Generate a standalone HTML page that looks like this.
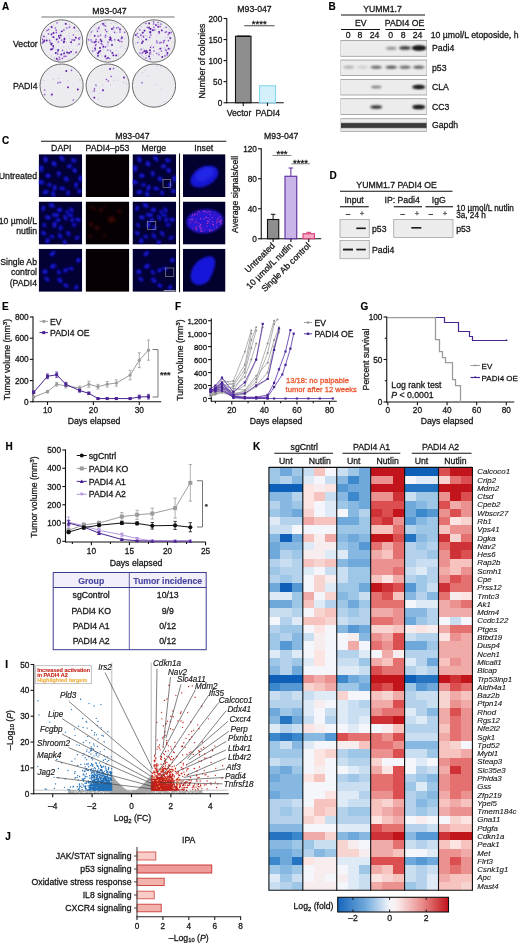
<!DOCTYPE html><html><head><meta charset="utf-8"><title>Figure</title><style>html,body{margin:0;padding:0;background:#fff}svg{display:block}text{font-family:"Liberation Sans",sans-serif}</style></head><body><svg width="520" height="943" viewBox="0 0 520 943"><rect width="520" height="943" fill="#fff"/><defs><filter id="b1" x="-30%" y="-100%" width="160%" height="300%"><feGaussianBlur stdDeviation="0.9"/></filter><filter id="b2" x="-30%" y="-100%" width="160%" height="300%"><feGaussianBlur stdDeviation="0.6"/></filter><filter id="bn" x="-50%" y="-50%" width="200%" height="200%"><feGaussianBlur stdDeviation="0.8"/></filter><filter id="bi" x="-50%" y="-50%" width="200%" height="200%"><feGaussianBlur stdDeviation="1.6"/></filter><filter id="b3" x="-20%" y="-100%" width="140%" height="300%"><feGaussianBlur stdDeviation="0.4"/></filter></defs>
<text x="2.00" y="9.60" font-size="10" font-weight="bold" fill="#000" stroke="#000" stroke-width="0.15">A</text>
<text x="109.50" y="14.00" font-size="8.7" text-anchor="middle" fill="#161616" stroke="#161616" stroke-width="0.28">M93-047</text>
<line x1="41.50" y1="17.00" x2="174.50" y2="17.00" stroke="#777" stroke-width="1.2"/>
<text x="13.00" y="47.30" font-size="8.7" fill="#161616" stroke="#161616" stroke-width="0.28">Vector</text>
<text x="13.00" y="88.80" font-size="8.7" fill="#161616" stroke="#161616" stroke-width="0.28">PADI4</text>
<circle cx="61.60" cy="41.00" r="21.20" fill="#ebebf0" stroke="#6a6a6a" stroke-width="1.0"/>
<path d="M73.5,54.3h.01M59.9,31.9h.01M69.2,28.7h.01M69.2,58.8h.01M69.7,48.7h.01M46.1,31.5h.01M68.3,53.7h.01M77.3,45.4h.01M42.4,40.7h.01M63.0,40.6h.01M69.4,24.5h.01M57.5,43.1h.01M46.7,37.3h.01M68.1,54.3h.01M66.8,24.5h.01M61.0,58.8h.01M65.4,55.6h.01M60.1,33.4h.01M51.8,36.0h.01M71.5,44.8h.01M69.2,33.4h.01M54.6,58.5h.01M64.3,38.4h.01M74.5,26.9h.01M63.8,46.9h.01M65.0,51.6h.01M53.5,25.2h.01M51.5,56.1h.01M69.2,36.2h.01M56.0,49.8h.01M46.6,29.5h.01M66.7,42.3h.01M66.3,49.3h.01M77.9,31.1h.01M68.5,46.8h.01M75.8,39.2h.01M52.6,28.3h.01M54.3,57.3h.01M54.7,33.1h.01M69.3,38.5h.01M72.5,49.7h.01M75.9,31.1h.01M70.6,26.9h.01" fill="none" stroke="#c3a6e0" stroke-width="1.0" stroke-linecap="round"/>
<path d="M61.2,54.6h.01M79.1,44.1h.01M61.7,40.1h.01M43.4,36.2h.01M63.9,53.6h.01M62.6,50.3h.01M57.1,22.8h.01M69.3,27.1h.01M62.4,58.3h.01M56.2,30.4h.01M44.5,40.1h.01M44.2,36.6h.01M42.7,39.4h.01M51.9,43.6h.01M66.7,28.0h.01M53.8,37.3h.01M50.1,42.1h.01M58.5,41.8h.01M59.3,57.2h.01M75.9,52.6h.01M55.4,28.1h.01M78.7,38.4h.01M64.2,56.4h.01M49.7,40.3h.01M66.0,56.3h.01M57.7,54.1h.01M63.9,29.9h.01M42.4,42.9h.01M47.2,30.5h.01M65.8,23.8h.01M48.7,29.6h.01M59.7,59.2h.01M73.3,35.0h.01M64.5,38.4h.01M76.4,52.1h.01M79.8,37.6h.01M72.1,39.8h.01M56.4,32.6h.01M57.9,59.9h.01M53.3,47.8h.01M57.9,51.6h.01M48.4,33.9h.01M79.1,39.3h.01M64.5,39.2h.01M51.6,27.0h.01M64.4,39.0h.01M64.2,53.3h.01M51.5,43.6h.01M46.7,40.5h.01M51.0,49.4h.01M51.5,34.3h.01M63.8,42.3h.01M61.9,31.3h.01M53.5,33.0h.01M69.2,52.9h.01M55.8,53.0h.01M52.1,49.2h.01M64.2,41.3h.01M53.2,45.9h.01M75.8,37.6h.01M74.3,27.7h.01M60.7,35.4h.01M71.1,51.8h.01M53.3,37.1h.01M65.7,23.8h.01M58.8,35.8h.01M74.2,40.1h.01M61.3,54.4h.01M59.4,37.8h.01M51.3,44.4h.01M58.2,50.0h.01M71.1,42.2h.01M56.7,39.4h.01M43.6,41.8h.01M44.3,40.8h.01M56.7,58.7h.01M67.2,52.5h.01" fill="none" stroke="#b88fe0" stroke-width="2.2" stroke-linecap="round" opacity="0.55"/>
<path d="M61.2,54.6h.01M79.1,44.1h.01M61.7,40.1h.01M43.4,36.2h.01M63.9,53.6h.01M62.6,50.3h.01M57.1,22.8h.01M69.3,27.1h.01M62.4,58.3h.01M56.2,30.4h.01M44.5,40.1h.01M44.2,36.6h.01M42.7,39.4h.01M51.9,43.6h.01M66.7,28.0h.01M53.8,37.3h.01M50.1,42.1h.01M58.5,41.8h.01M59.3,57.2h.01M75.9,52.6h.01M55.4,28.1h.01M78.7,38.4h.01M64.2,56.4h.01M49.7,40.3h.01M66.0,56.3h.01M57.7,54.1h.01M63.9,29.9h.01M42.4,42.9h.01M47.2,30.5h.01M65.8,23.8h.01M48.7,29.6h.01M59.7,59.2h.01M73.3,35.0h.01M64.5,38.4h.01M76.4,52.1h.01M79.8,37.6h.01M72.1,39.8h.01M56.4,32.6h.01M57.9,59.9h.01M53.3,47.8h.01M57.9,51.6h.01M48.4,33.9h.01M79.1,39.3h.01M64.5,39.2h.01" fill="none" stroke="#7a35c0" stroke-width="1.15" stroke-linecap="round"/>
<path d="M51.6,27.0h.01M64.4,39.0h.01M64.2,53.3h.01M51.5,43.6h.01M46.7,40.5h.01M51.0,49.4h.01M51.5,34.3h.01M63.8,42.3h.01M61.9,31.3h.01M53.5,33.0h.01M69.2,52.9h.01M55.8,53.0h.01M52.1,49.2h.01M64.2,41.3h.01M53.2,45.9h.01M75.8,37.6h.01M74.3,27.7h.01M60.7,35.4h.01M71.1,51.8h.01M53.3,37.1h.01M65.7,23.8h.01M58.8,35.8h.01M74.2,40.1h.01M61.3,54.4h.01M59.4,37.8h.01M51.3,44.4h.01M58.2,50.0h.01M71.1,42.2h.01M56.7,39.4h.01M43.6,41.8h.01M44.3,40.8h.01M56.7,58.7h.01M67.2,52.5h.01" fill="none" stroke="#5c1fa8" stroke-width="1.8" stroke-linecap="round"/>
<circle cx="107.70" cy="41.00" r="21.20" fill="#ebebf0" stroke="#6a6a6a" stroke-width="1.0"/>
<path d="M125.2,48.5h.01M94.1,36.7h.01M107.5,44.0h.01M100.1,30.7h.01M90.5,34.2h.01M120.2,47.0h.01M116.8,55.3h.01M101.6,55.9h.01M96.5,52.7h.01M92.8,30.9h.01M107.9,36.6h.01M125.0,38.9h.01M105.7,59.4h.01M118.7,54.1h.01M104.6,47.1h.01M114.2,39.3h.01M97.2,30.2h.01M100.7,25.2h.01M110.1,34.8h.01M89.4,35.7h.01M93.8,51.1h.01M92.8,30.5h.01M114.0,30.3h.01M105.8,22.7h.01M91.0,41.8h.01M97.1,29.8h.01M111.3,23.5h.01M106.2,57.3h.01M100.4,38.9h.01M88.8,40.2h.01M94.6,50.3h.01M110.0,49.5h.01M107.1,46.3h.01M107.0,33.1h.01M115.8,56.2h.01M103.3,49.0h.01M92.3,48.0h.01M120.4,38.8h.01M105.2,29.6h.01M108.7,57.4h.01M121.8,46.1h.01M108.5,44.5h.01M115.3,23.5h.01M99.9,36.7h.01M100.5,54.1h.01M111.9,40.9h.01M116.7,50.6h.01M96.8,28.3h.01M94.7,27.0h.01M107.9,45.8h.01M98.0,34.8h.01M116.9,32.4h.01M103.9,24.7h.01M107.8,31.3h.01M118.5,56.1h.01" fill="none" stroke="#c3a6e0" stroke-width="1.0" stroke-linecap="round"/>
<path d="M104.2,25.5h.01M96.0,44.5h.01M106.7,58.6h.01M95.4,49.8h.01M121.8,41.7h.01M106.6,31.6h.01M98.6,42.2h.01M107.7,50.0h.01M105.4,29.8h.01M99.0,27.3h.01M124.7,32.2h.01M102.1,44.6h.01M110.5,51.0h.01M105.5,55.7h.01M121.8,38.6h.01M118.2,27.6h.01M114.8,39.8h.01M98.0,36.2h.01M95.5,45.6h.01M92.1,41.8h.01M108.0,42.2h.01M88.5,39.7h.01M97.4,31.3h.01M119.8,41.3h.01M92.8,51.1h.01M98.6,28.6h.01M113.7,27.2h.01M91.0,39.9h.01M96.1,39.3h.01M103.7,23.9h.01M100.5,35.1h.01M120.0,32.0h.01M105.6,26.0h.01M105.5,46.9h.01M105.6,35.4h.01M109.7,58.5h.01M114.6,32.4h.01M91.4,32.0h.01M105.3,37.0h.01M109.9,37.6h.01M116.6,28.0h.01M112.8,28.7h.01M111.6,40.6h.01M101.2,43.4h.01M95.0,48.3h.01M103.3,46.7h.01M105.2,56.4h.01M121.9,37.4h.01M116.2,55.3h.01M111.9,28.9h.01M107.9,57.8h.01M112.4,52.9h.01M100.0,47.9h.01M98.9,52.0h.01M118.4,40.2h.01M94.5,42.3h.01M98.0,53.4h.01M102.9,23.8h.01M113.4,55.3h.01M100.6,39.8h.01M101.6,41.3h.01M98.0,55.8h.01M95.8,41.4h.01M120.0,29.4h.01M109.7,39.8h.01M110.7,39.0h.01M112.0,44.9h.01M94.7,35.8h.01M100.2,50.9h.01M110.4,37.4h.01" fill="none" stroke="#b88fe0" stroke-width="2.2" stroke-linecap="round" opacity="0.55"/>
<path d="M104.2,25.5h.01M96.0,44.5h.01M106.7,58.6h.01M95.4,49.8h.01M121.8,41.7h.01M106.6,31.6h.01M98.6,42.2h.01M107.7,50.0h.01M105.4,29.8h.01M99.0,27.3h.01M124.7,32.2h.01M102.1,44.6h.01M110.5,51.0h.01M105.5,55.7h.01M121.8,38.6h.01M118.2,27.6h.01M114.8,39.8h.01M98.0,36.2h.01M95.5,45.6h.01M92.1,41.8h.01M108.0,42.2h.01M88.5,39.7h.01M97.4,31.3h.01M119.8,41.3h.01M92.8,51.1h.01M98.6,28.6h.01M113.7,27.2h.01M91.0,39.9h.01M96.1,39.3h.01M103.7,23.9h.01M100.5,35.1h.01M120.0,32.0h.01M105.6,26.0h.01M105.5,46.9h.01M105.6,35.4h.01M109.7,58.5h.01M114.6,32.4h.01M91.4,32.0h.01M105.3,37.0h.01M109.9,37.6h.01M116.6,28.0h.01M112.8,28.7h.01M111.6,40.6h.01M101.2,43.4h.01" fill="none" stroke="#7a35c0" stroke-width="1.15" stroke-linecap="round"/>
<path d="M95.0,48.3h.01M103.3,46.7h.01M105.2,56.4h.01M121.9,37.4h.01M116.2,55.3h.01M111.9,28.9h.01M107.9,57.8h.01M112.4,52.9h.01M100.0,47.9h.01M98.9,52.0h.01M118.4,40.2h.01M94.5,42.3h.01M98.0,53.4h.01M102.9,23.8h.01M113.4,55.3h.01M100.6,39.8h.01M101.6,41.3h.01M98.0,55.8h.01M95.8,41.4h.01M120.0,29.4h.01M109.7,39.8h.01M110.7,39.0h.01M112.0,44.9h.01M94.7,35.8h.01M100.2,50.9h.01M110.4,37.4h.01" fill="none" stroke="#5c1fa8" stroke-width="1.8" stroke-linecap="round"/>
<circle cx="154.00" cy="41.00" r="21.20" fill="#ebebf0" stroke="#6a6a6a" stroke-width="1.0"/>
<path d="M148.2,40.1h.01M158.8,24.3h.01M170.4,39.8h.01M149.7,27.5h.01M151.6,45.5h.01M135.6,43.4h.01M171.2,37.7h.01M139.4,38.8h.01M157.4,25.1h.01M141.9,55.4h.01M143.2,48.6h.01M148.4,27.6h.01M159.0,52.4h.01M170.1,48.9h.01M141.9,54.2h.01M147.5,28.2h.01M158.9,25.2h.01M141.7,42.0h.01M161.8,48.3h.01M137.1,36.4h.01M141.4,26.4h.01M170.9,33.9h.01M169.0,29.9h.01M144.2,49.8h.01M158.7,49.7h.01M145.2,35.5h.01M153.3,54.9h.01M149.4,29.1h.01M165.7,37.4h.01M156.9,36.0h.01M143.2,56.5h.01M151.6,54.2h.01M164.8,27.6h.01M164.3,47.3h.01M150.2,54.3h.01M141.6,39.4h.01M173.3,42.0h.01M141.5,37.8h.01M167.7,37.5h.01M147.5,35.9h.01M146.6,55.3h.01M159.1,26.3h.01" fill="none" stroke="#c3a6e0" stroke-width="1.0" stroke-linecap="round"/>
<path d="M157.1,42.8h.01M149.8,52.9h.01M143.6,37.1h.01M158.0,22.5h.01M166.4,50.6h.01M160.2,26.6h.01M150.6,52.0h.01M153.9,27.3h.01M165.0,55.9h.01M159.8,42.9h.01M153.4,47.3h.01M150.1,58.9h.01M166.2,27.3h.01M163.8,40.9h.01M153.7,24.0h.01M153.6,21.9h.01M141.0,34.7h.01M141.1,49.4h.01M149.6,54.1h.01M143.2,36.3h.01M142.3,53.1h.01M137.7,42.5h.01M167.1,54.9h.01M163.6,42.6h.01M168.4,40.6h.01M165.5,49.7h.01M150.8,35.1h.01M140.0,53.1h.01M164.4,40.5h.01M165.3,32.2h.01M154.7,29.8h.01M171.1,32.4h.01M159.1,33.2h.01M158.9,54.7h.01M161.4,51.0h.01M150.6,31.6h.01M145.0,50.8h.01M161.0,24.1h.01M138.2,37.1h.01M137.4,33.5h.01M156.7,41.1h.01M149.8,37.3h.01M145.9,23.5h.01M150.5,47.4h.01M161.1,42.4h.01M168.2,34.7h.01M149.7,31.8h.01M145.8,58.0h.01M139.8,29.8h.01M147.4,27.2h.01M140.9,35.4h.01M166.4,31.8h.01M156.8,53.5h.01M154.0,51.1h.01M143.0,52.2h.01M149.2,23.4h.01M152.8,30.2h.01M159.1,31.9h.01M144.4,51.2h.01M145.7,53.1h.01M169.3,32.9h.01M146.2,39.4h.01M144.5,30.6h.01M162.3,57.0h.01M158.2,26.8h.01M161.8,30.4h.01M149.1,56.4h.01M135.8,35.1h.01M147.2,52.2h.01M146.4,50.9h.01M170.2,38.1h.01M167.4,53.0h.01M150.6,29.0h.01M149.1,27.7h.01M142.9,41.4h.01M160.3,48.6h.01M150.3,32.5h.01M142.8,32.7h.01M156.0,25.1h.01M168.6,48.7h.01M149.9,50.2h.01M167.0,45.6h.01M141.9,43.1h.01" fill="none" stroke="#b88fe0" stroke-width="2.2" stroke-linecap="round" opacity="0.55"/>
<path d="M157.1,42.8h.01M149.8,52.9h.01M143.6,37.1h.01M158.0,22.5h.01M166.4,50.6h.01M160.2,26.6h.01M150.6,52.0h.01M153.9,27.3h.01M165.0,55.9h.01M159.8,42.9h.01M153.4,47.3h.01M150.1,58.9h.01M166.2,27.3h.01M163.8,40.9h.01M153.7,24.0h.01M153.6,21.9h.01M141.0,34.7h.01M141.1,49.4h.01M149.6,54.1h.01M143.2,36.3h.01M142.3,53.1h.01M137.7,42.5h.01M167.1,54.9h.01M163.6,42.6h.01M168.4,40.6h.01M165.5,49.7h.01M150.8,35.1h.01M140.0,53.1h.01M164.4,40.5h.01M165.3,32.2h.01M154.7,29.8h.01M171.1,32.4h.01M159.1,33.2h.01M158.9,54.7h.01M161.4,51.0h.01M150.6,31.6h.01M145.0,50.8h.01M161.0,24.1h.01M138.2,37.1h.01M137.4,33.5h.01M156.7,41.1h.01M149.8,37.3h.01M145.9,23.5h.01M150.5,47.4h.01M161.1,42.4h.01M168.2,34.7h.01M149.7,31.8h.01M145.8,58.0h.01M139.8,29.8h.01M147.4,27.2h.01M140.9,35.4h.01M166.4,31.8h.01M156.8,53.5h.01M154.0,51.1h.01M143.0,52.2h.01" fill="none" stroke="#7a35c0" stroke-width="1.15" stroke-linecap="round"/>
<path d="M149.2,23.4h.01M152.8,30.2h.01M159.1,31.9h.01M144.4,51.2h.01M145.7,53.1h.01M169.3,32.9h.01M146.2,39.4h.01M144.5,30.6h.01M162.3,57.0h.01M158.2,26.8h.01M161.8,30.4h.01M149.1,56.4h.01M135.8,35.1h.01M147.2,52.2h.01M146.4,50.9h.01M170.2,38.1h.01M167.4,53.0h.01M150.6,29.0h.01M149.1,27.7h.01M142.9,41.4h.01M160.3,48.6h.01M150.3,32.5h.01M142.8,32.7h.01M156.0,25.1h.01M168.6,48.7h.01M149.9,50.2h.01M167.0,45.6h.01M141.9,43.1h.01" fill="none" stroke="#5c1fa8" stroke-width="1.8" stroke-linecap="round"/>
<circle cx="61.60" cy="85.60" r="21.60" fill="#ebebf0" stroke="#6a6a6a" stroke-width="1.0"/>
<path d="M44.1,80.6h.01M58.4,78.5h.01M67.7,80.5h.01M53.3,79.5h.01M79.7,80.0h.01M50.8,95.8h.01" fill="none" stroke="#c3a6e0" stroke-width="1.0" stroke-linecap="round"/>
<path d="M60.2,82.4h.01M73.3,100.0h.01M71.5,70.3h.01M44.7,90.0h.01M44.7,94.6h.01M58.0,82.8h.01M51.9,94.5h.01M66.3,71.0h.01M77.8,89.5h.01M68.0,87.3h.01" fill="none" stroke="#b88fe0" stroke-width="2.2" stroke-linecap="round" opacity="0.55"/>
<path d="M60.2,82.4h.01M73.3,100.0h.01M71.5,70.3h.01M44.7,90.0h.01M44.7,94.6h.01M58.0,82.8h.01" fill="none" stroke="#7a35c0" stroke-width="1.15" stroke-linecap="round"/>
<path d="M51.9,94.5h.01M66.3,71.0h.01M77.8,89.5h.01M68.0,87.3h.01" fill="none" stroke="#5c1fa8" stroke-width="1.8" stroke-linecap="round"/>
<circle cx="107.70" cy="85.60" r="21.60" fill="#ebebf0" stroke="#6a6a6a" stroke-width="1.0"/>
<path d="M126.5,83.7h.01M102.8,91.7h.01M117.3,80.0h.01M98.6,98.8h.01M100.0,93.1h.01M92.3,91.6h.01M103.0,85.0h.01M114.1,80.4h.01M96.2,86.5h.01M110.6,85.1h.01M123.5,82.6h.01" fill="none" stroke="#c3a6e0" stroke-width="1.0" stroke-linecap="round"/>
<path d="M95.9,85.0h.01M113.5,68.6h.01M111.2,76.5h.01M108.3,81.0h.01M106.4,79.5h.01M94.5,88.9h.01M94.1,90.9h.01M94.3,97.7h.01M110.1,68.9h.01M124.0,77.5h.01M103.0,90.2h.01" fill="none" stroke="#b88fe0" stroke-width="2.2" stroke-linecap="round" opacity="0.55"/>
<path d="M95.9,85.0h.01M113.5,68.6h.01M111.2,76.5h.01M108.3,81.0h.01M106.4,79.5h.01M94.5,88.9h.01M94.1,90.9h.01" fill="none" stroke="#7a35c0" stroke-width="1.15" stroke-linecap="round"/>
<path d="M94.3,97.7h.01M110.1,68.9h.01M124.0,77.5h.01M103.0,90.2h.01" fill="none" stroke="#5c1fa8" stroke-width="1.8" stroke-linecap="round"/>
<circle cx="154.00" cy="85.60" r="21.60" fill="#ebebf0" stroke="#6a6a6a" stroke-width="1.0"/>
<path d="M161.6,89.4h.01M145.2,70.3h.01M164.9,101.8h.01M156.6,84.7h.01M142.7,72.9h.01M160.5,67.1h.01M147.9,75.7h.01M157.0,66.7h.01" fill="none" stroke="#c3a6e0" stroke-width="1.0" stroke-linecap="round"/>
<path d="M142.0,82.7h.01" fill="none" stroke="#b88fe0" stroke-width="2.2" stroke-linecap="round" opacity="0.55"/>
<path d="M142.0,82.7h.01" fill="none" stroke="#7a35c0" stroke-width="1.15" stroke-linecap="round"/>
<path d="" fill="none" stroke="#5c1fa8" stroke-width="1.8" stroke-linecap="round"/>
<text x="204.60" y="61.00" font-size="8.7" text-anchor="middle" fill="#161616" stroke="#161616" stroke-width="0.28" transform="rotate(-90 204.60 61.00)">Number of colonies</text>
<text x="254.50" y="12.00" font-size="8.7" text-anchor="middle" fill="#161616" stroke="#161616" stroke-width="0.28">M93-047</text>
<line x1="226.75" y1="18.00" x2="226.75" y2="103.25" stroke="#111" stroke-width="1.1"/>
<line x1="226.25" y1="102.75" x2="283.75" y2="102.75" stroke="#111" stroke-width="1.1"/>
<line x1="223.55" y1="102.75" x2="226.75" y2="102.75" stroke="#111" stroke-width="1.1"/>
<text x="222.25" y="105.85" font-size="8.25" text-anchor="end" fill="#161616" stroke="#161616" stroke-width="0.28">0</text>
<line x1="223.55" y1="81.69" x2="226.75" y2="81.69" stroke="#111" stroke-width="1.1"/>
<text x="222.25" y="84.79" font-size="8.25" text-anchor="end" fill="#161616" stroke="#161616" stroke-width="0.28">50</text>
<line x1="223.55" y1="60.62" x2="226.75" y2="60.62" stroke="#111" stroke-width="1.1"/>
<text x="222.25" y="63.73" font-size="8.25" text-anchor="end" fill="#161616" stroke="#161616" stroke-width="0.28">100</text>
<line x1="223.55" y1="39.56" x2="226.75" y2="39.56" stroke="#111" stroke-width="1.1"/>
<text x="222.25" y="42.66" font-size="8.25" text-anchor="end" fill="#161616" stroke="#161616" stroke-width="0.28">150</text>
<line x1="223.55" y1="18.50" x2="226.75" y2="18.50" stroke="#111" stroke-width="1.1"/>
<text x="222.25" y="21.60" font-size="8.25" text-anchor="end" fill="#161616" stroke="#161616" stroke-width="0.28">200</text>
<rect x="235.50" y="36.25" width="15.50" height="66.50" fill="#8e8e8e" stroke="#111" stroke-width="1.1"/>
<line x1="237.00" y1="36.25" x2="250.00" y2="36.25" stroke="#111" stroke-width="1.4"/>
<rect x="259.50" y="85.75" width="16.00" height="17.00" fill="#d3f0fb" stroke="#86d7f0" stroke-width="1.1"/>
<line x1="243.25" y1="102.75" x2="243.25" y2="105.95" stroke="#111" stroke-width="1.1"/>
<line x1="267.50" y1="102.75" x2="267.50" y2="105.95" stroke="#111" stroke-width="1.1"/>
<text x="239.00" y="115.50" font-size="8.7" text-anchor="middle" fill="#161616" stroke="#161616" stroke-width="0.28">Vector</text>
<text x="267.75" y="115.50" font-size="8.7" text-anchor="middle" fill="#161616" stroke="#161616" stroke-width="0.28">PADI4</text>
<line x1="244.25" y1="25.75" x2="274.50" y2="25.75" stroke="#333" stroke-width="0.9"/>
<text x="259.25" y="27.00" font-size="9.5" text-anchor="middle" fill="#161616" stroke="#161616" stroke-width="0.28">****</text>
<text x="328.50" y="9.60" font-size="10" font-weight="bold" fill="#000" stroke="#000" stroke-width="0.15">B</text>
<text x="382.50" y="11.80" font-size="8.7" text-anchor="middle" fill="#161616" stroke="#161616" stroke-width="0.28">YUMM1.7</text>
<line x1="341.00" y1="15.00" x2="425.00" y2="15.00" stroke="#111" stroke-width="1.1"/>
<text x="360.75" y="25.80" font-size="8.7" text-anchor="middle" fill="#161616" stroke="#161616" stroke-width="0.28">EV</text>
<text x="404.50" y="25.80" font-size="8.7" text-anchor="middle" fill="#161616" stroke="#161616" stroke-width="0.28">PADI4 OE</text>
<line x1="341.00" y1="29.50" x2="380.00" y2="29.50" stroke="#111" stroke-width="1.1"/>
<line x1="385.50" y1="29.50" x2="425.00" y2="29.50" stroke="#111" stroke-width="1.1"/>
<text x="348.25" y="37.60" font-size="8.7" text-anchor="middle" fill="#161616" stroke="#161616" stroke-width="0.28">0</text>
<text x="360.00" y="37.60" font-size="8.7" text-anchor="middle" fill="#161616" stroke="#161616" stroke-width="0.28">8</text>
<text x="374.50" y="37.60" font-size="8.7" text-anchor="middle" fill="#161616" stroke="#161616" stroke-width="0.28">24</text>
<text x="390.75" y="37.60" font-size="8.7" text-anchor="middle" fill="#161616" stroke="#161616" stroke-width="0.28">0</text>
<text x="403.25" y="37.60" font-size="8.7" text-anchor="middle" fill="#161616" stroke="#161616" stroke-width="0.28">8</text>
<text x="417.50" y="37.60" font-size="8.7" text-anchor="middle" fill="#161616" stroke="#161616" stroke-width="0.28">24</text>
<text x="430.75" y="37.60" font-size="8.7" fill="#161616" stroke="#161616" stroke-width="0.28">10 µmol/L etoposide, h</text>
<clipPath id="cpB"><rect x="340.5" y="40" width="86.5" height="92"/></clipPath><g clip-path="url(#cpB)">
<rect x="340.50" y="40.50" width="86.50" height="15.75" fill="#ececec" stroke="#8a8a8a" stroke-width="0.7"/>
<rect x="340.50" y="60.00" width="86.50" height="15.50" fill="#ececec" stroke="#8a8a8a" stroke-width="0.7"/>
<rect x="340.50" y="79.50" width="86.50" height="15.50" fill="#ececec" stroke="#8a8a8a" stroke-width="0.7"/>
<rect x="340.50" y="98.75" width="86.50" height="15.75" fill="#ececec" stroke="#8a8a8a" stroke-width="0.7"/>
<rect x="340.50" y="118.75" width="86.50" height="12.50" fill="#ececec" stroke="#8a8a8a" stroke-width="0.7"/>
<ellipse cx="391.25" cy="48.20" rx="5.25" ry="1.50" fill="#1c1c1c" opacity="0.45" filter="url(#b1)"/>
<ellipse cx="405.00" cy="47.90" rx="6.00" ry="1.80" fill="#1c1c1c" opacity="0.85" filter="url(#b1)"/>
<ellipse cx="419.05" cy="47.90" rx="7.25" ry="2.50" fill="#1c1c1c" opacity="1.0" filter="url(#b1)"/>
<ellipse cx="419.05" cy="47.90" rx="6.25" ry="1.75" fill="#1c1c1c" opacity="1.0" filter="url(#b1)"/>
<ellipse cx="348.75" cy="67.20" rx="5.75" ry="1.40" fill="#1c1c1c" opacity="0.3" filter="url(#b1)"/>
<ellipse cx="362.50" cy="67.20" rx="5.75" ry="1.40" fill="#1c1c1c" opacity="0.15" filter="url(#b1)"/>
<ellipse cx="376.25" cy="67.20" rx="5.75" ry="1.40" fill="#1c1c1c" opacity="0.7" filter="url(#b1)"/>
<ellipse cx="391.25" cy="67.20" rx="5.75" ry="1.40" fill="#1c1c1c" opacity="0.8" filter="url(#b1)"/>
<ellipse cx="405.00" cy="67.20" rx="5.75" ry="1.40" fill="#1c1c1c" opacity="0.7" filter="url(#b1)"/>
<ellipse cx="418.75" cy="67.20" rx="5.75" ry="1.40" fill="#1c1c1c" opacity="0.75" filter="url(#b1)"/>
<ellipse cx="376.25" cy="87.00" rx="5.25" ry="1.30" fill="#1c1c1c" opacity="0.55" filter="url(#b1)"/>
<ellipse cx="418.75" cy="87.00" rx="6.50" ry="1.90" fill="#1c1c1c" opacity="1.0" filter="url(#b1)"/>
<ellipse cx="418.75" cy="87.00" rx="5.50" ry="1.25" fill="#1c1c1c" opacity="0.9" filter="url(#b1)"/>
<ellipse cx="376.25" cy="107.00" rx="6.00" ry="1.70" fill="#1c1c1c" opacity="0.9" filter="url(#b1)"/>
<ellipse cx="418.75" cy="107.00" rx="6.50" ry="2.00" fill="#1c1c1c" opacity="1.0" filter="url(#b1)"/>
<ellipse cx="418.75" cy="107.00" rx="5.50" ry="1.30" fill="#1c1c1c" opacity="0.9" filter="url(#b1)"/>
<rect x="341" y="123.1" width="85.5" height="4.8" fill="#222" opacity="0.95" filter="url(#b2)"/>
<rect x="341" y="121.9" width="85.5" height="7.2" fill="#666" opacity="0.25" filter="url(#b2)"/>
</g>
<text x="432.00" y="51.48" font-size="8.7" fill="#161616" stroke="#161616" stroke-width="0.28">Padi4</text>
<text x="432.00" y="70.85" font-size="8.7" fill="#161616" stroke="#161616" stroke-width="0.28">p53</text>
<text x="432.00" y="90.35" font-size="8.7" fill="#161616" stroke="#161616" stroke-width="0.28">CLA</text>
<text x="432.00" y="109.72" font-size="8.7" fill="#161616" stroke="#161616" stroke-width="0.28">CC3</text>
<text x="432.00" y="128.10" font-size="8.7" fill="#161616" stroke="#161616" stroke-width="0.28">Gapdh</text>
<text x="2.00" y="143.60" font-size="10" font-weight="bold" fill="#000" stroke="#000" stroke-width="0.15">C</text>
<text x="132.40" y="139.20" font-size="8.7" text-anchor="middle" fill="#161616" stroke="#161616" stroke-width="0.28">M93-047</text>
<line x1="41.00" y1="141.30" x2="226.30" y2="141.30" stroke="#111" stroke-width="1.1"/>
<text x="61.25" y="151.20" font-size="8.7" text-anchor="middle" fill="#161616" stroke="#161616" stroke-width="0.28">DAPI</text>
<text x="107.40" y="151.20" font-size="8.7" text-anchor="middle" fill="#161616" stroke="#161616" stroke-width="0.28">PADI4–p53</text>
<text x="153.75" y="151.20" font-size="8.7" text-anchor="middle" fill="#161616" stroke="#161616" stroke-width="0.28">Merge</text>
<text x="203.75" y="151.20" font-size="8.7" text-anchor="middle" fill="#161616" stroke="#161616" stroke-width="0.28">Inset</text>
<text x="37.00" y="179.00" font-size="8.7" text-anchor="end" fill="#161616" stroke="#161616" stroke-width="0.28">Untreated</text>
<text x="37.00" y="224.00" font-size="8.7" text-anchor="end" fill="#161616" stroke="#161616" stroke-width="0.28">10 µmol/L</text>
<text x="37.00" y="234.40" font-size="8.7" text-anchor="end" fill="#161616" stroke="#161616" stroke-width="0.28">nutlin</text>
<text x="37.00" y="265.00" font-size="8.7" text-anchor="end" fill="#161616" stroke="#161616" stroke-width="0.28">Single Ab</text>
<text x="37.00" y="275.40" font-size="8.7" text-anchor="end" fill="#161616" stroke="#161616" stroke-width="0.28">control</text>
<text x="37.00" y="285.60" font-size="8.7" text-anchor="end" fill="#161616" stroke="#161616" stroke-width="0.28">(PADI4</text>
<line x1="179.50" y1="153.50" x2="179.50" y2="292.20" stroke="#111" stroke-width="1.1"/>
<clipPath id="cc1"><rect x="38.7" y="154.2" width="43.50" height="42.90"/></clipPath><g clip-path="url(#cc1)">
<rect x="38.70" y="154.20" width="43.50" height="42.90" fill="#030034"/>
<ellipse cx="45.6" cy="159.4" rx="3.3" ry="2.0" fill="#1818d8" opacity="0.9" transform="rotate(76 45.6 159.4)" filter="url(#bn)"/>
<ellipse cx="54.3" cy="163.8" rx="2.8" ry="2.0" fill="#1818d8" opacity="0.9" transform="rotate(55 54.3 163.8)" filter="url(#bn)"/>
<ellipse cx="62.3" cy="158.7" rx="3.4" ry="1.8" fill="#1818d8" opacity="0.9" transform="rotate(51 62.3 158.7)" filter="url(#bn)"/>
<ellipse cx="74.1" cy="160.6" rx="2.6" ry="2.1" fill="#1818d8" opacity="0.9" transform="rotate(177 74.1 160.6)" filter="url(#bn)"/>
<ellipse cx="47.8" cy="175.6" rx="2.7" ry="2.0" fill="#1818d8" opacity="0.9" transform="rotate(162 47.8 175.6)" filter="url(#bn)"/>
<ellipse cx="59.1" cy="174.4" rx="2.5" ry="1.7" fill="#1818d8" opacity="0.9" transform="rotate(110 59.1 174.4)" filter="url(#bn)"/>
<ellipse cx="66.3" cy="179.2" rx="2.9" ry="2.1" fill="#1818d8" opacity="0.9" transform="rotate(47 66.3 179.2)" filter="url(#bn)"/>
<ellipse cx="75.0" cy="170.4" rx="2.4" ry="2.0" fill="#1818d8" opacity="0.9" transform="rotate(72 75.0 170.4)" filter="url(#bn)"/>
<ellipse cx="49.1" cy="184.7" rx="2.3" ry="1.7" fill="#1818d8" opacity="0.9" transform="rotate(156 49.1 184.7)" filter="url(#bn)"/>
<ellipse cx="54.7" cy="188.2" rx="3.4" ry="1.5" fill="#1818d8" opacity="0.9" transform="rotate(102 54.7 188.2)" filter="url(#bn)"/>
<ellipse cx="62.3" cy="188.5" rx="3.3" ry="1.7" fill="#1818d8" opacity="0.9" transform="rotate(14 62.3 188.5)" filter="url(#bn)"/>
<ellipse cx="76.1" cy="185.2" rx="3.4" ry="1.4" fill="#1818d8" opacity="0.9" transform="rotate(99 76.1 185.2)" filter="url(#bn)"/>
<ellipse cx="45.4" cy="192.1" rx="3.3" ry="1.8" fill="#1818d8" opacity="0.9" transform="rotate(173 45.4 192.1)" filter="url(#bn)"/>
<ellipse cx="53.2" cy="193.7" rx="2.9" ry="1.8" fill="#1818d8" opacity="0.9" transform="rotate(69 53.2 193.7)" filter="url(#bn)"/>
<ellipse cx="68.6" cy="193.2" rx="2.6" ry="1.5" fill="#1818d8" opacity="0.9" transform="rotate(110 68.6 193.2)" filter="url(#bn)"/>
<ellipse cx="79.6" cy="191.3" rx="2.4" ry="2.0" fill="#1818d8" opacity="0.9" transform="rotate(158 79.6 191.3)" filter="url(#bn)"/>
<ellipse cx="41.5" cy="168.8" rx="3.4" ry="2.1" fill="#1818d8" opacity="0.9" transform="rotate(97 41.5 168.8)" filter="url(#bn)"/>
<ellipse cx="69.9" cy="166.4" rx="2.7" ry="2.0" fill="#1818d8" opacity="0.9" transform="rotate(153 69.9 166.4)" filter="url(#bn)"/>
<ellipse cx="80.3" cy="178.8" rx="3.5" ry="1.8" fill="#1818d8" opacity="0.9" transform="rotate(81 80.3 178.8)" filter="url(#bn)"/>
<ellipse cx="41.1" cy="182.1" rx="3.4" ry="2.0" fill="#1818d8" opacity="0.9" transform="rotate(15 41.1 182.1)" filter="url(#bn)"/>
<ellipse cx="46.5" cy="159.8" rx="1.5" ry="1.1" fill="#2222ee" opacity="0.8" transform="rotate(139 46.5 159.8)" filter="url(#bn)"/>
<ellipse cx="53.5" cy="163.5" rx="1.8" ry="1.2" fill="#2222ee" opacity="0.8" transform="rotate(96 53.5 163.5)" filter="url(#bn)"/>
<ellipse cx="61.4" cy="158.1" rx="1.5" ry="1.3" fill="#2222ee" opacity="0.8" transform="rotate(170 61.4 158.1)" filter="url(#bn)"/>
<ellipse cx="72.9" cy="159.5" rx="2.0" ry="0.9" fill="#2222ee" opacity="0.8" transform="rotate(32 72.9 159.5)" filter="url(#bn)"/>
<ellipse cx="48.3" cy="175.8" rx="1.9" ry="1.3" fill="#2222ee" opacity="0.8" transform="rotate(38 48.3 175.8)" filter="url(#bn)"/>
<ellipse cx="58.6" cy="172.8" rx="2.1" ry="1.3" fill="#2222ee" opacity="0.8" transform="rotate(29 58.6 172.8)" filter="url(#bn)"/>
<ellipse cx="65.8" cy="178.5" rx="1.4" ry="1.0" fill="#2222ee" opacity="0.8" transform="rotate(139 65.8 178.5)" filter="url(#bn)"/>
<ellipse cx="74.3" cy="170.3" rx="2.0" ry="1.3" fill="#2222ee" opacity="0.8" transform="rotate(43 74.3 170.3)" filter="url(#bn)"/>
<ellipse cx="50.5" cy="185.3" rx="2.1" ry="0.9" fill="#2222ee" opacity="0.8" transform="rotate(100 50.5 185.3)" filter="url(#bn)"/>
<ellipse cx="54.8" cy="187.4" rx="2.0" ry="1.2" fill="#2222ee" opacity="0.8" transform="rotate(91 54.8 187.4)" filter="url(#bn)"/>
<ellipse cx="62.4" cy="188.5" rx="1.8" ry="1.0" fill="#2222ee" opacity="0.8" transform="rotate(154 62.4 188.5)" filter="url(#bn)"/>
<ellipse cx="76.0" cy="184.6" rx="2.0" ry="1.3" fill="#2222ee" opacity="0.8" transform="rotate(160 76.0 184.6)" filter="url(#bn)"/>
<ellipse cx="45.8" cy="192.0" rx="2.1" ry="1.3" fill="#2222ee" opacity="0.8" transform="rotate(129 45.8 192.0)" filter="url(#bn)"/>
<ellipse cx="53.4" cy="194.8" rx="1.8" ry="1.1" fill="#2222ee" opacity="0.8" transform="rotate(26 53.4 194.8)" filter="url(#bn)"/>
<ellipse cx="67.5" cy="192.3" rx="1.6" ry="1.2" fill="#2222ee" opacity="0.8" transform="rotate(127 67.5 192.3)" filter="url(#bn)"/>
<ellipse cx="79.0" cy="191.0" rx="1.9" ry="0.9" fill="#2222ee" opacity="0.8" transform="rotate(56 79.0 191.0)" filter="url(#bn)"/>
<ellipse cx="40.8" cy="167.6" rx="2.0" ry="1.1" fill="#2222ee" opacity="0.8" transform="rotate(60 40.8 167.6)" filter="url(#bn)"/>
<ellipse cx="68.6" cy="166.0" rx="1.6" ry="1.1" fill="#2222ee" opacity="0.8" transform="rotate(130 68.6 166.0)" filter="url(#bn)"/>
<ellipse cx="80.3" cy="178.1" rx="2.1" ry="1.0" fill="#2222ee" opacity="0.8" transform="rotate(128 80.3 178.1)" filter="url(#bn)"/>
<ellipse cx="40.2" cy="182.7" rx="1.8" ry="1.1" fill="#2222ee" opacity="0.8" transform="rotate(126 40.2 182.7)" filter="url(#bn)"/>
</g>
<clipPath id="cc2"><rect x="85.6" y="154.2" width="43.70" height="42.90"/></clipPath><g clip-path="url(#cc2)">
<rect x="85.60" y="154.20" width="43.70" height="42.90" fill="#060004"/>
</g>
<clipPath id="cc3"><rect x="132.5" y="154.2" width="43.70" height="42.90"/></clipPath><g clip-path="url(#cc3)">
<rect x="132.50" y="154.20" width="43.70" height="42.90" fill="#030034"/>
<ellipse cx="139.4" cy="159.4" rx="3.3" ry="2.0" fill="#1818d8" opacity="0.9" transform="rotate(76 139.4 159.4)" filter="url(#bn)"/>
<ellipse cx="148.2" cy="163.8" rx="2.8" ry="2.0" fill="#1818d8" opacity="0.9" transform="rotate(55 148.2 163.8)" filter="url(#bn)"/>
<ellipse cx="156.2" cy="158.7" rx="3.4" ry="1.8" fill="#1818d8" opacity="0.9" transform="rotate(51 156.2 158.7)" filter="url(#bn)"/>
<ellipse cx="168.1" cy="160.6" rx="2.6" ry="2.1" fill="#1818d8" opacity="0.9" transform="rotate(177 168.1 160.6)" filter="url(#bn)"/>
<ellipse cx="141.6" cy="175.6" rx="2.7" ry="2.0" fill="#1818d8" opacity="0.9" transform="rotate(162 141.6 175.6)" filter="url(#bn)"/>
<ellipse cx="153.0" cy="174.4" rx="2.5" ry="1.7" fill="#1818d8" opacity="0.9" transform="rotate(110 153.0 174.4)" filter="url(#bn)"/>
<ellipse cx="160.2" cy="179.2" rx="2.9" ry="2.1" fill="#1818d8" opacity="0.9" transform="rotate(47 160.2 179.2)" filter="url(#bn)"/>
<ellipse cx="169.0" cy="170.4" rx="2.4" ry="2.0" fill="#1818d8" opacity="0.9" transform="rotate(72 169.0 170.4)" filter="url(#bn)"/>
<ellipse cx="142.9" cy="184.7" rx="2.3" ry="1.7" fill="#1818d8" opacity="0.9" transform="rotate(156 142.9 184.7)" filter="url(#bn)"/>
<ellipse cx="148.6" cy="188.2" rx="3.4" ry="1.5" fill="#1818d8" opacity="0.9" transform="rotate(102 148.6 188.2)" filter="url(#bn)"/>
<ellipse cx="156.2" cy="188.5" rx="3.3" ry="1.7" fill="#1818d8" opacity="0.9" transform="rotate(14 156.2 188.5)" filter="url(#bn)"/>
<ellipse cx="170.1" cy="185.2" rx="3.4" ry="1.4" fill="#1818d8" opacity="0.9" transform="rotate(99 170.1 185.2)" filter="url(#bn)"/>
<ellipse cx="139.3" cy="192.1" rx="3.3" ry="1.8" fill="#1818d8" opacity="0.9" transform="rotate(173 139.3 192.1)" filter="url(#bn)"/>
<ellipse cx="147.1" cy="193.7" rx="2.9" ry="1.8" fill="#1818d8" opacity="0.9" transform="rotate(69 147.1 193.7)" filter="url(#bn)"/>
<ellipse cx="162.5" cy="193.2" rx="2.6" ry="1.5" fill="#1818d8" opacity="0.9" transform="rotate(110 162.5 193.2)" filter="url(#bn)"/>
<ellipse cx="173.6" cy="191.3" rx="2.4" ry="2.0" fill="#1818d8" opacity="0.9" transform="rotate(158 173.6 191.3)" filter="url(#bn)"/>
<ellipse cx="135.3" cy="168.8" rx="3.4" ry="2.1" fill="#1818d8" opacity="0.9" transform="rotate(97 135.3 168.8)" filter="url(#bn)"/>
<ellipse cx="163.9" cy="166.4" rx="2.7" ry="2.0" fill="#1818d8" opacity="0.9" transform="rotate(153 163.9 166.4)" filter="url(#bn)"/>
<ellipse cx="174.3" cy="178.8" rx="3.5" ry="1.8" fill="#1818d8" opacity="0.9" transform="rotate(81 174.3 178.8)" filter="url(#bn)"/>
<ellipse cx="134.9" cy="182.1" rx="3.4" ry="2.0" fill="#1818d8" opacity="0.9" transform="rotate(15 134.9 182.1)" filter="url(#bn)"/>
<ellipse cx="140.3" cy="159.8" rx="1.5" ry="1.1" fill="#2222ee" opacity="0.8" transform="rotate(139 140.3 159.8)" filter="url(#bn)"/>
<ellipse cx="147.4" cy="163.5" rx="1.8" ry="1.2" fill="#2222ee" opacity="0.8" transform="rotate(96 147.4 163.5)" filter="url(#bn)"/>
<ellipse cx="155.3" cy="158.1" rx="1.5" ry="1.3" fill="#2222ee" opacity="0.8" transform="rotate(170 155.3 158.1)" filter="url(#bn)"/>
<ellipse cx="166.8" cy="159.5" rx="2.0" ry="0.9" fill="#2222ee" opacity="0.8" transform="rotate(32 166.8 159.5)" filter="url(#bn)"/>
<ellipse cx="142.2" cy="175.8" rx="1.9" ry="1.3" fill="#2222ee" opacity="0.8" transform="rotate(38 142.2 175.8)" filter="url(#bn)"/>
<ellipse cx="152.5" cy="172.8" rx="2.1" ry="1.3" fill="#2222ee" opacity="0.8" transform="rotate(29 152.5 172.8)" filter="url(#bn)"/>
<ellipse cx="159.7" cy="178.5" rx="1.4" ry="1.0" fill="#2222ee" opacity="0.8" transform="rotate(139 159.7 178.5)" filter="url(#bn)"/>
<ellipse cx="168.2" cy="170.3" rx="2.0" ry="1.3" fill="#2222ee" opacity="0.8" transform="rotate(43 168.2 170.3)" filter="url(#bn)"/>
<ellipse cx="144.4" cy="185.3" rx="2.1" ry="0.9" fill="#2222ee" opacity="0.8" transform="rotate(100 144.4 185.3)" filter="url(#bn)"/>
<ellipse cx="148.7" cy="187.4" rx="2.0" ry="1.2" fill="#2222ee" opacity="0.8" transform="rotate(91 148.7 187.4)" filter="url(#bn)"/>
<ellipse cx="156.3" cy="188.5" rx="1.8" ry="1.0" fill="#2222ee" opacity="0.8" transform="rotate(154 156.3 188.5)" filter="url(#bn)"/>
<ellipse cx="169.9" cy="184.6" rx="2.0" ry="1.3" fill="#2222ee" opacity="0.8" transform="rotate(160 169.9 184.6)" filter="url(#bn)"/>
<ellipse cx="139.6" cy="192.0" rx="2.1" ry="1.3" fill="#2222ee" opacity="0.8" transform="rotate(129 139.6 192.0)" filter="url(#bn)"/>
<ellipse cx="147.3" cy="194.8" rx="1.8" ry="1.1" fill="#2222ee" opacity="0.8" transform="rotate(26 147.3 194.8)" filter="url(#bn)"/>
<ellipse cx="161.5" cy="192.3" rx="1.6" ry="1.2" fill="#2222ee" opacity="0.8" transform="rotate(127 161.5 192.3)" filter="url(#bn)"/>
<ellipse cx="172.9" cy="191.0" rx="1.9" ry="0.9" fill="#2222ee" opacity="0.8" transform="rotate(56 172.9 191.0)" filter="url(#bn)"/>
<ellipse cx="134.6" cy="167.6" rx="2.0" ry="1.1" fill="#2222ee" opacity="0.8" transform="rotate(60 134.6 167.6)" filter="url(#bn)"/>
<ellipse cx="162.5" cy="166.0" rx="1.6" ry="1.1" fill="#2222ee" opacity="0.8" transform="rotate(130 162.5 166.0)" filter="url(#bn)"/>
<ellipse cx="174.3" cy="178.1" rx="2.1" ry="1.0" fill="#2222ee" opacity="0.8" transform="rotate(128 174.3 178.1)" filter="url(#bn)"/>
<ellipse cx="134.0" cy="182.7" rx="1.8" ry="1.1" fill="#2222ee" opacity="0.8" transform="rotate(126 134.0 182.7)" filter="url(#bn)"/>
</g>
<clipPath id="cc4"><rect x="183" y="154.2" width="42.50" height="42.90"/></clipPath><g clip-path="url(#cc4)">
<rect x="183.00" y="154.20" width="42.50" height="42.90" fill="#02002c"/>
<ellipse cx="203.8" cy="176.6" rx="15" ry="9.5" fill="#1616d6" transform="rotate(-28 204.2 175.6)" filter="url(#bn)"/>
<ellipse cx="205.2" cy="174.6" rx="10" ry="6" fill="#2226e6" transform="rotate(-28 204.2 175.6)" filter="url(#bi)"/>
</g>
<clipPath id="cc5"><rect x="38.7" y="201.5" width="43.50" height="43.10"/></clipPath><g clip-path="url(#cc5)">
<rect x="38.70" y="201.50" width="43.50" height="43.10" fill="#030034"/>
<ellipse cx="43.3" cy="208.6" rx="3.0" ry="1.7" fill="#1818d8" opacity="0.9" transform="rotate(104 43.3 208.6)" filter="url(#bn)"/>
<ellipse cx="51.8" cy="205.5" rx="3.3" ry="1.9" fill="#1818d8" opacity="0.9" transform="rotate(29 51.8 205.5)" filter="url(#bn)"/>
<ellipse cx="59.5" cy="210.0" rx="2.6" ry="2.2" fill="#1818d8" opacity="0.9" transform="rotate(179 59.5 210.0)" filter="url(#bn)"/>
<ellipse cx="71.7" cy="210.0" rx="3.0" ry="1.6" fill="#1818d8" opacity="0.9" transform="rotate(51 71.7 210.0)" filter="url(#bn)"/>
<ellipse cx="47.9" cy="217.5" rx="3.1" ry="1.9" fill="#1818d8" opacity="0.9" transform="rotate(24 47.9 217.5)" filter="url(#bn)"/>
<ellipse cx="55.1" cy="215.0" rx="3.5" ry="1.9" fill="#1818d8" opacity="0.9" transform="rotate(8 55.1 215.0)" filter="url(#bn)"/>
<ellipse cx="65.6" cy="217.5" rx="3.4" ry="1.6" fill="#1818d8" opacity="0.9" transform="rotate(66 65.6 217.5)" filter="url(#bn)"/>
<ellipse cx="70.2" cy="215.1" rx="3.0" ry="1.7" fill="#1818d8" opacity="0.9" transform="rotate(12 70.2 215.1)" filter="url(#bn)"/>
<ellipse cx="44.3" cy="225.2" rx="2.5" ry="1.5" fill="#1818d8" opacity="0.9" transform="rotate(74 44.3 225.2)" filter="url(#bn)"/>
<ellipse cx="54.6" cy="224.5" rx="3.3" ry="1.9" fill="#1818d8" opacity="0.9" transform="rotate(96 54.6 224.5)" filter="url(#bn)"/>
<ellipse cx="60.5" cy="227.9" rx="3.0" ry="1.6" fill="#1818d8" opacity="0.9" transform="rotate(108 60.5 227.9)" filter="url(#bn)"/>
<ellipse cx="74.4" cy="225.1" rx="2.5" ry="1.5" fill="#1818d8" opacity="0.9" transform="rotate(145 74.4 225.1)" filter="url(#bn)"/>
<ellipse cx="43.3" cy="233.2" rx="2.8" ry="1.5" fill="#1818d8" opacity="0.9" transform="rotate(49 43.3 233.2)" filter="url(#bn)"/>
<ellipse cx="52.0" cy="236.6" rx="2.5" ry="1.7" fill="#1818d8" opacity="0.9" transform="rotate(30 52.0 236.6)" filter="url(#bn)"/>
<ellipse cx="60.3" cy="235.9" rx="3.2" ry="1.7" fill="#1818d8" opacity="0.9" transform="rotate(63 60.3 235.9)" filter="url(#bn)"/>
<ellipse cx="68.3" cy="233.7" rx="3.2" ry="1.6" fill="#1818d8" opacity="0.9" transform="rotate(57 68.3 233.7)" filter="url(#bn)"/>
<ellipse cx="77.3" cy="237.6" rx="3.0" ry="1.7" fill="#1818d8" opacity="0.9" transform="rotate(157 77.3 237.6)" filter="url(#bn)"/>
<ellipse cx="47.6" cy="240.7" rx="3.0" ry="2.1" fill="#1818d8" opacity="0.9" transform="rotate(94 47.6 240.7)" filter="url(#bn)"/>
<ellipse cx="64.6" cy="242.6" rx="2.9" ry="1.7" fill="#1818d8" opacity="0.9" transform="rotate(72 64.6 242.6)" filter="url(#bn)"/>
<ellipse cx="77.7" cy="219.7" rx="3.0" ry="1.7" fill="#1818d8" opacity="0.9" transform="rotate(30 77.7 219.7)" filter="url(#bn)"/>
<ellipse cx="58.3" cy="220.0" rx="2.8" ry="1.3" fill="#1818d8" opacity="0.9" transform="rotate(1 58.3 220.0)" filter="url(#bn)"/>
<ellipse cx="68.0" cy="212.2" rx="2.4" ry="1.4" fill="#1818d8" opacity="0.9" transform="rotate(82 68.0 212.2)" filter="url(#bn)"/>
<ellipse cx="72.5" cy="220.1" rx="2.9" ry="1.7" fill="#1818d8" opacity="0.9" transform="rotate(90 72.5 220.1)" filter="url(#bn)"/>
<ellipse cx="43.4" cy="207.9" rx="2.1" ry="1.0" fill="#2222ee" opacity="0.8" transform="rotate(148 43.4 207.9)" filter="url(#bn)"/>
<ellipse cx="51.6" cy="205.4" rx="1.6" ry="1.1" fill="#2222ee" opacity="0.8" transform="rotate(13 51.6 205.4)" filter="url(#bn)"/>
<ellipse cx="59.8" cy="209.5" rx="1.5" ry="1.3" fill="#2222ee" opacity="0.8" transform="rotate(164 59.8 209.5)" filter="url(#bn)"/>
<ellipse cx="71.6" cy="209.7" rx="1.8" ry="1.0" fill="#2222ee" opacity="0.8" transform="rotate(106 71.6 209.7)" filter="url(#bn)"/>
<ellipse cx="48.3" cy="217.1" rx="1.7" ry="1.1" fill="#2222ee" opacity="0.8" transform="rotate(179 48.3 217.1)" filter="url(#bn)"/>
<ellipse cx="56.9" cy="215.1" rx="1.8" ry="1.3" fill="#2222ee" opacity="0.8" transform="rotate(176 56.9 215.1)" filter="url(#bn)"/>
<ellipse cx="65.5" cy="217.9" rx="1.7" ry="0.9" fill="#2222ee" opacity="0.8" transform="rotate(81 65.5 217.9)" filter="url(#bn)"/>
<ellipse cx="70.7" cy="215.3" rx="1.7" ry="0.9" fill="#2222ee" opacity="0.8" transform="rotate(25 70.7 215.3)" filter="url(#bn)"/>
<ellipse cx="44.5" cy="225.1" rx="2.1" ry="0.8" fill="#2222ee" opacity="0.8" transform="rotate(48 44.5 225.1)" filter="url(#bn)"/>
<ellipse cx="54.2" cy="225.2" rx="1.6" ry="1.1" fill="#2222ee" opacity="0.8" transform="rotate(81 54.2 225.2)" filter="url(#bn)"/>
<ellipse cx="61.2" cy="228.1" rx="1.8" ry="0.8" fill="#2222ee" opacity="0.8" transform="rotate(170 61.2 228.1)" filter="url(#bn)"/>
<ellipse cx="73.5" cy="224.5" rx="1.7" ry="0.9" fill="#2222ee" opacity="0.8" transform="rotate(178 73.5 224.5)" filter="url(#bn)"/>
<ellipse cx="44.0" cy="233.1" rx="2.1" ry="1.3" fill="#2222ee" opacity="0.8" transform="rotate(20 44.0 233.1)" filter="url(#bn)"/>
<ellipse cx="52.0" cy="236.1" rx="1.5" ry="0.9" fill="#2222ee" opacity="0.8" transform="rotate(158 52.0 236.1)" filter="url(#bn)"/>
<ellipse cx="59.6" cy="236.3" rx="1.9" ry="1.0" fill="#2222ee" opacity="0.8" transform="rotate(11 59.6 236.3)" filter="url(#bn)"/>
<ellipse cx="68.6" cy="232.8" rx="1.9" ry="0.8" fill="#2222ee" opacity="0.8" transform="rotate(8 68.6 232.8)" filter="url(#bn)"/>
<ellipse cx="76.6" cy="238.8" rx="1.5" ry="0.9" fill="#2222ee" opacity="0.8" transform="rotate(22 76.6 238.8)" filter="url(#bn)"/>
<ellipse cx="47.1" cy="241.5" rx="1.9" ry="0.8" fill="#2222ee" opacity="0.8" transform="rotate(13 47.1 241.5)" filter="url(#bn)"/>
<ellipse cx="65.1" cy="241.9" rx="1.8" ry="1.1" fill="#2222ee" opacity="0.8" transform="rotate(130 65.1 241.9)" filter="url(#bn)"/>
<ellipse cx="78.7" cy="219.6" rx="1.6" ry="1.4" fill="#2222ee" opacity="0.8" transform="rotate(94 78.7 219.6)" filter="url(#bn)"/>
<ellipse cx="57.9" cy="220.3" rx="2.0" ry="1.2" fill="#2222ee" opacity="0.8" transform="rotate(133 57.9 220.3)" filter="url(#bn)"/>
<ellipse cx="66.2" cy="211.6" rx="1.7" ry="0.9" fill="#2222ee" opacity="0.8" transform="rotate(33 66.2 211.6)" filter="url(#bn)"/>
<ellipse cx="71.7" cy="220.0" rx="1.5" ry="0.9" fill="#2222ee" opacity="0.8" transform="rotate(132 71.7 220.0)" filter="url(#bn)"/>
</g>
<clipPath id="cc6"><rect x="85.6" y="201.5" width="43.70" height="43.10"/></clipPath><g clip-path="url(#cc6)">
<rect x="85.60" y="201.50" width="43.70" height="43.10" fill="#060004"/>
<circle cx="100.8" cy="210.1" r="2.3" fill="#8a1a10" opacity="0.26" filter="url(#bn)"/>
<circle cx="91.3" cy="224.4" r="2.0" fill="#8a1a10" opacity="0.26" filter="url(#bn)"/>
<circle cx="90.8" cy="223.3" r="1.5" fill="#8a1a10" opacity="0.26" filter="url(#bn)"/>
<circle cx="104.9" cy="207.1" r="1.6" fill="#8a1a10" opacity="0.26" filter="url(#bn)"/>
<circle cx="104.6" cy="235.2" r="1.7" fill="#8a1a10" opacity="0.26" filter="url(#bn)"/>
<circle cx="97.0" cy="227.8" r="2.7" fill="#8a1a10" opacity="0.26" filter="url(#bn)"/>
<circle cx="110.4" cy="219.2" r="2.8" fill="#8a1a10" opacity="0.26" filter="url(#bn)"/>
<circle cx="90.4" cy="236.3" r="1.9" fill="#8a1a10" opacity="0.26" filter="url(#bn)"/>
<circle cx="94.0" cy="208.9" r="1.9" fill="#8a1a10" opacity="0.26" filter="url(#bn)"/>
<circle cx="119.4" cy="211.2" r="2.3" fill="#8a1a10" opacity="0.26" filter="url(#bn)"/>
<circle cx="112.7" cy="218.3" r="2.2" fill="#8a1a10" opacity="0.26" filter="url(#bn)"/>
<circle cx="91.0" cy="206.7" r="1.8" fill="#8a1a10" opacity="0.26" filter="url(#bn)"/>
<circle cx="114.3" cy="220.4" r="1.9" fill="#8a1a10" opacity="0.26" filter="url(#bn)"/>
<circle cx="110.7" cy="221.3" r="1.9" fill="#8a1a10" opacity="0.26" filter="url(#bn)"/>
</g>
<clipPath id="cc7"><rect x="132.5" y="201.5" width="43.70" height="43.10"/></clipPath><g clip-path="url(#cc7)">
<rect x="132.50" y="201.50" width="43.70" height="43.10" fill="#030034"/>
<ellipse cx="137.2" cy="208.6" rx="3.0" ry="1.7" fill="#1818d8" opacity="0.9" transform="rotate(104 137.2 208.6)" filter="url(#bn)"/>
<ellipse cx="145.7" cy="205.5" rx="3.3" ry="1.9" fill="#1818d8" opacity="0.9" transform="rotate(29 145.7 205.5)" filter="url(#bn)"/>
<ellipse cx="153.4" cy="210.0" rx="2.6" ry="2.2" fill="#1818d8" opacity="0.9" transform="rotate(179 153.4 210.0)" filter="url(#bn)"/>
<ellipse cx="165.6" cy="210.0" rx="3.0" ry="1.6" fill="#1818d8" opacity="0.9" transform="rotate(51 165.6 210.0)" filter="url(#bn)"/>
<ellipse cx="141.8" cy="217.5" rx="3.1" ry="1.9" fill="#1818d8" opacity="0.9" transform="rotate(24 141.8 217.5)" filter="url(#bn)"/>
<ellipse cx="149.0" cy="215.0" rx="3.5" ry="1.9" fill="#1818d8" opacity="0.9" transform="rotate(8 149.0 215.0)" filter="url(#bn)"/>
<ellipse cx="159.5" cy="217.5" rx="3.4" ry="1.6" fill="#1818d8" opacity="0.9" transform="rotate(66 159.5 217.5)" filter="url(#bn)"/>
<ellipse cx="164.1" cy="215.1" rx="3.0" ry="1.7" fill="#1818d8" opacity="0.9" transform="rotate(12 164.1 215.1)" filter="url(#bn)"/>
<ellipse cx="138.1" cy="225.2" rx="2.5" ry="1.5" fill="#1818d8" opacity="0.9" transform="rotate(74 138.1 225.2)" filter="url(#bn)"/>
<ellipse cx="148.5" cy="224.5" rx="3.3" ry="1.9" fill="#1818d8" opacity="0.9" transform="rotate(96 148.5 224.5)" filter="url(#bn)"/>
<ellipse cx="154.4" cy="227.9" rx="3.0" ry="1.6" fill="#1818d8" opacity="0.9" transform="rotate(108 154.4 227.9)" filter="url(#bn)"/>
<ellipse cx="168.4" cy="225.1" rx="2.5" ry="1.5" fill="#1818d8" opacity="0.9" transform="rotate(145 168.4 225.1)" filter="url(#bn)"/>
<ellipse cx="137.1" cy="233.2" rx="2.8" ry="1.5" fill="#1818d8" opacity="0.9" transform="rotate(49 137.1 233.2)" filter="url(#bn)"/>
<ellipse cx="145.9" cy="236.6" rx="2.5" ry="1.7" fill="#1818d8" opacity="0.9" transform="rotate(30 145.9 236.6)" filter="url(#bn)"/>
<ellipse cx="154.2" cy="235.9" rx="3.2" ry="1.7" fill="#1818d8" opacity="0.9" transform="rotate(63 154.2 235.9)" filter="url(#bn)"/>
<ellipse cx="162.2" cy="233.7" rx="3.2" ry="1.6" fill="#1818d8" opacity="0.9" transform="rotate(57 162.2 233.7)" filter="url(#bn)"/>
<ellipse cx="171.3" cy="237.6" rx="3.0" ry="1.7" fill="#1818d8" opacity="0.9" transform="rotate(157 171.3 237.6)" filter="url(#bn)"/>
<ellipse cx="141.4" cy="240.7" rx="3.0" ry="2.1" fill="#1818d8" opacity="0.9" transform="rotate(94 141.4 240.7)" filter="url(#bn)"/>
<ellipse cx="158.6" cy="242.6" rx="2.9" ry="1.7" fill="#1818d8" opacity="0.9" transform="rotate(72 158.6 242.6)" filter="url(#bn)"/>
<ellipse cx="171.7" cy="219.7" rx="3.0" ry="1.7" fill="#1818d8" opacity="0.9" transform="rotate(30 171.7 219.7)" filter="url(#bn)"/>
<ellipse cx="152.2" cy="220.0" rx="2.8" ry="1.3" fill="#1818d8" opacity="0.9" transform="rotate(1 152.2 220.0)" filter="url(#bn)"/>
<ellipse cx="161.9" cy="212.2" rx="2.4" ry="1.4" fill="#1818d8" opacity="0.9" transform="rotate(82 161.9 212.2)" filter="url(#bn)"/>
<ellipse cx="166.5" cy="220.1" rx="2.9" ry="1.7" fill="#1818d8" opacity="0.9" transform="rotate(90 166.5 220.1)" filter="url(#bn)"/>
<ellipse cx="137.2" cy="207.9" rx="2.1" ry="1.0" fill="#2222ee" opacity="0.8" transform="rotate(148 137.2 207.9)" filter="url(#bn)"/>
<ellipse cx="145.4" cy="205.4" rx="1.6" ry="1.1" fill="#2222ee" opacity="0.8" transform="rotate(13 145.4 205.4)" filter="url(#bn)"/>
<ellipse cx="153.7" cy="209.5" rx="1.5" ry="1.3" fill="#2222ee" opacity="0.8" transform="rotate(164 153.7 209.5)" filter="url(#bn)"/>
<ellipse cx="165.6" cy="209.7" rx="1.8" ry="1.0" fill="#2222ee" opacity="0.8" transform="rotate(106 165.6 209.7)" filter="url(#bn)"/>
<ellipse cx="142.1" cy="217.1" rx="1.7" ry="1.1" fill="#2222ee" opacity="0.8" transform="rotate(179 142.1 217.1)" filter="url(#bn)"/>
<ellipse cx="150.7" cy="215.1" rx="1.8" ry="1.3" fill="#2222ee" opacity="0.8" transform="rotate(176 150.7 215.1)" filter="url(#bn)"/>
<ellipse cx="159.4" cy="217.9" rx="1.7" ry="0.9" fill="#2222ee" opacity="0.8" transform="rotate(81 159.4 217.9)" filter="url(#bn)"/>
<ellipse cx="164.6" cy="215.3" rx="1.7" ry="0.9" fill="#2222ee" opacity="0.8" transform="rotate(25 164.6 215.3)" filter="url(#bn)"/>
<ellipse cx="138.3" cy="225.1" rx="2.1" ry="0.8" fill="#2222ee" opacity="0.8" transform="rotate(48 138.3 225.1)" filter="url(#bn)"/>
<ellipse cx="148.1" cy="225.2" rx="1.6" ry="1.1" fill="#2222ee" opacity="0.8" transform="rotate(81 148.1 225.2)" filter="url(#bn)"/>
<ellipse cx="155.1" cy="228.1" rx="1.8" ry="0.8" fill="#2222ee" opacity="0.8" transform="rotate(170 155.1 228.1)" filter="url(#bn)"/>
<ellipse cx="167.4" cy="224.5" rx="1.7" ry="0.9" fill="#2222ee" opacity="0.8" transform="rotate(178 167.4 224.5)" filter="url(#bn)"/>
<ellipse cx="137.8" cy="233.1" rx="2.1" ry="1.3" fill="#2222ee" opacity="0.8" transform="rotate(20 137.8 233.1)" filter="url(#bn)"/>
<ellipse cx="145.8" cy="236.1" rx="1.5" ry="0.9" fill="#2222ee" opacity="0.8" transform="rotate(158 145.8 236.1)" filter="url(#bn)"/>
<ellipse cx="153.5" cy="236.3" rx="1.9" ry="1.0" fill="#2222ee" opacity="0.8" transform="rotate(11 153.5 236.3)" filter="url(#bn)"/>
<ellipse cx="162.5" cy="232.8" rx="1.9" ry="0.8" fill="#2222ee" opacity="0.8" transform="rotate(8 162.5 232.8)" filter="url(#bn)"/>
<ellipse cx="170.6" cy="238.8" rx="1.5" ry="0.9" fill="#2222ee" opacity="0.8" transform="rotate(22 170.6 238.8)" filter="url(#bn)"/>
<ellipse cx="140.9" cy="241.5" rx="1.9" ry="0.8" fill="#2222ee" opacity="0.8" transform="rotate(13 140.9 241.5)" filter="url(#bn)"/>
<ellipse cx="159.0" cy="241.9" rx="1.8" ry="1.1" fill="#2222ee" opacity="0.8" transform="rotate(130 159.0 241.9)" filter="url(#bn)"/>
<ellipse cx="172.7" cy="219.6" rx="1.6" ry="1.4" fill="#2222ee" opacity="0.8" transform="rotate(94 172.7 219.6)" filter="url(#bn)"/>
<ellipse cx="151.7" cy="220.3" rx="2.0" ry="1.2" fill="#2222ee" opacity="0.8" transform="rotate(133 151.7 220.3)" filter="url(#bn)"/>
<ellipse cx="160.1" cy="211.6" rx="1.7" ry="0.9" fill="#2222ee" opacity="0.8" transform="rotate(33 160.1 211.6)" filter="url(#bn)"/>
<ellipse cx="165.7" cy="220.0" rx="1.5" ry="0.9" fill="#2222ee" opacity="0.8" transform="rotate(132 165.7 220.0)" filter="url(#bn)"/>
</g>
<clipPath id="cc8"><rect x="183" y="201.5" width="42.50" height="43.10"/></clipPath><g clip-path="url(#cc8)">
<rect x="183.00" y="201.50" width="42.50" height="43.10" fill="#02002c"/>
<ellipse cx="205.1" cy="221.2" rx="18.5" ry="12" fill="#2a14d4" transform="rotate(-5 204.2 223.1)" filter="url(#bn)"/>
<path d="M194.6,214.9h.01M209.7,211.5h.01M204.0,211.2h.01M216.5,222.5h.01M217.9,218.3h.01M209.7,219.2h.01M196.8,222.3h.01M192.7,219.1h.01M212.9,221.7h.01M202.1,231.1h.01M205.7,217.1h.01M206.9,217.5h.01M200.6,218.7h.01M220.9,221.4h.01M207.0,226.0h.01M220.8,220.2h.01M201.0,231.2h.01M191.5,219.1h.01M209.7,231.0h.01M199.0,211.6h.01M212.3,217.7h.01M200.6,224.5h.01M207.7,223.4h.01M200.9,229.0h.01M219.0,221.4h.01M200.1,226.2h.01M210.0,214.6h.01M200.3,227.9h.01M203.9,218.8h.01M207.6,221.0h.01M205.0,211.6h.01M220.0,222.3h.01M196.4,227.2h.01M208.7,221.4h.01M212.0,230.6h.01M209.9,229.9h.01M220.0,216.9h.01M199.4,226.4h.01M190.3,219.8h.01M216.5,227.0h.01M209.7,211.9h.01M221.1,223.6h.01M213.4,224.6h.01M192.6,214.8h.01M196.3,229.8h.01" fill="none" stroke="#e048c8" stroke-width="1.25" stroke-linecap="round" opacity="0.8"/>
<path d="M195.9,219.6h.01M202.1,225.3h.01M210.8,223.2h.01M198.7,211.5h.01M207.0,223.2h.01M217.4,220.6h.01M198.2,224.1h.01M192.2,215.9h.01M194.4,223.1h.01M220.3,224.7h.01M216.7,222.8h.01M208.3,218.0h.01M203.1,211.1h.01M194.7,214.4h.01M213.8,225.5h.01M214.3,229.0h.01M201.9,228.0h.01M220.7,221.2h.01M216.4,220.2h.01M190.6,221.9h.01M196.0,222.0h.01M199.7,223.5h.01M192.9,228.5h.01M218.1,219.2h.01M195.2,221.3h.01M212.6,224.2h.01M208.2,211.7h.01M195.3,228.4h.01M207.3,212.6h.01M197.4,213.4h.01M195.7,227.9h.01M202.8,228.4h.01M206.8,212.6h.01M200.6,231.1h.01M197.4,214.8h.01M217.6,221.8h.01M205.0,229.9h.01M190.1,223.4h.01M195.9,213.8h.01M197.2,228.1h.01M203.9,211.7h.01M195.9,229.0h.01M214.7,214.9h.01M221.5,219.7h.01M192.8,220.4h.01" fill="none" stroke="#c02890" stroke-width="1.0" stroke-linecap="round" opacity="0.8"/>
</g>
<clipPath id="cc9"><rect x="38.7" y="248.8" width="43.50" height="43.00"/></clipPath><g clip-path="url(#cc9)">
<rect x="38.70" y="248.80" width="43.50" height="43.00" fill="#030034"/>
<ellipse cx="52.6" cy="253.5" rx="3.4" ry="1.9" fill="#1818d8" opacity="0.9" transform="rotate(138 52.6 253.5)" filter="url(#bn)"/>
<ellipse cx="53.2" cy="266.2" rx="3.1" ry="2.1" fill="#1818d8" opacity="0.9" transform="rotate(157 53.2 266.2)" filter="url(#bn)"/>
<ellipse cx="44.9" cy="272.1" rx="2.8" ry="2.2" fill="#1818d8" opacity="0.9" transform="rotate(19 44.9 272.1)" filter="url(#bn)"/>
<ellipse cx="59.1" cy="272.1" rx="2.9" ry="1.5" fill="#1818d8" opacity="0.9" transform="rotate(57 59.1 272.1)" filter="url(#bn)"/>
<ellipse cx="65.7" cy="270.3" rx="2.8" ry="1.9" fill="#1818d8" opacity="0.9" transform="rotate(145 65.7 270.3)" filter="url(#bn)"/>
<ellipse cx="70.7" cy="268.5" rx="3.0" ry="1.3" fill="#1818d8" opacity="0.9" transform="rotate(17 70.7 268.5)" filter="url(#bn)"/>
<ellipse cx="46.6" cy="278.8" rx="2.7" ry="1.9" fill="#1818d8" opacity="0.9" transform="rotate(29 46.6 278.8)" filter="url(#bn)"/>
<ellipse cx="59.9" cy="280.1" rx="3.2" ry="2.1" fill="#1818d8" opacity="0.9" transform="rotate(40 59.9 280.1)" filter="url(#bn)"/>
<ellipse cx="66.0" cy="285.5" rx="3.1" ry="1.6" fill="#1818d8" opacity="0.9" transform="rotate(25 66.0 285.5)" filter="url(#bn)"/>
<ellipse cx="75.8" cy="287.4" rx="2.9" ry="1.4" fill="#1818d8" opacity="0.9" transform="rotate(115 75.8 287.4)" filter="url(#bn)"/>
<ellipse cx="78.2" cy="260.5" rx="2.5" ry="2.1" fill="#1818d8" opacity="0.9" transform="rotate(155 78.2 260.5)" filter="url(#bn)"/>
<ellipse cx="52.0" cy="254.1" rx="1.8" ry="0.9" fill="#2222ee" opacity="0.8" transform="rotate(172 52.0 254.1)" filter="url(#bn)"/>
<ellipse cx="52.5" cy="266.4" rx="2.1" ry="0.9" fill="#2222ee" opacity="0.8" transform="rotate(143 52.5 266.4)" filter="url(#bn)"/>
<ellipse cx="45.6" cy="270.8" rx="1.7" ry="1.2" fill="#2222ee" opacity="0.8" transform="rotate(169 45.6 270.8)" filter="url(#bn)"/>
<ellipse cx="58.3" cy="272.5" rx="1.5" ry="1.0" fill="#2222ee" opacity="0.8" transform="rotate(39 58.3 272.5)" filter="url(#bn)"/>
<ellipse cx="66.1" cy="270.3" rx="1.5" ry="0.9" fill="#2222ee" opacity="0.8" transform="rotate(158 66.1 270.3)" filter="url(#bn)"/>
<ellipse cx="71.9" cy="268.5" rx="2.1" ry="1.1" fill="#2222ee" opacity="0.8" transform="rotate(69 71.9 268.5)" filter="url(#bn)"/>
<ellipse cx="48.1" cy="280.2" rx="1.8" ry="1.0" fill="#2222ee" opacity="0.8" transform="rotate(98 48.1 280.2)" filter="url(#bn)"/>
<ellipse cx="60.0" cy="281.6" rx="1.5" ry="0.8" fill="#2222ee" opacity="0.8" transform="rotate(64 60.0 281.6)" filter="url(#bn)"/>
<ellipse cx="65.8" cy="285.3" rx="1.9" ry="0.9" fill="#2222ee" opacity="0.8" transform="rotate(76 65.8 285.3)" filter="url(#bn)"/>
<ellipse cx="76.7" cy="287.3" rx="1.6" ry="1.2" fill="#2222ee" opacity="0.8" transform="rotate(51 76.7 287.3)" filter="url(#bn)"/>
<ellipse cx="78.7" cy="259.7" rx="1.8" ry="1.3" fill="#2222ee" opacity="0.8" transform="rotate(63 78.7 259.7)" filter="url(#bn)"/>
</g>
<clipPath id="cc10"><rect x="85.6" y="248.8" width="43.70" height="43.00"/></clipPath><g clip-path="url(#cc10)">
<rect x="85.60" y="248.80" width="43.70" height="43.00" fill="#060004"/>
</g>
<clipPath id="cc11"><rect x="132.5" y="248.8" width="43.70" height="43.00"/></clipPath><g clip-path="url(#cc11)">
<rect x="132.50" y="248.80" width="43.70" height="43.00" fill="#030034"/>
<ellipse cx="146.4" cy="253.5" rx="3.4" ry="1.9" fill="#1818d8" opacity="0.9" transform="rotate(138 146.4 253.5)" filter="url(#bn)"/>
<ellipse cx="147.1" cy="266.2" rx="3.1" ry="2.1" fill="#1818d8" opacity="0.9" transform="rotate(157 147.1 266.2)" filter="url(#bn)"/>
<ellipse cx="138.7" cy="272.1" rx="2.8" ry="2.2" fill="#1818d8" opacity="0.9" transform="rotate(19 138.7 272.1)" filter="url(#bn)"/>
<ellipse cx="153.0" cy="272.1" rx="2.9" ry="1.5" fill="#1818d8" opacity="0.9" transform="rotate(57 153.0 272.1)" filter="url(#bn)"/>
<ellipse cx="159.6" cy="270.3" rx="2.8" ry="1.9" fill="#1818d8" opacity="0.9" transform="rotate(145 159.6 270.3)" filter="url(#bn)"/>
<ellipse cx="164.7" cy="268.5" rx="3.0" ry="1.3" fill="#1818d8" opacity="0.9" transform="rotate(17 164.7 268.5)" filter="url(#bn)"/>
<ellipse cx="140.5" cy="278.8" rx="2.7" ry="1.9" fill="#1818d8" opacity="0.9" transform="rotate(29 140.5 278.8)" filter="url(#bn)"/>
<ellipse cx="153.8" cy="280.1" rx="3.2" ry="2.1" fill="#1818d8" opacity="0.9" transform="rotate(40 153.8 280.1)" filter="url(#bn)"/>
<ellipse cx="159.9" cy="285.5" rx="3.1" ry="1.6" fill="#1818d8" opacity="0.9" transform="rotate(25 159.9 285.5)" filter="url(#bn)"/>
<ellipse cx="169.8" cy="287.4" rx="2.9" ry="1.4" fill="#1818d8" opacity="0.9" transform="rotate(115 169.8 287.4)" filter="url(#bn)"/>
<ellipse cx="172.2" cy="260.5" rx="2.5" ry="2.1" fill="#1818d8" opacity="0.9" transform="rotate(155 172.2 260.5)" filter="url(#bn)"/>
<ellipse cx="145.9" cy="254.1" rx="1.8" ry="0.9" fill="#2222ee" opacity="0.8" transform="rotate(172 145.9 254.1)" filter="url(#bn)"/>
<ellipse cx="146.4" cy="266.4" rx="2.1" ry="0.9" fill="#2222ee" opacity="0.8" transform="rotate(143 146.4 266.4)" filter="url(#bn)"/>
<ellipse cx="139.5" cy="270.8" rx="1.7" ry="1.2" fill="#2222ee" opacity="0.8" transform="rotate(169 139.5 270.8)" filter="url(#bn)"/>
<ellipse cx="152.2" cy="272.5" rx="1.5" ry="1.0" fill="#2222ee" opacity="0.8" transform="rotate(39 152.2 272.5)" filter="url(#bn)"/>
<ellipse cx="160.0" cy="270.3" rx="1.5" ry="0.9" fill="#2222ee" opacity="0.8" transform="rotate(158 160.0 270.3)" filter="url(#bn)"/>
<ellipse cx="165.9" cy="268.5" rx="2.1" ry="1.1" fill="#2222ee" opacity="0.8" transform="rotate(69 165.9 268.5)" filter="url(#bn)"/>
<ellipse cx="141.9" cy="280.2" rx="1.8" ry="1.0" fill="#2222ee" opacity="0.8" transform="rotate(98 141.9 280.2)" filter="url(#bn)"/>
<ellipse cx="153.9" cy="281.6" rx="1.5" ry="0.8" fill="#2222ee" opacity="0.8" transform="rotate(64 153.9 281.6)" filter="url(#bn)"/>
<ellipse cx="159.7" cy="285.3" rx="1.9" ry="0.9" fill="#2222ee" opacity="0.8" transform="rotate(76 159.7 285.3)" filter="url(#bn)"/>
<ellipse cx="170.6" cy="287.3" rx="1.6" ry="1.2" fill="#2222ee" opacity="0.8" transform="rotate(51 170.6 287.3)" filter="url(#bn)"/>
<ellipse cx="172.6" cy="259.7" rx="1.8" ry="1.3" fill="#2222ee" opacity="0.8" transform="rotate(63 172.6 259.7)" filter="url(#bn)"/>
</g>
<clipPath id="cc12"><rect x="183" y="248.8" width="42.50" height="43.00"/></clipPath><g clip-path="url(#cc12)">
<rect x="183.00" y="248.80" width="42.50" height="43.00" fill="#02002c"/>
<path d="M191.2,280.3 C188.2,268.3 198.2,257.3 210.2,256.3 C218.2,257.3 215.2,268.3 210.2,278.3 C206.2,286.3 194.2,287.3 191.2,280.3Z" fill="#1818da" filter="url(#bn)"/>
</g>
<rect x="163.00" y="179.30" width="7.50" height="8.20" fill="none" stroke="#9c9c9c" stroke-width="0.6"/>
<rect x="147.50" y="221.30" width="8.30" height="8.00" fill="none" stroke="#9c9c9c" stroke-width="0.6"/>
<rect x="165.50" y="268.00" width="8.30" height="8.30" fill="none" stroke="#9c9c9c" stroke-width="0.6"/>
<line x1="163.80" y1="290.60" x2="175.40" y2="290.60" stroke="#b8b8c8" stroke-width="0.9"/>
<text x="238.30" y="194.40" font-size="8.7" text-anchor="middle" fill="#161616" stroke="#161616" stroke-width="0.28" transform="rotate(-90 238.30 194.40)">Average signals/cell</text>
<text x="281.25" y="139.20" font-size="8.7" text-anchor="middle" fill="#161616" stroke="#161616" stroke-width="0.28">M93-047</text>
<line x1="261.25" y1="148.30" x2="261.25" y2="239.25" stroke="#111" stroke-width="1.1"/>
<line x1="260.75" y1="238.75" x2="321.25" y2="238.75" stroke="#111" stroke-width="1.1"/>
<line x1="258.05" y1="238.75" x2="261.25" y2="238.75" stroke="#111" stroke-width="1.1"/>
<text x="256.95" y="241.85" font-size="8.25" text-anchor="end" fill="#161616" stroke="#161616" stroke-width="0.28">0</text>
<line x1="258.05" y1="208.75" x2="261.25" y2="208.75" stroke="#111" stroke-width="1.1"/>
<text x="256.95" y="211.85" font-size="8.25" text-anchor="end" fill="#161616" stroke="#161616" stroke-width="0.28">40</text>
<line x1="258.05" y1="178.75" x2="261.25" y2="178.75" stroke="#111" stroke-width="1.1"/>
<text x="256.95" y="181.85" font-size="8.25" text-anchor="end" fill="#161616" stroke="#161616" stroke-width="0.28">80</text>
<line x1="258.05" y1="148.75" x2="261.25" y2="148.75" stroke="#111" stroke-width="1.1"/>
<text x="256.95" y="151.85" font-size="8.25" text-anchor="end" fill="#161616" stroke="#161616" stroke-width="0.28">120</text>
<line x1="273.12" y1="214.30" x2="273.12" y2="219.50" stroke="#111" stroke-width="1"/>
<line x1="270.82" y1="214.30" x2="275.43" y2="214.30" stroke="#111" stroke-width="1"/>
<rect x="267.50" y="219.50" width="11.25" height="19.25" fill="#8e8e8e" stroke="#111" stroke-width="1.1"/>
<line x1="273.12" y1="238.75" x2="273.12" y2="241.95" stroke="#111" stroke-width="1.1"/>
<line x1="290.88" y1="168.00" x2="290.88" y2="176.25" stroke="#5a2aa0" stroke-width="1"/>
<line x1="288.57" y1="168.00" x2="293.18" y2="168.00" stroke="#5a2aa0" stroke-width="1"/>
<rect x="285.00" y="176.25" width="11.75" height="62.50" fill="#c9b5e8" stroke="#5a2aa0" stroke-width="1.1"/>
<line x1="290.88" y1="238.75" x2="290.88" y2="241.95" stroke="#111" stroke-width="1.1"/>
<line x1="308.75" y1="232.30" x2="308.75" y2="233.75" stroke="#d83a78" stroke-width="1"/>
<line x1="306.45" y1="232.30" x2="311.05" y2="232.30" stroke="#d83a78" stroke-width="1"/>
<rect x="303.00" y="233.75" width="11.50" height="5.00" fill="#f6a8c4" stroke="#d83a78" stroke-width="1.1"/>
<line x1="308.75" y1="238.75" x2="308.75" y2="241.95" stroke="#111" stroke-width="1.1"/>
<line x1="272.50" y1="155.50" x2="291.25" y2="155.50" stroke="#777" stroke-width="0.9"/>
<text x="282.00" y="157.30" font-size="9.5" text-anchor="middle" fill="#161616" stroke="#161616" stroke-width="0.28">***</text>
<line x1="291.25" y1="163.75" x2="310.00" y2="163.75" stroke="#777" stroke-width="0.9"/>
<text x="300.50" y="165.60" font-size="9.5" text-anchor="middle" fill="#161616" stroke="#161616" stroke-width="0.28">****</text>
<text x="275.30" y="246.25" font-size="8.7" text-anchor="end" fill="#161616" stroke="#161616" stroke-width="0.28" transform="rotate(-45 275.30 246.25)">Untreated</text>
<text x="293.10" y="246.25" font-size="8.7" text-anchor="end" fill="#161616" stroke="#161616" stroke-width="0.28" transform="rotate(-45 293.10 246.25)">10 µmol/L nutlin</text>
<text x="311.00" y="246.25" font-size="8.7" text-anchor="end" fill="#161616" stroke="#161616" stroke-width="0.28" transform="rotate(-45 311.00 246.25)">Single Ab control</text>
<text x="329.50" y="178.70" font-size="10" font-weight="bold" fill="#000" stroke="#000" stroke-width="0.15">D</text>
<text x="396.60" y="187.50" font-size="8.7" text-anchor="middle" fill="#161616" stroke="#161616" stroke-width="0.28">YUMM1.7 PADI4 OE</text>
<line x1="340.00" y1="191.30" x2="452.50" y2="191.30" stroke="#111" stroke-width="1.1"/>
<text x="354.10" y="202.60" font-size="8.7" text-anchor="middle" fill="#161616" stroke="#161616" stroke-width="0.28">Input</text>
<line x1="340.00" y1="206.75" x2="368.75" y2="206.75" stroke="#111" stroke-width="1.1"/>
<text x="384.50" y="202.60" font-size="8.7" fill="#161616" stroke="#161616" stroke-width="0.28">IP: Padi4</text>
<line x1="393.75" y1="206.75" x2="422.00" y2="206.75" stroke="#111" stroke-width="1.1"/>
<text x="438.75" y="202.60" font-size="8.7" text-anchor="middle" fill="#161616" stroke="#161616" stroke-width="0.28">IgG</text>
<line x1="425.50" y1="206.75" x2="453.00" y2="206.75" stroke="#111" stroke-width="1.1"/>
<text x="348.00" y="215.60" font-size="7.5" text-anchor="middle" fill="#444" stroke="#444" stroke-width="0.28">–</text>
<text x="362.00" y="215.60" font-size="7.5" text-anchor="middle" fill="#444" stroke="#444" stroke-width="0.28">+</text>
<text x="402.50" y="215.60" font-size="7.5" text-anchor="middle" fill="#444" stroke="#444" stroke-width="0.28">–</text>
<text x="417.00" y="215.60" font-size="7.5" text-anchor="middle" fill="#444" stroke="#444" stroke-width="0.28">+</text>
<text x="430.75" y="215.60" font-size="7.5" text-anchor="middle" fill="#444" stroke="#444" stroke-width="0.28">–</text>
<text x="445.00" y="215.60" font-size="7.5" text-anchor="middle" fill="#444" stroke="#444" stroke-width="0.28">+</text>
<text x="456.20" y="210.80" font-size="8.2" fill="#161616" stroke="#161616" stroke-width="0.28">10 µmol/L nutlin</text>
<text x="456.20" y="217.60" font-size="8.2" fill="#161616" stroke="#161616" stroke-width="0.28">3a, 24 h</text>
<rect x="340.00" y="219.50" width="29.25" height="18.00" fill="#ececec" stroke="#999" stroke-width="0.7"/>
<rect x="340.00" y="240.50" width="29.25" height="18.25" fill="#ececec" stroke="#999" stroke-width="0.7"/>
<rect x="393.75" y="219.50" width="59.25" height="18.00" fill="#ececec" stroke="#999" stroke-width="0.7"/>
<g filter="url(#b3)" fill="#1a1a1a"><rect x="356.3" y="227.5" width="9.5" height="1.6"/><rect x="343" y="248.6" width="10" height="1.9"/><rect x="356.3" y="248.7" width="9.5" height="1.7"/><rect x="411.3" y="227" width="10" height="1.6"/></g>
<text x="372.00" y="231.60" font-size="8.7" fill="#161616" stroke="#161616" stroke-width="0.28">p53</text>
<text x="372.00" y="252.70" font-size="8.7" fill="#161616" stroke="#161616" stroke-width="0.28">Padi4</text>
<text x="456.20" y="231.60" font-size="8.7" fill="#161616" stroke="#161616" stroke-width="0.28">p53</text>
<text x="2.00" y="309.60" font-size="10" font-weight="bold" fill="#000" stroke="#000" stroke-width="0.15">E</text>
<text x="10.20" y="359.50" font-size="8.7" text-anchor="middle" fill="#161616" stroke="#161616" stroke-width="0.28" transform="rotate(-90 10.20 359.50)">Tumor volume (mm<tspan font-size="6.2" dy="-3">3</tspan><tspan dy="3">)</tspan></text>
<line x1="33.00" y1="316.50" x2="33.00" y2="402.25" stroke="#111" stroke-width="1.1"/>
<line x1="32.50" y1="401.75" x2="161.25" y2="401.75" stroke="#111" stroke-width="1.1"/>
<line x1="29.80" y1="401.75" x2="33.00" y2="401.75" stroke="#111" stroke-width="1.1"/>
<text x="28.70" y="404.85" font-size="8.25" text-anchor="end" fill="#161616" stroke="#161616" stroke-width="0.28">0</text>
<line x1="29.80" y1="380.56" x2="33.00" y2="380.56" stroke="#111" stroke-width="1.1"/>
<text x="28.70" y="383.66" font-size="8.25" text-anchor="end" fill="#161616" stroke="#161616" stroke-width="0.28">200</text>
<line x1="29.80" y1="359.38" x2="33.00" y2="359.38" stroke="#111" stroke-width="1.1"/>
<text x="28.70" y="362.48" font-size="8.25" text-anchor="end" fill="#161616" stroke="#161616" stroke-width="0.28">400</text>
<line x1="29.80" y1="338.19" x2="33.00" y2="338.19" stroke="#111" stroke-width="1.1"/>
<text x="28.70" y="341.29" font-size="8.25" text-anchor="end" fill="#161616" stroke="#161616" stroke-width="0.28">600</text>
<line x1="29.80" y1="317.00" x2="33.00" y2="317.00" stroke="#111" stroke-width="1.1"/>
<text x="28.70" y="320.10" font-size="8.25" text-anchor="end" fill="#161616" stroke="#161616" stroke-width="0.28">800</text>
<line x1="47.50" y1="401.75" x2="47.50" y2="404.95" stroke="#111" stroke-width="1.1"/>
<text x="47.50" y="412.60" font-size="8.25" text-anchor="middle" fill="#161616" stroke="#161616" stroke-width="0.28">10</text>
<line x1="93.40" y1="401.75" x2="93.40" y2="404.95" stroke="#111" stroke-width="1.1"/>
<text x="93.40" y="412.60" font-size="8.25" text-anchor="middle" fill="#161616" stroke="#161616" stroke-width="0.28">20</text>
<line x1="139.30" y1="401.75" x2="139.30" y2="404.95" stroke="#111" stroke-width="1.1"/>
<text x="139.30" y="412.60" font-size="8.25" text-anchor="middle" fill="#161616" stroke="#161616" stroke-width="0.28">30</text>
<text x="94.00" y="424.20" font-size="8.7" text-anchor="middle" fill="#161616" stroke="#161616" stroke-width="0.28">Days elapsed</text>
<line x1="33.73" y1="398.04" x2="33.73" y2="395.92" stroke="#9a9a9a" stroke-width="0.8"/>
<line x1="32.23" y1="398.04" x2="35.23" y2="398.04" stroke="#9a9a9a" stroke-width="0.8"/>
<line x1="32.23" y1="395.92" x2="35.23" y2="395.92" stroke="#9a9a9a" stroke-width="0.8"/>
<line x1="47.50" y1="392.96" x2="47.50" y2="390.41" stroke="#9a9a9a" stroke-width="0.8"/>
<line x1="46.00" y1="392.96" x2="49.00" y2="392.96" stroke="#9a9a9a" stroke-width="0.8"/>
<line x1="46.00" y1="390.41" x2="49.00" y2="390.41" stroke="#9a9a9a" stroke-width="0.8"/>
<line x1="56.68" y1="386.18" x2="56.68" y2="382.36" stroke="#9a9a9a" stroke-width="0.8"/>
<line x1="55.18" y1="386.18" x2="58.18" y2="386.18" stroke="#9a9a9a" stroke-width="0.8"/>
<line x1="55.18" y1="382.36" x2="58.18" y2="382.36" stroke="#9a9a9a" stroke-width="0.8"/>
<line x1="65.86" y1="387.98" x2="65.86" y2="383.74" stroke="#9a9a9a" stroke-width="0.8"/>
<line x1="64.36" y1="387.98" x2="67.36" y2="387.98" stroke="#9a9a9a" stroke-width="0.8"/>
<line x1="64.36" y1="383.74" x2="67.36" y2="383.74" stroke="#9a9a9a" stroke-width="0.8"/>
<line x1="79.63" y1="389.88" x2="79.63" y2="386.07" stroke="#9a9a9a" stroke-width="0.8"/>
<line x1="78.13" y1="389.88" x2="81.13" y2="389.88" stroke="#9a9a9a" stroke-width="0.8"/>
<line x1="78.13" y1="386.07" x2="81.13" y2="386.07" stroke="#9a9a9a" stroke-width="0.8"/>
<line x1="88.81" y1="387.24" x2="88.81" y2="381.30" stroke="#9a9a9a" stroke-width="0.8"/>
<line x1="87.31" y1="387.24" x2="90.31" y2="387.24" stroke="#9a9a9a" stroke-width="0.8"/>
<line x1="87.31" y1="381.30" x2="90.31" y2="381.30" stroke="#9a9a9a" stroke-width="0.8"/>
<line x1="97.99" y1="389.04" x2="97.99" y2="384.38" stroke="#9a9a9a" stroke-width="0.8"/>
<line x1="96.49" y1="389.04" x2="99.49" y2="389.04" stroke="#9a9a9a" stroke-width="0.8"/>
<line x1="96.49" y1="384.38" x2="99.49" y2="384.38" stroke="#9a9a9a" stroke-width="0.8"/>
<line x1="107.17" y1="387.02" x2="107.17" y2="381.52" stroke="#9a9a9a" stroke-width="0.8"/>
<line x1="105.67" y1="387.02" x2="108.67" y2="387.02" stroke="#9a9a9a" stroke-width="0.8"/>
<line x1="105.67" y1="381.52" x2="108.67" y2="381.52" stroke="#9a9a9a" stroke-width="0.8"/>
<line x1="116.35" y1="386.18" x2="116.35" y2="379.82" stroke="#9a9a9a" stroke-width="0.8"/>
<line x1="114.85" y1="386.18" x2="117.85" y2="386.18" stroke="#9a9a9a" stroke-width="0.8"/>
<line x1="114.85" y1="379.82" x2="117.85" y2="379.82" stroke="#9a9a9a" stroke-width="0.8"/>
<line x1="130.12" y1="379.82" x2="130.12" y2="370.29" stroke="#9a9a9a" stroke-width="0.8"/>
<line x1="128.62" y1="379.82" x2="131.62" y2="379.82" stroke="#9a9a9a" stroke-width="0.8"/>
<line x1="128.62" y1="370.29" x2="131.62" y2="370.29" stroke="#9a9a9a" stroke-width="0.8"/>
<line x1="139.30" y1="367.64" x2="139.30" y2="352.81" stroke="#9a9a9a" stroke-width="0.8"/>
<line x1="137.80" y1="367.64" x2="140.80" y2="367.64" stroke="#9a9a9a" stroke-width="0.8"/>
<line x1="137.80" y1="352.81" x2="140.80" y2="352.81" stroke="#9a9a9a" stroke-width="0.8"/>
<line x1="148.48" y1="360.22" x2="148.48" y2="340.09" stroke="#9a9a9a" stroke-width="0.8"/>
<line x1="146.98" y1="360.22" x2="149.98" y2="360.22" stroke="#9a9a9a" stroke-width="0.8"/>
<line x1="146.98" y1="340.09" x2="149.98" y2="340.09" stroke="#9a9a9a" stroke-width="0.8"/>
<path d="M33.73,396.98 L47.50,391.69 L56.68,384.27 L65.86,385.86 L79.63,387.98 L88.81,384.27 L97.99,386.71 L107.17,384.27 L116.35,383.00 L130.12,375.05 L139.30,360.22 L148.48,350.16" fill="none" stroke="#9a9a9a" stroke-width="1.0"/>
<circle cx="33.73" cy="396.98" r="1.60" fill="#9a9a9a"/>
<circle cx="47.50" cy="391.69" r="1.60" fill="#9a9a9a"/>
<circle cx="56.68" cy="384.27" r="1.60" fill="#9a9a9a"/>
<circle cx="65.86" cy="385.86" r="1.60" fill="#9a9a9a"/>
<circle cx="79.63" cy="387.98" r="1.60" fill="#9a9a9a"/>
<circle cx="88.81" cy="384.27" r="1.60" fill="#9a9a9a"/>
<circle cx="97.99" cy="386.71" r="1.60" fill="#9a9a9a"/>
<circle cx="107.17" cy="384.27" r="1.60" fill="#9a9a9a"/>
<circle cx="116.35" cy="383.00" r="1.60" fill="#9a9a9a"/>
<circle cx="130.12" cy="375.05" r="1.60" fill="#9a9a9a"/>
<circle cx="139.30" cy="360.22" r="1.60" fill="#9a9a9a"/>
<circle cx="148.48" cy="350.16" r="1.60" fill="#9a9a9a"/>
<line x1="33.73" y1="393.49" x2="33.73" y2="390.94" stroke="#4a2492" stroke-width="0.8"/>
<line x1="32.23" y1="393.49" x2="35.23" y2="393.49" stroke="#4a2492" stroke-width="0.8"/>
<line x1="32.23" y1="390.94" x2="35.23" y2="390.94" stroke="#4a2492" stroke-width="0.8"/>
<line x1="47.50" y1="378.66" x2="47.50" y2="373.99" stroke="#4a2492" stroke-width="0.8"/>
<line x1="46.00" y1="378.66" x2="49.00" y2="378.66" stroke="#4a2492" stroke-width="0.8"/>
<line x1="46.00" y1="373.99" x2="49.00" y2="373.99" stroke="#4a2492" stroke-width="0.8"/>
<line x1="56.68" y1="377.38" x2="56.68" y2="372.09" stroke="#4a2492" stroke-width="0.8"/>
<line x1="55.18" y1="377.38" x2="58.18" y2="377.38" stroke="#4a2492" stroke-width="0.8"/>
<line x1="55.18" y1="372.09" x2="58.18" y2="372.09" stroke="#4a2492" stroke-width="0.8"/>
<line x1="65.86" y1="386.18" x2="65.86" y2="382.36" stroke="#4a2492" stroke-width="0.8"/>
<line x1="64.36" y1="386.18" x2="67.36" y2="386.18" stroke="#4a2492" stroke-width="0.8"/>
<line x1="64.36" y1="382.36" x2="67.36" y2="382.36" stroke="#4a2492" stroke-width="0.8"/>
<line x1="79.63" y1="392.11" x2="79.63" y2="389.14" stroke="#4a2492" stroke-width="0.8"/>
<line x1="78.13" y1="392.11" x2="81.13" y2="392.11" stroke="#4a2492" stroke-width="0.8"/>
<line x1="78.13" y1="389.14" x2="81.13" y2="389.14" stroke="#4a2492" stroke-width="0.8"/>
<line x1="88.81" y1="394.55" x2="88.81" y2="392.00" stroke="#4a2492" stroke-width="0.8"/>
<line x1="87.31" y1="394.55" x2="90.31" y2="394.55" stroke="#4a2492" stroke-width="0.8"/>
<line x1="87.31" y1="392.00" x2="90.31" y2="392.00" stroke="#4a2492" stroke-width="0.8"/>
<line x1="97.99" y1="399.21" x2="97.99" y2="397.94" stroke="#4a2492" stroke-width="0.8"/>
<line x1="96.49" y1="399.21" x2="99.49" y2="399.21" stroke="#4a2492" stroke-width="0.8"/>
<line x1="96.49" y1="397.94" x2="99.49" y2="397.94" stroke="#4a2492" stroke-width="0.8"/>
<line x1="107.17" y1="399.21" x2="107.17" y2="397.94" stroke="#4a2492" stroke-width="0.8"/>
<line x1="105.67" y1="399.21" x2="108.67" y2="399.21" stroke="#4a2492" stroke-width="0.8"/>
<line x1="105.67" y1="397.94" x2="108.67" y2="397.94" stroke="#4a2492" stroke-width="0.8"/>
<line x1="116.35" y1="399.21" x2="116.35" y2="397.94" stroke="#4a2492" stroke-width="0.8"/>
<line x1="114.85" y1="399.21" x2="117.85" y2="399.21" stroke="#4a2492" stroke-width="0.8"/>
<line x1="114.85" y1="397.94" x2="117.85" y2="397.94" stroke="#4a2492" stroke-width="0.8"/>
<line x1="130.12" y1="399.21" x2="130.12" y2="397.94" stroke="#4a2492" stroke-width="0.8"/>
<line x1="128.62" y1="399.21" x2="131.62" y2="399.21" stroke="#4a2492" stroke-width="0.8"/>
<line x1="128.62" y1="397.94" x2="131.62" y2="397.94" stroke="#4a2492" stroke-width="0.8"/>
<line x1="139.30" y1="398.89" x2="139.30" y2="395.08" stroke="#4a2492" stroke-width="0.8"/>
<line x1="137.80" y1="398.89" x2="140.80" y2="398.89" stroke="#4a2492" stroke-width="0.8"/>
<line x1="137.80" y1="395.08" x2="140.80" y2="395.08" stroke="#4a2492" stroke-width="0.8"/>
<line x1="148.48" y1="399.00" x2="148.48" y2="394.33" stroke="#4a2492" stroke-width="0.8"/>
<line x1="146.98" y1="399.00" x2="149.98" y2="399.00" stroke="#4a2492" stroke-width="0.8"/>
<line x1="146.98" y1="394.33" x2="149.98" y2="394.33" stroke="#4a2492" stroke-width="0.8"/>
<path d="M33.73,392.22 L47.50,376.32 L56.68,374.74 L65.86,384.27 L79.63,390.63 L88.81,393.27 L97.99,398.57 L107.17,398.57 L116.35,398.57 L130.12,398.57 L139.30,396.98 L148.48,396.67" fill="none" stroke="#4a2492" stroke-width="1.0"/>
<rect x="32.23" y="390.72" width="3.00" height="3.00" fill="#4a2492"/>
<rect x="46.00" y="374.82" width="3.00" height="3.00" fill="#4a2492"/>
<rect x="55.18" y="373.24" width="3.00" height="3.00" fill="#4a2492"/>
<rect x="64.36" y="382.77" width="3.00" height="3.00" fill="#4a2492"/>
<rect x="78.13" y="389.13" width="3.00" height="3.00" fill="#4a2492"/>
<rect x="87.31" y="391.77" width="3.00" height="3.00" fill="#4a2492"/>
<rect x="96.49" y="397.07" width="3.00" height="3.00" fill="#4a2492"/>
<rect x="105.67" y="397.07" width="3.00" height="3.00" fill="#4a2492"/>
<rect x="114.85" y="397.07" width="3.00" height="3.00" fill="#4a2492"/>
<rect x="128.62" y="397.07" width="3.00" height="3.00" fill="#4a2492"/>
<rect x="137.80" y="395.48" width="3.00" height="3.00" fill="#4a2492"/>
<rect x="146.98" y="395.17" width="3.00" height="3.00" fill="#4a2492"/>
<line x1="39.50" y1="321.30" x2="48.00" y2="321.30" stroke="#9a9a9a" stroke-width="1"/>
<circle cx="43.75" cy="321.30" r="1.60" fill="#9a9a9a"/>
<text x="50.00" y="324.50" font-size="8.7" fill="#161616" stroke="#161616" stroke-width="0.28">EV</text>
<line x1="39.50" y1="332.60" x2="48.00" y2="332.60" stroke="#4a2492" stroke-width="1"/>
<rect x="42.25" y="331.10" width="3.00" height="3.00" fill="#4a2492"/>
<text x="50.00" y="335.80" font-size="8.7" fill="#161616" stroke="#161616" stroke-width="0.28">PADI4 OE</text>
<path d="M152.50,349.50 L158.00,349.50 L158.00,397.00 L152.50,397.00" fill="none" stroke="#777" stroke-width="1"/>
<text x="165.30" y="377.60" font-size="9" text-anchor="middle" font-weight="bold" fill="#222" stroke="#222" stroke-width="0.15">***</text>
<text x="175.00" y="309.60" font-size="10" font-weight="bold" fill="#000" stroke="#000" stroke-width="0.15">F</text>
<text x="182.60" y="360.00" font-size="8.7" text-anchor="middle" fill="#161616" stroke="#161616" stroke-width="0.28" transform="rotate(-90 182.60 360.00)">Tumor volume (mm<tspan font-size="6.2" dy="-3">3</tspan><tspan dy="3">)</tspan></text>
<line x1="211.30" y1="318.50" x2="211.30" y2="401.70" stroke="#111" stroke-width="1.1"/>
<line x1="210.80" y1="401.20" x2="336.75" y2="401.20" stroke="#111" stroke-width="1.1"/>
<line x1="208.10" y1="398.50" x2="211.30" y2="398.50" stroke="#111" stroke-width="1.1"/>
<text x="207.00" y="401.50" font-size="7.8" text-anchor="end" fill="#161616" stroke="#161616" stroke-width="0.28">0</text>
<line x1="208.10" y1="385.53" x2="211.30" y2="385.53" stroke="#111" stroke-width="1.1"/>
<text x="207.00" y="388.53" font-size="7.8" text-anchor="end" fill="#161616" stroke="#161616" stroke-width="0.28">200</text>
<line x1="208.10" y1="372.56" x2="211.30" y2="372.56" stroke="#111" stroke-width="1.1"/>
<text x="207.00" y="375.56" font-size="7.8" text-anchor="end" fill="#161616" stroke="#161616" stroke-width="0.28">400</text>
<line x1="208.10" y1="359.59" x2="211.30" y2="359.59" stroke="#111" stroke-width="1.1"/>
<text x="207.00" y="362.59" font-size="7.8" text-anchor="end" fill="#161616" stroke="#161616" stroke-width="0.28">600</text>
<line x1="208.10" y1="346.62" x2="211.30" y2="346.62" stroke="#111" stroke-width="1.1"/>
<text x="207.00" y="349.62" font-size="7.8" text-anchor="end" fill="#161616" stroke="#161616" stroke-width="0.28">800</text>
<line x1="208.10" y1="333.65" x2="211.30" y2="333.65" stroke="#111" stroke-width="1.1"/>
<text x="207.00" y="336.65" font-size="7.8" text-anchor="end" fill="#161616" stroke="#161616" stroke-width="0.28">1,000</text>
<line x1="208.10" y1="320.68" x2="211.30" y2="320.68" stroke="#111" stroke-width="1.1"/>
<text x="207.00" y="323.68" font-size="7.8" text-anchor="end" fill="#161616" stroke="#161616" stroke-width="0.28">1,200</text>
<line x1="215.45" y1="401.20" x2="215.45" y2="403.20" stroke="#111" stroke-width="1.1"/>
<line x1="231.75" y1="401.20" x2="231.75" y2="404.40" stroke="#111" stroke-width="1.1"/>
<text x="231.75" y="412.60" font-size="8.25" text-anchor="middle" fill="#161616" stroke="#161616" stroke-width="0.28">20</text>
<line x1="248.05" y1="401.20" x2="248.05" y2="403.20" stroke="#111" stroke-width="1.1"/>
<line x1="264.35" y1="401.20" x2="264.35" y2="404.40" stroke="#111" stroke-width="1.1"/>
<text x="264.35" y="412.60" font-size="8.25" text-anchor="middle" fill="#161616" stroke="#161616" stroke-width="0.28">40</text>
<line x1="280.65" y1="401.20" x2="280.65" y2="403.20" stroke="#111" stroke-width="1.1"/>
<line x1="296.95" y1="401.20" x2="296.95" y2="404.40" stroke="#111" stroke-width="1.1"/>
<text x="296.95" y="412.60" font-size="8.25" text-anchor="middle" fill="#161616" stroke="#161616" stroke-width="0.28">60</text>
<line x1="313.25" y1="401.20" x2="313.25" y2="403.20" stroke="#111" stroke-width="1.1"/>
<line x1="329.55" y1="401.20" x2="329.55" y2="404.40" stroke="#111" stroke-width="1.1"/>
<text x="329.55" y="412.60" font-size="8.25" text-anchor="middle" fill="#161616" stroke="#161616" stroke-width="0.28">80</text>
<text x="276.00" y="424.20" font-size="8.7" text-anchor="middle" fill="#161616" stroke="#161616" stroke-width="0.28">Days elapsed</text>
<path d="M210.56,393.31 L215.45,390.07 L221.97,382.29 L233.38,380.99 L244.79,351.81 L251.31,330.41" fill="none" stroke="#a4a4a4" stroke-width="0.85"/>
<path d="M210.6,393.3h.01M215.4,390.1h.01M222.0,382.3h.01M233.4,381.0h.01M244.8,351.8h.01M251.3,330.4h.01" fill="none" stroke="#8e8e8e" stroke-width="2.0" stroke-linecap="round"/>
<path d="M210.56,394.61 L215.45,391.37 L221.97,385.53 L233.38,383.58 L244.79,364.78 L251.31,333.65" fill="none" stroke="#a4a4a4" stroke-width="0.85"/>
<path d="M210.6,394.6h.01M215.4,391.4h.01M222.0,385.5h.01M233.4,383.6h.01M244.8,364.8h.01M251.3,333.6h.01" fill="none" stroke="#8e8e8e" stroke-width="2.0" stroke-linecap="round"/>
<path d="M210.56,392.01 L215.45,388.12 L221.97,379.05 L233.38,385.53 L244.79,369.32 L251.31,340.13 L256.20,327.16" fill="none" stroke="#a4a4a4" stroke-width="0.85"/>
<path d="M210.6,392.0h.01M215.4,388.1h.01M222.0,379.0h.01M233.4,385.5h.01M244.8,369.3h.01M251.3,340.1h.01M256.2,327.2h.01" fill="none" stroke="#8e8e8e" stroke-width="2.0" stroke-linecap="round"/>
<path d="M210.56,395.26 L215.45,392.66 L221.97,388.77 L233.38,390.72 L244.79,372.56 L251.31,347.92 L256.20,330.41" fill="none" stroke="#a4a4a4" stroke-width="0.85"/>
<path d="M210.6,395.3h.01M215.4,392.7h.01M222.0,388.8h.01M233.4,390.7h.01M244.8,372.6h.01M251.3,347.9h.01M256.2,330.4h.01" fill="none" stroke="#8e8e8e" stroke-width="2.0" stroke-linecap="round"/>
<path d="M210.56,393.96 L215.45,392.01 L221.97,386.83 L233.38,392.01 L244.79,385.53 L256.20,359.59 L262.72,327.16" fill="none" stroke="#a4a4a4" stroke-width="0.85"/>
<path d="M210.6,394.0h.01M215.4,392.0h.01M222.0,386.8h.01M233.4,392.0h.01M244.8,385.5h.01M256.2,359.6h.01M262.7,327.2h.01" fill="none" stroke="#8e8e8e" stroke-width="2.0" stroke-linecap="round"/>
<path d="M210.56,395.91 L215.45,393.96 L221.97,390.72 L233.38,394.61 L244.79,390.72 L256.20,379.05 L267.61,343.38 L274.13,320.68" fill="none" stroke="#a4a4a4" stroke-width="0.85"/>
<path d="M210.6,395.9h.01M215.4,394.0h.01M222.0,390.7h.01M233.4,394.6h.01M244.8,390.7h.01M256.2,379.0h.01M267.6,343.4h.01M274.1,320.7h.01" fill="none" stroke="#8e8e8e" stroke-width="2.0" stroke-linecap="round"/>
<path d="M210.56,394.61 L215.45,392.34 L221.97,388.12 L233.38,393.31 L244.79,392.01 L256.20,382.29 L267.61,353.11 L274.13,323.92 L277.39,319.38" fill="none" stroke="#a4a4a4" stroke-width="0.85"/>
<path d="M210.6,394.6h.01M215.4,392.3h.01M222.0,388.1h.01M233.4,393.3h.01M244.8,392.0h.01M256.2,382.3h.01M267.6,353.1h.01M274.1,323.9h.01M277.4,319.4h.01" fill="none" stroke="#8e8e8e" stroke-width="2.0" stroke-linecap="round"/>
<path d="M210.56,392.66 L215.45,389.42 L221.97,384.23 L233.38,388.77 L244.79,390.07 L256.20,375.80 L267.61,362.83 L274.13,340.13 L279.02,327.16" fill="none" stroke="#a4a4a4" stroke-width="0.85"/>
<path d="M210.6,392.7h.01M215.4,389.4h.01M222.0,384.2h.01M233.4,388.8h.01M244.8,390.1h.01M256.2,375.8h.01M267.6,362.8h.01M274.1,340.1h.01M279.0,327.2h.01" fill="none" stroke="#8e8e8e" stroke-width="2.0" stroke-linecap="round"/>
<path d="M210.56,395.26 L215.45,393.96 L221.97,392.01 L233.38,395.26 L244.79,394.61 L256.20,385.53 L267.61,372.56 L274.13,346.62 L279.02,330.41" fill="none" stroke="#a4a4a4" stroke-width="0.85"/>
<path d="M210.6,395.3h.01M215.4,394.0h.01M222.0,392.0h.01M233.4,395.3h.01M244.8,394.6h.01M256.2,385.5h.01M267.6,372.6h.01M274.1,346.6h.01M279.0,330.4h.01" fill="none" stroke="#8e8e8e" stroke-width="2.0" stroke-linecap="round"/>
<path d="M210.56,396.55 L215.45,394.61 L221.97,392.66 L233.38,395.91 L244.79,393.31 L256.20,386.83 L267.61,379.05 L274.13,349.86 L279.02,332.35" fill="none" stroke="#a4a4a4" stroke-width="0.85"/>
<path d="M210.6,396.6h.01M215.4,394.6h.01M222.0,392.7h.01M233.4,395.9h.01M244.8,393.3h.01M256.2,386.8h.01M267.6,379.0h.01M274.1,349.9h.01M279.0,332.4h.01" fill="none" stroke="#8e8e8e" stroke-width="2.0" stroke-linecap="round"/>
<path d="M210.56,394.93 L215.45,392.99 L221.97,389.42 L233.38,386.83 L244.79,377.10 L251.31,359.59 L256.20,343.38" fill="none" stroke="#a4a4a4" stroke-width="0.85"/>
<path d="M210.6,394.9h.01M215.4,393.0h.01M222.0,389.4h.01M233.4,386.8h.01M244.8,377.1h.01M251.3,359.6h.01M256.2,343.4h.01" fill="none" stroke="#8e8e8e" stroke-width="2.0" stroke-linecap="round"/>
<path d="M210.56,388.77 L215.45,385.53 L221.97,377.75 L233.38,392.01 L244.79,382.29 L256.20,359.59 L262.72,323.92" fill="none" stroke="#6038ac" stroke-width="0.85"/>
<path d="M210.6,388.8h.01M215.4,385.5h.01M222.0,377.7h.01M233.4,392.0h.01M244.8,382.3h.01M256.2,359.6h.01M262.7,323.9h.01" fill="none" stroke="#4a2492" stroke-width="2.2" stroke-linecap="square"/>
<path d="M210.56,390.72 L215.45,387.48 L221.97,382.29 L233.38,394.61 L244.79,393.31 L256.20,385.53 L267.61,379.05 L274.13,349.86 L279.02,328.46" fill="none" stroke="#6038ac" stroke-width="0.85"/>
<path d="M210.6,390.7h.01M215.4,387.5h.01M222.0,382.3h.01M233.4,394.6h.01M244.8,393.3h.01M256.2,385.5h.01M267.6,379.0h.01M274.1,349.9h.01M279.0,328.5h.01" fill="none" stroke="#4a2492" stroke-width="2.2" stroke-linecap="square"/>
<path d="M210.56,392.01 L215.45,389.42 L221.97,385.53 L233.38,396.55 L244.79,397.20 L256.20,397.20 L267.61,394.93 L274.13,382.94 L279.02,369.32 L285.54,351.48 L290.43,330.08" fill="none" stroke="#6038ac" stroke-width="0.85"/>
<path d="M210.6,392.0h.01M215.4,389.4h.01M222.0,385.5h.01M233.4,396.6h.01M244.8,397.2h.01M256.2,397.2h.01M267.6,394.9h.01M274.1,382.9h.01M279.0,369.3h.01M285.5,351.5h.01M290.4,330.1h.01" fill="none" stroke="#4a2492" stroke-width="2.2" stroke-linecap="square"/>
<path d="M210.56,390.07 L215.45,388.77 L221.97,386.83 L233.38,397.20 L244.79,397.85 L256.20,397.85 L267.61,396.88 L274.13,387.15 L282.28,374.51 L285.54,364.78 L290.43,348.57 L293.69,333.65" fill="none" stroke="#6038ac" stroke-width="0.85"/>
<path d="M210.6,390.1h.01M215.4,388.8h.01M222.0,386.8h.01M233.4,397.2h.01M244.8,397.9h.01M256.2,397.9h.01M267.6,396.9h.01M274.1,387.2h.01M282.3,374.5h.01M285.5,364.8h.01M290.4,348.6h.01M293.7,333.6h.01" fill="none" stroke="#4a2492" stroke-width="2.2" stroke-linecap="square"/>
<path d="M210.56,392.01 L215.45,390.07 L221.97,388.77 L233.38,397.85 L244.79,398.50 L256.20,398.50 L267.61,398.50 L274.13,398.50 L285.54,398.50 L296.95,398.50 L308.36,398.50 L319.77,398.50 L332.81,398.50" fill="none" stroke="#6038ac" stroke-width="0.85"/>
<path d="M210.6,392.0h.01M215.4,390.1h.01M222.0,388.8h.01M233.4,397.9h.01M244.8,398.5h.01M256.2,398.5h.01M267.6,398.5h.01M274.1,398.5h.01M285.5,398.5h.01M296.9,398.5h.01M308.4,398.5h.01M319.8,398.5h.01M332.8,398.5h.01" fill="none" stroke="#4a2492" stroke-width="2.2" stroke-linecap="square"/>
<path d="M210.56,389.42 L215.45,391.37 L221.97,390.72 L233.38,396.88 L244.79,397.98 L256.20,398.18 L267.61,398.50" fill="none" stroke="#6038ac" stroke-width="0.85"/>
<path d="M210.6,389.4h.01M215.4,391.4h.01M222.0,390.7h.01M233.4,396.9h.01M244.8,398.0h.01M256.2,398.2h.01M267.6,398.5h.01" fill="none" stroke="#4a2492" stroke-width="2.2" stroke-linecap="square"/>
<path d="M210.56,391.37 L215.45,388.12 L221.97,383.58 L233.38,395.91 L244.79,397.53 L256.20,397.98 L267.61,397.85" fill="none" stroke="#6038ac" stroke-width="0.85"/>
<path d="M210.6,391.4h.01M215.4,388.1h.01M222.0,383.6h.01M233.4,395.9h.01M244.8,397.5h.01M256.2,398.0h.01M267.6,397.9h.01" fill="none" stroke="#4a2492" stroke-width="2.2" stroke-linecap="square"/>
<line x1="304.00" y1="322.50" x2="312.00" y2="322.50" stroke="#9a9a9a" stroke-width="0.9"/>
<circle cx="308.00" cy="322.50" r="1.30" fill="#9a9a9a"/>
<text x="314.50" y="325.70" font-size="8.6" fill="#161616" stroke="#161616" stroke-width="0.28">EV</text>
<line x1="304.00" y1="333.80" x2="312.00" y2="333.80" stroke="#4a2492" stroke-width="0.9"/>
<rect x="306.80" y="332.60" width="2.40" height="2.40" fill="#4a2492"/>
<text x="314.50" y="337.00" font-size="8.6" fill="#161616" stroke="#161616" stroke-width="0.28">PADI4 OE</text>
<text x="286.00" y="383.30" font-size="7.65" fill="#e8522c" stroke="#e8522c" stroke-width="0.28">13/18: no palpable</text>
<text x="285.60" y="392.00" font-size="7.65" fill="#e8522c" stroke="#e8522c" stroke-width="0.28">tumor after 12 weeks</text>
<text x="360.50" y="309.60" font-size="10" font-weight="bold" fill="#000" stroke="#000" stroke-width="0.15">G</text>
<text x="368.70" y="359.50" font-size="8.7" text-anchor="middle" fill="#161616" stroke="#161616" stroke-width="0.28" transform="rotate(-90 368.70 359.50)">Percent survival</text>
<line x1="386.75" y1="316.50" x2="386.75" y2="402.50" stroke="#111" stroke-width="1.1"/>
<line x1="386.25" y1="402.00" x2="514.25" y2="402.00" stroke="#111" stroke-width="1.1"/>
<line x1="383.55" y1="402.00" x2="386.75" y2="402.00" stroke="#111" stroke-width="1.1"/>
<text x="382.45" y="405.10" font-size="8.25" text-anchor="end" fill="#161616" stroke="#161616" stroke-width="0.28">0</text>
<line x1="384.75" y1="380.75" x2="386.75" y2="380.75" stroke="#111" stroke-width="1.1"/>
<line x1="383.55" y1="359.50" x2="386.75" y2="359.50" stroke="#111" stroke-width="1.1"/>
<text x="382.45" y="362.60" font-size="8.25" text-anchor="end" fill="#161616" stroke="#161616" stroke-width="0.28">50</text>
<line x1="384.75" y1="338.25" x2="386.75" y2="338.25" stroke="#111" stroke-width="1.1"/>
<line x1="383.55" y1="317.00" x2="386.75" y2="317.00" stroke="#111" stroke-width="1.1"/>
<text x="382.45" y="320.10" font-size="8.25" text-anchor="end" fill="#161616" stroke="#161616" stroke-width="0.28">100</text>
<line x1="387.80" y1="402.00" x2="387.80" y2="405.20" stroke="#111" stroke-width="1.1"/>
<text x="387.80" y="412.60" font-size="8.25" text-anchor="middle" fill="#161616" stroke="#161616" stroke-width="0.28">0</text>
<line x1="417.42" y1="402.00" x2="417.42" y2="405.20" stroke="#111" stroke-width="1.1"/>
<text x="417.42" y="412.60" font-size="8.25" text-anchor="middle" fill="#161616" stroke="#161616" stroke-width="0.28">20</text>
<line x1="447.04" y1="402.00" x2="447.04" y2="405.20" stroke="#111" stroke-width="1.1"/>
<text x="447.04" y="412.60" font-size="8.25" text-anchor="middle" fill="#161616" stroke="#161616" stroke-width="0.28">40</text>
<line x1="476.66" y1="402.00" x2="476.66" y2="405.20" stroke="#111" stroke-width="1.1"/>
<text x="476.66" y="412.60" font-size="8.25" text-anchor="middle" fill="#161616" stroke="#161616" stroke-width="0.28">60</text>
<line x1="506.28" y1="402.00" x2="506.28" y2="405.20" stroke="#111" stroke-width="1.1"/>
<text x="506.28" y="412.60" font-size="8.25" text-anchor="middle" fill="#161616" stroke="#161616" stroke-width="0.28">80</text>
<text x="447.00" y="424.20" font-size="8.7" text-anchor="middle" fill="#161616" stroke="#161616" stroke-width="0.28">Days elapsed</text>
<path d="M387.50,317.50 L444.50,317.50 L444.50,322.50 L458.50,322.50 L458.50,331.50 L469.50,331.50 L469.50,336.50 L472.50,336.50 L472.50,340.50 L507.50,340.50" fill="none" stroke="#4a2492" stroke-width="1.2"/>
<line x1="506.28" y1="339.30" x2="506.28" y2="340.80" stroke="#4a2492" stroke-width="1"/>
<path d="M387.50,317.50 L435.50,317.50 L435.50,339.50 L439.50,339.50 L439.50,351.50 L442.50,351.50 L442.50,357.50 L445.50,357.50 L445.50,362.50 L452.50,362.50 L452.50,379.50 L455.50,379.50 L455.50,385.50 L460.50,385.50 L460.50,402.50" fill="none" stroke="#9a9a9a" stroke-width="1.25"/>
<line x1="470.50" y1="365.50" x2="480.00" y2="365.50" stroke="#9a9a9a" stroke-width="1"/>
<path d="M474.2,366.5l1,-2l1,2" fill="none" stroke="#9a9a9a" stroke-width="0.7"/>
<text x="481.60" y="368.60" font-size="8.0" fill="#161616" stroke="#161616" stroke-width="0.28">EV</text>
<line x1="470.50" y1="377.50" x2="480.00" y2="377.50" stroke="#4a2492" stroke-width="1.2"/>
<line x1="475.20" y1="376.00" x2="475.20" y2="377.50" stroke="#4a2492" stroke-width="0.9"/>
<text x="481.60" y="380.50" font-size="8.0" fill="#161616" stroke="#161616" stroke-width="0.28">PADI4 OE</text>
<text x="391.30" y="387.50" font-size="8.7" fill="#161616" stroke="#161616" stroke-width="0.28">Log rank test</text>
<text x="391.30" y="397.70" font-size="8.7" fill="#161616" stroke="#161616" stroke-width="0.28"><tspan font-style="italic">P</tspan> &lt; 0.0001</text>
<text x="5.50" y="449.60" font-size="10" font-weight="bold" fill="#000" stroke="#000" stroke-width="0.15">H</text>
<text x="36.80" y="497.00" font-size="8.7" text-anchor="middle" fill="#161616" stroke="#161616" stroke-width="0.28" transform="rotate(-90 36.80 497.00)">Tumor volume (mm<tspan font-size="6.2" dy="-3">3</tspan><tspan dy="3">)</tspan></text>
<line x1="65.50" y1="449.50" x2="65.50" y2="542.50" stroke="#111" stroke-width="1.1"/>
<line x1="65.00" y1="542.00" x2="205.80" y2="542.00" stroke="#111" stroke-width="1.1"/>
<line x1="62.30" y1="541.30" x2="65.50" y2="541.30" stroke="#111" stroke-width="1.1"/>
<text x="61.00" y="544.40" font-size="8.25" text-anchor="end" fill="#161616" stroke="#161616" stroke-width="0.28">0</text>
<line x1="62.30" y1="523.04" x2="65.50" y2="523.04" stroke="#111" stroke-width="1.1"/>
<text x="61.00" y="526.14" font-size="8.25" text-anchor="end" fill="#161616" stroke="#161616" stroke-width="0.28">100</text>
<line x1="62.30" y1="504.78" x2="65.50" y2="504.78" stroke="#111" stroke-width="1.1"/>
<text x="61.00" y="507.88" font-size="8.25" text-anchor="end" fill="#161616" stroke="#161616" stroke-width="0.28">200</text>
<line x1="62.30" y1="486.52" x2="65.50" y2="486.52" stroke="#111" stroke-width="1.1"/>
<text x="61.00" y="489.62" font-size="8.25" text-anchor="end" fill="#161616" stroke="#161616" stroke-width="0.28">300</text>
<line x1="62.30" y1="468.26" x2="65.50" y2="468.26" stroke="#111" stroke-width="1.1"/>
<text x="61.00" y="471.36" font-size="8.25" text-anchor="end" fill="#161616" stroke="#161616" stroke-width="0.28">400</text>
<line x1="62.30" y1="450.00" x2="65.50" y2="450.00" stroke="#111" stroke-width="1.1"/>
<text x="61.00" y="453.10" font-size="8.25" text-anchor="end" fill="#161616" stroke="#161616" stroke-width="0.28">500</text>
<line x1="72.38" y1="542.00" x2="72.38" y2="544.00" stroke="#111" stroke-width="1.1"/>
<line x1="91.40" y1="542.00" x2="91.40" y2="545.20" stroke="#111" stroke-width="1.1"/>
<text x="91.40" y="553.80" font-size="8.25" text-anchor="middle" fill="#161616" stroke="#161616" stroke-width="0.28">10</text>
<line x1="110.43" y1="542.00" x2="110.43" y2="544.00" stroke="#111" stroke-width="1.1"/>
<line x1="129.45" y1="542.00" x2="129.45" y2="545.20" stroke="#111" stroke-width="1.1"/>
<text x="129.45" y="553.80" font-size="8.25" text-anchor="middle" fill="#161616" stroke="#161616" stroke-width="0.28">15</text>
<line x1="148.48" y1="542.00" x2="148.48" y2="544.00" stroke="#111" stroke-width="1.1"/>
<line x1="167.50" y1="542.00" x2="167.50" y2="545.20" stroke="#111" stroke-width="1.1"/>
<text x="167.50" y="553.80" font-size="8.25" text-anchor="middle" fill="#161616" stroke="#161616" stroke-width="0.28">20</text>
<line x1="186.53" y1="542.00" x2="186.53" y2="544.00" stroke="#111" stroke-width="1.1"/>
<line x1="205.55" y1="542.00" x2="205.55" y2="545.20" stroke="#111" stroke-width="1.1"/>
<text x="205.55" y="553.80" font-size="8.25" text-anchor="middle" fill="#161616" stroke="#161616" stroke-width="0.28">25</text>
<text x="136.00" y="566.30" font-size="8.7" text-anchor="middle" fill="#161616" stroke="#161616" stroke-width="0.28">Days elapsed</text>
<line x1="68.57" y1="527.24" x2="68.57" y2="517.01" stroke="#b79ae0" stroke-width="0.8"/>
<line x1="66.87" y1="527.24" x2="70.27" y2="527.24" stroke="#b79ae0" stroke-width="0.8"/>
<line x1="66.87" y1="517.01" x2="70.27" y2="517.01" stroke="#b79ae0" stroke-width="0.8"/>
<line x1="83.79" y1="527.97" x2="83.79" y2="523.59" stroke="#b79ae0" stroke-width="0.8"/>
<line x1="82.09" y1="527.97" x2="85.49" y2="527.97" stroke="#b79ae0" stroke-width="0.8"/>
<line x1="82.09" y1="523.59" x2="85.49" y2="523.59" stroke="#b79ae0" stroke-width="0.8"/>
<line x1="99.01" y1="532.17" x2="99.01" y2="528.52" stroke="#b79ae0" stroke-width="0.8"/>
<line x1="97.31" y1="532.17" x2="100.71" y2="532.17" stroke="#b79ae0" stroke-width="0.8"/>
<line x1="97.31" y1="528.52" x2="100.71" y2="528.52" stroke="#b79ae0" stroke-width="0.8"/>
<line x1="121.84" y1="536.73" x2="121.84" y2="533.08" stroke="#b79ae0" stroke-width="0.8"/>
<line x1="120.14" y1="536.73" x2="123.54" y2="536.73" stroke="#b79ae0" stroke-width="0.8"/>
<line x1="120.14" y1="533.08" x2="123.54" y2="533.08" stroke="#b79ae0" stroke-width="0.8"/>
<line x1="137.06" y1="539.66" x2="137.06" y2="537.47" stroke="#b79ae0" stroke-width="0.8"/>
<line x1="135.36" y1="539.66" x2="138.76" y2="539.66" stroke="#b79ae0" stroke-width="0.8"/>
<line x1="135.36" y1="537.47" x2="138.76" y2="537.47" stroke="#b79ae0" stroke-width="0.8"/>
<path d="M68.57,522.13 L83.79,525.78 L99.01,530.34 L121.84,534.91 L137.06,538.56 L152.28,540.93 L175.11,541.12 L190.33,541.12" fill="none" stroke="#b79ae0" stroke-width="1"/>
<path d="M66.57,520.53h4l-2,3.4z" fill="#b79ae0" stroke="none" stroke-width="1"/>
<path d="M81.79,524.18h4l-2,3.4z" fill="#b79ae0" stroke="none" stroke-width="1"/>
<path d="M97.01,528.74h4l-2,3.4z" fill="#b79ae0" stroke="none" stroke-width="1"/>
<path d="M119.84,533.31h4l-2,3.4z" fill="#b79ae0" stroke="none" stroke-width="1"/>
<path d="M135.06,536.96h4l-2,3.4z" fill="#b79ae0" stroke="none" stroke-width="1"/>
<path d="M150.28,539.33h4l-2,3.4z" fill="#b79ae0" stroke="none" stroke-width="1"/>
<path d="M173.11,539.52h4l-2,3.4z" fill="#b79ae0" stroke="none" stroke-width="1"/>
<path d="M188.33,539.52h4l-2,3.4z" fill="#b79ae0" stroke="none" stroke-width="1"/>
<line x1="68.57" y1="525.78" x2="68.57" y2="520.30" stroke="#4a2492" stroke-width="0.8"/>
<line x1="66.87" y1="525.78" x2="70.27" y2="525.78" stroke="#4a2492" stroke-width="0.8"/>
<line x1="66.87" y1="520.30" x2="70.27" y2="520.30" stroke="#4a2492" stroke-width="0.8"/>
<line x1="83.79" y1="528.88" x2="83.79" y2="525.23" stroke="#4a2492" stroke-width="0.8"/>
<line x1="82.09" y1="528.88" x2="85.49" y2="528.88" stroke="#4a2492" stroke-width="0.8"/>
<line x1="82.09" y1="525.23" x2="85.49" y2="525.23" stroke="#4a2492" stroke-width="0.8"/>
<line x1="99.01" y1="534.54" x2="99.01" y2="531.62" stroke="#4a2492" stroke-width="0.8"/>
<line x1="97.31" y1="534.54" x2="100.71" y2="534.54" stroke="#4a2492" stroke-width="0.8"/>
<line x1="97.31" y1="531.62" x2="100.71" y2="531.62" stroke="#4a2492" stroke-width="0.8"/>
<line x1="121.84" y1="540.20" x2="121.84" y2="538.74" stroke="#4a2492" stroke-width="0.8"/>
<line x1="120.14" y1="540.20" x2="123.54" y2="540.20" stroke="#4a2492" stroke-width="0.8"/>
<line x1="120.14" y1="538.74" x2="123.54" y2="538.74" stroke="#4a2492" stroke-width="0.8"/>
<line x1="137.06" y1="540.93" x2="137.06" y2="540.57" stroke="#4a2492" stroke-width="0.8"/>
<line x1="135.36" y1="540.93" x2="138.76" y2="540.93" stroke="#4a2492" stroke-width="0.8"/>
<line x1="135.36" y1="540.57" x2="138.76" y2="540.57" stroke="#4a2492" stroke-width="0.8"/>
<path d="M68.57,523.04 L83.79,527.06 L99.01,533.08 L121.84,539.47 L137.06,540.75 L152.28,541.12 L175.11,541.12 L190.33,541.12" fill="none" stroke="#4a2492" stroke-width="1"/>
<path d="M66.57,524.64h4l-2,-3.4z" fill="#4a2492" stroke="none" stroke-width="1"/>
<path d="M81.79,528.66h4l-2,-3.4z" fill="#4a2492" stroke="none" stroke-width="1"/>
<path d="M97.01,534.68h4l-2,-3.4z" fill="#4a2492" stroke="none" stroke-width="1"/>
<path d="M119.84,541.07h4l-2,-3.4z" fill="#4a2492" stroke="none" stroke-width="1"/>
<path d="M135.06,542.35h4l-2,-3.4z" fill="#4a2492" stroke="none" stroke-width="1"/>
<path d="M150.28,542.72h4l-2,-3.4z" fill="#4a2492" stroke="none" stroke-width="1"/>
<path d="M173.11,542.72h4l-2,-3.4z" fill="#4a2492" stroke="none" stroke-width="1"/>
<path d="M188.33,542.72h4l-2,-3.4z" fill="#4a2492" stroke="none" stroke-width="1"/>
<line x1="68.57" y1="532.17" x2="68.57" y2="528.52" stroke="#9c9c9c" stroke-width="0.8"/>
<line x1="66.87" y1="532.17" x2="70.27" y2="532.17" stroke="#9c9c9c" stroke-width="0.8"/>
<line x1="66.87" y1="528.52" x2="70.27" y2="528.52" stroke="#9c9c9c" stroke-width="0.8"/>
<line x1="83.79" y1="526.69" x2="83.79" y2="523.04" stroke="#9c9c9c" stroke-width="0.8"/>
<line x1="82.09" y1="526.69" x2="85.49" y2="526.69" stroke="#9c9c9c" stroke-width="0.8"/>
<line x1="82.09" y1="523.04" x2="85.49" y2="523.04" stroke="#9c9c9c" stroke-width="0.8"/>
<line x1="99.01" y1="524.87" x2="99.01" y2="521.21" stroke="#9c9c9c" stroke-width="0.8"/>
<line x1="97.31" y1="524.87" x2="100.71" y2="524.87" stroke="#9c9c9c" stroke-width="0.8"/>
<line x1="97.31" y1="521.21" x2="100.71" y2="521.21" stroke="#9c9c9c" stroke-width="0.8"/>
<line x1="121.84" y1="520.67" x2="121.84" y2="512.63" stroke="#9c9c9c" stroke-width="0.8"/>
<line x1="120.14" y1="520.67" x2="123.54" y2="520.67" stroke="#9c9c9c" stroke-width="0.8"/>
<line x1="120.14" y1="512.63" x2="123.54" y2="512.63" stroke="#9c9c9c" stroke-width="0.8"/>
<line x1="137.06" y1="519.39" x2="137.06" y2="510.26" stroke="#9c9c9c" stroke-width="0.8"/>
<line x1="135.36" y1="519.39" x2="138.76" y2="519.39" stroke="#9c9c9c" stroke-width="0.8"/>
<line x1="135.36" y1="510.26" x2="138.76" y2="510.26" stroke="#9c9c9c" stroke-width="0.8"/>
<line x1="152.28" y1="519.02" x2="152.28" y2="508.07" stroke="#9c9c9c" stroke-width="0.8"/>
<line x1="150.58" y1="519.02" x2="153.98" y2="519.02" stroke="#9c9c9c" stroke-width="0.8"/>
<line x1="150.58" y1="508.07" x2="153.98" y2="508.07" stroke="#9c9c9c" stroke-width="0.8"/>
<line x1="175.11" y1="518.11" x2="175.11" y2="498.02" stroke="#9c9c9c" stroke-width="0.8"/>
<line x1="173.41" y1="518.11" x2="176.81" y2="518.11" stroke="#9c9c9c" stroke-width="0.8"/>
<line x1="173.41" y1="498.02" x2="176.81" y2="498.02" stroke="#9c9c9c" stroke-width="0.8"/>
<line x1="190.33" y1="501.13" x2="190.33" y2="464.61" stroke="#9c9c9c" stroke-width="0.8"/>
<line x1="188.63" y1="501.13" x2="192.03" y2="501.13" stroke="#9c9c9c" stroke-width="0.8"/>
<line x1="188.63" y1="464.61" x2="192.03" y2="464.61" stroke="#9c9c9c" stroke-width="0.8"/>
<path d="M68.57,530.34 L83.79,524.87 L99.01,523.04 L121.84,516.65 L137.06,514.82 L152.28,513.54 L175.11,508.07 L190.33,482.87" fill="none" stroke="#9c9c9c" stroke-width="1"/>
<rect x="66.57" y="528.34" width="4.00" height="4.00" fill="#9c9c9c"/>
<rect x="81.79" y="522.87" width="4.00" height="4.00" fill="#9c9c9c"/>
<rect x="97.01" y="521.04" width="4.00" height="4.00" fill="#9c9c9c"/>
<rect x="119.84" y="514.65" width="4.00" height="4.00" fill="#9c9c9c"/>
<rect x="135.06" y="512.82" width="4.00" height="4.00" fill="#9c9c9c"/>
<rect x="150.28" y="511.54" width="4.00" height="4.00" fill="#9c9c9c"/>
<rect x="173.11" y="506.07" width="4.00" height="4.00" fill="#9c9c9c"/>
<rect x="188.33" y="480.87" width="4.00" height="4.00" fill="#9c9c9c"/>
<line x1="68.57" y1="533.63" x2="68.57" y2="530.71" stroke="#111" stroke-width="0.8"/>
<line x1="66.87" y1="533.63" x2="70.27" y2="533.63" stroke="#111" stroke-width="0.8"/>
<line x1="66.87" y1="530.71" x2="70.27" y2="530.71" stroke="#111" stroke-width="0.8"/>
<line x1="83.79" y1="529.07" x2="83.79" y2="526.14" stroke="#111" stroke-width="0.8"/>
<line x1="82.09" y1="529.07" x2="85.49" y2="529.07" stroke="#111" stroke-width="0.8"/>
<line x1="82.09" y1="526.14" x2="85.49" y2="526.14" stroke="#111" stroke-width="0.8"/>
<line x1="99.01" y1="526.69" x2="99.01" y2="523.77" stroke="#111" stroke-width="0.8"/>
<line x1="97.31" y1="526.69" x2="100.71" y2="526.69" stroke="#111" stroke-width="0.8"/>
<line x1="97.31" y1="523.77" x2="100.71" y2="523.77" stroke="#111" stroke-width="0.8"/>
<line x1="121.84" y1="524.50" x2="121.84" y2="521.58" stroke="#111" stroke-width="0.8"/>
<line x1="120.14" y1="524.50" x2="123.54" y2="524.50" stroke="#111" stroke-width="0.8"/>
<line x1="120.14" y1="521.58" x2="123.54" y2="521.58" stroke="#111" stroke-width="0.8"/>
<line x1="137.06" y1="524.87" x2="137.06" y2="521.94" stroke="#111" stroke-width="0.8"/>
<line x1="135.36" y1="524.87" x2="138.76" y2="524.87" stroke="#111" stroke-width="0.8"/>
<line x1="135.36" y1="521.94" x2="138.76" y2="521.94" stroke="#111" stroke-width="0.8"/>
<line x1="152.28" y1="529.07" x2="152.28" y2="522.49" stroke="#111" stroke-width="0.8"/>
<line x1="150.58" y1="529.07" x2="153.98" y2="529.07" stroke="#111" stroke-width="0.8"/>
<line x1="150.58" y1="522.49" x2="153.98" y2="522.49" stroke="#111" stroke-width="0.8"/>
<line x1="175.11" y1="529.43" x2="175.11" y2="521.40" stroke="#111" stroke-width="0.8"/>
<line x1="173.41" y1="529.43" x2="176.81" y2="529.43" stroke="#111" stroke-width="0.8"/>
<line x1="173.41" y1="521.40" x2="176.81" y2="521.40" stroke="#111" stroke-width="0.8"/>
<line x1="190.33" y1="531.80" x2="190.33" y2="522.67" stroke="#111" stroke-width="0.8"/>
<line x1="188.63" y1="531.80" x2="192.03" y2="531.80" stroke="#111" stroke-width="0.8"/>
<line x1="188.63" y1="522.67" x2="192.03" y2="522.67" stroke="#111" stroke-width="0.8"/>
<path d="M68.57,532.17 L83.79,527.60 L99.01,525.23 L121.84,523.04 L137.06,523.41 L152.28,525.78 L175.11,525.41 L190.33,527.24" fill="none" stroke="#111" stroke-width="1"/>
<circle cx="68.57" cy="532.17" r="2.10" fill="#111"/>
<circle cx="83.79" cy="527.60" r="2.10" fill="#111"/>
<circle cx="99.01" cy="525.23" r="2.10" fill="#111"/>
<circle cx="121.84" cy="523.04" r="2.10" fill="#111"/>
<circle cx="137.06" cy="523.41" r="2.10" fill="#111"/>
<circle cx="152.28" cy="525.78" r="2.10" fill="#111"/>
<circle cx="175.11" cy="525.41" r="2.10" fill="#111"/>
<circle cx="190.33" cy="527.24" r="2.10" fill="#111"/>
<line x1="76.75" y1="455.50" x2="86.75" y2="455.50" stroke="#111" stroke-width="1"/>
<circle cx="81.75" cy="455.50" r="2.10" fill="#111"/>
<text x="88.75" y="458.60" font-size="8.7" fill="#161616" stroke="#161616" stroke-width="0.28">sgCntrl</text>
<line x1="76.75" y1="468.45" x2="86.75" y2="468.45" stroke="#9c9c9c" stroke-width="1"/>
<rect x="79.75" y="466.45" width="4.00" height="4.00" fill="#9c9c9c"/>
<text x="88.75" y="471.55" font-size="8.7" fill="#161616" stroke="#161616" stroke-width="0.28">PADI4 KO</text>
<line x1="76.75" y1="481.40" x2="86.75" y2="481.40" stroke="#4a2492" stroke-width="1"/>
<path d="M79.75,483.00h4l-2,-3.4z" fill="#4a2492" stroke="none" stroke-width="1"/>
<text x="88.75" y="484.50" font-size="8.7" fill="#161616" stroke="#161616" stroke-width="0.28">PADI4 A1</text>
<line x1="76.75" y1="494.35" x2="86.75" y2="494.35" stroke="#b79ae0" stroke-width="1"/>
<path d="M79.75,492.75h4l-2,3.4z" fill="#b79ae0" stroke="none" stroke-width="1"/>
<text x="88.75" y="497.45" font-size="8.7" fill="#161616" stroke="#161616" stroke-width="0.28">PADI4 A2</text>
<path d="M197.00,480.75 L202.50,480.75 L202.50,527.00 L197.00,527.00" fill="none" stroke="#777" stroke-width="1"/>
<text x="206.30" y="508.50" font-size="8" text-anchor="middle" font-weight="bold" fill="#222" stroke="#222" stroke-width="0.15">*</text>
<rect x="53.20" y="572.50" width="153.00" height="15.00" fill="#f1eff9"/>
<rect x="53.20" y="572.50" width="153.00" height="77.20" fill="none" stroke="#3b3b90" stroke-width="1"/>
<line x1="53.20" y1="587.50" x2="206.20" y2="587.50" stroke="#3b3b90" stroke-width="1"/>
<line x1="129.30" y1="572.50" x2="129.30" y2="649.70" stroke="#3b3b90" stroke-width="0.8"/>
<text x="91.20" y="583.60" font-size="8.7" text-anchor="middle" font-weight="bold" fill="#4a48a2" stroke="#4a48a2" stroke-width="0.15">Group</text>
<text x="167.70" y="583.60" font-size="8.7" text-anchor="middle" font-weight="bold" fill="#4a48a2" stroke="#4a48a2" stroke-width="0.15">Tumor incidence</text>
<text x="91.20" y="598.20" font-size="8.7" text-anchor="middle" fill="#161616" stroke="#161616" stroke-width="0.28">sgControl</text>
<text x="167.70" y="598.20" font-size="8.7" text-anchor="middle" fill="#161616" stroke="#161616" stroke-width="0.28">10/13</text>
<text x="91.20" y="613.60" font-size="8.7" text-anchor="middle" fill="#161616" stroke="#161616" stroke-width="0.28">PADI4 KO</text>
<text x="167.70" y="613.60" font-size="8.7" text-anchor="middle" fill="#161616" stroke="#161616" stroke-width="0.28">9/9</text>
<text x="91.20" y="629.00" font-size="8.7" text-anchor="middle" fill="#161616" stroke="#161616" stroke-width="0.28">PADI4 A1</text>
<text x="167.70" y="629.00" font-size="8.7" text-anchor="middle" fill="#161616" stroke="#161616" stroke-width="0.28">0/12</text>
<text x="91.20" y="644.40" font-size="8.7" text-anchor="middle" fill="#161616" stroke="#161616" stroke-width="0.28">PADI4 A2</text>
<text x="167.70" y="644.40" font-size="8.7" text-anchor="middle" fill="#161616" stroke="#161616" stroke-width="0.28">0/12</text>
<text x="5.30" y="668.00" font-size="10" font-weight="bold" fill="#000" stroke="#000" stroke-width="0.15">I</text>
<text x="12.60" y="730.00" font-size="8.7" text-anchor="middle" fill="#161616" stroke="#161616" stroke-width="0.28" transform="rotate(-90 12.60 730.00)">–Log<tspan font-size="5.8" dy="1.8">10</tspan><tspan dy="-1.8"> (</tspan><tspan font-style="italic">P</tspan>)</text>
<line x1="111.80" y1="662.50" x2="111.80" y2="793.75" stroke="#a8a8a8" stroke-width="0.8"/>
<line x1="151.20" y1="662.50" x2="151.20" y2="793.75" stroke="#a8a8a8" stroke-width="0.8"/>
<line x1="33.75" y1="790.20" x2="228.00" y2="790.20" stroke="#b0b0b0" stroke-width="0.7"/>
<path d="M133.3,792.9h.01M136.6,793.2h.01M145.1,789.5h.01M151.4,782.8h.01M117.6,790.7h.01M146.3,785.9h.01M138.4,793.0h.01M133.6,792.4h.01M112.7,778.2h.01M140.3,787.9h.01M148.4,786.0h.01M139.4,792.7h.01M120.1,785.2h.01M136.6,792.2h.01M126.9,792.2h.01M134.9,791.4h.01M148.7,780.1h.01M128.7,791.8h.01M126.3,790.4h.01M140.1,791.7h.01M124.3,793.0h.01M127.9,791.1h.01M143.6,788.7h.01M123.2,788.8h.01M144.6,792.6h.01M124.7,789.4h.01M135.2,792.1h.01M130.1,792.6h.01M119.3,788.6h.01M117.7,792.5h.01M135.2,792.6h.01M139.1,790.6h.01M137.3,791.0h.01M136.3,790.5h.01M128.7,792.0h.01M123.5,788.1h.01M133.4,793.7h.01M134.7,793.6h.01M136.8,793.2h.01M130.1,792.5h.01M139.8,788.9h.01M113.8,781.8h.01M125.7,792.2h.01M135.2,792.5h.01M124.0,791.1h.01M123.5,790.9h.01M144.1,785.7h.01M120.3,786.4h.01M118.9,788.2h.01M115.5,787.5h.01M144.9,787.6h.01M133.7,793.2h.01M137.5,789.9h.01M120.4,791.8h.01M119.1,785.3h.01M134.7,791.7h.01M143.8,789.1h.01M123.1,788.6h.01M125.3,791.4h.01M127.9,791.3h.01M111.6,775.9h.01M138.8,788.7h.01M149.6,778.3h.01M141.4,787.3h.01M132.3,793.2h.01M120.5,792.5h.01M122.9,788.4h.01M147.7,782.9h.01M148.3,783.7h.01M141.4,791.6h.01M138.0,790.8h.01M149.1,782.6h.01M121.6,787.1h.01M142.8,789.5h.01M132.9,792.4h.01M143.2,785.1h.01M118.7,784.8h.01M136.7,790.5h.01M122.3,791.1h.01M128.4,792.4h.01M134.8,793.2h.01M114.2,778.6h.01M131.5,793.5h.01M124.1,791.4h.01M137.4,790.9h.01M119.1,789.2h.01M133.7,792.2h.01M114.6,789.3h.01M135.7,791.2h.01M143.6,786.9h.01M126.4,791.6h.01M128.3,791.9h.01M121.3,788.8h.01M114.3,785.4h.01M146.8,781.4h.01M147.5,782.1h.01M130.1,793.4h.01M120.7,786.8h.01M140.9,789.1h.01M135.0,793.7h.01M142.5,792.8h.01M115.4,781.0h.01M112.3,778.1h.01M145.3,785.2h.01M114.0,778.7h.01M143.5,792.8h.01M115.9,791.0h.01M149.0,791.6h.01M134.1,791.9h.01M118.6,789.8h.01M141.7,789.8h.01M127.3,792.3h.01M114.8,784.7h.01M130.4,792.9h.01M117.9,785.2h.01M126.0,791.5h.01M147.5,790.1h.01M141.5,786.8h.01M129.2,792.2h.01M122.2,791.5h.01M124.1,791.9h.01M149.7,786.7h.01M128.0,791.5h.01M122.1,791.4h.01M130.7,793.0h.01M125.9,792.0h.01M120.9,791.7h.01M118.3,787.5h.01M133.2,792.2h.01M130.7,792.6h.01M118.5,783.6h.01M120.6,790.7h.01M138.5,789.0h.01M140.9,791.2h.01M121.8,791.5h.01M145.9,782.6h.01M146.2,788.3h.01M140.7,792.5h.01M144.9,789.2h.01M134.7,791.9h.01M124.9,791.2h.01M119.8,787.5h.01M121.9,792.2h.01M138.1,792.7h.01M139.3,788.6h.01M149.2,785.8h.01M131.9,792.7h.01M143.8,789.9h.01M123.3,788.0h.01M133.0,793.4h.01M125.6,790.5h.01M134.2,793.1h.01M136.8,792.7h.01M128.7,791.6h.01M124.7,790.0h.01M133.7,792.3h.01M124.0,792.2h.01M140.2,788.6h.01M141.1,790.3h.01M126.8,790.8h.01M131.7,793.3h.01M127.3,792.3h.01M127.6,791.9h.01M120.0,791.8h.01M115.4,790.7h.01M146.7,783.4h.01M119.0,788.4h.01M144.2,785.5h.01M117.3,787.6h.01M132.6,792.7h.01M121.5,787.4h.01M143.7,784.9h.01M122.2,789.1h.01M150.7,780.2h.01M146.0,786.5h.01M140.6,793.7h.01M139.9,789.2h.01M132.5,792.9h.01M132.7,793.6h.01M137.4,791.4h.01M149.9,778.3h.01M143.2,787.2h.01M125.9,792.3h.01M133.1,792.2h.01M146.4,784.1h.01M145.9,785.4h.01M128.1,792.6h.01M115.7,780.9h.01M116.2,785.9h.01M113.1,791.0h.01M117.9,786.9h.01M133.0,792.8h.01M123.6,790.5h.01M137.9,791.4h.01M147.6,782.8h.01M126.3,791.4h.01M120.4,793.6h.01M142.9,791.5h.01M119.3,790.5h.01M127.6,793.0h.01M115.8,789.9h.01M113.8,792.6h.01M127.8,791.7h.01M127.6,792.3h.01M150.2,787.9h.01M130.5,793.3h.01M125.3,792.8h.01M140.6,791.0h.01M121.5,790.8h.01M136.4,791.3h.01M115.2,782.9h.01M130.8,793.6h.01M118.3,792.7h.01M137.7,789.7h.01M150.5,783.3h.01M131.0,792.5h.01M139.7,789.6h.01M133.3,793.4h.01M145.6,791.2h.01M124.8,790.2h.01M138.9,789.6h.01M145.9,785.9h.01M124.9,792.1h.01M139.2,790.5h.01M118.2,785.2h.01M140.0,790.6h.01M117.6,784.8h.01M130.2,792.4h.01M115.3,788.6h.01M118.8,784.6h.01M147.5,782.7h.01M126.3,793.2h.01M149.8,790.3h.01M115.8,791.4h.01M121.1,792.8h.01M137.3,791.0h.01M120.6,785.7h.01M134.0,792.6h.01M115.7,784.2h.01M125.3,792.5h.01M144.6,791.5h.01M150.2,788.2h.01M130.1,793.5h.01M120.4,786.2h.01M137.2,790.5h.01M123.9,790.7h.01M145.0,786.1h.01M142.5,791.0h.01M130.1,792.4h.01M125.3,791.2h.01M133.6,792.2h.01M137.5,790.8h.01M125.5,789.6h.01M128.7,793.4h.01M118.0,783.4h.01M146.6,781.2h.01M148.8,783.8h.01M149.5,778.7h.01M114.6,785.8h.01M133.2,792.1h.01M148.9,789.0h.01M140.4,791.0h.01M137.1,793.3h.01M122.5,790.1h.01M141.2,787.9h.01M115.6,787.9h.01M114.5,789.7h.01M123.2,787.9h.01M117.9,788.8h.01M132.5,792.8h.01M145.7,788.9h.01M147.0,782.3h.01M121.2,787.1h.01M116.7,785.8h.01M118.1,792.4h.01M142.4,788.9h.01M137.6,793.3h.01M111.9,783.6h.01M113.5,783.1h.01M123.9,791.7h.01M121.9,792.9h.01M136.6,791.0h.01M134.2,793.2h.01M124.6,789.6h.01M144.8,786.7h.01M118.2,793.1h.01M147.5,780.9h.01M138.2,789.3h.01M123.4,790.1h.01M118.8,786.0h.01M125.4,791.0h.01M125.5,791.4h.01M124.1,790.4h.01M145.6,783.6h.01M138.8,790.1h.01M134.5,792.2h.01M122.7,788.7h.01M143.2,789.2h.01M147.4,780.5h.01M119.2,784.6h.01M126.8,790.9h.01M122.3,787.2h.01M140.3,790.9h.01M122.7,792.2h.01M150.8,790.7h.01M119.4,792.1h.01M141.3,787.3h.01M144.3,793.5h.01M150.0,791.1h.01M130.8,793.2h.01M113.3,787.8h.01M144.7,790.6h.01M148.3,782.5h.01M117.1,792.2h.01M134.4,791.8h.01M137.2,793.3h.01M122.1,792.3h.01M151.1,786.3h.01M117.2,791.0h.01M148.2,791.3h.01M149.2,778.0h.01M129.4,793.0h.01M149.6,783.9h.01M124.0,793.4h.01M141.5,787.5h.01M130.1,792.7h.01M132.9,792.3h.01M135.3,791.1h.01M142.4,786.4h.01M122.1,791.5h.01M150.7,784.3h.01M112.0,777.3h.01M146.5,785.7h.01M130.7,793.5h.01M129.1,793.2h.01M124.4,790.7h.01M124.2,791.2h.01M150.8,776.7h.01M135.6,790.9h.01M116.4,785.9h.01M125.1,790.5h.01M150.3,783.9h.01M132.8,792.3h.01M124.5,790.6h.01M136.2,793.2h.01M145.5,784.1h.01M145.7,787.7h.01M126.9,791.6h.01M136.6,791.8h.01M129.3,792.9h.01M127.4,792.3h.01M146.6,785.0h.01M120.2,789.4h.01M117.0,791.7h.01M122.8,793.2h.01M148.4,784.1h.01M144.7,784.3h.01M122.4,790.0h.01M116.3,782.0h.01M130.5,792.4h.01M119.0,785.1h.01M114.8,792.6h.01M111.7,777.5h.01M122.4,790.3h.01M128.8,792.2h.01M128.9,793.3h.01M130.0,792.8h.01M127.7,791.0h.01M111.8,782.8h.01M147.4,781.8h.01M128.2,792.1h.01M134.4,793.3h.01M112.5,777.1h.01M134.5,793.3h.01M130.2,792.3h.01M122.8,787.6h.01M132.6,793.2h.01M147.6,790.4h.01M136.3,792.1h.01M140.9,787.3h.01M131.0,793.6h.01M123.9,792.1h.01M124.9,792.2h.01M136.1,790.7h.01M119.9,791.0h.01M131.5,793.1h.01M129.6,792.2h.01M127.5,792.3h.01M121.5,790.8h.01M125.1,792.8h.01M129.2,792.4h.01M139.5,791.8h.01M135.9,792.8h.01M121.8,788.8h.01M129.2,793.5h.01M139.1,788.9h.01M134.7,792.8h.01M128.8,791.9h.01M125.1,791.6h.01M125.4,790.4h.01M140.8,789.0h.01M132.6,792.4h.01M133.1,792.2h.01M131.2,792.8h.01M132.2,793.3h.01M142.0,788.5h.01M147.3,781.4h.01M151.1,777.6h.01M123.1,793.5h.01M140.9,790.4h.01M134.2,792.9h.01M134.0,792.7h.01M133.7,792.9h.01M118.3,788.2h.01M127.8,791.9h.01M113.6,784.1h.01M131.7,793.4h.01M133.0,792.2h.01M121.6,792.7h.01M124.0,788.7h.01M149.5,784.1h.01M121.9,786.9h.01M134.4,792.4h.01M120.4,785.3h.01M130.5,792.6h.01M144.0,785.6h.01M129.8,792.0h.01M142.0,791.5h.01M122.2,789.5h.01M146.4,783.6h.01M139.0,790.8h.01M140.4,791.2h.01M134.9,792.4h.01M118.2,785.9h.01M141.9,788.9h.01M140.7,790.4h.01M133.8,792.2h.01M118.5,790.3h.01M150.8,779.3h.01M141.1,791.9h.01M138.3,790.4h.01M116.9,785.0h.01M132.3,793.5h.01M132.4,793.0h.01M151.4,780.6h.01M139.6,793.7h.01M139.5,792.1h.01M132.2,793.1h.01M145.7,787.7h.01M142.1,789.2h.01M124.5,792.0h.01M143.6,789.3h.01M128.1,793.3h.01M134.4,792.3h.01M123.1,793.3h.01M125.0,792.3h.01M122.1,788.0h.01M138.0,790.1h.01M128.5,792.7h.01M143.3,788.1h.01M148.6,783.4h.01M129.0,793.3h.01M136.1,790.5h.01M131.5,793.0h.01M148.6,785.6h.01M130.4,793.7h.01M146.3,782.1h.01M138.5,791.6h.01M123.5,791.3h.01M136.6,793.1h.01M139.7,793.1h.01M133.0,792.4h.01M142.3,788.6h.01M114.7,782.6h.01M150.1,793.3h.01M138.6,789.0h.01M140.0,789.7h.01M130.1,792.6h.01M123.7,789.3h.01M130.4,793.2h.01M137.6,790.3h.01M135.3,792.1h.01M124.9,793.1h.01M134.9,792.0h.01M118.7,791.7h.01M131.6,793.3h.01M123.3,790.5h.01M140.9,788.1h.01M140.6,791.1h.01M120.6,791.1h.01M137.2,790.6h.01M142.2,788.9h.01M131.6,793.0h.01M127.3,791.6h.01M148.2,789.1h.01M127.9,791.5h.01M150.8,789.3h.01M135.6,791.7h.01M128.5,792.8h.01M140.3,792.1h.01M144.8,787.9h.01M129.2,791.9h.01M112.1,776.5h.01M126.9,790.6h.01M114.9,780.4h.01M120.3,785.5h.01M147.6,787.3h.01M120.1,788.0h.01M127.4,791.9h.01M145.1,783.2h.01M125.7,790.2h.01M121.5,791.3h.01M150.3,777.7h.01M126.9,792.0h.01M147.8,788.2h.01M149.4,788.5h.01M129.8,793.0h.01M115.7,781.2h.01M125.3,790.5h.01M121.5,792.0h.01M112.4,777.8h.01M118.2,788.8h.01M124.1,790.4h.01M124.8,791.8h.01M142.7,788.9h.01M126.5,792.8h.01M132.0,792.9h.01M132.1,792.5h.01M125.9,791.8h.01M133.3,792.7h.01M129.6,792.7h.01M118.9,783.8h.01M146.2,790.1h.01M131.2,792.9h.01M135.5,791.2h.01M134.7,792.5h.01M141.8,789.3h.01M143.4,784.5h.01M146.6,785.4h.01M147.2,791.2h.01M144.8,789.3h.01M112.6,787.9h.01M112.9,783.2h.01M131.1,793.3h.01M141.3,788.5h.01M131.0,793.3h.01M150.4,787.8h.01M116.6,782.6h.01M132.4,792.7h.01M140.7,788.0h.01M129.9,793.1h.01M118.0,783.6h.01M127.1,791.8h.01M124.2,791.3h.01M132.9,793.5h.01M123.4,789.1h.01M127.7,791.1h.01M120.1,792.0h.01M135.5,792.3h.01M125.1,790.4h.01M136.2,791.7h.01M131.1,792.6h.01M143.0,789.9h.01M122.7,792.7h.01M129.2,792.2h.01M122.0,792.0h.01M134.6,793.7h.01M119.4,784.6h.01M134.1,792.9h.01M144.1,786.2h.01M129.1,792.5h.01M143.2,789.7h.01M136.5,791.3h.01M145.9,786.2h.01M114.0,783.5h.01M133.0,793.0h.01M112.9,789.1h.01M145.6,785.8h.01M140.0,789.3h.01M141.6,791.1h.01M136.6,792.4h.01M137.8,790.0h.01M117.4,787.3h.01M113.7,778.7h.01M145.4,785.6h.01M125.2,792.0h.01M116.4,789.9h.01M144.9,788.0h.01M140.7,788.2h.01M145.4,792.5h.01M126.2,791.7h.01M146.7,783.3h.01M128.4,792.3h.01M144.2,788.7h.01M136.1,792.6h.01M122.8,793.7h.01M130.9,793.3h.01M130.5,792.3h.01M114.4,779.9h.01M144.7,784.4h.01M121.2,787.3h.01M119.7,786.9h.01M141.8,788.5h.01M126.3,790.4h.01M126.6,791.5h.01M137.2,791.2h.01M150.8,777.4h.01M138.1,791.9h.01M140.8,787.8h.01M120.0,786.7h.01M126.4,791.3h.01M137.5,790.4h.01M141.3,786.7h.01M134.7,791.6h.01M143.3,787.2h.01M123.9,789.9h.01M132.5,793.2h.01M139.7,788.7h.01M141.7,789.8h.01M117.9,783.8h.01M131.8,792.6h.01M134.1,792.5h.01M128.4,791.6h.01M124.0,789.2h.01M147.5,786.5h.01M150.5,791.0h.01M142.4,791.9h.01M145.9,785.5h.01M141.9,786.9h.01M136.6,792.1h.01M151.3,775.7h.01M119.3,790.4h.01M127.4,792.8h.01M142.2,791.4h.01M137.3,792.4h.01M125.5,793.3h.01M134.0,792.9h.01M135.1,792.9h.01M114.9,786.8h.01M125.8,792.3h.01M122.6,787.8h.01M146.3,784.8h.01M131.5,793.1h.01M118.3,786.1h.01M115.8,782.5h.01M143.1,787.8h.01M116.7,784.2h.01M128.5,793.6h.01M121.4,789.4h.01M150.4,782.0h.01M147.3,789.0h.01M139.0,792.5h.01M129.5,792.0h.01M120.3,791.9h.01M128.2,791.8h.01M148.7,792.4h.01M138.8,791.9h.01M141.7,789.3h.01M123.1,788.5h.01M146.9,784.7h.01M149.2,786.7h.01M121.8,793.2h.01M139.9,787.7h.01M145.7,783.5h.01M126.9,792.5h.01M133.4,793.2h.01M124.3,790.3h.01M136.6,792.8h.01M139.1,791.9h.01M150.2,784.9h.01M149.4,783.5h.01M128.8,792.4h.01M130.0,792.5h.01M125.6,790.3h.01M141.0,788.7h.01M143.5,793.6h.01M150.6,784.9h.01M135.2,792.3h.01M134.0,791.7h.01M143.2,789.8h.01M135.7,791.3h.01M121.8,789.6h.01M120.7,786.5h.01M146.2,790.3h.01M126.7,791.7h.01M123.4,789.1h.01M123.0,788.6h.01M135.2,792.9h.01M130.6,792.8h.01M126.5,790.4h.01M143.9,791.1h.01M150.0,784.7h.01M118.5,785.7h.01M126.4,791.1h.01M137.7,789.6h.01M121.9,790.6h.01M137.5,790.9h.01M141.6,791.3h.01M150.7,792.0h.01M151.0,790.6h.01M121.5,788.7h.01M136.7,793.6h.01M124.3,789.0h.01M127.6,793.0h.01M114.4,790.4h.01M131.7,793.0h.01M128.0,791.3h.01M130.5,792.4h.01M118.4,784.4h.01M147.3,782.0h.01M124.8,792.8h.01M140.2,790.2h.01M118.5,790.1h.01M140.0,789.3h.01M131.6,793.1h.01M144.4,784.2h.01M121.5,786.8h.01M118.3,786.1h.01M140.7,789.2h.01M150.7,788.9h.01M151.1,778.2h.01M148.6,785.8h.01M143.1,785.2h.01M129.7,792.1h.01M123.6,789.0h.01M151.5,776.9h.01M140.3,788.7h.01M139.0,790.1h.01M134.2,792.8h.01M148.1,786.6h.01M150.6,782.7h.01M125.0,792.6h.01M144.9,789.4h.01M124.5,792.3h.01M116.6,790.5h.01M126.1,791.3h.01M123.9,791.3h.01M151.3,790.6h.01M145.7,785.8h.01M151.5,789.8h.01M112.1,783.6h.01M129.9,792.3h.01M112.1,780.3h.01M132.6,793.4h.01M145.6,787.1h.01M136.5,791.1h.01M121.0,789.8h.01M122.4,788.8h.01M147.8,787.0h.01M114.6,790.2h.01M146.9,786.7h.01M150.0,777.4h.01M139.4,791.7h.01M131.7,793.2h.01M119.9,790.4h.01M135.7,792.1h.01M136.1,791.3h.01M145.3,787.2h.01M149.9,780.0h.01M112.4,783.9h.01M126.5,793.1h.01M121.6,787.7h.01M123.2,788.5h.01M114.8,787.8h.01M128.7,791.7h.01M128.2,792.8h.01M126.4,791.2h.01M131.1,793.0h.01M144.6,788.2h.01M122.3,789.9h.01M113.5,783.6h.01M118.8,789.9h.01M126.8,792.2h.01M122.8,789.8h.01M125.5,791.9h.01M131.7,792.8h.01M135.1,792.6h.01M136.3,791.1h.01M115.9,781.6h.01M129.5,792.2h.01M150.7,782.0h.01M137.6,789.9h.01M129.3,792.5h.01M125.6,790.1h.01M137.8,790.4h.01M139.3,792.0h.01M146.3,784.8h.01M119.1,786.9h.01M139.4,792.6h.01M146.8,786.6h.01M141.1,788.8h.01M123.2,790.2h.01M121.7,787.4h.01M114.9,780.8h.01M132.7,792.7h.01M124.2,789.5h.01M145.5,788.7h.01M123.6,789.2h.01M135.6,792.4h.01M132.6,792.5h.01M125.0,792.1h.01M148.8,778.8h.01M142.6,785.7h.01M142.8,790.0h.01M120.4,791.8h.01M139.6,791.3h.01M115.0,788.2h.01M130.9,792.6h.01M131.5,793.1h.01M126.2,790.5h.01M138.1,789.9h.01M117.5,787.4h.01M124.0,793.5h.01M135.1,792.7h.01M115.2,786.9h.01M135.2,791.2h.01M121.7,792.5h.01M121.8,787.5h.01M147.7,787.3h.01M127.6,791.5h.01M122.6,791.3h.01M129.7,793.3h.01M134.2,792.7h.01M145.3,785.5h.01M120.9,790.3h.01M142.8,793.1h.01M141.8,786.7h.01M131.8,792.9h.01M135.5,790.9h.01M135.9,791.0h.01M125.5,792.2h.01M148.7,779.9h.01M141.3,787.4h.01M141.8,789.8h.01M111.4,778.7h.01M127.1,793.4h.01M124.2,792.0h.01M119.0,787.0h.01M125.4,790.0h.01M132.0,792.7h.01M118.9,784.0h.01M120.4,787.7h.01M114.3,783.8h.01M128.2,793.3h.01M120.0,785.5h.01M135.9,791.7h.01M119.2,785.3h.01M127.1,790.7h.01M111.8,788.0h.01M128.5,791.6h.01M139.5,792.2h.01M140.0,788.0h.01M149.4,787.4h.01M150.7,790.5h.01M118.7,785.5h.01M139.8,788.5h.01M146.1,783.4h.01M146.1,783.1h.01M146.2,785.7h.01M122.9,787.8h.01M130.4,792.4h.01M143.2,788.4h.01M114.5,788.9h.01M133.0,792.7h.01M136.9,793.0h.01M112.5,783.4h.01M149.2,786.0h.01M135.2,792.2h.01M145.2,789.2h.01M137.1,789.9h.01M113.5,784.4h.01M137.3,792.8h.01M141.8,791.4h.01M124.0,791.7h.01M139.3,791.7h.01M136.7,792.3h.01M136.6,790.3h.01M118.4,787.2h.01M131.0,792.5h.01M131.8,793.0h.01M129.7,792.7h.01M142.5,785.4h.01M133.4,792.0h.01M115.0,791.6h.01M140.8,789.5h.01M115.4,781.0h.01M123.2,789.8h.01M118.6,789.3h.01M126.2,793.3h.01M147.5,781.5h.01M111.4,784.7h.01M133.2,792.3h.01M132.0,792.9h.01M131.0,793.0h.01M132.1,793.3h.01M116.7,788.8h.01M115.5,785.8h.01M127.0,791.2h.01M128.5,791.8h.01M135.2,792.0h.01M139.2,791.6h.01M140.0,790.2h.01M147.9,787.4h.01M134.3,792.2h.01M138.3,792.7h.01M129.5,792.3h.01M138.6,789.1h.01M131.7,793.6h.01M130.8,793.2h.01M123.7,791.7h.01M123.0,789.8h.01M141.8,786.4h.01M120.9,787.3h.01M127.4,792.8h.01M142.0,787.8h.01M138.2,793.0h.01M139.2,789.2h.01M135.9,792.8h.01M112.5,786.6h.01M115.9,784.6h.01M137.0,790.3h.01M130.5,792.6h.01M118.5,787.9h.01M121.9,788.3h.01M121.8,791.6h.01M140.0,789.2h.01M147.5,782.4h.01M141.4,788.2h.01M118.1,788.3h.01M141.6,790.5h.01M114.4,783.2h.01M142.3,786.4h.01M150.2,788.8h.01M138.4,791.7h.01M148.0,781.9h.01M130.9,792.6h.01M142.5,789.7h.01M128.5,792.0h.01M133.9,792.4h.01M121.4,788.7h.01M140.8,792.3h.01M112.9,784.7h.01M133.4,792.5h.01M149.0,780.2h.01M120.3,788.2h.01M135.4,793.3h.01M140.4,791.3h.01M141.5,791.4h.01M115.8,785.1h.01M121.8,792.8h.01M118.0,790.0h.01M148.9,783.8h.01M148.3,781.9h.01M122.8,789.0h.01M120.5,790.6h.01M113.8,780.2h.01M117.5,785.9h.01M115.0,785.8h.01M116.3,789.1h.01M135.9,791.4h.01M111.9,784.9h.01M129.0,793.1h.01M123.7,792.3h.01M131.7,793.4h.01M149.5,780.8h.01M142.7,790.6h.01M140.6,789.7h.01M142.6,791.7h.01M144.0,785.1h.01M112.4,792.4h.01M128.3,791.9h.01M122.5,793.5h.01M150.7,777.7h.01M119.0,791.6h.01M136.5,791.2h.01M113.4,788.9h.01M148.4,785.0h.01M134.4,792.9h.01M143.4,789.1h.01M138.8,790.8h.01M138.4,790.0h.01M122.6,790.1h.01M135.9,790.8h.01M131.2,793.5h.01M123.7,792.2h.01M139.9,791.3h.01M132.0,792.9h.01M113.9,785.9h.01M126.7,793.6h.01M119.3,785.7h.01M150.8,786.3h.01M112.2,782.9h.01M142.8,787.2h.01M113.5,778.4h.01M120.8,791.4h.01M137.7,791.8h.01M111.8,781.0h.01M116.2,789.0h.01M125.0,790.2h.01M151.1,779.3h.01M124.3,788.8h.01M137.0,790.0h.01M133.8,793.1h.01M147.0,785.2h.01M126.2,791.5h.01M140.6,790.2h.01M136.1,790.9h.01M131.5,793.0h.01M125.4,791.7h.01M119.9,785.9h.01M125.9,790.4h.01M111.7,783.6h.01M115.9,786.9h.01M148.0,781.5h.01M126.1,791.6h.01M142.8,790.2h.01M116.6,784.2h.01M125.2,791.2h.01M111.9,783.8h.01M121.6,787.5h.01M127.9,793.6h.01M131.1,792.7h.01M136.0,792.5h.01M147.1,785.3h.01M117.7,792.8h.01M133.9,792.3h.01M141.4,790.0h.01M132.9,793.5h.01M137.7,793.2h.01M122.3,788.4h.01M125.7,791.5h.01M129.6,792.7h.01M123.9,790.5h.01M140.4,792.0h.01M132.3,792.8h.01M122.3,789.8h.01M115.6,782.2h.01M122.1,790.3h.01M126.3,792.3h.01M127.8,792.4h.01M137.9,793.6h.01M133.9,792.0h.01M113.5,777.9h.01M128.2,792.2h.01M127.0,792.4h.01M117.2,782.8h.01M140.9,790.9h.01M148.1,788.6h.01M137.3,792.1h.01M149.3,784.5h.01M123.1,788.1h.01M113.5,789.5h.01M125.1,793.1h.01M137.9,791.7h.01M127.3,792.1h.01M136.2,790.7h.01M121.5,789.0h.01M125.9,793.6h.01M148.9,780.9h.01M136.1,793.4h.01M119.6,788.6h.01M144.2,789.2h.01M116.0,781.4h.01M114.0,783.3h.01M128.5,791.8h.01M128.4,791.5h.01M121.3,786.8h.01M150.5,782.1h.01M151.0,789.6h.01M135.4,792.1h.01M134.9,791.6h.01M140.6,790.8h.01M132.3,792.7h.01M116.7,782.1h.01M119.8,788.8h.01M126.6,791.4h.01M116.2,786.8h.01M138.7,792.1h.01M145.0,785.2h.01M113.1,777.2h.01M122.4,788.4h.01M136.7,792.0h.01M126.8,792.1h.01M141.0,787.4h.01M114.4,788.0h.01M141.5,790.1h.01M145.3,787.4h.01M141.4,789.1h.01M140.8,787.5h.01M143.9,787.7h.01M120.1,787.4h.01M146.0,790.1h.01M145.2,783.9h.01M115.7,786.3h.01M151.0,785.9h.01M122.5,789.5h.01M142.7,787.8h.01M132.8,793.4h.01M137.2,792.6h.01M135.1,792.5h.01M133.8,792.6h.01M131.9,792.8h.01M134.3,792.2h.01M123.0,790.8h.01M133.3,793.1h.01M139.5,792.7h.01M130.2,792.5h.01M116.3,787.1h.01M117.2,791.0h.01M135.5,792.9h.01M131.5,793.1h.01M133.1,792.2h.01M119.2,788.6h.01M116.8,786.9h.01M114.0,786.6h.01M148.0,793.1h.01M136.1,792.6h.01M125.1,789.3h.01M125.6,792.5h.01M142.5,787.1h.01M132.2,792.4h.01M133.4,792.0h.01M114.2,781.0h.01M127.5,791.4h.01M125.5,791.1h.01M121.9,786.7h.01M143.8,793.5h.01M132.1,793.1h.01M134.4,791.6h.01M116.9,782.3h.01M128.1,793.7h.01M138.9,790.7h.01M122.5,790.5h.01M136.0,792.0h.01M120.4,787.4h.01M131.1,793.3h.01M127.2,793.0h.01M125.8,792.7h.01M115.0,781.3h.01M111.5,786.0h.01M130.5,793.4h.01M128.9,792.8h.01M112.3,781.2h.01M138.0,789.8h.01M122.9,790.7h.01M113.3,785.2h.01M115.9,782.0h.01M131.0,793.5h.01M126.7,790.7h.01M121.0,787.3h.01M125.6,790.3h.01M117.2,792.4h.01M122.4,791.9h.01M142.5,790.3h.01M124.1,788.9h.01M135.3,791.8h.01M127.5,791.1h.01M115.4,792.3h.01M123.7,788.5h.01M127.4,791.5h.01M144.9,785.7h.01M140.2,787.6h.01M123.6,790.1h.01M121.6,789.1h.01M127.0,793.2h.01M125.5,791.8h.01M125.4,791.0h.01M143.9,784.4h.01M130.4,793.0h.01M126.4,792.9h.01M142.3,790.8h.01M126.2,791.6h.01M120.8,789.9h.01M118.5,787.2h.01M119.1,784.4h.01M122.7,792.5h.01M132.0,792.4h.01M129.7,792.2h.01M135.0,792.7h.01M139.8,788.6h.01M132.3,792.7h.01M123.5,791.9h.01M128.4,792.5h.01M127.4,792.7h.01M140.7,789.9h.01M130.6,793.4h.01M128.0,792.9h.01M143.4,786.6h.01M139.3,792.2h.01M114.6,780.1h.01M150.5,785.8h.01M137.5,790.1h.01M130.8,793.1h.01M147.8,780.5h.01M117.0,782.8h.01M141.4,789.7h.01M141.4,792.2h.01M135.9,793.7h.01M137.5,793.0h.01M113.8,793.0h.01M120.5,786.8h.01M131.7,792.5h.01M139.4,791.3h.01M129.3,792.1h.01M138.5,789.2h.01M139.4,789.5h.01M115.9,787.0h.01M144.1,784.6h.01M125.6,791.8h.01M133.1,792.6h.01M114.6,785.4h.01M118.6,789.1h.01M133.3,793.3h.01M112.0,785.5h.01M130.4,793.3h.01M119.9,786.0h.01M124.7,789.5h.01M145.8,792.7h.01M115.8,786.7h.01M123.5,790.1h.01M149.0,779.6h.01M137.4,790.4h.01M121.2,788.0h.01M126.9,790.8h.01M135.8,792.5h.01M147.6,783.8h.01M128.6,793.1h.01M150.9,777.0h.01M139.0,791.9h.01M112.4,792.7h.01M150.8,781.6h.01M115.1,792.9h.01M116.8,788.0h.01M120.6,787.8h.01M116.9,783.6h.01M136.7,792.3h.01M111.8,786.4h.01M138.8,791.6h.01M119.9,791.9h.01M129.8,793.6h.01M128.4,792.6h.01M139.2,791.4h.01M125.0,790.0h.01M136.1,792.2h.01M134.6,791.6h.01M114.1,779.8h.01M143.6,786.0h.01M118.9,786.6h.01M118.2,791.7h.01M124.3,791.4h.01M150.0,782.5h.01M111.8,779.5h.01M142.7,789.6h.01M132.0,792.6h.01M144.6,784.2h.01M131.6,792.7h.01M150.4,777.2h.01M139.0,792.6h.01M146.6,784.6h.01M111.8,777.5h.01M124.1,791.8h.01M147.9,783.5h.01M119.7,792.1h.01M124.8,789.6h.01M123.7,793.0h.01M125.2,791.5h.01M140.7,787.7h.01M144.3,789.4h.01M143.4,792.0h.01M151.3,782.8h.01M142.4,786.1h.01M143.8,791.4h.01M135.1,792.3h.01M112.0,791.0h.01M116.0,783.9h.01M127.5,791.8h.01M142.6,788.6h.01M147.5,789.9h.01M132.7,793.3h.01M149.5,781.9h.01M131.5,792.6h.01M120.3,785.5h.01M134.5,792.0h.01M150.7,779.8h.01M144.0,788.3h.01M146.9,789.1h.01M115.2,784.8h.01M144.4,783.7h.01M116.3,784.0h.01M149.1,788.2h.01M134.1,792.7h.01M116.1,788.9h.01M128.7,792.9h.01M131.3,792.7h.01M145.1,786.6h.01M139.6,788.0h.01M133.7,792.5h.01M137.9,789.3h.01M126.8,790.9h.01M131.9,792.9h.01M112.9,778.1h.01M129.3,792.5h.01M134.7,792.0h.01M133.3,792.2h.01M126.2,790.5h.01M148.2,784.3h.01M139.3,790.4h.01M116.6,781.6h.01M112.7,779.7h.01M128.9,793.5h.01M136.9,790.8h.01M125.4,791.2h.01M149.7,778.7h.01M141.9,787.0h.01M125.7,790.0h.01M126.0,791.9h.01M130.4,792.3h.01M144.1,784.8h.01M147.9,787.6h.01M141.6,792.4h.01M147.0,782.3h.01M137.4,791.0h.01M118.0,787.2h.01M121.1,790.4h.01M147.8,789.3h.01M134.5,792.2h.01M134.2,792.0h.01M140.1,791.7h.01M123.0,791.6h.01M120.0,787.9h.01M124.9,790.5h.01M143.9,793.3h.01M142.0,788.0h.01M123.9,792.4h.01M131.8,792.7h.01M130.9,793.0h.01M146.6,791.8h.01M115.1,781.1h.01M143.5,789.5h.01M131.9,792.5h.01M132.0,792.9h.01M149.2,786.3h.01M119.8,786.5h.01M147.0,782.8h.01M115.1,786.0h.01M131.1,792.7h.01M121.6,790.4h.01M129.1,792.3h.01M116.9,784.0h.01M145.9,785.2h.01M111.8,777.4h.01M141.7,788.8h.01M119.5,786.2h.01M135.1,791.2h.01M117.8,789.6h.01M144.8,784.6h.01M135.0,792.5h.01M124.1,788.8h.01M124.1,790.0h.01M115.9,786.2h.01M118.0,788.3h.01M123.1,789.5h.01M132.8,792.8h.01M124.4,789.4h.01M141.5,792.5h.01M128.4,792.0h.01M116.3,786.9h.01M111.9,782.1h.01M131.3,793.5h.01M131.2,792.9h.01M151.4,776.0h.01M121.3,791.0h.01M124.3,792.0h.01M122.0,790.7h.01M123.8,788.5h.01M138.4,790.3h.01M135.5,793.4h.01M132.8,792.2h.01M139.5,788.9h.01M142.2,786.4h.01M137.8,791.1h.01M129.9,793.3h.01M111.9,792.1h.01M125.3,791.4h.01M151.4,783.7h.01M125.8,790.1h.01M148.8,788.9h.01M119.5,790.3h.01M137.4,792.3h.01M120.1,785.0h.01M113.8,789.1h.01M145.9,782.4h.01M113.0,779.3h.01M138.7,789.4h.01M142.2,788.6h.01M145.8,787.8h.01M122.5,790.2h.01M123.1,793.2h.01M148.7,785.0h.01M130.5,792.6h.01M117.2,788.5h.01M117.7,782.9h.01M134.1,791.8h.01M117.3,791.3h.01M127.9,793.2h.01M138.2,793.4h.01M149.2,787.7h.01M139.1,793.3h.01M113.4,780.6h.01M142.3,786.7h.01M115.7,785.9h.01M143.4,789.0h.01M147.3,780.3h.01M127.0,790.9h.01M133.9,791.8h.01M142.1,786.2h.01M118.0,783.6h.01M135.6,792.2h.01M125.1,789.8h.01M151.5,789.5h.01M138.6,790.7h.01M138.6,790.8h.01M130.5,793.2h.01M138.6,792.7h.01M119.4,784.4h.01M137.6,790.4h.01M134.8,793.2h.01M122.8,792.7h.01M138.7,789.0h.01M130.5,792.6h.01M123.8,791.0h.01M113.1,785.6h.01M136.6,792.3h.01M117.7,787.9h.01M138.2,790.2h.01M128.1,792.8h.01M116.4,782.8h.01M113.1,783.4h.01M119.2,789.5h.01M151.5,780.6h.01M112.7,785.9h.01M128.4,792.4h.01M118.0,783.3h.01M139.2,789.4h.01M116.8,786.8h.01M145.5,784.7h.01M124.8,790.4h.01M143.7,784.9h.01M118.1,793.4h.01M118.7,790.4h.01M124.1,792.3h.01M132.9,792.2h.01M141.5,790.4h.01M112.9,777.8h.01M129.3,793.0h.01M126.5,790.8h.01M133.1,792.1h.01M149.7,791.8h.01M132.2,793.0h.01M129.2,792.1h.01M132.6,792.5h.01M113.7,779.7h.01M142.0,789.1h.01M146.0,787.7h.01M147.5,780.1h.01M150.6,790.0h.01M124.3,790.3h.01M127.4,792.4h.01M128.4,792.4h.01M125.4,793.0h.01M146.2,789.2h.01M148.1,789.7h.01M129.3,792.2h.01M137.9,791.2h.01M116.6,793.3h.01M141.2,790.6h.01M142.1,787.5h.01M148.3,788.3h.01M125.5,790.5h.01M127.9,791.5h.01M125.3,790.8h.01M138.0,793.0h.01M124.2,793.0h.01M115.5,784.8h.01M142.8,789.2h.01M147.5,783.3h.01M125.6,791.4h.01M145.9,787.9h.01M120.0,788.0h.01M134.0,793.3h.01M123.3,792.9h.01M137.0,791.0h.01M124.9,790.0h.01M147.5,781.3h.01M122.7,788.0h.01M127.1,791.0h.01M131.4,793.1h.01M144.7,792.3h.01M145.8,787.4h.01M129.9,793.3h.01M143.1,788.4h.01M128.6,791.7h.01M148.6,781.0h.01M134.5,792.6h.01M149.5,784.4h.01M113.2,791.5h.01M128.3,791.5h.01M147.1,784.7h.01M124.4,791.5h.01M141.6,788.1h.01M120.1,788.5h.01M126.4,791.4h.01M127.2,792.8h.01M112.4,782.5h.01M117.1,783.9h.01M122.3,789.6h.01M128.4,792.1h.01M115.3,782.3h.01M150.2,787.1h.01M119.9,785.2h.01M121.7,792.7h.01M112.0,777.5h.01M142.0,786.6h.01M134.9,791.8h.01M128.0,791.4h.01M134.2,793.7h.01M150.4,784.7h.01M124.5,791.3h.01M146.8,787.8h.01M133.4,792.5h.01M130.2,793.1h.01M121.4,790.8h.01M113.8,788.5h.01M127.3,792.0h.01M121.8,788.2h.01M119.6,791.4h.01M150.0,782.8h.01M138.8,792.7h.01M115.3,793.5h.01M147.2,787.3h.01M140.9,791.1h.01M142.2,786.4h.01M149.0,779.9h.01M128.1,792.7h.01M133.7,792.0h.01M133.7,793.0h.01M113.5,783.2h.01M135.2,791.3h.01M122.5,787.4h.01M119.2,787.7h.01M122.1,791.3h.01M133.8,792.8h.01M138.8,792.4h.01M116.0,784.0h.01M128.9,791.9h.01M142.9,785.8h.01M129.4,792.7h.01M129.5,791.9h.01M138.6,790.1h.01M147.5,784.2h.01M122.6,788.8h.01M137.1,790.6h.01M134.9,792.6h.01M113.6,782.8h.01M124.9,790.9h.01M129.4,792.4h.01M144.2,784.7h.01M146.1,791.8h.01M141.0,787.3h.01M138.7,789.8h.01M141.6,787.1h.01M124.3,790.9h.01M137.5,791.6h.01M113.5,788.3h.01M129.8,792.2h.01M136.5,791.2h.01M145.4,791.6h.01M116.0,781.4h.01M127.5,791.2h.01M132.8,792.3h.01M125.6,790.3h.01M145.1,788.9h.01M146.5,793.4h.01M144.1,788.4h.01M121.7,788.0h.01M131.2,793.1h.01M140.0,789.9h.01M146.0,790.1h.01M144.5,787.7h.01M133.5,793.4h.01M119.7,791.1h.01M141.5,789.5h.01M139.4,791.2h.01M138.3,791.8h.01M126.7,792.2h.01M141.5,793.1h.01M120.5,789.2h.01M143.5,785.3h.01M122.8,793.5h.01M147.0,787.1h.01M125.6,791.8h.01M122.7,790.0h.01M113.8,790.3h.01M130.2,792.6h.01M135.4,792.3h.01M143.0,788.0h.01M117.4,784.8h.01M123.6,789.5h.01M115.8,787.5h.01M127.0,792.6h.01M129.0,793.4h.01M148.5,781.9h.01M150.3,780.4h.01M130.4,792.9h.01M117.7,785.6h.01M122.3,788.9h.01M138.5,790.9h.01M123.9,790.6h.01M114.2,781.9h.01M142.1,788.8h.01M127.8,791.4h.01M128.2,792.3h.01M129.7,792.4h.01M122.8,792.3h.01M118.7,790.5h.01M125.7,790.0h.01M122.5,789.9h.01M113.5,779.8h.01M151.2,780.4h.01M150.9,789.9h.01M117.2,790.5h.01M147.6,790.2h.01M117.2,788.5h.01M126.2,792.2h.01M151.2,788.0h.01M136.2,790.5h.01M137.7,791.4h.01M139.6,789.3h.01M144.1,786.9h.01M119.2,790.6h.01M135.3,791.9h.01M113.9,781.8h.01M128.7,792.5h.01M126.6,792.3h.01M127.1,793.3h.01M118.5,788.6h.01M117.2,785.3h.01M128.1,792.0h.01M115.5,786.2h.01M143.7,785.1h.01M142.9,789.0h.01M127.2,792.9h.01M138.3,790.1h.01M116.2,785.1h.01M150.3,777.6h.01M143.9,786.8h.01M125.2,789.4h.01M116.0,782.6h.01M146.2,789.5h.01M129.4,792.1h.01M112.0,778.8h.01M116.9,788.2h.01M127.1,790.9h.01M126.4,792.1h.01M133.0,792.4h.01M118.7,784.5h.01M141.6,789.1h.01M129.6,792.1h.01M124.3,789.8h.01M144.8,788.1h.01M120.6,792.7h.01M120.9,786.4h.01M125.1,789.8h.01M150.4,785.8h.01M124.9,792.7h.01M131.6,792.9h.01M151.5,788.9h.01M122.2,793.7h.01M132.5,792.7h.01M116.2,786.1h.01M114.5,784.5h.01M125.3,791.1h.01M133.0,792.6h.01M123.6,790.5h.01M145.4,782.9h.01M118.2,789.2h.01M139.8,788.0h.01M114.8,779.2h.01M143.0,785.9h.01M137.5,791.7h.01M136.0,791.2h.01M117.0,783.5h.01M140.2,792.4h.01M112.1,784.5h.01M113.7,778.1h.01M148.7,781.6h.01M126.5,792.0h.01M134.5,793.2h.01M131.2,793.3h.01M132.7,793.1h.01M140.3,788.6h.01M129.9,792.8h.01M113.9,783.3h.01M120.7,787.4h.01M134.8,792.6h.01M144.2,786.6h.01M151.4,784.9h.01M113.5,781.4h.01M147.9,788.7h.01M124.7,791.1h.01M123.8,789.2h.01M121.9,792.5h.01M137.3,789.8h.01M134.2,791.6h.01M130.9,792.4h.01M142.4,788.7h.01M114.3,785.8h.01M137.8,790.8h.01M118.6,785.3h.01M131.3,792.5h.01M139.1,793.0h.01M132.7,792.8h.01M114.1,782.7h.01M139.7,791.5h.01M133.1,792.8h.01M123.5,790.6h.01M132.7,793.0h.01M151.5,775.4h.01M134.1,791.9h.01M128.1,792.2h.01M130.4,793.5h.01M114.7,783.9h.01M129.1,793.3h.01M150.6,787.4h.01M143.7,790.6h.01M128.3,792.0h.01M121.7,792.7h.01M127.1,791.6h.01M132.6,792.5h.01M140.3,788.5h.01M130.6,792.7h.01M147.3,789.5h.01M116.5,785.8h.01M117.5,785.3h.01M146.8,792.0h.01M130.7,793.6h.01M121.6,788.3h.01M120.7,790.1h.01M144.9,790.4h.01M137.5,792.3h.01M122.7,790.7h.01M149.6,792.0h.01M136.0,791.8h.01M131.7,793.0h.01M129.3,793.2h.01M124.6,789.6h.01M146.2,789.1h.01M150.5,786.3h.01M111.5,780.8h.01M114.2,780.6h.01M149.1,790.0h.01M134.5,792.7h.01M126.3,791.7h.01M129.1,792.7h.01M138.9,791.8h.01M145.3,784.3h.01M141.7,787.0h.01M126.5,792.1h.01M118.8,791.0h.01M124.8,791.1h.01M142.0,786.0h.01M132.7,792.6h.01M133.2,792.5h.01M147.9,787.5h.01M150.5,787.8h.01M148.4,779.6h.01M139.5,789.9h.01M148.2,780.5h.01M134.3,791.8h.01M143.6,785.3h.01M138.8,791.3h.01M131.7,793.5h.01M128.8,792.6h.01M130.9,792.9h.01M120.7,790.0h.01M132.4,792.4h.01M146.9,787.2h.01M142.8,788.8h.01M148.3,791.5h.01M123.5,790.3h.01M139.1,791.5h.01M147.8,783.8h.01M126.4,793.3h.01M129.4,792.9h.01M126.4,790.5h.01M122.0,789.6h.01M116.1,783.8h.01M116.8,784.1h.01M121.0,790.5h.01M122.6,788.3h.01M124.6,790.9h.01M136.5,792.9h.01M133.6,793.3h.01M133.2,792.8h.01M129.8,792.0h.01M137.3,791.6h.01M126.5,790.6h.01M121.2,789.5h.01M131.6,793.2h.01M125.3,790.3h.01M131.5,793.1h.01M117.2,787.7h.01M112.1,776.5h.01M129.4,792.9h.01M121.9,788.8h.01M147.5,780.8h.01M137.6,790.5h.01M136.5,791.4h.01M114.7,787.3h.01M117.7,782.5h.01M116.9,790.3h.01M135.6,791.2h.01M113.5,779.9h.01M141.5,789.6h.01M112.0,780.3h.01M112.4,788.3h.01M128.6,793.1h.01M137.7,791.0h.01M137.0,792.7h.01M144.2,789.0h.01M146.0,789.0h.01M135.1,791.1h.01M133.7,792.1h.01M146.3,788.6h.01M132.3,792.9h.01M148.7,789.8h.01M148.1,785.6h.01M130.2,793.4h.01M135.1,793.6h.01M124.1,789.3h.01M129.1,792.3h.01M130.6,793.3h.01M143.9,784.4h.01M127.3,791.2h.01M128.5,792.6h.01M130.0,792.5h.01M135.2,793.4h.01M148.9,782.1h.01M136.0,791.9h.01M128.5,793.6h.01M112.6,777.8h.01M128.8,793.5h.01M146.8,784.4h.01M130.8,793.0h.01M114.9,787.4h.01M128.6,792.6h.01M151.3,787.2h.01M144.4,788.6h.01M134.0,792.8h.01M127.2,791.8h.01M116.5,791.9h.01M139.2,791.7h.01M136.0,793.2h.01M112.2,781.5h.01M140.6,790.5h.01M120.2,785.8h.01M131.7,792.5h.01M111.5,776.5h.01M126.1,791.9h.01M121.5,786.4h.01M124.1,789.9h.01M120.6,786.1h.01M148.0,786.1h.01M138.7,788.9h.01M135.2,792.9h.01M120.3,787.5h.01M135.7,792.2h.01M124.7,789.3h.01M135.3,791.8h.01M112.2,787.9h.01M112.0,785.0h.01M127.9,792.3h.01M124.4,790.9h.01M117.5,784.7h.01M128.4,791.9h.01M144.9,793.3h.01M126.9,792.8h.01M113.2,780.9h.01M126.5,793.1h.01M132.7,793.6h.01M127.9,793.6h.01M143.8,786.6h.01M129.4,793.3h.01M142.4,791.0h.01M117.8,782.7h.01M140.7,787.4h.01M120.7,786.8h.01M112.8,777.9h.01M141.3,791.6h.01M132.3,793.2h.01M151.2,785.5h.01M149.2,789.6h.01M132.7,792.3h.01M113.2,787.2h.01M132.0,793.3h.01M135.4,791.3h.01M132.2,792.9h.01M131.7,792.8h.01M120.6,789.6h.01M136.7,791.4h.01M137.1,790.9h.01M128.2,793.2h.01M130.7,792.4h.01M131.7,793.2h.01M142.4,788.6h.01M114.6,788.6h.01M146.6,788.5h.01M124.6,792.7h.01M138.8,791.2h.01M132.5,792.7h.01M139.1,788.8h.01M134.1,791.8h.01M132.8,793.5h.01M134.9,791.4h.01M121.1,787.3h.01M128.1,791.4h.01M145.3,783.9h.01M131.8,792.8h.01M141.6,786.6h.01M137.4,790.4h.01M117.0,783.1h.01M125.1,792.1h.01M115.7,788.6h.01M131.2,792.6h.01M131.9,793.1h.01M133.4,792.8h.01M128.3,791.9h.01M122.9,790.4h.01M138.6,792.2h.01M115.8,787.9h.01M131.3,793.1h.01M129.0,792.1h.01M122.7,788.7h.01M135.8,791.0h.01M118.7,783.6h.01M136.0,792.4h.01M144.1,785.5h.01M115.2,782.0h.01M142.1,790.8h.01M149.2,789.8h.01M120.4,787.6h.01M140.2,787.8h.01M140.4,788.6h.01M147.2,782.3h.01M119.8,791.7h.01M140.2,789.5h.01M128.1,793.7h.01M114.0,779.4h.01M119.6,787.3h.01M138.5,789.0h.01M149.0,782.6h.01M143.1,792.8h.01M134.5,792.8h.01M128.6,791.6h.01M149.9,790.8h.01M145.6,792.3h.01M117.3,785.6h.01M113.0,791.3h.01M150.2,777.1h.01M117.9,789.3h.01M132.4,793.4h.01M124.0,790.7h.01M114.1,784.5h.01M129.7,792.9h.01M126.4,791.9h.01M145.9,788.0h.01M128.9,791.8h.01M127.7,791.8h.01M145.5,788.9h.01M134.3,792.7h.01M128.8,791.9h.01M128.3,791.5h.01M117.4,784.6h.01M137.4,791.5h.01M138.0,790.1h.01M134.9,791.3h.01M141.8,791.2h.01M137.7,792.1h.01M113.4,790.9h.01M135.4,792.2h.01M144.5,791.8h.01M144.2,784.4h.01M125.1,791.1h.01M122.0,789.3h.01M111.4,779.5h.01M123.7,789.4h.01M115.9,791.9h.01M141.6,789.4h.01M149.2,780.4h.01M146.0,782.3h.01M133.9,793.7h.01M119.5,784.8h.01M121.5,787.7h.01M114.0,785.3h.01M138.9,791.6h.01M127.1,791.4h.01M121.2,790.6h.01M114.4,789.3h.01M119.3,792.7h.01M136.7,792.2h.01M127.7,792.6h.01M137.3,790.8h.01M135.4,793.3h.01M126.3,791.4h.01M132.7,792.4h.01M132.8,792.8h.01M120.1,789.5h.01M136.5,792.4h.01M123.4,791.5h.01M129.0,792.4h.01M146.0,790.3h.01M114.8,780.6h.01M149.1,789.0h.01M119.2,788.2h.01M111.8,784.1h.01M148.9,784.0h.01M149.2,784.7h.01M135.8,793.1h.01M140.0,790.4h.01M118.0,787.8h.01M124.4,790.8h.01M145.6,791.1h.01M113.5,786.6h.01M118.8,791.3h.01M133.2,793.2h.01M135.3,792.9h.01M136.0,793.2h.01M136.0,792.0h.01M130.7,792.6h.01M132.6,793.3h.01M134.4,791.8h.01M126.0,792.9h.01M138.2,792.2h.01M135.8,792.6h.01M138.3,792.0h.01M139.0,791.0h.01M149.8,786.5h.01M121.3,792.2h.01M147.9,783.3h.01M126.9,792.1h.01M122.0,793.3h.01M120.0,785.9h.01M130.4,792.5h.01M124.6,789.8h.01M134.7,793.1h.01M118.6,787.2h.01M139.0,791.4h.01M135.6,792.2h.01M137.0,793.5h.01M112.2,777.0h.01M134.7,792.6h.01M123.7,791.4h.01M150.6,786.9h.01M120.9,786.6h.01M150.5,788.8h.01M129.2,792.9h.01M143.2,792.6h.01M111.9,791.5h.01M134.0,793.7h.01M125.4,789.6h.01M135.0,792.0h.01M113.0,782.8h.01M142.1,787.1h.01M120.1,787.6h.01M138.8,791.8h.01M136.6,791.1h.01M120.0,788.5h.01M151.2,779.5h.01M151.2,783.5h.01M133.7,792.7h.01M125.6,793.0h.01M150.4,787.2h.01M126.4,793.4h.01M119.8,789.2h.01M138.6,789.0h.01M140.1,788.0h.01M138.3,790.8h.01M119.4,785.6h.01M130.5,792.6h.01M122.0,790.8h.01M115.9,786.1h.01M138.9,791.3h.01M131.6,792.9h.01M119.9,788.7h.01M122.5,790.1h.01M124.1,792.7h.01M141.4,792.1h.01M147.4,785.8h.01M120.8,792.6h.01M125.6,790.6h.01M120.7,785.6h.01M124.5,789.4h.01M127.6,792.9h.01M139.0,789.2h.01M125.4,791.5h.01M126.5,792.4h.01M129.5,792.4h.01M112.9,779.6h.01M139.9,789.3h.01M117.0,782.4h.01M125.6,790.4h.01M150.3,780.4h.01M141.7,789.0h.01M117.0,790.4h.01M128.7,791.7h.01M134.6,791.6h.01M136.8,791.0h.01M120.7,787.5h.01M135.8,791.3h.01M128.6,793.6h.01M144.1,784.6h.01M131.1,793.3h.01M144.1,792.9h.01M123.0,790.5h.01M116.4,791.8h.01M140.6,792.9h.01M122.8,791.9h.01M143.8,784.2h.01M129.5,792.5h.01M133.7,792.9h.01M128.9,792.4h.01M135.8,792.1h.01M127.3,791.8h.01M137.2,790.9h.01M147.6,783.2h.01M132.8,792.7h.01M130.6,792.3h.01M141.2,791.8h.01M139.6,790.1h.01M142.2,786.8h.01M121.0,787.4h.01M132.0,793.6h.01M124.2,790.5h.01M121.5,788.2h.01M126.4,790.5h.01M142.5,790.7h.01M123.2,788.5h.01M142.9,788.4h.01M123.6,791.8h.01M112.1,781.4h.01M139.1,791.1h.01M145.9,784.0h.01M134.2,792.6h.01M148.9,791.1h.01M116.1,788.1h.01M140.1,792.7h.01M147.8,781.1h.01M121.8,789.4h.01M126.6,791.4h.01M142.0,786.1h.01M132.1,792.7h.01M132.4,792.8h.01M123.6,789.9h.01M130.4,792.5h.01M133.8,792.6h.01M128.1,792.4h.01M126.3,792.6h.01M126.2,793.7h.01M130.1,792.2h.01M121.3,792.9h.01M149.5,786.7h.01M128.0,791.4h.01M112.8,778.1h.01M115.1,786.2h.01M120.1,787.5h.01M128.8,792.1h.01M150.7,781.1h.01M145.5,782.7h.01M143.6,792.5h.01M130.2,792.6h.01M146.1,791.3h.01M130.7,793.5h.01M128.5,793.1h.01M140.4,792.0h.01M119.4,791.3h.01M131.5,792.8h.01M134.0,791.7h.01M133.9,792.0h.01M136.1,792.4h.01M132.5,793.6h.01M141.0,792.5h.01M125.2,790.5h.01M139.6,788.2h.01M113.7,786.8h.01M126.4,790.3h.01M126.5,793.4h.01M128.2,792.2h.01M129.4,793.0h.01M145.2,782.7h.01M149.0,789.2h.01M127.3,792.4h.01M124.0,791.9h.01M139.9,791.6h.01M145.4,786.6h.01M121.3,792.0h.01M140.4,788.7h.01M113.3,782.6h.01M119.7,787.7h.01M149.5,791.2h.01M149.0,790.6h.01M135.5,791.9h.01M148.3,779.4h.01M120.6,792.6h.01M133.2,792.9h.01M112.5,792.2h.01M123.9,790.9h.01M134.2,793.5h.01M112.3,779.3h.01M137.1,790.5h.01M114.4,791.2h.01M122.3,789.5h.01M126.8,792.4h.01M131.6,793.0h.01M130.4,792.5h.01M147.4,789.4h.01M122.1,793.5h.01M111.4,782.2h.01M137.2,791.1h.01M132.0,792.7h.01M139.6,788.7h.01M132.3,792.9h.01M148.1,785.2h.01M114.5,788.9h.01M129.7,793.3h.01M130.4,793.4h.01M123.5,791.3h.01M128.4,791.8h.01M131.0,793.3h.01M145.2,791.9h.01M143.4,787.7h.01M120.7,787.4h.01M118.0,788.7h.01M151.1,780.8h.01M148.8,786.6h.01M130.3,793.4h.01M117.4,784.6h.01M138.1,793.1h.01M129.1,792.4h.01M138.4,788.9h.01M117.9,787.1h.01M141.8,789.0h.01M151.0,781.4h.01M130.0,792.3h.01M151.5,777.7h.01M139.4,791.0h.01M126.2,792.2h.01M127.5,791.3h.01M117.1,783.9h.01M148.1,782.8h.01M116.3,781.4h.01M128.6,791.7h.01M144.5,790.2h.01M145.1,783.9h.01M138.8,788.8h.01M114.2,780.6h.01M147.8,789.5h.01M126.8,790.8h.01M123.8,790.4h.01M124.0,790.4h.01M139.3,792.4h.01M146.6,787.8h.01M131.0,793.6h.01M136.9,791.1h.01M140.7,788.1h.01M127.8,791.4h.01M141.6,787.9h.01M136.5,791.1h.01M139.9,792.4h.01M143.8,788.7h.01M124.3,789.5h.01M132.0,793.0h.01M130.5,792.9h.01M121.1,793.2h.01M131.1,793.3h.01M129.5,792.9h.01M135.4,791.2h.01M112.5,784.5h.01M123.0,789.1h.01M112.9,778.5h.01M129.8,793.1h.01M117.8,787.1h.01M127.3,792.1h.01M121.3,788.3h.01M135.5,792.6h.01M129.4,792.0h.01M141.5,789.2h.01M126.8,792.2h.01M127.7,793.6h.01M139.4,790.3h.01M142.3,790.8h.01M137.9,789.3h.01M128.4,791.6h.01M113.9,783.4h.01M131.8,793.2h.01M114.1,781.1h.01M143.4,788.7h.01M135.9,791.1h.01M139.5,788.9h.01M123.6,791.1h.01M126.7,791.8h.01M133.9,792.4h.01M121.8,786.6h.01M136.7,793.2h.01M140.5,788.2h.01M135.4,791.5h.01M117.0,791.1h.01M140.7,787.2h.01M120.5,790.7h.01M150.1,782.3h.01M127.2,791.9h.01M126.3,790.4h.01M137.7,789.7h.01M124.7,790.6h.01M138.4,789.7h.01M145.6,782.2h.01M138.7,792.7h.01M113.5,785.6h.01M137.7,791.5h.01M143.9,787.2h.01M145.7,784.3h.01M128.6,791.9h.01M120.6,787.4h.01M123.3,793.5h.01M142.1,792.8h.01M127.2,792.1h.01M149.2,778.3h.01M143.9,787.6h.01M145.0,783.0h.01M135.0,792.7h.01M121.4,787.0h.01M139.5,793.1h.01M114.9,785.0h.01M143.8,792.0h.01M125.3,790.6h.01M134.0,792.5h.01M145.7,782.8h.01M136.3,790.5h.01M148.7,782.4h.01M150.3,785.0h.01M131.9,792.9h.01M140.3,789.4h.01M134.1,791.8h.01M129.3,792.9h.01M124.5,792.2h.01M112.5,786.9h.01M121.3,787.5h.01M115.1,781.1h.01M126.4,792.4h.01M126.1,792.6h.01M143.9,784.9h.01M119.9,784.9h.01M138.2,789.3h.01M118.0,786.5h.01M151.2,782.5h.01M129.0,793.0h.01M129.7,792.1h.01M123.8,791.3h.01M124.1,789.7h.01M118.7,786.4h.01M143.8,789.1h.01M145.0,793.3h.01M133.8,792.6h.01M123.9,790.0h.01M148.9,779.7h.01M144.0,784.9h.01M114.5,779.3h.01M144.9,784.1h.01M129.2,792.3h.01M120.9,791.4h.01M125.6,790.7h.01M128.0,792.6h.01M127.2,792.5h.01M125.0,790.7h.01M133.0,793.2h.01M132.3,793.3h.01M122.3,787.4h.01M143.7,785.8h.01M143.8,789.0h.01M122.8,788.2h.01M127.1,791.4h.01M112.3,777.6h.01M135.5,792.3h.01M121.0,788.0h.01M121.0,786.9h.01M133.9,793.0h.01M116.6,781.6h.01M132.7,793.0h.01M128.9,791.9h.01M146.2,792.7h.01M116.6,785.0h.01M118.7,791.0h.01M142.7,788.0h.01M119.0,786.8h.01M111.5,791.5h.01M146.5,781.7h.01M123.9,791.0h.01M149.5,782.3h.01M137.4,791.2h.01M138.5,793.1h.01M146.5,782.8h.01M138.4,791.6h.01M139.1,790.9h.01M145.4,791.7h.01M117.2,782.6h.01M137.1,791.4h.01M111.8,783.9h.01M129.0,792.2h.01M119.7,791.6h.01M137.7,792.1h.01M127.1,791.8h.01M131.2,793.3h.01M147.7,790.5h.01M148.4,789.1h.01M142.8,788.4h.01M136.7,790.8h.01M118.8,792.2h.01M140.0,790.0h.01M126.8,792.4h.01M138.1,793.1h.01M149.6,785.9h.01M115.9,789.1h.01M116.9,785.4h.01M114.2,781.7h.01M127.3,791.1h.01M143.9,791.3h.01M133.7,793.4h.01M140.6,789.3h.01M145.3,789.1h.01M128.5,793.6h.01M148.0,785.5h.01M133.3,792.0h.01M144.0,785.5h.01M137.5,789.7h.01M120.0,787.7h.01M130.9,793.0h.01M149.6,780.6h.01M127.8,793.4h.01M144.9,784.7h.01M150.8,785.3h.01M131.1,792.9h.01M129.8,792.6h.01M150.2,784.0h.01M133.5,792.9h.01M138.6,793.4h.01M118.7,789.2h.01M115.7,781.2h.01M114.9,782.2h.01M121.5,788.7h.01M120.7,788.8h.01M117.6,785.5h.01M135.7,791.2h.01M139.7,789.7h.01M136.8,790.4h.01M148.5,782.9h.01M113.4,781.3h.01M141.3,789.4h.01M149.1,789.1h.01M135.9,791.4h.01M129.1,792.9h.01M134.1,792.0h.01M112.0,784.6h.01M141.6,790.0h.01M117.4,786.1h.01M127.2,791.0h.01M119.9,792.5h.01M131.8,793.3h.01M117.3,783.9h.01M113.9,786.6h.01M145.3,787.9h.01M127.7,791.1h.01M115.2,784.6h.01M140.2,793.4h.01M149.9,783.7h.01M124.6,789.7h.01M132.5,793.2h.01M116.2,788.5h.01M112.0,781.5h.01M122.0,791.7h.01M139.0,788.9h.01M150.1,785.1h.01M132.3,793.1h.01M132.3,792.3h.01M126.4,790.9h.01M124.6,792.0h.01M131.3,792.7h.01M131.2,793.1h.01M148.4,786.3h.01M135.8,791.7h.01M132.2,792.6h.01M125.0,790.4h.01M147.5,788.2h.01M118.4,783.2h.01M143.5,787.6h.01M147.7,788.7h.01M149.1,787.4h.01M116.6,784.3h.01M130.4,792.9h.01M147.8,791.2h.01M145.3,783.5h.01M151.4,776.3h.01M116.9,785.2h.01M129.9,793.5h.01M149.1,779.0h.01M130.8,793.5h.01M114.8,785.7h.01M131.3,792.6h.01M150.9,778.2h.01M135.3,792.6h.01M145.3,782.5h.01M112.4,782.8h.01M149.7,791.5h.01M139.7,788.2h.01M125.2,791.2h.01M116.7,788.1h.01M133.1,793.5h.01M114.8,785.9h.01M111.6,775.9h.01M119.9,791.5h.01M124.6,790.9h.01M136.2,792.9h.01M120.5,787.9h.01M119.2,784.8h.01M124.3,791.1h.01M151.3,778.2h.01M145.1,786.5h.01M147.3,790.1h.01M150.0,778.5h.01M131.8,793.2h.01M131.8,793.0h.01M138.6,789.0h.01M143.7,791.4h.01M126.0,792.9h.01M146.4,781.3h.01M115.0,784.3h.01M128.7,793.3h.01M123.0,791.1h.01M121.5,787.6h.01M132.5,792.8h.01M116.5,783.4h.01M126.5,790.5h.01M135.9,791.7h.01M136.2,790.5h.01M132.8,792.5h.01M132.7,793.3h.01M128.6,792.8h.01M119.5,789.2h.01M128.4,792.0h.01M121.5,788.7h.01M136.2,792.9h.01M130.0,792.8h.01M133.3,792.2h.01M134.1,792.9h.01M136.7,791.2h.01M151.1,775.6h.01M115.1,784.6h.01M118.5,787.0h.01M150.8,776.1h.01M116.4,786.0h.01M140.1,788.5h.01M137.6,790.2h.01M125.9,790.3h.01M143.4,790.9h.01M124.7,789.5h.01M129.9,792.9h.01M142.9,791.9h.01M139.8,790.0h.01M120.8,789.9h.01M147.3,781.4h.01M133.2,792.4h.01M149.1,780.4h.01M143.4,786.0h.01M128.8,792.5h.01M135.2,791.2h.01M127.9,793.4h.01M129.5,792.2h.01M117.6,784.1h.01M126.8,790.6h.01M130.7,793.1h.01M138.8,789.0h.01M151.3,777.9h.01M141.3,790.1h.01M123.4,789.8h.01M136.4,790.6h.01M140.3,788.8h.01M126.5,792.0h.01M148.7,790.0h.01M138.9,789.2h.01M123.8,788.7h.01M119.6,786.7h.01M130.4,792.4h.01M116.9,783.2h.01M128.3,792.4h.01M150.2,784.3h.01M136.6,793.0h.01M130.8,792.4h.01M144.8,788.8h.01M143.5,789.7h.01M148.5,788.4h.01M128.6,792.7h.01M127.6,791.7h.01M142.0,786.3h.01M131.6,792.5h.01M116.6,788.4h.01M128.2,793.6h.01M112.5,784.8h.01M128.1,792.0h.01M140.9,788.9h.01M131.0,792.4h.01M136.8,790.6h.01M140.2,789.0h.01M127.9,792.2h.01M144.3,792.2h.01M145.0,788.8h.01M149.6,779.4h.01M140.7,790.7h.01M145.6,790.5h.01M132.2,793.3h.01M133.2,792.8h.01M112.1,778.2h.01M120.5,790.0h.01M135.7,790.8h.01M113.7,779.5h.01M129.1,792.6h.01M119.9,786.1h.01M135.8,792.4h.01M115.5,787.1h.01M134.4,793.0h.01M148.8,780.8h.01M113.9,782.3h.01M130.1,793.4h.01M130.2,792.8h.01M125.6,791.8h.01M115.5,789.5h.01M128.3,793.6h.01M140.6,788.1h.01M132.7,792.5h.01M129.9,792.2h.01M143.1,789.5h.01M137.9,790.6h.01M114.1,786.4h.01M124.9,790.3h.01M131.7,793.3h.01M142.5,790.5h.01M128.0,791.6h.01M149.1,778.2h.01M124.8,789.6h.01M115.9,784.0h.01M120.9,792.3h.01M124.3,789.2h.01M113.1,780.3h.01M125.5,792.5h.01M122.4,791.9h.01M132.1,793.1h.01M134.1,792.7h.01M117.2,787.1h.01M135.4,792.5h.01M143.5,786.5h.01M132.9,793.1h.01M120.1,792.2h.01M113.3,792.2h.01M122.8,788.3h.01M125.5,789.7h.01M127.8,792.1h.01M148.8,785.9h.01M144.7,787.0h.01M127.4,793.5h.01M129.7,792.9h.01M126.8,790.9h.01M112.2,784.9h.01M147.7,783.5h.01M125.1,791.9h.01M151.1,778.7h.01M147.5,791.1h.01M118.6,791.4h.01M128.8,792.2h.01M124.7,789.6h.01M138.4,789.7h.01M141.2,787.0h.01M117.9,793.4h.01M124.9,792.1h.01M139.8,791.6h.01M113.4,788.7h.01M145.8,788.6h.01M135.5,790.9h.01M122.3,789.8h.01M120.4,786.8h.01M125.5,790.7h.01M135.3,791.4h.01M122.4,789.5h.01M141.4,786.4h.01M124.4,792.3h.01M142.2,788.3h.01M120.0,791.1h.01M116.1,789.1h.01M143.3,785.3h.01M143.8,790.6h.01M126.5,791.3h.01M141.0,791.3h.01M118.9,791.1h.01M148.8,780.1h.01M124.4,789.0h.01M151.4,780.9h.01M118.9,784.6h.01M129.4,792.7h.01M150.2,777.9h.01M150.5,782.2h.01M145.8,787.8h.01M121.4,789.0h.01M150.5,789.9h.01M128.7,791.8h.01M139.8,791.7h.01M129.0,792.4h.01M139.2,790.0h.01M148.5,789.7h.01M144.5,791.0h.01M125.5,790.8h.01M112.7,783.9h.01M120.3,785.2h.01M127.1,791.1h.01M131.1,793.2h.01M128.3,791.4h.01M127.9,793.3h.01M145.0,786.5h.01M133.8,792.9h.01M116.5,785.9h.01M139.9,790.1h.01M137.2,791.3h.01M128.8,791.8h.01M135.1,791.3h.01M121.5,788.1h.01M132.6,793.2h.01M138.7,791.6h.01M134.0,792.1h.01M130.2,792.6h.01M136.0,793.1h.01M113.6,781.6h.01M130.5,793.0h.01M132.5,793.1h.01M148.2,780.2h.01M137.3,790.0h.01M133.5,792.3h.01M128.0,792.0h.01M145.1,783.3h.01M151.0,781.1h.01M136.5,791.3h.01M142.6,787.1h.01M132.4,792.7h.01M130.6,792.5h.01M123.3,792.5h.01M112.3,776.8h.01M119.2,786.6h.01M127.7,791.6h.01M125.5,790.7h.01M122.2,788.7h.01M136.6,790.8h.01M120.2,788.9h.01M127.1,792.1h.01M140.0,791.3h.01M124.4,791.5h.01M140.7,790.5h.01M127.6,791.3h.01M111.6,783.9h.01M139.8,791.6h.01M131.0,792.7h.01M131.1,792.9h.01M129.7,793.5h.01M138.8,792.2h.01M135.4,793.2h.01M128.0,791.6h.01M111.9,784.1h.01M130.0,793.0h.01M150.5,782.8h.01M126.6,790.9h.01M149.3,785.8h.01M141.0,787.1h.01M124.3,791.9h.01M149.9,781.6h.01M121.6,790.3h.01M146.0,792.6h.01M115.3,784.7h.01M149.4,777.8h.01M123.6,791.2h.01M150.7,780.7h.01M113.0,787.3h.01M121.4,788.2h.01M139.8,787.8h.01M114.6,782.3h.01M124.7,789.2h.01M124.2,790.4h.01M121.2,786.4h.01M136.9,790.0h.01M129.5,792.8h.01M151.5,790.9h.01M120.4,788.0h.01M124.5,790.2h.01M112.7,788.6h.01M136.2,791.2h.01M113.6,788.1h.01M129.7,792.3h.01M132.8,793.5h.01M138.2,792.4h.01M128.2,792.7h.01M132.8,792.3h.01M124.7,790.8h.01M120.3,787.6h.01M121.7,789.1h.01M142.7,788.5h.01M145.4,785.1h.01M132.8,792.7h.01M151.2,791.3h.01M144.8,787.6h.01M146.9,783.8h.01M142.7,791.1h.01M112.8,788.7h.01M141.7,791.3h.01M115.8,791.4h.01M112.0,792.4h.01M124.0,790.7h.01M122.5,789.6h.01M139.7,791.0h.01M148.7,778.7h.01M120.6,785.8h.01M135.4,791.3h.01M112.7,780.9h.01M120.2,790.5h.01M124.3,789.7h.01M143.5,788.5h.01M129.0,792.3h.01M132.8,792.5h.01M138.9,788.8h.01M131.4,793.6h.01M120.1,790.4h.01M120.4,785.3h.01M139.2,791.7h.01M145.5,782.8h.01M115.2,785.1h.01M141.6,787.2h.01M148.1,785.2h.01M133.7,792.4h.01M144.5,788.7h.01M121.4,790.4h.01M151.0,783.1h.01M128.6,792.2h.01M125.5,790.6h.01M139.6,789.0h.01M120.8,788.2h.01M139.6,788.5h.01M115.6,783.0h.01M115.0,779.8h.01M114.5,785.5h.01M149.7,790.7h.01M146.7,790.6h.01M115.8,783.4h.01M132.1,792.7h.01M126.7,791.8h.01M124.9,792.2h.01M116.6,784.9h.01M133.1,792.4h.01M113.5,785.7h.01M138.2,789.9h.01M150.4,793.6h.01M124.0,792.7h.01M137.0,792.5h.01M124.9,791.6h.01M142.7,793.0h.01M128.9,791.8h.01M128.4,792.2h.01M121.1,791.2h.01M150.7,787.5h.01M135.7,792.9h.01M114.9,784.5h.01M139.9,788.0h.01M146.9,783.2h.01M135.0,792.5h.01M125.3,789.6h.01M129.4,793.3h.01M127.5,792.5h.01M121.9,787.4h.01M126.8,791.4h.01M137.8,789.5h.01M146.5,785.7h.01M133.5,792.0h.01M147.0,789.5h.01M135.3,791.3h.01M147.4,784.8h.01M133.9,792.5h.01M124.7,789.0h.01M149.7,784.9h.01M138.0,790.4h.01M123.8,789.6h.01M122.3,787.4h.01M132.8,792.2h.01M113.7,782.2h.01M142.3,785.6h.01M139.1,789.4h.01M149.6,789.7h.01M117.2,783.4h.01M144.4,786.9h.01M114.7,790.0h.01M119.3,784.5h.01M117.0,781.8h.01M114.7,792.0h.01M136.6,790.8h.01M150.0,780.7h.01M122.5,791.7h.01M133.3,793.4h.01M127.5,792.5h.01M127.0,793.1h.01M114.7,784.1h.01M122.0,789.7h.01M118.7,788.4h.01M133.7,792.6h.01M118.7,786.9h.01M148.8,789.3h.01M150.1,783.4h.01M118.1,790.9h.01M121.3,788.7h.01M135.6,791.7h.01M147.6,782.6h.01M124.2,788.9h.01M128.7,791.8h.01M119.9,785.4h.01M125.9,792.9h.01M122.5,791.5h.01M145.1,784.2h.01M122.0,790.4h.01M114.5,789.8h.01M148.8,792.3h.01M137.3,791.8h.01M142.9,792.8h.01M122.6,788.9h.01M151.4,778.9h.01M116.4,783.0h.01M122.3,789.2h.01M147.7,782.3h.01M113.0,788.4h.01M136.9,790.7h.01M130.8,793.1h.01M129.6,792.2h.01M150.2,784.4h.01M119.9,786.8h.01M148.3,789.3h.01M142.6,790.1h.01M151.0,788.6h.01M148.2,784.0h.01M122.0,787.6h.01M111.9,776.3h.01M151.1,788.7h.01M149.4,785.0h.01M140.7,787.4h.01M138.0,790.4h.01M139.0,788.9h.01M139.8,790.8h.01M136.6,791.9h.01M117.0,786.3h.01M141.4,787.8h.01M137.4,790.3h.01M136.0,791.9h.01M122.1,792.0h.01M148.2,781.2h.01M131.0,793.2h.01M136.5,791.5h.01M133.2,792.5h.01M125.3,790.2h.01M131.6,792.5h.01M115.5,790.1h.01M134.4,791.5h.01M135.0,793.3h.01M147.0,781.9h.01M130.2,792.5h.01M149.4,782.2h.01M135.5,792.2h.01M150.6,780.9h.01M130.8,793.6h.01M149.9,789.6h.01M119.2,786.0h.01M132.9,792.5h.01M141.0,787.4h.01M137.9,790.2h.01M140.4,791.5h.01M113.3,785.1h.01M138.1,792.0h.01M118.1,793.0h.01M119.1,785.7h.01M129.4,792.8h.01M117.5,782.4h.01M111.5,793.2h.01M144.7,787.6h.01M121.4,791.3h.01M116.4,783.1h.01M146.5,786.1h.01M113.5,786.9h.01M121.8,789.9h.01M150.5,777.0h.01M150.7,780.9h.01M128.5,792.5h.01M130.1,792.8h.01M143.9,784.5h.01M116.4,783.9h.01M118.8,787.2h.01M138.3,792.1h.01M141.0,789.1h.01M125.5,789.7h.01M128.6,791.5h.01M144.3,790.9h.01M132.3,793.3h.01M120.7,786.0h.01M127.6,791.7h.01M143.8,791.7h.01M117.7,784.8h.01M125.7,790.9h.01M118.7,784.3h.01M134.1,793.6h.01M125.6,789.9h.01M149.2,781.4h.01M150.0,789.0h.01M147.0,780.7h.01M126.6,791.6h.01M150.9,776.0h.01M127.7,792.0h.01M117.6,783.4h.01M129.5,792.2h.01M132.1,793.4h.01M134.3,792.0h.01M151.0,788.4h.01M128.6,793.2h.01M113.3,777.5h.01M117.5,787.2h.01M140.8,792.1h.01M149.6,779.5h.01M116.2,788.8h.01M136.9,793.0h.01M111.7,784.2h.01M124.9,793.4h.01M128.6,792.5h.01M121.3,788.2h.01M122.3,787.3h.01M130.6,792.4h.01M125.0,789.6h.01M140.3,790.1h.01M134.6,791.6h.01M127.6,791.2h.01M118.1,787.7h.01M129.3,792.5h.01M123.3,790.3h.01M138.4,789.0h.01M143.4,787.7h.01M129.6,792.9h.01M148.4,788.6h.01M124.9,791.1h.01M134.9,792.7h.01M121.4,791.3h.01M137.7,791.9h.01M138.9,792.3h.01M114.6,780.0h.01M128.8,793.6h.01M115.3,781.4h.01M124.9,792.4h.01M137.7,792.6h.01M116.1,788.6h.01M126.8,792.8h.01M132.4,792.6h.01M114.6,788.5h.01M132.5,792.5h.01M115.7,788.6h.01M124.9,793.1h.01M140.2,791.3h.01M120.0,789.9h.01M135.2,791.2h.01M134.4,791.8h.01M131.7,793.4h.01M149.7,783.6h.01M120.2,790.6h.01M111.4,792.1h.01M148.9,782.4h.01M116.0,789.7h.01M144.4,792.9h.01M137.9,790.6h.01M150.9,780.9h.01M136.0,792.4h.01M132.0,793.0h.01M142.0,786.5h.01M126.3,792.2h.01M125.3,792.7h.01M130.8,793.1h.01M127.5,793.1h.01M150.2,777.2h.01M125.7,791.1h.01M136.7,793.1h.01M141.3,787.2h.01M121.2,786.3h.01M134.7,792.5h.01M141.3,788.5h.01M143.7,785.2h.01M131.1,793.7h.01M143.2,793.3h.01M123.9,793.1h.01M122.5,791.6h.01M124.2,791.8h.01M117.0,781.9h.01M135.1,792.5h.01M117.3,783.0h.01M135.0,792.4h.01M131.5,793.1h.01M127.0,792.1h.01M134.7,793.4h.01M112.2,776.2h.01M112.9,787.1h.01M144.6,793.6h.01M134.8,792.7h.01M120.6,789.7h.01M146.4,781.9h.01M134.7,792.6h.01M126.4,790.7h.01M142.7,788.4h.01M144.4,791.9h.01M140.9,787.5h.01M135.7,792.9h.01M148.4,789.2h.01M148.6,783.3h.01M141.6,793.6h.01M151.2,780.1h.01M132.0,793.2h.01M114.8,790.4h.01M137.7,792.4h.01M131.2,792.8h.01M138.5,792.2h.01M144.7,788.7h.01M120.9,790.0h.01M148.2,779.9h.01M146.1,784.1h.01M136.3,792.5h.01M145.2,786.2h.01M121.0,791.1h.01M119.1,786.0h.01M125.2,790.3h.01M142.8,792.1h.01M132.1,793.4h.01M124.9,791.5h.01M145.9,792.8h.01M138.7,789.7h.01M133.2,792.7h.01M126.6,793.6h.01M117.2,793.3h.01M122.4,788.0h.01M134.3,792.9h.01M138.2,789.8h.01M149.4,791.8h.01M134.8,791.7h.01M129.3,792.5h.01M150.5,780.3h.01M143.3,784.8h.01M140.5,792.1h.01M123.9,791.2h.01M143.1,786.4h.01M140.7,791.9h.01M151.0,782.5h.01M150.8,780.7h.01M141.5,792.7h.01M124.6,789.7h.01M124.9,790.8h.01M128.9,792.7h.01M118.5,793.6h.01M127.9,791.9h.01M130.7,792.5h.01M126.7,791.4h.01M150.3,785.4h.01M119.5,785.4h.01M149.3,787.9h.01M120.1,785.0h.01M141.2,788.4h.01M132.3,792.7h.01M134.7,791.8h.01M146.3,783.1h.01M121.7,788.6h.01M124.1,790.3h.01M146.1,784.7h.01M114.2,783.2h.01M121.2,786.6h.01M147.1,783.4h.01M114.6,785.2h.01M133.8,792.2h.01M118.7,789.7h.01M124.0,790.2h.01M137.5,790.0h.01M136.6,791.0h.01M111.8,785.5h.01M127.5,792.4h.01M128.7,791.5h.01M129.8,792.8h.01M141.4,790.2h.01M125.3,790.9h.01M121.8,789.7h.01M151.2,778.1h.01M129.9,792.6h.01M144.8,789.4h.01M116.2,793.6h.01M128.6,793.0h.01M117.6,785.9h.01M125.4,790.0h.01M114.8,793.2h.01M125.2,789.6h.01M113.2,781.2h.01M132.5,792.5h.01M143.2,790.0h.01M137.3,793.3h.01M148.5,790.7h.01M111.8,777.8h.01M148.6,780.1h.01M139.2,788.9h.01M120.0,790.7h.01M118.3,792.6h.01M138.8,791.0h.01M116.1,786.1h.01M148.4,789.8h.01M141.2,789.9h.01M142.5,790.2h.01M145.7,783.5h.01M144.6,786.9h.01M114.1,791.5h.01M144.5,785.6h.01M127.1,791.3h.01M146.3,784.9h.01M143.8,791.7h.01M134.7,793.2h.01M142.6,788.0h.01M122.4,790.7h.01M151.2,777.2h.01M131.5,792.6h.01M132.0,792.5h.01M140.3,791.6h.01M131.6,793.1h.01M123.3,788.9h.01M137.3,791.6h.01M119.0,784.4h.01M138.7,791.7h.01M115.0,786.7h.01M147.8,780.5h.01M133.1,792.2h.01M124.1,788.5h.01M135.1,792.4h.01M135.6,792.1h.01M132.9,792.2h.01M142.4,785.7h.01M143.3,785.8h.01M129.1,792.6h.01M136.3,790.8h.01M129.1,793.4h.01M145.5,783.2h.01M137.8,789.4h.01M142.8,785.1h.01M127.4,791.3h.01M129.6,792.5h.01M132.1,793.0h.01M120.9,790.4h.01M130.9,793.3h.01M145.0,784.5h.01M137.0,792.0h.01M128.3,792.5h.01M137.8,790.5h.01M143.2,786.2h.01M133.7,792.8h.01M140.1,788.8h.01M126.3,791.4h.01M133.9,792.1h.01M112.5,787.9h.01M141.0,790.0h.01M135.5,792.5h.01M134.0,791.9h.01M144.4,790.5h.01M135.5,792.9h.01M119.9,790.3h.01M123.3,788.5h.01M124.7,791.0h.01M118.2,788.1h.01M129.6,792.3h.01M123.6,789.7h.01M146.0,782.5h.01M135.3,791.1h.01M143.3,788.4h.01M136.2,792.8h.01M136.3,791.3h.01M139.6,789.5h.01M146.6,782.8h.01M135.4,791.3h.01M124.7,793.4h.01M121.7,790.9h.01M116.7,781.6h.01M131.4,793.7h.01M131.6,792.6h.01M113.3,789.7h.01M134.5,791.9h.01M138.2,789.1h.01M149.2,783.8h.01M138.6,789.7h.01M132.8,792.3h.01M122.8,788.3h.01M119.7,787.9h.01M130.7,792.7h.01M133.8,793.5h.01M137.1,793.7h.01M129.1,792.8h.01M134.3,793.6h.01M141.0,788.2h.01M146.9,791.1h.01M140.3,787.5h.01M145.4,783.5h.01M138.3,791.4h.01M118.0,790.9h.01M123.5,788.4h.01M135.4,791.5h.01M140.4,790.0h.01M139.8,790.0h.01M150.5,784.4h.01M147.3,782.1h.01M113.3,778.2h.01M142.9,790.8h.01M140.2,789.3h.01M132.0,792.4h.01M151.3,792.4h.01M142.6,790.4h.01M140.4,789.9h.01M112.6,789.5h.01M128.4,792.2h.01M114.3,783.4h.01M114.9,792.1h.01M112.4,784.4h.01M136.4,790.6h.01M123.3,790.4h.01M124.9,790.7h.01M115.8,791.1h.01M144.4,788.3h.01M123.1,789.6h.01M118.9,792.0h.01M139.4,792.7h.01M149.9,778.9h.01M130.9,792.9h.01M138.9,792.1h.01M131.8,793.3h.01M128.9,791.8h.01M117.6,793.6h.01M131.2,793.7h.01M136.6,791.3h.01M142.7,787.5h.01M124.8,791.3h.01M123.7,789.8h.01M144.3,789.1h.01M112.8,779.3h.01M143.5,785.5h.01M130.9,793.4h.01M136.0,791.5h.01M126.6,791.1h.01M149.1,784.2h.01M118.8,783.7h.01M141.6,789.7h.01M130.7,793.5h.01M116.3,783.1h.01M147.0,781.2h.01M134.2,791.8h.01M145.9,784.5h.01M129.3,792.2h.01M119.5,784.7h.01M115.1,787.6h.01M120.8,789.5h.01M139.8,789.1h.01M130.8,793.2h.01M138.4,792.0h.01M126.0,791.1h.01M124.6,791.9h.01M135.9,791.7h.01M122.5,788.2h.01M117.7,787.0h.01M139.9,788.7h.01M141.0,792.1h.01M111.5,783.9h.01M135.0,791.8h.01M122.7,787.4h.01M137.1,790.7h.01M129.2,792.2h.01M122.1,787.4h.01M138.2,790.2h.01M119.2,788.3h.01M129.5,792.7h.01M130.1,793.2h.01M121.2,788.1h.01M125.6,791.1h.01M115.8,793.3h.01M142.2,790.5h.01M120.7,789.0h.01M125.8,790.2h.01M137.6,793.0h.01M122.9,788.0h.01M133.6,791.9h.01M117.1,790.2h.01M125.0,791.2h.01M148.9,779.3h.01M144.7,785.5h.01M121.3,791.9h.01M122.4,792.7h.01M132.3,792.3h.01M130.2,792.6h.01M117.1,790.0h.01M113.7,790.0h.01M139.7,791.6h.01M117.3,784.2h.01M124.4,793.4h.01M143.9,789.2h.01M134.1,791.9h.01M132.2,792.5h.01M137.9,789.4h.01M126.5,792.1h.01M133.1,793.0h.01M145.8,786.7h.01M122.5,793.3h.01M143.1,789.8h.01M148.5,785.2h.01M137.0,792.2h.01M147.3,790.3h.01M128.4,792.9h.01M122.3,790.2h.01M116.7,786.0h.01M139.6,791.5h.01M129.1,792.4h.01M147.9,780.8h.01M131.6,793.3h.01M111.6,784.9h.01M139.7,788.5h.01M125.8,790.9h.01M134.5,793.4h.01M136.8,793.2h.01M126.3,791.8h.01M142.1,788.4h.01M112.8,782.0h.01M138.2,789.4h.01M151.5,779.8h.01M133.2,792.3h.01M129.6,793.0h.01M124.8,789.5h.01M138.2,790.1h.01M130.4,792.7h.01M119.1,784.3h.01M131.5,793.2h.01M119.4,790.9h.01M136.8,793.5h.01M138.0,791.9h.01M113.7,783.5h.01M134.8,792.6h.01M136.3,791.2h.01M132.1,793.5h.01M129.8,792.3h.01M133.9,793.7h.01M151.2,776.2h.01M146.1,782.1h.01M135.0,792.3h.01M135.5,792.1h.01M139.1,793.2h.01M125.3,791.4h.01M120.6,791.9h.01M135.3,793.0h.01M144.6,793.3h.01M113.6,784.3h.01M123.5,788.6h.01M140.5,788.2h.01M118.2,783.3h.01M132.8,793.2h.01M114.4,785.2h.01M126.2,791.5h.01M127.8,791.8h.01M146.0,788.3h.01M146.0,781.8h.01M135.6,792.9h.01M129.9,792.2h.01M134.9,792.7h.01M126.1,790.8h.01M126.7,790.4h.01M115.9,780.9h.01M119.8,784.7h.01M116.2,792.0h.01M124.2,790.1h.01M150.8,779.2h.01M135.6,793.1h.01M141.8,788.7h.01M123.7,788.6h.01M132.6,792.5h.01M115.4,782.5h.01M135.0,791.6h.01M134.1,792.6h.01M144.4,786.3h.01M133.9,792.2h.01M123.5,790.9h.01M139.1,789.2h.01M144.4,784.6h.01M137.1,793.2h.01M114.3,785.1h.01M113.9,782.6h.01M146.8,791.6h.01M136.7,792.5h.01M131.0,793.1h.01M136.2,790.9h.01M117.5,784.8h.01M121.5,789.4h.01M114.3,782.0h.01M145.2,784.4h.01M149.3,782.0h.01M130.2,793.4h.01M126.8,792.0h.01M148.6,784.1h.01M133.9,792.1h.01M122.2,788.7h.01M128.9,792.3h.01M116.3,782.6h.01M133.8,791.8h.01M121.9,788.4h.01M138.3,791.1h.01M128.5,793.0h.01M139.0,790.6h.01M145.1,786.0h.01M137.8,793.7h.01M145.4,786.0h.01M136.5,792.5h.01M151.2,776.0h.01M145.2,791.4h.01M138.7,790.4h.01M131.7,792.5h.01M116.1,784.8h.01M112.2,776.3h.01M119.2,787.8h.01M149.6,785.7h.01M150.3,777.9h.01M121.6,790.4h.01M131.9,792.5h.01M121.8,787.7h.01M150.6,778.5h.01M140.7,787.7h.01M113.2,792.1h.01M135.4,791.3h.01M135.7,790.8h.01M144.4,786.5h.01M140.2,787.7h.01M132.3,793.0h.01M131.4,792.5h.01M126.9,793.5h.01M143.2,786.0h.01M124.3,792.4h.01M138.4,790.0h.01M133.8,793.3h.01M122.6,790.8h.01M144.3,786.5h.01M124.8,789.1h.01M119.0,793.3h.01M146.4,782.1h.01M111.6,791.3h.01M144.3,791.1h.01M126.6,790.5h.01M144.3,789.7h.01M124.0,793.2h.01M130.9,792.4h.01M112.4,777.9h.01M113.4,782.7h.01M135.6,792.9h.01M128.5,791.7h.01M146.3,782.4h.01M134.5,793.0h.01M128.3,793.0h.01M126.0,790.7h.01M140.4,792.9h.01M123.5,790.6h.01M130.5,792.7h.01M112.5,792.1h.01M118.4,789.7h.01M127.4,791.1h.01M113.6,782.7h.01M113.0,785.2h.01M137.1,791.8h.01M150.3,778.1h.01M138.0,789.4h.01M118.4,789.3h.01M121.5,787.6h.01M140.7,787.1h.01M124.2,791.7h.01M139.1,791.6h.01M116.7,787.9h.01M114.5,790.0h.01M117.9,784.1h.01M119.4,788.3h.01M122.9,790.8h.01M140.2,791.9h.01M118.5,792.6h.01M119.2,785.8h.01M125.1,792.8h.01M119.1,784.6h.01M132.6,792.6h.01M141.3,791.1h.01M140.9,786.8h.01M126.2,791.9h.01M119.7,786.7h.01M117.2,787.5h.01M115.6,780.9h.01M141.4,788.0h.01M128.7,793.4h.01M150.6,787.0h.01M134.8,791.3h.01M112.1,790.6h.01M120.7,788.4h.01M130.3,793.1h.01M111.5,775.3h.01M113.8,789.1h.01M125.6,793.6h.01M136.7,790.7h.01M138.5,789.6h.01M127.5,791.4h.01M125.3,792.3h.01M139.2,789.1h.01M144.7,788.0h.01M142.9,787.5h.01M114.7,784.2h.01M150.9,786.0h.01M131.8,792.5h.01M135.6,791.3h.01M117.1,782.1h.01M130.8,792.6h.01M132.9,792.5h.01M112.9,792.0h.01M141.3,787.9h.01M134.9,791.9h.01M120.5,789.2h.01M129.2,792.8h.01M121.2,786.7h.01M113.1,785.4h.01M139.4,793.3h.01M113.8,779.4h.01M112.6,791.4h.01M126.0,790.2h.01M126.1,790.1h.01M125.0,790.8h.01M148.2,780.5h.01M119.5,786.2h.01M131.1,793.0h.01M136.2,791.4h.01M115.9,781.9h.01M145.8,789.0h.01M132.2,792.9h.01M118.4,788.2h.01M130.3,793.3h.01M123.1,787.8h.01M133.5,792.5h.01M145.6,782.8h.01M126.2,790.3h.01M123.3,790.2h.01M147.3,786.1h.01M131.3,792.8h.01M149.3,792.9h.01M135.4,792.0h.01M113.3,785.9h.01M139.5,789.1h.01M147.2,785.3h.01M120.8,787.6h.01M136.1,792.2h.01M125.0,792.5h.01M132.3,793.1h.01M121.0,787.7h.01M146.7,787.9h.01M126.1,792.1h.01M128.7,792.8h.01M129.4,793.2h.01M119.7,785.4h.01M129.2,792.2h.01M129.8,792.9h.01M149.6,788.7h.01M128.5,792.9h.01M114.9,781.1h.01M143.2,785.0h.01M122.2,792.4h.01M138.5,791.6h.01M145.8,784.0h.01M140.1,789.4h.01M144.3,789.0h.01M142.0,787.7h.01M123.9,790.3h.01M148.4,788.9h.01M126.4,792.8h.01M131.5,793.0h.01M119.4,789.2h.01M130.9,793.6h.01M147.7,783.9h.01M124.0,790.4h.01M147.9,787.8h.01M123.4,788.8h.01M150.8,781.0h.01M148.1,785.2h.01M141.8,789.0h.01M141.9,791.9h.01M116.6,790.2h.01M141.7,786.3h.01M118.6,792.8h.01M140.8,792.0h.01M123.2,788.2h.01M124.6,791.8h.01M126.8,792.1h.01M132.2,793.3h.01M137.1,790.6h.01M130.8,793.0h.01M133.8,793.2h.01M121.9,791.1h.01M147.1,782.1h.01M128.7,792.3h.01M128.0,792.9h.01M137.3,791.4h.01M135.7,791.9h.01M119.3,789.8h.01M120.4,792.0h.01M119.4,789.5h.01M140.7,791.6h.01M135.6,791.1h.01M131.9,792.9h.01M123.3,791.8h.01M129.0,792.0h.01M131.6,793.4h.01M131.5,792.7h.01M124.4,789.3h.01M140.9,789.6h.01M149.8,780.2h.01M115.4,782.8h.01M116.2,785.2h.01M133.9,792.6h.01M145.4,791.4h.01M121.1,787.0h.01M131.3,793.0h.01M134.4,791.7h.01M112.1,785.8h.01M126.2,792.6h.01M131.9,793.1h.01M143.3,787.0h.01M138.6,793.4h.01M130.5,792.9h.01M146.0,784.3h.01M119.7,791.2h.01M121.1,786.8h.01M123.8,789.2h.01M146.0,783.7h.01M113.6,783.7h.01M141.3,790.5h.01M123.0,789.5h.01M136.3,791.3h.01M141.7,788.7h.01M144.8,783.8h.01M131.8,793.1h.01M138.3,789.7h.01M122.5,791.9h.01M144.7,788.7h.01M120.9,792.8h.01M144.8,790.2h.01M141.2,787.0h.01M138.3,789.6h.01M133.1,793.3h.01M146.8,784.4h.01M139.0,792.5h.01M131.3,792.6h.01M112.8,778.4h.01M146.1,788.6h.01M132.7,793.3h.01M149.8,778.4h.01M129.5,792.9h.01M123.6,789.5h.01M129.7,792.1h.01M133.7,792.6h.01M149.8,779.1h.01M131.1,792.9h.01M150.3,783.8h.01M147.1,781.9h.01M149.0,778.9h.01M119.7,785.8h.01M133.6,792.8h.01M111.5,776.5h.01M148.9,781.0h.01M125.1,790.4h.01M141.4,793.6h.01M118.0,784.6h.01M139.2,788.7h.01M134.4,792.6h.01M150.8,778.4h.01M135.3,793.4h.01M125.9,792.7h.01M124.3,791.3h.01M113.1,785.4h.01M143.0,791.9h.01M130.7,793.2h.01M149.7,777.9h.01M144.9,790.1h.01M132.4,793.2h.01M143.0,786.8h.01M133.7,792.1h.01M129.8,792.8h.01M135.3,792.9h.01M134.4,792.2h.01M148.5,779.7h.01M130.1,792.6h.01M142.6,786.7h.01M111.6,776.8h.01M115.2,785.8h.01M115.0,779.4h.01M115.5,788.1h.01M135.8,793.2h.01M129.2,793.3h.01M135.8,790.8h.01M122.8,790.3h.01M146.0,787.5h.01M141.7,787.6h.01M150.3,782.9h.01M132.4,793.5h.01M112.1,788.0h.01M142.7,793.3h.01M151.0,789.2h.01M137.1,792.0h.01M119.6,784.4h.01M121.5,786.4h.01M115.7,793.1h.01M132.9,792.9h.01M134.5,792.3h.01M122.3,789.7h.01M133.6,792.5h.01M129.6,793.0h.01M121.5,790.5h.01M134.5,791.6h.01M134.6,791.6h.01M128.6,793.0h.01M121.8,789.6h.01M145.6,783.8h.01M126.9,791.2h.01M122.6,788.5h.01M115.0,783.7h.01M119.9,786.5h.01M139.1,789.7h.01M133.3,792.9h.01M140.3,788.9h.01M148.1,793.0h.01M113.7,779.0h.01M147.2,781.5h.01M115.5,786.2h.01M140.1,788.9h.01M133.9,793.2h.01M146.3,782.6h.01M127.1,790.8h.01M136.0,791.9h.01M136.0,790.8h.01M119.8,786.7h.01M121.0,786.0h.01M141.2,790.9h.01M143.5,786.0h.01M139.9,789.9h.01M144.0,791.7h.01M143.4,788.9h.01M129.6,792.0h.01M139.8,788.1h.01M150.9,777.5h.01M147.9,784.6h.01M122.7,790.7h.01M131.5,792.9h.01M127.9,791.7h.01M144.4,786.7h.01M138.3,791.5h.01M119.6,792.5h.01M148.6,781.7h.01M126.3,790.8h.01M150.2,784.2h.01M127.6,791.6h.01M134.7,792.5h.01M134.8,792.1h.01M136.3,790.6h.01M140.2,789.7h.01M140.7,789.7h.01M114.1,784.7h.01M116.0,785.1h.01M119.2,790.2h.01M116.3,791.7h.01M126.7,792.3h.01M117.9,784.9h.01M139.7,789.3h.01M150.9,790.4h.01M134.5,792.4h.01M136.7,790.3h.01M138.5,791.7h.01M132.6,792.5h.01M117.9,790.4h.01M132.0,793.3h.01M137.3,791.5h.01M149.5,779.0h.01M146.1,781.7h.01M148.8,788.6h.01M143.6,787.6h.01M112.6,787.1h.01M147.7,780.5h.01M114.7,782.4h.01M135.9,790.8h.01M117.1,787.8h.01M139.0,790.1h.01M141.0,789.1h.01M115.7,783.5h.01M119.4,792.6h.01M113.9,784.1h.01M116.4,787.2h.01M132.2,792.4h.01M119.9,788.9h.01M146.0,790.8h.01M140.6,788.4h.01M133.7,792.9h.01M123.4,792.3h.01M132.2,792.7h.01M125.9,793.4h.01M150.9,789.0h.01M139.5,789.0h.01M147.6,785.0h.01M111.4,791.8h.01M136.9,792.1h.01M130.6,792.3h.01M143.3,787.9h.01M130.1,792.4h.01M132.6,793.2h.01M144.1,786.4h.01M117.8,790.7h.01M135.8,793.6h.01M151.3,781.9h.01M124.9,792.9h.01M123.6,789.3h.01M149.7,782.5h.01M116.6,787.6h.01M123.4,788.4h.01M131.3,792.9h.01M128.0,791.8h.01M128.0,791.7h.01M124.1,792.0h.01M122.6,791.2h.01M125.7,790.9h.01M122.8,788.3h.01M122.0,788.3h.01M143.1,787.8h.01M130.8,792.8h.01M141.3,790.3h.01M128.7,792.9h.01M124.9,789.7h.01M131.1,792.8h.01M131.8,792.8h.01M143.2,789.1h.01M130.4,792.6h.01M146.5,788.3h.01M114.2,781.5h.01M135.6,792.0h.01M125.2,790.2h.01M118.7,792.2h.01M148.8,780.0h.01M130.2,792.4h.01M140.9,787.5h.01M119.3,787.7h.01M132.0,793.1h.01M120.6,786.3h.01M132.0,793.6h.01M141.2,789.1h.01M119.1,785.6h.01M120.5,792.6h.01M142.8,789.3h.01M132.3,792.4h.01M137.5,791.1h.01M134.0,792.0h.01M121.0,786.9h.01M149.8,783.9h.01M138.7,789.2h.01M117.2,785.7h.01M116.4,791.2h.01M146.9,788.1h.01M120.8,786.1h.01M134.1,791.9h.01M126.1,791.8h.01M142.3,785.9h.01M126.9,793.2h.01M127.2,791.8h.01M137.4,791.5h.01M114.8,783.7h.01M135.6,791.5h.01M119.7,788.6h.01M121.2,791.3h.01M141.2,788.5h.01M146.8,781.9h.01M118.7,790.6h.01M123.0,793.5h.01M123.9,789.8h.01M115.9,791.4h.01M132.7,792.8h.01M119.9,786.7h.01M130.8,792.4h.01M125.2,790.3h.01M129.0,793.1h.01M127.5,791.8h.01M135.4,791.6h.01M116.4,784.2h.01M143.6,786.1h.01M150.6,784.4h.01M123.2,789.2h.01M140.9,789.7h.01M147.5,783.9h.01M133.8,793.0h.01M127.2,792.7h.01M142.8,786.5h.01M124.5,790.3h.01M147.5,788.7h.01M148.6,787.3h.01M148.6,785.4h.01M146.6,788.4h.01M123.0,789.6h.01M134.5,792.3h.01M138.6,793.0h.01M114.8,786.8h.01M123.6,789.3h.01M144.2,790.6h.01M124.6,789.6h.01M123.2,788.9h.01M141.1,788.2h.01M122.0,792.3h.01M148.3,781.7h.01M145.6,788.4h.01M118.3,786.2h.01M134.5,793.5h.01M123.1,792.0h.01M128.7,793.5h.01M140.1,792.0h.01M147.2,781.2h.01M126.3,790.5h.01M125.3,791.7h.01M126.4,791.9h.01M146.5,781.8h.01M123.2,792.2h.01M140.9,789.9h.01M132.8,793.0h.01M124.2,791.0h.01M146.2,789.6h.01M135.6,790.9h.01M130.0,793.2h.01M134.9,792.2h.01M128.6,792.6h.01M117.1,784.5h.01M138.6,790.7h.01M143.3,790.6h.01M114.4,788.0h.01M113.4,784.4h.01M129.5,792.9h.01M131.2,793.6h.01M125.6,789.7h.01M136.8,791.0h.01M142.7,793.2h.01M139.9,789.4h.01M146.5,790.4h.01M132.5,792.4h.01M113.2,781.1h.01M130.9,793.1h.01M146.9,787.4h.01M129.5,792.2h.01M133.1,793.0h.01M119.0,787.9h.01M149.2,783.0h.01M117.9,784.3h.01M120.4,785.7h.01M136.1,790.9h.01M143.3,785.2h.01M136.5,790.8h.01M143.1,788.6h.01M127.7,793.2h.01M138.8,789.5h.01M126.0,791.3h.01M127.5,792.2h.01M116.2,782.0h.01M124.5,789.3h.01M123.8,788.5h.01M114.7,780.6h.01M135.3,791.9h.01M140.2,792.4h.01M137.2,789.8h.01M113.7,779.1h.01M135.3,791.6h.01M144.6,785.0h.01M113.0,786.6h.01M138.4,789.5h.01M143.8,788.6h.01M119.3,787.3h.01M145.7,788.0h.01M127.6,792.3h.01M119.2,791.1h.01M126.3,791.0h.01M141.3,790.6h.01M135.3,792.3h.01M135.6,792.1h.01M118.0,785.4h.01M129.4,793.4h.01M142.2,792.5h.01M146.6,790.8h.01M114.0,785.9h.01M124.7,790.9h.01M113.4,783.4h.01M149.2,782.4h.01M133.8,792.5h.01M114.8,791.0h.01M130.3,793.0h.01M115.8,785.1h.01M138.8,789.3h.01M143.7,784.5h.01M137.2,790.3h.01M136.5,791.3h.01M129.8,792.4h.01M123.3,792.1h.01M122.9,791.2h.01M137.6,789.9h.01M135.0,791.4h.01M143.5,784.6h.01M123.9,790.8h.01M121.0,787.0h.01M133.4,792.4h.01M150.5,784.7h.01M129.5,792.1h.01M142.4,792.8h.01M131.2,792.8h.01M131.9,792.8h.01M128.9,793.3h.01M146.8,781.9h.01M128.1,791.8h.01M126.3,791.1h.01M114.8,780.6h.01M126.7,791.4h.01M118.7,792.9h.01M124.2,789.0h.01M135.7,792.2h.01M127.8,792.4h.01M138.2,792.9h.01M113.1,787.4h.01M112.6,781.9h.01M131.3,793.0h.01M120.2,787.1h.01M112.2,792.2h.01M143.3,793.5h.01M116.9,786.0h.01M141.4,787.6h.01M144.7,787.6h.01M124.1,791.7h.01M144.1,787.8h.01M143.2,792.7h.01M115.2,789.1h.01M119.3,791.8h.01M130.5,793.4h.01M140.0,791.3h.01M137.0,790.4h.01M123.8,790.0h.01" fill="none" stroke="#a6a6a6" stroke-width="1.1" stroke-linecap="round"/>
<path d="M125.3,791.4h.01M165.1,790.8h.01M98.9,791.0h.01M179.3,791.5h.01M137.1,791.1h.01M97.9,791.6h.01M78.7,791.7h.01M169.6,792.7h.01M111.5,791.1h.01M112.1,793.3h.01M83.3,790.8h.01M123.2,792.5h.01M176.5,790.6h.01M174.4,791.6h.01M68.9,792.5h.01M140.4,792.1h.01M138.0,793.7h.01M199.7,791.8h.01M156.6,791.8h.01M102.7,791.5h.01M98.0,792.4h.01M136.3,791.2h.01M125.0,792.7h.01M197.5,793.0h.01M116.9,792.0h.01M126.9,792.1h.01M115.8,790.8h.01M184.6,792.8h.01M179.2,793.4h.01M100.5,792.6h.01M172.7,791.2h.01M153.2,790.4h.01M69.0,791.0h.01M94.5,792.0h.01M167.6,792.3h.01M71.9,792.3h.01M104.6,792.1h.01M72.1,792.6h.01M102.0,792.5h.01M147.8,793.6h.01M129.5,791.3h.01M105.2,791.4h.01M199.0,791.5h.01M87.1,791.2h.01M81.6,793.2h.01M174.2,792.3h.01M163.4,791.2h.01M126.5,792.3h.01M81.6,792.8h.01M106.9,790.5h.01M87.7,792.1h.01M135.5,792.2h.01M126.0,791.3h.01M112.6,791.0h.01M133.6,790.5h.01M106.3,793.3h.01M168.7,793.2h.01M97.4,791.8h.01M177.2,793.2h.01M189.2,792.5h.01M154.1,792.0h.01M120.7,792.9h.01M134.0,791.8h.01M110.8,793.6h.01M85.1,793.5h.01M68.7,793.0h.01M133.6,791.0h.01M70.9,793.2h.01M161.4,790.7h.01M125.5,790.5h.01M195.8,793.4h.01M157.7,791.3h.01M188.4,792.3h.01M73.1,790.4h.01M194.6,791.8h.01M163.0,791.5h.01M164.5,791.9h.01M155.7,791.0h.01M192.2,793.6h.01M107.4,790.9h.01M179.4,793.7h.01M148.1,792.7h.01M202.4,792.8h.01M187.2,792.6h.01M200.4,791.3h.01M88.6,793.4h.01M176.0,790.9h.01M144.3,792.4h.01M141.4,792.3h.01M140.6,793.6h.01M85.2,792.2h.01M181.8,793.5h.01M166.1,791.6h.01M116.8,793.0h.01M172.5,792.1h.01M189.2,793.3h.01M120.5,793.5h.01M114.9,793.3h.01M176.9,791.4h.01M129.8,792.0h.01M109.5,791.6h.01M134.2,790.6h.01M141.5,793.2h.01M95.4,793.3h.01M134.9,790.5h.01M128.8,793.6h.01M94.8,793.0h.01M100.2,792.0h.01M177.7,793.3h.01M117.6,792.1h.01M119.6,791.7h.01M199.8,791.8h.01M129.8,792.4h.01M199.2,791.6h.01M171.0,793.3h.01M185.1,791.3h.01M90.3,792.1h.01M123.3,793.7h.01M84.1,790.9h.01M72.9,792.1h.01M166.0,791.5h.01M115.0,792.9h.01M173.4,791.4h.01M106.9,793.2h.01M108.8,790.6h.01M111.4,792.9h.01M164.1,792.2h.01M162.4,791.5h.01M87.4,793.4h.01M103.3,790.7h.01M94.5,792.1h.01M87.8,791.0h.01M104.8,793.2h.01M98.0,792.4h.01M167.4,792.7h.01M177.0,791.9h.01M187.6,791.3h.01M112.4,792.4h.01M108.3,791.4h.01M156.8,792.0h.01M160.2,790.6h.01M138.0,790.6h.01M86.7,792.3h.01M179.0,790.5h.01M168.3,793.0h.01M122.3,790.8h.01M109.6,792.3h.01M192.3,792.5h.01M70.4,792.6h.01M72.5,793.5h.01M165.5,790.7h.01M118.9,792.2h.01M133.5,792.4h.01M100.7,790.5h.01M182.7,791.5h.01M83.7,790.5h.01M192.2,792.4h.01M70.7,791.0h.01M118.2,791.8h.01M159.2,792.5h.01M185.3,792.0h.01M142.7,790.5h.01M122.0,792.4h.01M75.0,793.7h.01M133.9,791.3h.01M79.9,791.2h.01M79.8,791.6h.01M148.8,792.1h.01M77.0,793.5h.01M84.8,792.2h.01M109.6,790.5h.01M94.1,791.3h.01M118.7,790.9h.01M111.9,791.9h.01M159.1,793.1h.01M86.4,792.8h.01M73.4,791.4h.01M197.3,791.6h.01M195.7,793.5h.01M164.5,792.3h.01M132.3,790.8h.01M69.8,790.9h.01M113.5,793.7h.01M181.6,791.1h.01M131.4,790.9h.01M70.1,791.7h.01M180.1,793.3h.01M103.9,791.3h.01M72.5,792.2h.01M151.2,792.4h.01M72.6,792.2h.01M142.7,791.9h.01M195.2,792.6h.01M186.3,791.2h.01M99.0,791.5h.01M160.6,792.1h.01M75.9,792.9h.01M130.1,793.4h.01M158.9,793.2h.01M185.4,792.5h.01M161.4,792.8h.01M154.0,791.7h.01M142.9,792.0h.01M166.4,791.6h.01M80.5,792.2h.01M138.7,792.6h.01M168.6,793.2h.01M98.1,792.7h.01M180.5,793.1h.01M118.5,791.0h.01M199.8,791.3h.01M94.1,791.4h.01M106.3,792.7h.01M91.5,791.0h.01M73.9,792.2h.01M160.7,793.4h.01M83.0,792.0h.01M117.1,790.7h.01M72.7,790.5h.01M184.1,792.1h.01M146.5,791.1h.01M147.1,791.8h.01M88.5,793.2h.01M133.6,791.7h.01M98.9,793.6h.01M145.1,793.5h.01M135.6,793.2h.01M115.8,791.8h.01M160.2,791.4h.01M163.2,791.4h.01M132.8,793.1h.01M73.9,791.1h.01M136.7,791.6h.01M69.7,793.6h.01M69.1,791.8h.01M172.9,793.6h.01M70.3,791.0h.01M87.4,793.2h.01M200.8,791.2h.01M192.1,791.9h.01M163.0,790.5h.01M199.8,792.7h.01M147.9,791.6h.01M202.1,791.2h.01M94.3,793.6h.01M69.6,792.2h.01M167.8,792.1h.01M148.0,792.0h.01M188.8,791.7h.01M187.6,790.8h.01M111.9,791.0h.01M199.1,792.9h.01M162.0,791.1h.01M82.3,791.6h.01M73.8,793.0h.01M83.8,791.4h.01M169.7,792.3h.01M188.8,792.9h.01M95.3,791.3h.01M195.1,792.9h.01M184.1,791.2h.01M94.2,791.2h.01M163.9,790.5h.01M139.2,793.1h.01M187.2,791.6h.01M173.2,791.5h.01M179.5,791.4h.01M147.4,792.7h.01M141.6,790.7h.01M73.1,790.7h.01M113.8,791.8h.01M121.7,792.9h.01M77.5,793.1h.01M113.7,790.6h.01M152.8,792.8h.01M118.1,792.9h.01M73.7,793.6h.01M135.1,793.5h.01M168.6,791.9h.01M158.5,793.0h.01M190.3,791.4h.01M202.0,793.2h.01M123.8,790.5h.01M84.9,791.3h.01M68.8,791.2h.01M198.8,790.7h.01M81.4,791.5h.01M94.1,792.1h.01M175.9,793.3h.01M136.5,791.2h.01M142.5,790.6h.01M157.3,793.2h.01M72.8,793.4h.01M202.0,793.0h.01M80.3,791.2h.01M68.8,790.8h.01M134.3,791.4h.01M87.4,791.1h.01M165.7,792.5h.01M182.6,793.2h.01M166.9,791.9h.01M117.2,791.8h.01M181.3,793.7h.01M130.9,791.5h.01M81.8,791.0h.01M101.3,790.5h.01M139.8,790.6h.01M160.9,792.6h.01M166.6,792.0h.01M78.5,792.4h.01M145.1,793.7h.01M92.1,791.1h.01M176.1,791.0h.01M190.5,790.5h.01M85.5,790.8h.01M159.6,793.5h.01M171.4,792.1h.01M112.7,790.7h.01M102.4,791.8h.01M98.9,793.6h.01M94.5,793.1h.01M87.4,790.7h.01M113.4,791.9h.01M197.0,790.9h.01M198.9,790.7h.01M165.2,792.4h.01M147.6,790.4h.01M116.9,791.4h.01M133.9,792.5h.01M111.3,793.4h.01M136.8,792.2h.01M127.4,793.7h.01M78.6,791.7h.01M189.7,792.1h.01M183.9,791.0h.01M111.0,791.6h.01M95.3,790.7h.01M195.8,791.2h.01M137.4,793.7h.01M137.5,791.8h.01M156.4,793.4h.01M90.3,791.8h.01M149.9,791.7h.01M167.9,793.5h.01M159.2,790.6h.01M155.2,793.4h.01M68.6,790.9h.01M192.0,792.8h.01M173.2,791.2h.01M183.0,792.9h.01M126.1,790.6h.01M183.7,792.8h.01M153.9,791.7h.01M153.2,791.2h.01M197.6,793.2h.01M69.7,792.7h.01M188.4,792.1h.01M170.2,790.7h.01M71.3,790.5h.01M95.7,793.2h.01M179.3,791.4h.01M101.9,793.1h.01M119.6,791.0h.01M84.1,793.6h.01M160.8,793.7h.01M153.0,792.1h.01M91.2,792.5h.01M105.0,793.3h.01M156.7,793.5h.01M200.9,792.6h.01M175.6,791.2h.01M170.9,791.0h.01M108.0,792.2h.01M129.0,793.6h.01M95.1,791.6h.01M111.1,792.3h.01M145.6,792.0h.01M71.5,792.9h.01M144.1,793.4h.01M86.4,793.3h.01M71.9,793.3h.01M163.6,793.2h.01M79.3,791.6h.01M175.1,792.0h.01M180.9,793.1h.01M161.8,792.0h.01M180.6,792.2h.01M110.4,792.1h.01M70.7,793.1h.01M198.8,792.6h.01M162.6,791.7h.01M193.5,793.4h.01M104.2,790.7h.01M128.2,792.7h.01M174.4,790.6h.01M163.0,792.4h.01M171.3,792.8h.01M173.6,792.2h.01M127.0,792.5h.01M182.2,792.6h.01M200.1,792.9h.01M176.8,792.0h.01M198.0,790.5h.01M201.2,791.2h.01M126.3,790.9h.01M119.1,791.0h.01M190.7,793.4h.01M80.5,791.5h.01M132.0,790.9h.01M184.0,792.7h.01M155.5,793.3h.01M98.6,792.9h.01M88.5,791.2h.01M200.5,792.2h.01M79.8,790.8h.01M149.7,792.1h.01M134.9,791.4h.01M125.9,793.4h.01M77.3,790.6h.01M107.5,791.0h.01M89.2,793.0h.01M70.3,790.7h.01M102.0,793.5h.01M138.7,792.7h.01M90.0,793.5h.01M176.9,790.8h.01M78.8,792.7h.01M202.3,790.5h.01M161.1,793.1h.01M160.2,793.2h.01M193.4,791.2h.01M151.9,791.0h.01M201.2,791.8h.01M123.9,791.9h.01M91.8,793.6h.01M129.0,793.2h.01M121.5,791.5h.01M80.8,792.9h.01M136.8,791.5h.01M145.4,791.7h.01M185.4,793.6h.01M156.9,793.3h.01M86.4,793.4h.01M130.1,792.0h.01M105.4,791.0h.01M196.4,792.7h.01M123.2,791.3h.01M190.6,791.7h.01M149.6,793.3h.01M105.7,790.9h.01M93.0,791.0h.01M192.0,792.1h.01M108.5,790.9h.01M108.5,790.7h.01M69.5,791.1h.01M98.4,791.4h.01M69.4,791.8h.01M110.1,793.3h.01M152.3,790.9h.01M124.7,791.7h.01M136.3,791.1h.01M101.4,792.9h.01M92.0,792.1h.01M191.6,793.6h.01M150.2,792.1h.01M201.4,791.1h.01M131.3,791.2h.01M128.9,790.7h.01M73.2,793.4h.01M70.9,791.3h.01M184.0,792.5h.01M173.8,792.4h.01M171.9,793.5h.01M171.6,792.7h.01M190.6,793.4h.01M148.7,791.4h.01M156.3,792.1h.01M192.7,793.3h.01M110.8,792.5h.01M162.0,791.3h.01M86.2,793.3h.01M179.3,792.2h.01M109.3,790.4h.01M96.3,792.2h.01M69.5,792.3h.01M153.2,790.6h.01M154.6,792.4h.01M80.9,793.1h.01M166.2,792.2h.01M97.9,791.3h.01M192.7,792.2h.01M158.9,792.4h.01M119.5,793.1h.01M157.8,791.2h.01M185.1,791.8h.01M192.2,791.5h.01M151.8,790.9h.01M120.3,790.9h.01M107.8,790.5h.01M196.7,793.6h.01M123.1,791.8h.01M81.2,791.1h.01M122.7,791.1h.01M82.3,792.2h.01M121.8,790.8h.01M174.1,790.6h.01M186.5,791.0h.01M107.6,791.5h.01M179.6,791.2h.01M105.5,792.8h.01M103.5,790.7h.01M175.0,791.6h.01M200.3,790.6h.01M86.7,790.5h.01M166.9,793.7h.01M183.6,793.6h.01M110.3,793.5h.01M79.4,791.9h.01M89.0,792.0h.01M101.1,791.0h.01M77.9,792.6h.01M140.1,791.4h.01M118.0,791.3h.01M73.7,790.6h.01M143.3,793.3h.01M93.5,790.4h.01M74.9,790.5h.01M126.4,791.9h.01M140.7,793.1h.01M152.8,792.9h.01M149.6,792.1h.01M183.9,793.3h.01M127.3,792.5h.01M180.5,792.1h.01M100.2,793.3h.01M164.3,791.0h.01M130.8,791.9h.01M172.5,791.8h.01M110.4,790.4h.01M164.3,793.4h.01M85.4,793.7h.01M76.8,792.3h.01M105.0,791.4h.01M182.8,791.7h.01M68.6,792.9h.01M198.8,793.0h.01M178.9,790.4h.01M125.0,790.6h.01M144.1,792.5h.01M108.9,793.4h.01M190.4,791.6h.01M83.6,791.3h.01M200.0,791.8h.01M200.7,790.7h.01M158.1,792.1h.01M151.0,793.5h.01M186.0,793.6h.01M172.4,791.6h.01M170.1,793.4h.01M82.7,792.4h.01M179.6,791.7h.01M77.0,792.1h.01M107.5,793.6h.01M107.1,790.9h.01M98.8,791.5h.01M200.4,791.5h.01M193.2,791.9h.01M83.1,793.5h.01M110.5,792.6h.01M162.4,790.4h.01M164.9,792.2h.01M69.6,793.6h.01M113.7,793.4h.01M159.0,791.8h.01M89.6,792.3h.01M184.9,791.3h.01M149.9,791.3h.01M76.6,791.9h.01M75.0,791.9h.01M113.3,792.6h.01M139.1,793.6h.01M151.0,791.1h.01M183.6,791.2h.01M195.0,791.4h.01M128.5,793.1h.01M153.1,792.9h.01M135.7,790.5h.01M160.5,790.9h.01M144.2,791.1h.01M159.1,791.0h.01M152.6,791.9h.01M135.7,792.2h.01M200.0,792.8h.01M104.8,791.0h.01M180.7,792.6h.01M87.2,792.4h.01M175.4,793.6h.01M88.0,790.5h.01M132.6,792.1h.01M178.8,793.1h.01M128.1,793.1h.01M136.8,791.5h.01M75.6,791.0h.01M137.2,792.9h.01M90.4,792.7h.01M130.5,793.7h.01M136.4,790.5h.01M132.9,792.2h.01M180.6,791.5h.01M89.0,791.0h.01M74.6,792.7h.01M181.0,793.1h.01M126.5,791.4h.01M168.8,790.8h.01M99.1,791.1h.01M167.2,791.6h.01M195.2,793.5h.01M126.8,791.9h.01M186.4,791.4h.01M137.6,792.0h.01M91.4,791.6h.01M172.4,790.8h.01M182.2,793.4h.01M174.2,792.4h.01M190.6,790.9h.01M195.0,791.2h.01M172.1,793.7h.01M75.7,790.7h.01M131.2,792.8h.01M110.8,793.0h.01M74.6,793.5h.01M167.6,790.7h.01M117.2,792.6h.01M137.5,793.2h.01M103.9,792.2h.01M171.8,791.2h.01M80.5,793.1h.01M78.2,790.8h.01M90.9,791.6h.01M79.7,791.2h.01M100.1,791.5h.01M185.5,792.9h.01M71.8,791.9h.01M106.4,791.3h.01M114.9,793.7h.01M164.0,791.0h.01M201.0,791.2h.01M149.5,793.3h.01M71.8,792.3h.01M131.5,792.5h.01M90.4,791.3h.01M183.8,793.5h.01M182.9,793.2h.01M119.6,791.6h.01M154.6,791.3h.01M95.8,792.5h.01M160.3,791.8h.01M137.0,790.6h.01M96.0,791.0h.01M196.7,793.7h.01M183.8,791.0h.01M115.0,792.6h.01M141.0,790.6h.01M87.2,791.0h.01M153.0,793.4h.01M198.2,792.9h.01M85.6,790.9h.01M128.4,792.3h.01M104.7,793.6h.01M133.7,792.8h.01M123.9,791.2h.01M176.8,792.0h.01M116.9,792.8h.01M75.9,793.5h.01M193.6,792.4h.01M178.9,792.3h.01M91.5,791.0h.01M167.1,792.3h.01M128.4,790.5h.01M137.6,792.1h.01M112.5,790.9h.01M93.9,793.3h.01M121.4,791.5h.01M191.8,791.3h.01M159.8,791.3h.01M110.2,791.5h.01M92.3,791.6h.01M89.8,791.9h.01M108.2,792.6h.01M138.8,792.7h.01M86.7,790.5h.01M117.9,793.2h.01M113.5,792.3h.01M197.0,791.5h.01M180.3,790.6h.01M120.8,791.7h.01M149.3,793.3h.01M141.4,792.0h.01M69.9,793.1h.01M168.1,791.0h.01" fill="none" stroke="#a6a6a6" stroke-width="1.0" stroke-linecap="round"/>
<path d="M92.4,785.3h.01M111.6,783.1h.01M90.4,790.3h.01M103.2,782.0h.01M108.7,787.0h.01M90.4,789.8h.01M96.8,784.0h.01M109.5,781.1h.01M95.7,786.4h.01M109.1,788.2h.01M85.3,776.7h.01M92.5,774.6h.01M95.5,783.4h.01M95.4,782.3h.01M110.0,784.9h.01M95.9,787.5h.01M107.7,780.3h.01M92.1,777.3h.01M91.1,777.3h.01M104.6,785.1h.01M100.1,789.8h.01M93.1,788.0h.01M109.0,782.5h.01M111.1,788.8h.01M102.5,789.2h.01M98.7,783.7h.01M92.6,788.7h.01M109.9,788.9h.01M83.4,774.8h.01M97.8,784.5h.01M108.7,787.2h.01M92.3,787.4h.01M83.3,742.4h.01M103.2,781.2h.01M107.5,784.4h.01M97.5,770.6h.01M102.6,788.8h.01M93.8,788.7h.01M91.8,784.4h.01M110.3,784.0h.01M110.6,773.5h.01M89.4,788.1h.01M91.0,787.1h.01M105.0,782.8h.01M100.7,782.4h.01M105.5,790.1h.01M91.2,773.8h.01M94.0,776.9h.01M111.4,789.1h.01M92.1,757.9h.01M101.5,789.8h.01M68.0,770.5h.01M94.8,767.3h.01M98.5,785.5h.01M103.4,790.0h.01M105.9,790.2h.01M85.2,783.2h.01M80.8,786.1h.01M108.7,785.1h.01M98.7,790.4h.01M86.7,722.1h.01M77.8,765.5h.01M85.4,769.8h.01M97.9,786.7h.01M97.0,784.0h.01M109.4,788.5h.01M105.4,789.2h.01M109.6,780.4h.01M106.0,789.2h.01M108.5,789.2h.01M97.3,781.1h.01M111.6,784.8h.01M97.5,778.2h.01M110.6,785.0h.01M99.7,786.2h.01M106.2,789.5h.01M105.1,759.3h.01M100.7,779.6h.01M104.4,749.6h.01M110.1,778.3h.01M94.2,788.6h.01M90.4,784.7h.01M95.5,784.6h.01M104.5,784.0h.01M108.2,788.6h.01M109.9,785.0h.01M99.1,787.2h.01M97.6,789.1h.01M111.3,785.8h.01M93.3,772.9h.01M97.3,786.3h.01M96.4,785.3h.01M94.7,782.3h.01M107.6,786.9h.01M101.6,789.6h.01M101.2,778.4h.01M96.2,785.7h.01M103.4,779.9h.01M106.1,790.1h.01M106.2,787.0h.01M93.7,744.0h.01M58.2,777.7h.01M101.9,785.2h.01M98.9,784.2h.01M96.5,789.3h.01M101.3,790.4h.01M103.4,760.2h.01M95.2,790.1h.01M107.8,784.4h.01M101.7,770.7h.01M90.8,782.7h.01M93.6,776.4h.01M110.6,779.6h.01M108.5,787.6h.01M100.2,787.3h.01M100.2,775.2h.01M97.0,779.1h.01M106.0,789.4h.01M96.5,763.8h.01M93.4,787.8h.01M107.8,790.2h.01M89.0,787.2h.01M106.1,780.7h.01M91.6,788.5h.01M106.1,768.9h.01M108.6,781.6h.01M101.1,789.6h.01M98.8,778.1h.01M91.5,758.3h.01M93.4,785.0h.01M106.6,781.2h.01M97.3,776.6h.01M60.8,753.4h.01M103.7,788.9h.01M95.4,785.0h.01M105.8,784.1h.01M110.2,784.0h.01M99.0,778.9h.01M106.2,788.4h.01M98.8,781.6h.01M96.0,784.3h.01M101.0,780.9h.01M91.0,787.4h.01M110.6,772.7h.01M94.2,774.8h.01M99.4,777.6h.01M94.6,787.3h.01M101.0,789.7h.01M92.9,789.9h.01M107.7,789.8h.01M93.9,779.0h.01M100.2,788.6h.01M98.1,788.4h.01M91.5,777.2h.01M100.4,789.6h.01M99.6,790.2h.01M92.1,789.3h.01M108.5,788.6h.01M103.3,736.0h.01M100.3,788.4h.01M95.5,787.4h.01M111.2,756.8h.01M109.2,789.7h.01M100.4,788.7h.01M102.9,782.1h.01M93.9,789.0h.01M95.5,788.7h.01M99.4,773.0h.01M102.5,789.7h.01M106.6,782.2h.01M108.6,788.1h.01M109.2,786.7h.01M102.7,790.1h.01M96.6,777.5h.01M94.4,784.0h.01M109.7,786.1h.01M94.7,790.2h.01M110.6,789.3h.01M106.6,774.3h.01M110.0,772.6h.01M106.8,788.6h.01M93.6,788.8h.01M110.4,790.0h.01M100.8,778.9h.01M94.7,732.7h.01M111.2,787.3h.01M103.7,782.9h.01M105.3,781.1h.01M94.9,790.2h.01M107.4,774.9h.01M111.0,787.8h.01M83.3,784.9h.01M97.7,788.1h.01M103.5,789.2h.01M75.0,758.8h.01M102.8,788.9h.01M95.1,790.3h.01M102.5,789.7h.01M54.4,788.3h.01M110.0,785.6h.01M110.1,788.0h.01M45.0,788.8h.01M98.0,756.8h.01M107.8,789.5h.01M95.7,788.4h.01M110.7,787.7h.01M92.7,788.1h.01M106.7,790.3h.01M94.3,771.1h.01M102.5,785.6h.01M99.5,789.8h.01M107.4,789.5h.01M88.9,789.4h.01M105.1,786.9h.01M95.4,788.9h.01M100.7,790.3h.01M103.2,786.9h.01M96.3,755.0h.01M94.6,785.9h.01M96.0,783.8h.01M91.9,764.7h.01M106.7,778.1h.01M111.8,790.0h.01M107.8,777.4h.01M102.4,780.4h.01M98.0,780.0h.01M103.7,787.7h.01M92.7,784.1h.01M111.1,788.8h.01M96.2,788.9h.01M100.8,784.9h.01M106.0,770.4h.01M82.9,755.3h.01M106.1,784.7h.01M101.5,783.1h.01M102.3,788.7h.01M100.3,751.8h.01M101.3,785.1h.01M108.2,786.7h.01M107.6,771.7h.01M100.6,787.5h.01M105.4,790.1h.01M111.6,789.6h.01M106.1,777.7h.01M80.6,699.2h.01M90.3,788.6h.01M86.7,751.6h.01M91.7,788.4h.01M103.4,784.4h.01M73.5,786.4h.01M99.8,781.2h.01M97.3,778.6h.01M102.7,789.2h.01M111.2,788.7h.01M87.9,764.6h.01M95.2,779.9h.01M109.8,789.5h.01M108.4,786.8h.01M104.9,776.5h.01M107.6,787.1h.01M93.2,769.0h.01M104.1,788.7h.01M100.6,785.3h.01M111.7,780.4h.01M100.7,787.8h.01M102.1,784.7h.01M98.5,772.2h.01M103.0,779.5h.01M100.3,770.4h.01M105.0,780.1h.01M103.2,789.9h.01M107.3,785.6h.01M92.7,789.0h.01M106.0,785.4h.01M105.2,789.5h.01M99.3,781.0h.01M107.5,785.6h.01M110.6,785.0h.01M93.9,789.0h.01M89.5,790.2h.01M96.5,782.9h.01M95.0,784.9h.01M109.3,789.9h.01M110.5,778.9h.01M101.3,787.4h.01M110.3,787.9h.01M54.1,777.3h.01M107.1,784.7h.01M106.2,781.5h.01M107.5,784.1h.01M91.5,783.9h.01M94.6,780.9h.01M95.7,788.4h.01M103.9,783.0h.01M101.7,784.5h.01M109.7,784.1h.01M101.2,789.5h.01M94.5,782.5h.01M98.7,790.3h.01M107.5,789.1h.01M107.0,776.1h.01M108.7,784.5h.01M103.8,777.8h.01M102.6,785.9h.01M106.3,789.6h.01M97.3,789.4h.01M106.9,789.5h.01M102.5,784.5h.01M95.6,784.8h.01M103.9,776.9h.01M103.1,779.7h.01M108.1,774.3h.01M111.8,790.4h.01M101.2,788.4h.01M103.3,789.5h.01M104.8,788.1h.01M75.5,777.6h.01M92.9,777.5h.01M106.0,785.0h.01M109.1,784.6h.01M108.6,768.5h.01M100.5,781.7h.01M103.1,778.5h.01M99.9,790.1h.01M100.3,789.2h.01M99.4,788.4h.01M97.9,771.4h.01M95.6,762.9h.01M94.8,788.9h.01M104.1,779.6h.01M91.4,771.8h.01M102.2,781.3h.01M93.0,788.3h.01M75.0,778.0h.01M100.3,789.5h.01M106.0,788.7h.01M87.0,776.7h.01M96.9,781.3h.01M103.7,789.8h.01M105.2,789.0h.01M101.8,780.6h.01M107.7,782.4h.01M99.3,788.6h.01M96.1,788.2h.01M107.6,787.3h.01M79.3,745.3h.01M101.1,785.8h.01M100.5,790.0h.01M102.5,787.7h.01M88.4,782.5h.01M106.0,785.7h.01M102.7,789.8h.01M108.7,789.9h.01M111.7,789.2h.01M86.6,782.0h.01M106.1,784.4h.01M103.8,788.5h.01M102.2,776.5h.01M106.2,783.5h.01M98.4,790.3h.01M101.9,788.1h.01M104.6,785.6h.01M108.0,773.0h.01M102.7,767.1h.01M100.4,778.5h.01M97.9,788.4h.01M94.3,785.5h.01M104.7,789.1h.01M99.6,789.0h.01M106.2,784.9h.01M110.9,788.1h.01M108.1,789.2h.01M91.9,777.7h.01M99.3,788.4h.01M105.0,785.8h.01M99.9,786.6h.01M105.3,787.3h.01M108.6,788.9h.01M106.9,787.3h.01M91.0,753.9h.01M93.0,785.9h.01M105.7,787.3h.01M104.2,741.7h.01M98.8,772.6h.01M106.1,789.8h.01M93.3,790.1h.01M104.8,784.6h.01M102.4,790.3h.01M98.2,789.1h.01M108.1,787.5h.01M100.5,789.1h.01M111.2,777.1h.01M104.0,779.5h.01M111.8,786.6h.01M103.8,787.0h.01M111.7,786.9h.01M101.3,766.5h.01M97.9,783.6h.01M102.2,773.3h.01M111.4,789.9h.01M101.4,789.9h.01M105.1,779.1h.01M104.3,788.9h.01M111.1,786.1h.01M110.1,784.3h.01M98.7,768.3h.01M91.0,789.2h.01M108.8,787.3h.01M97.3,725.6h.01M90.3,781.3h.01M110.1,789.3h.01M98.1,783.7h.01M109.4,784.5h.01M58.4,768.4h.01M99.9,790.4h.01M101.6,783.7h.01M90.7,784.5h.01M46.3,789.4h.01M108.8,789.5h.01M105.5,789.7h.01M106.1,789.1h.01M110.1,787.1h.01M103.8,789.2h.01M90.7,783.3h.01M49.8,722.1h.01M108.3,785.8h.01M106.2,763.9h.01M111.8,788.8h.01M100.7,786.2h.01M107.0,787.9h.01M110.7,788.9h.01M110.8,787.3h.01M104.1,786.7h.01M107.7,784.2h.01M85.2,766.8h.01M100.6,782.9h.01M106.0,776.8h.01M101.6,781.6h.01M109.3,787.8h.01M98.5,789.1h.01M92.0,777.3h.01M99.4,785.8h.01M93.8,785.7h.01M94.6,779.4h.01M99.3,790.0h.01M110.7,789.1h.01M108.4,777.3h.01M98.2,787.9h.01M105.1,788.8h.01M105.1,780.0h.01M92.6,789.5h.01M65.3,778.9h.01M104.4,787.9h.01M99.5,789.3h.01M110.8,788.7h.01M95.6,784.2h.01M107.9,790.2h.01M71.5,709.6h.01M95.4,789.4h.01M102.0,789.0h.01M93.7,789.1h.01M108.6,787.1h.01M108.4,788.7h.01M92.7,764.6h.01M110.7,790.4h.01M92.2,781.6h.01M106.2,783.4h.01M106.0,790.1h.01M103.5,787.1h.01M108.7,789.5h.01M108.0,788.7h.01M87.2,728.1h.01M100.4,765.2h.01M95.0,777.2h.01M91.4,775.8h.01M92.1,775.7h.01M111.6,788.6h.01M101.8,787.1h.01M110.6,784.1h.01M110.5,788.0h.01M110.9,777.0h.01M97.7,784.4h.01M90.8,782.9h.01M106.7,786.5h.01M101.3,785.0h.01M77.7,775.6h.01M97.2,771.7h.01M108.2,789.2h.01M93.2,781.1h.01M90.8,786.2h.01M108.4,790.3h.01M104.1,788.9h.01M60.6,716.3h.01M108.2,790.1h.01M99.1,785.7h.01M111.6,789.7h.01M111.5,784.3h.01M103.9,788.2h.01M88.3,780.8h.01M109.3,783.6h.01M104.6,789.5h.01M110.9,790.2h.01M98.4,789.8h.01M110.3,789.1h.01M97.6,788.1h.01M90.6,785.1h.01M108.8,785.9h.01M85.3,788.3h.01M105.2,777.0h.01M90.2,786.3h.01M73.0,787.0h.01M106.7,778.8h.01M92.8,780.3h.01M111.4,778.9h.01M105.0,789.0h.01M106.3,782.3h.01M96.6,734.8h.01M111.7,787.5h.01M91.6,787.3h.01M103.5,789.3h.01M107.5,780.4h.01M103.5,790.0h.01M105.3,787.1h.01M105.2,786.4h.01M109.8,789.0h.01M108.6,760.4h.01M99.6,788.8h.01M101.4,773.8h.01M82.2,789.7h.01M110.8,786.7h.01M101.1,779.2h.01M108.7,787.7h.01M105.1,788.7h.01M107.1,789.9h.01M97.5,783.2h.01M92.9,770.8h.01M97.0,782.7h.01M99.1,755.1h.01M111.1,782.7h.01M105.1,786.7h.01M100.6,775.9h.01M90.2,789.5h.01M103.6,779.3h.01M90.9,786.4h.01M95.8,770.2h.01M102.8,778.4h.01M100.8,765.6h.01M106.9,789.5h.01M106.5,790.0h.01M96.0,775.4h.01M108.8,784.3h.01M108.9,781.7h.01M99.8,788.0h.01M98.8,785.0h.01M108.0,786.8h.01M91.4,779.5h.01M107.4,789.4h.01M106.9,790.0h.01M105.8,788.7h.01M98.0,787.9h.01M110.3,787.5h.01M105.7,784.2h.01M106.1,781.5h.01M94.6,786.2h.01M101.4,783.4h.01M103.8,789.4h.01M88.9,782.9h.01M102.2,772.0h.01M99.1,784.7h.01M92.1,789.2h.01M111.7,789.8h.01M99.0,787.7h.01M100.0,789.3h.01M99.5,781.4h.01M106.4,790.0h.01M108.9,786.8h.01M109.5,784.1h.01M109.5,785.6h.01M85.6,786.4h.01M97.8,781.1h.01M107.5,789.4h.01M111.0,787.6h.01M102.2,770.1h.01M96.5,788.9h.01M103.8,785.8h.01M108.7,782.6h.01M94.0,790.4h.01M78.2,780.1h.01M105.6,783.7h.01M101.5,790.0h.01M100.1,785.6h.01M82.0,783.8h.01M104.7,786.8h.01M101.2,727.8h.01M104.1,790.2h.01M96.8,773.2h.01M111.7,789.6h.01M105.0,779.7h.01M107.0,783.2h.01M97.3,772.5h.01M105.3,774.4h.01M85.7,785.9h.01M84.0,753.8h.01M108.6,768.9h.01M94.1,783.8h.01M91.0,785.7h.01M111.7,786.5h.01M97.0,786.2h.01M110.6,785.2h.01M102.3,789.2h.01M91.9,784.2h.01M103.7,766.2h.01M96.5,789.2h.01M110.8,790.1h.01M110.8,784.2h.01M107.6,783.8h.01M102.4,780.8h.01M111.6,787.3h.01M95.2,768.5h.01M92.0,748.5h.01M102.5,787.4h.01M109.7,778.0h.01M96.2,779.4h.01M105.9,774.6h.01M93.2,781.9h.01M86.1,788.5h.01M109.2,771.8h.01M103.0,786.9h.01M95.9,779.1h.01M96.9,785.3h.01M96.5,786.4h.01M110.4,789.5h.01M94.4,735.0h.01M93.4,785.4h.01M96.1,786.5h.01M102.5,787.0h.01M110.9,788.3h.01M106.6,772.3h.01M103.3,773.3h.01M98.2,787.2h.01M87.7,770.2h.01M109.3,789.4h.01M91.1,786.2h.01M103.8,775.6h.01M108.9,790.4h.01M99.4,785.0h.01M105.4,776.2h.01M96.6,781.1h.01M101.3,789.3h.01M97.8,780.1h.01M84.9,771.2h.01M94.4,776.2h.01M96.2,718.3h.01M108.3,789.1h.01M95.4,784.5h.01M106.0,785.7h.01M93.5,787.6h.01M103.8,782.0h.01M107.9,782.9h.01M105.5,789.3h.01M109.5,775.2h.01M85.1,757.7h.01M111.0,789.9h.01M106.5,789.9h.01M104.9,777.4h.01M99.8,789.8h.01M110.0,780.9h.01M97.4,775.8h.01M94.5,788.0h.01M95.8,790.3h.01M95.2,751.6h.01M104.9,789.9h.01M94.8,780.6h.01M111.6,768.7h.01M100.8,783.3h.01M100.3,782.2h.01M111.7,789.0h.01M103.9,790.2h.01M103.3,773.6h.01M108.6,767.4h.01M38.0,700.7h.01M107.1,788.6h.01M79.6,790.2h.01M111.3,783.8h.01M110.5,786.2h.01M93.5,781.4h.01M98.4,789.2h.01M106.6,783.4h.01M100.7,789.4h.01M94.1,782.8h.01M85.1,776.1h.01M84.8,778.5h.01M103.1,782.2h.01M96.5,788.4h.01M109.7,786.5h.01M110.0,789.4h.01M102.2,789.7h.01M75.1,771.5h.01M97.0,765.3h.01M45.8,756.6h.01M103.7,787.7h.01M98.9,780.6h.01M111.8,775.9h.01M93.1,766.1h.01M105.9,784.9h.01M98.4,772.2h.01M89.4,785.4h.01M95.0,786.9h.01M111.4,787.0h.01M102.2,787.9h.01M109.2,784.2h.01M106.8,787.2h.01M108.2,789.1h.01M97.9,789.5h.01M104.4,756.1h.01M106.9,782.1h.01M108.7,784.7h.01M111.0,786.3h.01M105.0,789.3h.01M111.1,783.2h.01M106.8,789.7h.01M111.5,772.0h.01M106.4,786.2h.01M106.9,784.9h.01M100.0,774.3h.01M104.5,786.1h.01M101.1,789.4h.01M101.0,785.6h.01M98.4,786.4h.01M90.8,769.5h.01M94.8,773.7h.01M109.1,786.5h.01M110.5,789.6h.01M94.0,776.6h.01M97.6,789.8h.01M108.9,789.9h.01M99.5,789.7h.01M107.0,781.9h.01M85.1,787.1h.01M109.3,787.7h.01M109.4,787.3h.01M104.6,788.1h.01M87.7,736.6h.01M102.0,785.8h.01M91.0,778.3h.01M105.9,778.0h.01M98.8,774.3h.01M99.3,786.0h.01M110.4,788.2h.01M99.5,788.5h.01M99.9,771.6h.01M94.1,788.1h.01M106.5,776.3h.01M103.9,788.3h.01M106.1,782.9h.01M102.7,784.7h.01M106.2,789.4h.01M100.4,784.0h.01M104.6,778.5h.01M107.4,776.2h.01M100.3,788.2h.01M105.3,789.5h.01M99.2,787.8h.01M109.7,780.1h.01M64.5,787.3h.01M92.5,782.3h.01M98.2,778.7h.01M91.1,787.0h.01M94.4,777.4h.01M91.5,763.7h.01M108.6,789.2h.01M43.0,773.0h.01M90.6,786.9h.01M94.4,780.5h.01M103.2,775.0h.01M108.0,781.3h.01M106.2,790.2h.01M106.2,784.7h.01M100.5,787.4h.01M96.3,788.8h.01M104.2,787.2h.01M103.3,787.0h.01M104.5,784.3h.01M94.1,784.1h.01M101.7,782.1h.01M106.5,789.4h.01M108.7,785.2h.01M96.1,753.5h.01M105.6,777.2h.01M93.0,771.4h.01M93.7,789.5h.01M108.6,787.3h.01M77.3,777.4h.01M92.8,788.4h.01M104.6,785.1h.01M98.3,789.8h.01M108.4,789.1h.01M83.9,778.6h.01M99.5,790.2h.01M103.5,787.2h.01M109.4,788.3h.01M69.3,737.9h.01M98.9,780.9h.01M82.3,778.9h.01M102.2,781.9h.01M95.7,784.5h.01M106.3,780.0h.01M95.7,789.7h.01M101.3,789.7h.01M109.9,789.1h.01M108.7,785.4h.01M95.8,787.6h.01M92.4,775.3h.01M106.0,789.5h.01M93.5,789.2h.01M90.4,788.4h.01M103.9,783.8h.01M105.2,783.2h.01M111.2,786.7h.01M110.6,787.4h.01M108.2,789.1h.01M109.4,784.1h.01M96.8,789.0h.01M101.6,785.6h.01M103.9,784.1h.01M101.5,781.0h.01M78.5,726.2h.01M100.8,787.1h.01M109.2,789.6h.01M96.8,785.2h.01M107.1,786.0h.01M97.4,746.5h.01M106.0,789.4h.01M93.9,788.6h.01M102.9,787.8h.01M98.0,787.1h.01M99.7,784.5h.01M88.1,763.5h.01M103.1,789.7h.01M98.8,788.3h.01M93.5,788.1h.01M108.5,786.6h.01M108.9,787.9h.01M106.7,787.8h.01M108.1,789.0h.01M91.9,779.9h.01M107.3,784.6h.01M107.1,787.8h.01M102.0,787.6h.01M101.1,784.9h.01M104.9,787.0h.01M98.1,779.4h.01M98.6,790.2h.01M111.5,787.3h.01M88.7,756.7h.01M106.3,789.7h.01M98.8,774.8h.01M103.6,784.4h.01M110.9,787.2h.01M107.0,788.3h.01M110.7,789.5h.01M101.6,789.0h.01M100.9,787.4h.01M110.4,790.0h.01M109.4,789.4h.01M102.1,789.2h.01M99.5,789.2h.01M79.5,784.0h.01M101.5,788.4h.01M102.1,787.4h.01M111.0,775.0h.01M105.8,785.5h.01M109.9,785.9h.01M107.4,780.0h.01M110.6,784.3h.01M98.4,783.9h.01M110.6,788.1h.01M107.7,787.4h.01M104.7,777.2h.01M108.5,784.2h.01M93.3,788.1h.01M95.9,783.5h.01M101.5,786.9h.01M107.1,772.1h.01M103.3,790.3h.01M106.2,789.9h.01M97.4,789.6h.01M97.3,788.9h.01M108.0,790.3h.01M100.5,777.6h.01M93.6,787.5h.01M61.7,762.7h.01M93.4,789.1h.01M96.5,772.9h.01M99.9,774.8h.01M105.2,790.1h.01M98.2,787.0h.01M77.3,786.7h.01M102.1,780.8h.01M85.4,788.0h.01M103.4,780.7h.01M99.0,783.6h.01M98.9,781.1h.01M104.6,774.0h.01M111.6,789.8h.01M111.6,789.5h.01M102.6,783.1h.01M95.0,784.4h.01M103.6,785.0h.01M69.5,789.9h.01M85.1,783.4h.01M108.7,780.8h.01M83.2,773.8h.01M98.4,788.1h.01M101.1,766.5h.01M106.6,782.0h.01M89.0,781.9h.01M101.5,767.4h.01M101.9,782.7h.01M98.9,786.6h.01M95.2,784.1h.01M97.3,765.7h.01M105.6,785.6h.01M107.7,786.8h.01M94.1,788.2h.01M94.0,788.3h.01M102.9,788.1h.01M98.6,786.6h.01M110.8,789.8h.01M91.9,788.3h.01M79.6,786.9h.01M79.1,788.5h.01M104.6,783.6h.01M110.7,788.4h.01M107.3,772.6h.01M111.8,788.6h.01M78.2,789.4h.01M103.9,783.1h.01M107.5,788.3h.01M98.1,770.1h.01M83.4,779.7h.01M104.1,782.0h.01M92.6,788.9h.01M103.8,788.9h.01M92.7,759.8h.01M106.5,778.9h.01M90.7,770.4h.01M81.9,787.4h.01M107.5,789.2h.01M108.8,790.0h.01M101.4,784.1h.01M107.6,780.2h.01M101.4,788.6h.01M101.7,790.0h.01M103.1,772.4h.01M106.6,786.5h.01M104.3,782.9h.01M103.1,775.3h.01M91.8,785.3h.01M105.5,759.1h.01M105.6,788.2h.01M98.2,778.6h.01M93.4,775.4h.01M103.5,772.7h.01M102.9,774.3h.01M95.6,779.4h.01M101.4,769.3h.01M102.2,787.3h.01M109.9,785.9h.01M104.3,784.6h.01M83.0,727.5h.01M107.0,790.2h.01M97.4,780.9h.01M110.6,787.8h.01M96.3,763.2h.01M111.0,787.7h.01M100.1,788.6h.01M111.2,789.8h.01M91.0,749.0h.01M105.7,778.3h.01M109.4,787.3h.01M108.7,789.3h.01M110.5,784.7h.01M104.1,775.6h.01M107.4,789.4h.01M98.2,738.9h.01M98.4,789.2h.01M71.9,761.2h.01M91.1,747.0h.01M102.6,781.8h.01M97.8,785.2h.01M97.8,788.9h.01M91.9,775.9h.01M98.6,785.6h.01M94.5,779.0h.01M111.8,772.8h.01M95.7,775.2h.01M107.8,787.0h.01M111.1,779.8h.01M105.7,779.2h.01M108.2,786.4h.01M108.7,787.3h.01M106.8,789.1h.01M103.7,781.8h.01M105.5,783.4h.01M102.9,790.3h.01M96.8,789.4h.01M102.8,788.4h.01M101.4,788.5h.01M91.2,787.6h.01M101.7,775.5h.01M91.2,785.0h.01M110.7,771.6h.01M105.3,789.5h.01M83.0,779.9h.01M101.5,780.9h.01M111.3,786.4h.01M99.6,762.8h.01M109.6,788.9h.01M105.1,782.7h.01M70.5,787.0h.01M86.6,759.7h.01M83.6,781.1h.01M93.5,749.2h.01M95.3,783.8h.01M105.9,789.9h.01M105.4,787.9h.01M106.5,790.2h.01M108.6,790.3h.01M96.8,778.3h.01M97.5,766.4h.01M108.8,790.3h.01M108.5,780.2h.01M97.1,775.4h.01M77.5,754.7h.01M84.1,786.2h.01M104.6,771.3h.01M100.1,782.6h.01M107.9,775.0h.01M97.5,775.9h.01M94.9,774.4h.01M99.3,786.6h.01M111.0,778.5h.01M97.9,781.4h.01M96.6,782.0h.01M101.1,789.8h.01M104.1,787.2h.01M97.3,752.7h.01M108.7,786.0h.01M104.2,785.3h.01M93.5,784.7h.01M105.3,783.7h.01M96.0,781.8h.01M111.8,790.1h.01M90.4,751.0h.01M106.7,790.3h.01M102.7,771.9h.01M110.3,779.7h.01M107.0,789.5h.01M88.1,785.9h.01M84.3,771.5h.01M88.7,766.7h.01M95.4,787.5h.01M101.8,789.0h.01M96.2,782.7h.01M108.6,789.5h.01M104.1,783.3h.01M96.9,789.9h.01M107.6,756.9h.01M100.7,789.0h.01M88.0,790.0h.01M110.8,784.5h.01M111.4,789.2h.01M94.6,785.2h.01M109.3,788.7h.01M108.3,778.9h.01M106.2,783.4h.01M103.5,787.9h.01M97.3,781.6h.01M105.5,788.7h.01M110.1,775.3h.01M105.1,789.1h.01M103.5,785.1h.01M108.1,786.6h.01M106.2,787.1h.01M94.3,771.0h.01M108.2,781.0h.01M110.1,789.9h.01M99.1,780.9h.01M90.7,787.5h.01M111.4,789.9h.01M111.6,789.4h.01M56.9,759.4h.01M95.6,781.8h.01M104.6,785.4h.01M100.6,777.8h.01M102.0,775.9h.01M84.6,764.1h.01M68.0,789.5h.01M103.6,781.6h.01M102.5,789.1h.01M101.3,785.2h.01M101.3,786.0h.01M96.3,781.9h.01M104.4,789.5h.01M111.1,787.1h.01M101.5,790.1h.01M88.4,770.6h.01M108.7,778.6h.01M107.7,789.9h.01M106.5,787.1h.01M92.5,788.0h.01M106.0,789.8h.01M97.8,776.6h.01M93.9,780.1h.01M111.3,786.9h.01M107.5,789.6h.01M110.2,790.3h.01M87.0,769.9h.01M103.0,784.8h.01M92.1,784.1h.01M105.7,786.7h.01M102.7,787.8h.01M100.6,788.5h.01M80.8,764.4h.01M109.4,788.8h.01M104.5,786.0h.01M94.6,772.6h.01M84.0,774.8h.01M93.3,782.8h.01M106.5,770.7h.01M111.3,785.3h.01M109.5,788.5h.01M108.7,783.0h.01M108.6,789.1h.01M89.4,787.0h.01M91.7,750.6h.01M105.0,789.7h.01M98.3,778.7h.01M87.0,749.8h.01M108.3,784.3h.01M94.1,785.9h.01M91.9,784.4h.01M108.0,786.1h.01M97.7,787.4h.01M93.5,783.3h.01M95.4,790.3h.01M107.6,790.1h.01M79.4,784.7h.01M97.4,786.3h.01M95.2,786.5h.01M89.6,775.7h.01M107.3,789.2h.01M105.2,788.5h.01M94.0,790.1h.01M89.1,752.3h.01M101.4,788.8h.01M105.7,787.7h.01M110.8,783.9h.01M111.4,783.2h.01M108.2,789.3h.01M98.0,786.6h.01M110.3,790.3h.01M107.2,787.2h.01M98.8,789.5h.01M37.7,766.3h.01M94.1,745.8h.01M96.4,777.0h.01M106.9,788.3h.01M106.6,779.4h.01M110.4,789.9h.01M108.2,778.7h.01M86.3,768.7h.01M75.0,735.6h.01M96.6,784.0h.01M108.4,784.3h.01M109.0,788.2h.01M91.6,787.8h.01M85.8,790.1h.01M111.8,788.7h.01M106.3,787.7h.01M101.3,789.0h.01M104.1,783.7h.01M99.8,785.5h.01M110.0,786.6h.01M110.9,787.4h.01M95.7,786.8h.01M109.7,786.7h.01M79.7,786.3h.01M101.2,783.5h.01M95.0,784.6h.01M107.8,783.3h.01M107.2,787.2h.01M104.9,785.9h.01M107.8,789.1h.01M82.7,718.5h.01M90.5,789.7h.01M91.7,782.0h.01M97.5,785.8h.01M111.6,789.5h.01M82.6,770.5h.01M110.5,789.1h.01M110.4,788.1h.01M111.3,785.5h.01M95.0,779.8h.01M101.9,784.9h.01M92.8,786.5h.01M98.5,784.7h.01M98.3,782.1h.01M97.5,787.6h.01M92.4,772.3h.01M109.0,787.0h.01M102.5,786.8h.01M102.1,789.9h.01M106.5,784.1h.01M86.4,783.2h.01M101.5,777.6h.01M107.4,787.8h.01M96.9,784.4h.01M94.8,782.1h.01M91.9,772.5h.01M98.0,774.9h.01M105.5,787.4h.01M95.4,786.9h.01M101.0,787.9h.01M102.0,788.9h.01M107.2,781.6h.01M108.1,778.3h.01M86.5,764.1h.01M101.1,770.2h.01M90.7,789.6h.01M90.5,786.9h.01M96.9,782.8h.01M101.4,788.4h.01M104.2,780.0h.01M101.7,782.2h.01M109.6,783.1h.01M74.6,773.2h.01M109.8,782.4h.01M100.7,779.9h.01M100.3,787.5h.01M107.7,789.7h.01M91.8,730.5h.01M111.3,787.2h.01M111.5,773.6h.01M86.0,740.6h.01M105.3,786.7h.01M103.5,789.4h.01M105.0,786.8h.01M88.1,782.0h.01M92.8,790.3h.01M87.0,789.9h.01M108.2,783.4h.01M108.2,788.0h.01M86.3,773.9h.01M100.3,769.3h.01M95.9,781.5h.01M110.4,788.8h.01M103.4,781.0h.01M102.1,786.2h.01M107.2,782.3h.01M108.0,769.8h.01M107.9,787.1h.01M55.5,783.9h.01M97.0,787.9h.01M90.5,765.6h.01M97.5,783.1h.01M108.0,782.0h.01M108.8,777.1h.01M103.2,787.6h.01M65.5,732.3h.01M108.7,789.7h.01M92.4,765.9h.01M94.0,775.5h.01M92.8,789.7h.01M97.4,781.3h.01M107.2,789.8h.01M108.7,783.6h.01M100.8,788.2h.01M108.0,786.6h.01M104.5,784.0h.01M105.3,767.8h.01M94.3,780.1h.01M101.0,780.1h.01M107.2,761.6h.01M99.5,776.6h.01M104.9,787.6h.01M110.4,786.0h.01M106.0,783.8h.01M94.4,786.8h.01M111.3,783.1h.01M105.2,787.1h.01M101.9,735.4h.01M107.9,781.7h.01M101.0,773.6h.01M98.6,789.2h.01M96.0,790.2h.01M109.2,789.2h.01M107.9,789.2h.01M94.0,755.8h.01M100.0,784.8h.01M100.5,786.6h.01M90.7,788.4h.01M89.8,787.1h.01M98.4,766.8h.01M106.5,790.3h.01M105.7,766.3h.01M109.6,789.0h.01M103.7,783.3h.01M108.3,784.8h.01M102.4,790.0h.01M100.6,787.9h.01M111.3,785.0h.01M105.4,784.6h.01M98.3,789.3h.01M96.6,786.4h.01M104.4,778.8h.01M91.5,769.0h.01M106.7,787.6h.01M106.2,789.1h.01M105.1,779.5h.01M89.4,778.1h.01M111.1,789.7h.01M108.8,786.1h.01M79.6,776.5h.01M109.0,782.9h.01M108.2,785.5h.01M97.0,774.0h.01M89.7,742.7h.01M89.2,782.9h.01M103.8,784.6h.01M107.1,784.4h.01M76.9,744.8h.01M99.4,781.1h.01M98.9,786.9h.01M105.6,787.4h.01M110.1,787.0h.01M89.1,703.3h.01M101.0,704.6h.01M94.1,705.9h.01M38.9,714.9h.01M86.2,721.4h.01M74.4,729.1h.01M98.0,721.4h.01M107.9,731.7h.01" fill="none" stroke="#2270b6" stroke-width="1.35" stroke-linecap="round"/>
<path d="M152.2,779.0h.01M152.5,789.3h.01M172.6,790.0h.01M154.2,781.5h.01M176.2,786.6h.01M161.5,785.0h.01M157.7,788.5h.01M168.4,787.8h.01M168.8,790.0h.01M155.7,784.7h.01M167.9,786.6h.01M167.6,785.8h.01M156.0,785.9h.01M165.2,789.6h.01M154.3,779.7h.01M167.4,786.8h.01M168.8,788.3h.01M165.3,788.3h.01M167.7,784.7h.01M157.4,788.6h.01M152.5,789.5h.01M193.3,754.4h.01M163.8,787.8h.01M166.5,790.3h.01M152.1,782.8h.01M152.2,788.4h.01M157.3,784.7h.01M158.0,786.1h.01M163.1,768.1h.01M170.5,790.3h.01M157.9,781.0h.01M161.5,712.3h.01M160.2,789.8h.01M164.5,787.9h.01M151.9,789.1h.01M172.2,783.7h.01M165.5,759.7h.01M156.2,789.7h.01M163.1,788.1h.01M165.1,788.3h.01M156.9,786.4h.01M176.6,787.9h.01M167.7,790.0h.01M166.9,778.7h.01M160.0,787.8h.01M164.3,775.3h.01M163.5,784.4h.01M162.7,788.9h.01M168.1,787.9h.01M155.5,782.3h.01M161.8,786.4h.01M182.2,746.0h.01M156.1,785.6h.01M161.4,777.4h.01M165.6,763.0h.01M156.7,785.3h.01M168.4,745.8h.01M199.5,767.0h.01M175.6,787.8h.01M177.2,784.4h.01M152.2,786.3h.01M165.6,789.0h.01M198.5,784.2h.01M162.5,787.8h.01M154.8,785.5h.01M151.6,786.9h.01M163.7,786.0h.01M154.9,760.2h.01M153.9,788.5h.01M165.4,776.8h.01M155.6,788.2h.01M176.6,785.0h.01M155.5,789.4h.01M184.1,789.8h.01M153.6,787.5h.01M152.1,789.2h.01M154.0,787.4h.01M169.8,776.4h.01M186.2,787.4h.01M155.8,765.2h.01M164.1,768.7h.01M166.2,774.1h.01M161.9,788.7h.01M172.3,785.6h.01M160.9,781.7h.01M153.3,784.5h.01M166.8,782.1h.01M151.9,788.3h.01M168.6,789.5h.01M183.9,772.1h.01M164.8,781.9h.01M181.6,767.3h.01M157.8,783.6h.01M160.1,790.1h.01M166.1,789.5h.01M168.4,765.0h.01M170.7,789.7h.01M172.1,788.1h.01M155.7,790.2h.01M152.4,789.3h.01M171.3,790.2h.01M171.3,778.1h.01M158.1,786.4h.01M157.8,790.0h.01M176.5,780.5h.01M172.6,788.9h.01M152.1,781.2h.01M156.1,784.9h.01M158.7,787.7h.01M163.0,774.1h.01M175.3,768.9h.01M157.7,781.3h.01M169.9,787.2h.01M152.1,777.2h.01M165.6,785.9h.01M156.0,790.2h.01M152.1,788.7h.01M169.3,786.2h.01M166.4,788.6h.01M157.5,789.9h.01M162.5,787.2h.01M154.1,789.6h.01M160.1,785.8h.01M155.0,778.6h.01M162.4,784.3h.01M174.3,766.0h.01M152.4,785.6h.01M172.2,786.2h.01M162.3,787.0h.01M168.3,782.3h.01M169.7,787.5h.01M154.5,789.5h.01M181.7,783.1h.01M222.6,765.7h.01M170.9,785.1h.01M157.2,786.8h.01M168.9,789.7h.01M181.2,773.1h.01M165.1,790.3h.01M159.3,787.8h.01M162.4,787.5h.01M157.7,790.0h.01M170.2,785.8h.01M163.3,787.7h.01M173.6,781.0h.01M191.7,731.4h.01M156.2,764.8h.01M165.4,786.4h.01M165.8,788.4h.01M161.3,771.9h.01M182.3,789.5h.01M177.8,720.8h.01M167.2,784.8h.01M153.4,786.7h.01M159.6,787.1h.01M153.7,785.7h.01M153.5,789.9h.01M160.4,786.8h.01M166.5,774.3h.01M186.7,770.8h.01M165.7,786.7h.01M172.7,775.1h.01M167.1,780.5h.01M167.8,783.6h.01M158.4,788.2h.01M159.9,785.3h.01M157.5,786.6h.01M165.2,782.5h.01M163.5,786.8h.01M182.7,789.5h.01M164.9,784.4h.01M168.3,771.3h.01M155.2,768.5h.01M155.9,787.3h.01M166.5,783.4h.01M155.0,782.5h.01M169.9,780.0h.01M163.8,788.2h.01M170.4,781.5h.01M170.6,774.6h.01M180.0,787.0h.01M156.1,787.5h.01M157.9,774.0h.01M207.1,781.0h.01M156.4,782.9h.01M156.6,782.1h.01M154.2,766.7h.01M156.1,787.9h.01M162.3,785.6h.01M161.1,784.4h.01M156.7,783.5h.01M161.0,778.6h.01M154.5,783.3h.01M159.2,787.1h.01M155.2,789.1h.01M162.8,784.1h.01M156.7,787.7h.01M165.0,783.4h.01M156.0,782.7h.01M206.0,774.6h.01M161.5,786.0h.01M167.6,786.5h.01M164.6,788.8h.01M165.9,787.9h.01M170.9,787.1h.01M169.4,772.3h.01M167.6,780.8h.01M159.3,773.8h.01M169.3,775.1h.01M172.1,766.7h.01M155.3,789.3h.01M200.8,785.7h.01M151.6,789.8h.01M172.0,780.4h.01M185.6,781.9h.01M159.5,778.4h.01M187.5,785.1h.01M167.0,786.7h.01M175.3,771.4h.01M166.2,789.2h.01M172.7,786.0h.01M155.4,782.7h.01M171.0,789.5h.01M164.7,788.7h.01M195.1,697.2h.01M153.6,787.4h.01M157.2,786.3h.01M161.1,764.2h.01M163.5,789.9h.01M167.9,789.5h.01M156.3,787.2h.01M176.8,788.7h.01M162.0,784.6h.01M151.7,785.0h.01M151.8,789.4h.01M152.0,785.8h.01M160.9,781.7h.01M170.9,789.3h.01M170.0,774.2h.01M170.9,771.7h.01M151.4,787.4h.01M151.7,789.7h.01M168.1,786.6h.01M158.9,789.2h.01M160.2,789.0h.01M163.4,786.3h.01M156.3,790.4h.01M154.8,787.0h.01M170.0,788.1h.01M155.9,784.8h.01M158.1,788.5h.01M151.9,784.8h.01M196.5,775.2h.01M197.8,788.6h.01M159.9,789.3h.01M183.3,768.7h.01M193.1,786.0h.01M158.7,786.9h.01M155.8,758.7h.01M158.0,789.1h.01M155.2,789.4h.01M153.6,787.1h.01M170.5,789.6h.01M167.3,783.2h.01M169.4,784.5h.01M162.4,787.2h.01M165.5,768.4h.01M159.2,789.7h.01M168.3,785.9h.01M170.9,759.7h.01M194.2,785.1h.01M154.8,761.7h.01M167.4,780.7h.01M216.5,787.5h.01M154.3,787.1h.01M154.9,774.1h.01M163.2,774.8h.01M167.8,786.8h.01M162.2,786.0h.01M177.7,779.6h.01M157.0,788.3h.01M169.8,787.3h.01M188.2,785.5h.01M151.4,786.2h.01M156.0,786.8h.01M161.4,778.8h.01M161.1,779.3h.01M163.4,726.0h.01M166.4,780.2h.01M158.6,788.8h.01M152.0,788.3h.01M163.3,790.0h.01M160.7,788.5h.01M166.7,740.5h.01M163.2,788.5h.01M168.6,788.9h.01M196.8,775.8h.01M152.6,789.5h.01M173.2,774.3h.01M155.9,784.7h.01M170.6,785.9h.01M163.3,785.9h.01M167.4,782.6h.01M173.3,784.1h.01M164.0,787.8h.01M156.6,784.1h.01M161.7,784.2h.01M168.1,777.4h.01M157.9,790.3h.01M182.8,776.3h.01M152.3,784.4h.01M153.3,784.2h.01M152.1,787.3h.01M153.9,788.9h.01M162.0,789.9h.01M162.0,786.8h.01M156.4,782.7h.01M152.8,785.6h.01M152.3,789.2h.01M166.8,784.5h.01M167.9,781.7h.01M159.0,790.2h.01M161.9,789.9h.01M163.2,787.2h.01M159.5,789.5h.01M157.7,772.2h.01M171.3,785.9h.01M179.1,780.5h.01M162.7,778.4h.01M152.5,782.2h.01M183.0,722.5h.01M166.8,779.9h.01M158.2,790.0h.01M155.1,786.7h.01M158.3,783.6h.01M171.8,787.0h.01M174.9,742.4h.01M153.1,786.0h.01M154.0,784.4h.01M165.8,782.2h.01M165.9,789.9h.01M161.1,778.6h.01M168.7,788.2h.01M157.8,789.3h.01M169.9,789.1h.01M167.2,782.3h.01M184.2,788.9h.01M154.2,760.7h.01M167.4,779.0h.01M174.6,785.9h.01M165.6,766.0h.01M158.6,786.4h.01M160.5,774.8h.01M170.3,779.9h.01M154.4,790.1h.01M181.2,711.9h.01M172.7,775.9h.01M164.9,787.5h.01M159.6,745.0h.01M153.0,789.3h.01M159.3,781.5h.01M158.7,789.9h.01M181.7,746.6h.01M158.6,789.7h.01M167.8,790.0h.01M156.7,778.0h.01M187.7,785.4h.01M172.8,789.9h.01M155.2,789.8h.01M155.6,787.8h.01M179.5,784.9h.01M156.4,787.2h.01M154.5,789.8h.01M160.8,780.3h.01M171.1,789.2h.01M161.4,786.6h.01M167.8,788.2h.01M172.0,785.5h.01M162.3,789.2h.01M152.8,789.3h.01M163.9,781.7h.01M161.5,788.8h.01M162.9,787.6h.01M158.5,790.2h.01M152.9,788.3h.01M157.0,787.0h.01M160.0,782.2h.01M172.5,771.1h.01M163.3,784.8h.01M158.7,782.5h.01M172.2,789.1h.01M182.9,789.9h.01M163.2,787.1h.01M152.1,788.8h.01M157.5,787.7h.01M155.2,788.3h.01M158.3,790.2h.01M170.2,789.6h.01M158.0,781.6h.01M154.0,772.5h.01M170.7,787.1h.01M169.1,787.8h.01M164.4,788.6h.01M167.4,789.1h.01M163.0,777.5h.01M159.5,787.2h.01M162.0,785.7h.01M155.2,784.0h.01M161.4,784.1h.01M170.4,777.0h.01M179.4,786.9h.01M181.6,783.2h.01M160.9,759.2h.01M156.1,790.3h.01M165.0,784.5h.01M160.2,749.8h.01M154.5,788.3h.01M187.9,680.0h.01M151.4,789.4h.01M159.2,781.6h.01M163.6,766.3h.01M169.4,779.3h.01M158.2,787.9h.01M165.2,790.0h.01M159.6,785.1h.01M171.7,782.3h.01M182.6,754.9h.01M164.3,786.6h.01M176.9,756.3h.01M198.1,789.8h.01M153.3,784.8h.01M162.1,789.3h.01M166.5,789.5h.01M152.9,789.2h.01M166.9,783.9h.01M162.3,788.3h.01M170.2,786.0h.01M155.3,790.0h.01M153.0,783.7h.01M157.7,788.7h.01M202.6,773.8h.01M183.0,785.6h.01M161.7,782.9h.01M193.5,786.4h.01M153.7,788.2h.01M164.6,754.6h.01M152.0,789.5h.01M157.1,766.8h.01M159.6,786.8h.01M154.1,781.8h.01M168.4,788.7h.01M169.9,777.0h.01M180.5,786.0h.01M161.1,781.9h.01M151.8,789.0h.01M211.1,762.4h.01M164.0,787.1h.01M152.7,788.5h.01M157.5,789.5h.01M155.3,789.1h.01M172.9,729.6h.01M153.2,786.7h.01M159.8,788.8h.01M160.3,788.6h.01M166.1,782.1h.01M163.4,775.3h.01M166.6,779.0h.01M162.3,782.9h.01M175.6,787.1h.01M166.3,789.6h.01M154.9,784.8h.01M171.5,777.0h.01M163.1,772.5h.01M155.5,780.7h.01M164.5,789.7h.01M192.6,789.3h.01M172.0,789.1h.01M161.8,785.3h.01M154.6,788.9h.01M152.2,789.8h.01M158.8,779.9h.01M155.6,786.3h.01M165.2,785.0h.01M161.4,788.2h.01M181.0,789.8h.01M157.9,786.8h.01M176.2,779.7h.01M158.2,789.6h.01M167.4,789.2h.01M169.5,776.4h.01M159.1,788.0h.01M159.7,778.9h.01M172.0,776.5h.01M170.9,783.2h.01M172.2,780.9h.01M161.9,718.8h.01M194.5,742.6h.01M203.7,747.4h.01M170.0,785.4h.01M153.6,783.9h.01M151.6,786.7h.01M158.6,782.7h.01M176.4,756.8h.01M170.3,789.0h.01M159.2,786.3h.01M195.5,789.9h.01M158.1,788.5h.01M154.3,771.8h.01M152.3,789.7h.01M164.9,786.7h.01M163.9,786.4h.01M159.4,782.4h.01M163.0,788.8h.01M197.8,777.9h.01M157.7,771.1h.01M172.2,779.9h.01M183.7,790.1h.01M158.1,787.1h.01M171.1,785.4h.01M156.7,771.1h.01M181.2,783.8h.01M171.9,787.0h.01M157.6,787.5h.01M158.6,785.3h.01M160.2,787.9h.01M151.7,789.3h.01M152.1,775.4h.01M156.7,779.2h.01M162.8,788.0h.01M161.6,787.0h.01M159.9,790.1h.01M204.2,770.6h.01M153.7,789.2h.01M168.6,790.0h.01M153.4,782.9h.01M158.0,788.0h.01M162.9,783.1h.01M186.6,764.9h.01M164.5,787.7h.01M170.0,789.1h.01M166.3,782.8h.01M162.5,769.4h.01M152.8,781.6h.01M161.1,786.5h.01M154.7,788.7h.01M167.8,789.2h.01M167.9,779.7h.01M161.6,779.3h.01M157.2,772.2h.01M215.4,782.1h.01M171.4,777.3h.01M151.5,786.3h.01M174.0,783.1h.01M197.0,771.2h.01M173.5,758.5h.01M166.3,787.2h.01M155.0,781.5h.01M153.3,788.4h.01M153.4,782.6h.01M157.4,780.8h.01M154.0,786.9h.01M157.5,789.7h.01M164.9,763.9h.01M167.3,721.2h.01M154.9,789.2h.01M157.9,787.5h.01M156.1,784.8h.01M170.3,788.6h.01M163.2,789.2h.01M154.0,784.4h.01M164.8,788.7h.01M155.4,783.5h.01M152.3,787.5h.01M151.6,788.3h.01M173.4,770.0h.01M168.5,781.0h.01M178.7,777.3h.01M161.4,779.2h.01M162.2,786.1h.01M166.8,772.7h.01M155.2,788.1h.01M159.1,773.7h.01M166.4,783.3h.01M158.8,786.6h.01M158.0,787.8h.01M154.3,783.5h.01M199.0,777.4h.01M169.8,790.0h.01M165.0,760.5h.01M156.5,784.1h.01M154.5,787.8h.01M197.1,784.9h.01M162.7,786.9h.01M155.1,788.6h.01M176.5,788.1h.01M168.5,787.4h.01M174.2,782.8h.01M163.9,779.4h.01M161.3,774.3h.01M171.4,788.7h.01M169.2,788.9h.01M169.6,787.3h.01M164.3,790.4h.01M158.6,784.9h.01M166.3,772.9h.01M161.0,787.7h.01M160.6,785.5h.01M159.2,786.2h.01M164.5,783.6h.01M173.8,789.2h.01M153.9,787.7h.01M165.7,773.1h.01M165.7,784.4h.01M155.2,789.4h.01M157.6,783.1h.01M162.3,770.5h.01M155.0,787.1h.01M168.5,781.4h.01M153.9,789.7h.01M156.7,787.5h.01M169.4,788.2h.01M160.3,787.6h.01M157.7,788.5h.01M160.0,790.2h.01M153.9,788.8h.01M179.8,779.4h.01M157.4,786.6h.01M155.0,760.6h.01M167.5,787.9h.01M152.9,783.4h.01M152.7,789.7h.01M163.8,788.3h.01M156.1,790.1h.01M168.5,780.6h.01M154.9,777.3h.01M201.3,761.0h.01M157.4,786.2h.01M172.9,779.6h.01M167.8,768.6h.01M154.4,786.3h.01M157.3,788.9h.01M167.2,787.6h.01M207.1,788.8h.01M190.5,777.5h.01M167.9,783.8h.01M168.4,784.0h.01M153.9,783.2h.01M155.9,789.3h.01M161.4,786.5h.01M153.1,790.3h.01M160.5,777.1h.01M162.8,789.2h.01M159.4,785.4h.01M163.7,787.8h.01M176.3,772.2h.01M175.6,788.3h.01M214.9,746.1h.01M171.4,777.5h.01M162.2,788.4h.01M158.0,778.4h.01M164.5,782.3h.01M156.5,789.8h.01M154.2,790.1h.01M186.0,738.3h.01M156.9,781.0h.01M172.0,783.1h.01M184.3,787.4h.01M157.1,775.7h.01M154.2,788.9h.01M164.8,787.9h.01M152.2,788.3h.01M159.3,747.9h.01M154.8,783.1h.01M161.9,790.3h.01M159.0,783.8h.01M156.0,783.8h.01M165.0,776.8h.01M163.7,790.1h.01M156.3,789.1h.01M151.7,789.5h.01M170.3,789.7h.01M181.2,767.1h.01M156.1,790.3h.01M193.7,730.3h.01M168.5,785.7h.01M164.4,778.1h.01M151.8,789.2h.01M157.1,788.7h.01M164.1,788.2h.01M172.7,788.0h.01M152.6,790.2h.01M177.9,773.5h.01M178.0,779.0h.01M162.9,785.1h.01M172.9,778.5h.01M154.5,756.3h.01M190.9,751.8h.01M164.5,783.1h.01M154.5,780.8h.01M171.5,749.1h.01M155.7,786.7h.01M169.4,785.9h.01M158.1,788.0h.01M186.5,790.2h.01M176.2,773.8h.01M165.9,723.3h.01M156.0,785.4h.01M160.5,787.4h.01M171.6,756.4h.01M154.6,779.5h.01M154.8,790.3h.01M157.0,786.7h.01M162.9,774.1h.01M152.4,782.8h.01M169.9,783.2h.01M163.7,787.5h.01M173.2,716.7h.01M160.6,789.4h.01M171.3,790.0h.01M159.1,784.3h.01M201.8,788.3h.01M167.9,788.1h.01M152.4,789.3h.01M153.3,789.7h.01M154.7,781.9h.01M182.0,773.7h.01M157.1,789.6h.01M167.5,788.6h.01M168.0,786.9h.01M163.1,788.3h.01M159.3,774.7h.01M164.6,787.2h.01M164.7,778.6h.01M155.1,776.0h.01M158.4,777.6h.01M152.3,790.3h.01M167.3,781.4h.01M204.6,754.0h.01M161.6,790.3h.01M156.8,765.2h.01M164.3,787.5h.01M172.1,781.4h.01M183.7,783.9h.01M158.5,789.8h.01M170.3,721.5h.01M161.9,775.8h.01M159.0,790.0h.01M168.3,780.7h.01M155.8,764.9h.01M159.2,787.4h.01M172.8,786.9h.01M153.0,789.7h.01M155.9,781.9h.01M157.8,784.4h.01M157.5,790.2h.01M163.5,787.9h.01M167.7,786.5h.01M153.2,788.1h.01M158.5,787.1h.01M187.1,769.0h.01M155.0,789.6h.01M160.5,789.0h.01M158.3,788.5h.01M160.7,787.6h.01M154.8,785.1h.01M159.2,789.4h.01M164.2,788.4h.01M162.5,787.1h.01M157.4,780.2h.01M152.1,790.2h.01M165.3,788.7h.01M165.7,788.8h.01M151.6,790.1h.01M151.8,786.9h.01M151.8,786.6h.01M180.8,762.4h.01M170.1,789.1h.01M156.7,787.1h.01M167.0,699.0h.01M156.0,785.3h.01M163.4,779.6h.01M154.8,788.4h.01M168.1,785.5h.01M185.1,747.6h.01M171.5,788.8h.01M151.7,788.1h.01M179.6,787.6h.01M159.7,789.0h.01M165.4,788.7h.01M156.7,785.1h.01M157.0,769.3h.01M155.4,787.9h.01M164.3,788.5h.01M151.3,786.5h.01M210.8,782.9h.01M161.2,759.5h.01M152.8,786.3h.01M162.9,778.5h.01M210.7,757.6h.01M169.4,765.1h.01M156.1,787.7h.01M187.1,775.4h.01M187.0,787.6h.01M160.2,783.5h.01M156.5,775.7h.01M171.7,777.9h.01M164.5,700.4h.01M165.7,780.7h.01M152.9,773.0h.01M151.6,788.3h.01M170.4,788.1h.01M172.6,785.7h.01M165.5,786.9h.01M194.0,787.8h.01M164.8,783.7h.01M156.6,789.0h.01M189.7,739.5h.01M155.1,788.7h.01M156.4,788.6h.01M165.2,786.2h.01M157.6,788.1h.01M152.8,789.8h.01M166.9,756.3h.01M183.8,785.0h.01M155.5,786.9h.01M156.0,785.6h.01M151.5,783.3h.01M154.1,783.6h.01M167.9,781.9h.01M161.5,782.9h.01M164.3,780.0h.01M164.0,788.7h.01M160.1,788.0h.01M152.6,787.8h.01M155.5,789.2h.01M174.3,789.5h.01M152.3,789.7h.01M155.8,768.1h.01M161.7,768.9h.01M166.5,788.0h.01M155.9,787.8h.01M156.3,787.5h.01M167.7,775.9h.01M151.8,788.7h.01M164.7,768.1h.01M154.1,790.2h.01M162.0,785.9h.01M166.8,782.1h.01M159.8,789.5h.01M179.8,775.5h.01M190.9,721.9h.01M163.9,787.4h.01M162.6,787.2h.01M170.3,777.9h.01M154.8,784.4h.01M153.5,785.8h.01M152.5,788.3h.01M163.6,764.1h.01M152.3,789.9h.01M159.8,787.7h.01M170.6,787.7h.01M170.6,728.7h.01M167.5,772.1h.01M152.3,781.2h.01M156.4,779.4h.01M164.6,758.4h.01M177.6,778.7h.01M163.2,785.6h.01M169.3,785.9h.01M167.8,788.9h.01M156.6,789.7h.01M156.1,788.4h.01M161.2,787.0h.01M154.8,789.7h.01M162.0,789.0h.01M162.8,786.6h.01M170.4,787.0h.01M183.0,781.0h.01M152.9,790.2h.01M167.7,776.5h.01M184.5,782.6h.01M151.6,779.7h.01M165.4,784.4h.01M162.2,790.1h.01M169.9,790.3h.01M177.5,788.4h.01M159.1,780.6h.01M161.8,790.3h.01M153.5,788.9h.01M192.2,787.6h.01M151.2,788.5h.01M162.2,788.2h.01M154.1,765.2h.01M167.1,781.5h.01M196.6,779.9h.01M152.8,781.8h.01M161.0,788.7h.01M160.8,789.2h.01M155.3,790.0h.01M159.4,783.0h.01M154.8,778.7h.01M157.8,785.1h.01M165.2,779.0h.01M191.2,780.7h.01M162.3,782.5h.01M158.7,788.6h.01M157.2,776.6h.01M169.7,788.8h.01M165.7,780.3h.01M155.8,780.8h.01M161.6,790.0h.01M163.2,784.6h.01M189.4,783.1h.01M164.6,790.2h.01M161.1,775.2h.01M169.6,789.3h.01M159.0,780.5h.01M159.9,789.7h.01M157.2,778.0h.01M165.1,735.5h.01M161.5,789.6h.01M157.6,788.8h.01M222.1,778.2h.01M155.0,787.7h.01M162.1,785.3h.01M174.9,746.7h.01M155.4,788.3h.01M157.5,785.0h.01M160.6,777.7h.01M165.6,780.7h.01M160.7,788.0h.01M165.0,779.7h.01M152.9,779.5h.01M151.3,785.2h.01M165.6,788.1h.01M168.8,786.7h.01M156.4,789.9h.01M166.0,784.7h.01M171.0,789.5h.01M163.4,778.3h.01M157.7,789.3h.01M169.0,770.7h.01M173.7,790.0h.01M158.8,787.7h.01M162.6,790.1h.01M157.5,788.9h.01M157.3,781.5h.01M164.6,779.7h.01M158.1,782.8h.01M169.5,788.6h.01M164.6,787.0h.01M167.7,788.8h.01M177.8,778.8h.01M156.1,784.4h.01M166.6,788.9h.01M162.3,789.2h.01M154.9,788.5h.01M165.0,789.1h.01M176.0,789.4h.01M159.7,777.5h.01M155.3,786.5h.01M170.7,780.6h.01M163.4,790.1h.01M205.0,774.8h.01M153.1,784.1h.01M169.8,771.9h.01M156.0,783.0h.01M169.1,778.4h.01M168.6,780.8h.01M171.9,784.8h.01M163.5,782.9h.01M198.9,761.1h.01M152.6,783.4h.01M157.1,778.4h.01M156.6,777.2h.01M177.8,771.7h.01M167.5,777.6h.01M152.4,790.2h.01M156.8,779.8h.01M155.3,772.4h.01M167.2,782.2h.01M168.0,787.0h.01M190.1,782.6h.01M169.0,781.4h.01M164.3,788.1h.01M164.2,788.3h.01M166.8,788.0h.01M151.7,786.1h.01M153.4,787.1h.01M153.8,787.5h.01M154.2,789.2h.01M182.1,787.8h.01M163.4,784.2h.01M154.1,789.3h.01M152.7,789.5h.01M156.8,772.5h.01M159.3,787.7h.01M160.3,779.9h.01M169.9,773.6h.01M155.6,780.1h.01M199.8,786.8h.01M181.1,789.8h.01M211.0,784.6h.01M165.2,790.3h.01M160.4,788.4h.01M161.2,781.3h.01M154.1,782.3h.01M169.8,787.8h.01M160.8,783.5h.01M171.8,787.1h.01M155.6,782.3h.01M155.7,790.2h.01M199.6,751.7h.01M162.9,787.9h.01M170.5,790.3h.01M157.1,786.8h.01M170.3,785.4h.01M169.3,776.2h.01M154.3,789.4h.01M171.9,769.2h.01M178.4,771.7h.01M154.7,789.9h.01M156.8,785.8h.01M168.7,787.9h.01M156.7,784.5h.01M154.8,786.9h.01M171.6,777.4h.01M152.1,786.7h.01M166.7,789.2h.01M172.4,775.0h.01M160.9,784.0h.01M152.4,786.9h.01M160.5,790.2h.01M168.2,780.3h.01M172.8,785.1h.01M152.2,782.6h.01M197.7,724.9h.01M168.5,789.6h.01M171.7,788.5h.01M181.1,781.1h.01M152.2,789.8h.01M184.6,774.5h.01M155.9,788.2h.01M154.8,784.9h.01M158.2,785.4h.01M156.0,787.2h.01M154.2,764.7h.01M164.5,789.1h.01M158.9,777.7h.01M185.2,783.3h.01M158.4,782.8h.01M159.8,790.2h.01M167.5,773.7h.01M163.8,788.7h.01M170.4,774.9h.01M156.4,766.8h.01M160.8,787.1h.01M162.9,783.6h.01M164.6,790.0h.01M155.6,785.7h.01M166.6,790.1h.01M157.5,784.5h.01M171.1,783.6h.01M162.6,738.0h.01M161.5,787.2h.01M161.3,756.4h.01M159.0,789.2h.01M172.4,774.6h.01M160.7,790.1h.01M164.2,789.3h.01M151.6,778.5h.01M161.9,782.8h.01M152.9,788.4h.01M160.7,789.9h.01M165.1,788.5h.01M153.6,787.6h.01M169.3,784.5h.01M174.3,784.3h.01M164.0,789.8h.01M151.7,782.1h.01M177.0,781.9h.01M174.5,789.3h.01M162.7,789.5h.01M170.5,783.2h.01M171.0,783.6h.01M184.0,787.4h.01M177.9,788.9h.01M173.9,781.4h.01M166.0,783.5h.01M168.5,781.4h.01M167.6,787.7h.01M161.1,783.1h.01M158.5,789.7h.01M169.7,787.9h.01M157.7,787.2h.01M163.5,774.8h.01M188.1,768.7h.01M154.5,789.5h.01M172.1,781.8h.01M162.0,790.2h.01M170.0,766.1h.01M153.8,790.1h.01M188.4,774.4h.01M167.5,784.2h.01M164.7,779.0h.01M172.1,770.3h.01M156.5,783.6h.01M152.5,783.4h.01M155.4,779.3h.01M167.0,789.9h.01M152.8,782.9h.01M175.3,790.2h.01M182.6,785.6h.01M159.0,773.8h.01M157.2,787.3h.01M172.1,784.2h.01M172.6,789.6h.01M208.0,776.3h.01M167.2,781.7h.01M153.9,770.9h.01M168.5,782.6h.01M159.7,781.2h.01M151.9,789.8h.01M151.4,788.1h.01M161.1,759.4h.01M171.8,788.9h.01M152.6,789.6h.01M154.0,771.1h.01M173.5,752.0h.01M191.7,737.0h.01M166.3,788.8h.01M164.5,786.8h.01M172.5,781.2h.01M154.2,789.5h.01M163.4,769.3h.01M154.7,784.2h.01M172.4,774.0h.01M164.2,789.4h.01M156.1,785.2h.01M154.5,783.8h.01M161.9,782.8h.01M159.1,786.6h.01M156.8,783.6h.01M152.3,788.2h.01M154.3,788.7h.01M154.7,755.2h.01M159.1,774.0h.01M166.7,788.6h.01M171.9,782.4h.01M166.1,784.4h.01M165.6,751.5h.01M165.8,789.3h.01M201.9,706.2h.01M151.8,782.1h.01M160.5,788.1h.01M164.3,780.6h.01M156.8,789.8h.01M156.9,787.5h.01M183.3,763.4h.01M154.6,765.9h.01M167.5,790.0h.01M157.6,790.1h.01M168.2,784.1h.01M170.5,787.5h.01M174.3,784.8h.01M170.1,772.1h.01M174.5,786.6h.01M153.0,789.3h.01M154.5,789.5h.01M154.8,789.8h.01M170.0,790.2h.01M159.8,788.4h.01M169.6,765.5h.01M154.9,787.0h.01M152.1,789.6h.01M165.9,786.3h.01M182.4,746.4h.01M185.3,785.1h.01M171.1,786.0h.01M160.2,788.5h.01M165.1,787.0h.01M165.8,784.8h.01M159.4,788.0h.01M160.1,785.2h.01M172.4,787.3h.01M160.2,790.1h.01M157.7,774.0h.01M153.4,789.9h.01M156.1,789.1h.01M168.6,781.9h.01M159.0,774.6h.01M172.5,788.0h.01M165.0,784.5h.01M152.5,783.9h.01M157.3,785.8h.01M161.9,787.1h.01M161.0,786.9h.01M153.6,788.1h.01M151.9,781.6h.01M174.8,790.2h.01M162.5,784.5h.01M171.1,780.4h.01M158.9,787.6h.01M172.0,775.8h.01M165.6,783.6h.01M166.1,786.1h.01M154.7,790.1h.01M160.2,790.2h.01M162.8,788.4h.01M151.7,788.9h.01M155.4,788.9h.01M156.4,783.1h.01M160.7,790.1h.01M152.7,789.9h.01M157.9,788.3h.01M159.4,788.2h.01M166.1,788.4h.01M162.1,771.5h.01M153.3,789.8h.01M167.3,789.6h.01M152.9,787.1h.01M157.2,740.1h.01M164.5,784.4h.01M161.3,778.0h.01M160.0,787.1h.01M156.8,789.4h.01M151.4,785.4h.01M158.6,788.8h.01M158.6,787.3h.01M151.3,782.5h.01M156.9,763.6h.01M159.1,781.9h.01M161.0,789.3h.01M156.5,788.8h.01M162.6,787.5h.01M155.6,789.6h.01M164.6,784.0h.01M163.1,747.1h.01M155.4,781.6h.01M160.3,769.3h.01M167.1,771.1h.01M161.1,790.1h.01M158.9,783.4h.01M152.1,783.9h.01M156.6,788.4h.01M183.8,742.7h.01M169.3,782.3h.01M154.8,774.2h.01M174.3,752.6h.01M152.2,788.5h.01M160.9,783.7h.01M156.8,722.4h.01M164.5,788.8h.01M170.7,777.2h.01M165.2,786.0h.01M154.5,776.3h.01M161.5,788.9h.01M156.6,789.9h.01M153.7,779.7h.01M152.1,789.7h.01M158.2,785.1h.01M172.8,787.0h.01M162.7,777.3h.01M157.5,787.1h.01M167.4,788.0h.01M166.8,744.2h.01M160.1,782.7h.01M156.6,789.4h.01M171.8,786.5h.01M169.3,776.9h.01M161.3,782.2h.01M161.7,782.7h.01M198.3,786.7h.01M167.1,780.2h.01M171.1,777.5h.01M161.4,776.2h.01M164.1,789.4h.01M176.6,786.8h.01M155.3,781.7h.01M171.9,784.9h.01M151.6,779.6h.01M167.4,778.9h.01M159.0,789.0h.01M168.4,767.7h.01M157.3,786.1h.01M163.7,780.2h.01M160.3,773.2h.01M171.6,769.4h.01M170.5,776.3h.01M159.0,769.1h.01M153.9,790.0h.01M151.5,784.7h.01M163.4,784.1h.01M158.5,786.8h.01M165.3,787.5h.01M170.2,775.2h.01M153.7,782.4h.01M178.1,781.9h.01M161.8,788.4h.01M167.6,788.4h.01M181.9,769.2h.01M154.7,785.6h.01M157.5,789.9h.01M155.3,779.9h.01M160.4,790.0h.01M172.5,784.0h.01M154.7,786.1h.01M164.1,790.2h.01M163.4,790.4h.01M174.0,787.2h.01M152.3,782.1h.01M176.8,786.5h.01M200.5,784.9h.01M189.7,785.0h.01M177.6,784.9h.01M171.2,785.6h.01M170.3,758.8h.01M175.6,768.1h.01M168.0,772.6h.01M165.6,773.2h.01M157.1,787.4h.01M152.8,776.2h.01M169.7,786.1h.01M170.9,781.6h.01M162.3,777.6h.01M156.7,785.3h.01M154.2,788.4h.01M157.5,786.5h.01M157.3,777.0h.01M153.9,786.5h.01M163.2,784.8h.01M157.0,788.9h.01M157.0,770.2h.01M158.4,778.3h.01M163.6,771.3h.01M154.2,788.9h.01M165.8,788.3h.01M163.1,777.4h.01M161.4,772.0h.01M165.7,786.3h.01M161.6,776.0h.01M152.8,788.5h.01M172.5,785.9h.01M166.9,788.1h.01M182.5,727.3h.01M168.8,781.3h.01M162.1,790.2h.01M174.3,776.9h.01M198.8,750.7h.01M168.5,784.8h.01M167.6,784.3h.01M152.8,788.5h.01M155.3,788.2h.01M186.0,782.5h.01M204.3,784.9h.01M158.3,787.8h.01M152.6,785.3h.01M160.5,787.7h.01M163.6,785.8h.01M162.4,767.2h.01M163.0,786.7h.01M170.8,746.8h.01M162.6,784.1h.01M154.1,780.0h.01M154.6,784.6h.01M151.8,787.6h.01M217.7,783.9h.01M162.4,780.9h.01M172.4,762.3h.01M159.9,787.1h.01M172.6,788.9h.01M199.0,728.7h.01M162.5,781.5h.01M165.7,788.7h.01M162.7,789.3h.01M183.3,784.3h.01M153.5,788.8h.01M156.2,789.3h.01M199.5,754.6h.01M160.9,790.0h.01M166.6,768.9h.01M161.2,779.5h.01M179.9,783.7h.01M160.4,790.2h.01M177.1,787.0h.01M162.4,779.3h.01M158.8,788.2h.01M158.1,788.3h.01M168.5,789.3h.01M175.9,695.3h.01M158.0,783.7h.01M161.9,784.8h.01M162.2,780.2h.01M151.8,787.8h.01M160.0,789.8h.01M178.0,790.0h.01M157.0,768.9h.01M164.0,770.8h.01M160.9,776.8h.01M156.4,787.9h.01M158.1,765.0h.01M168.0,785.3h.01M165.0,787.0h.01M163.4,783.3h.01M170.6,781.9h.01M161.1,789.7h.01M152.3,789.9h.01M160.9,787.6h.01M153.5,777.9h.01M168.8,756.7h.01M155.9,782.3h.01M162.8,789.4h.01M155.5,785.5h.01M158.2,787.7h.01M159.1,788.4h.01M188.9,734.6h.01M215.8,768.3h.01M154.9,776.5h.01M178.6,774.8h.01M163.0,772.2h.01M152.4,784.2h.01M163.4,782.1h.01M156.4,770.3h.01M168.7,779.0h.01M160.7,786.4h.01M168.6,789.8h.01M156.9,781.1h.01M152.6,790.3h.01M152.5,773.3h.01M183.9,787.8h.01M151.6,788.0h.01M156.2,787.3h.01M173.9,787.1h.01M164.6,788.7h.01M159.6,782.3h.01M157.3,786.6h.01M171.8,778.9h.01M161.0,785.1h.01M164.6,760.8h.01M162.3,787.9h.01M172.3,789.9h.01M161.2,783.2h.01M165.7,769.2h.01M169.8,780.8h.01M168.4,787.5h.01M168.6,780.9h.01M166.0,782.9h.01M154.2,785.2h.01M212.6,750.7h.01M165.1,772.4h.01M160.0,786.1h.01M156.3,788.6h.01M178.9,775.2h.01M167.5,773.0h.01M159.6,788.5h.01M151.4,790.1h.01M163.3,777.6h.01M157.0,789.7h.01M158.7,782.3h.01M194.6,783.8h.01M168.7,789.4h.01M156.0,780.7h.01M151.9,787.7h.01M154.9,785.5h.01M166.5,742.7h.01M167.4,789.3h.01M157.1,749.1h.01M194.0,768.6h.01M164.5,789.3h.01M160.4,788.1h.01M168.3,750.8h.01M162.2,787.5h.01M159.4,788.6h.01M152.8,782.6h.01M174.3,775.8h.01M153.0,788.0h.01M159.0,783.3h.01M171.9,784.1h.01M151.5,789.7h.01M168.4,788.3h.01M153.3,787.2h.01M152.1,786.6h.01M159.6,786.6h.01M206.1,784.7h.01M162.0,788.2h.01M154.6,789.2h.01M158.5,789.0h.01M167.5,783.8h.01M152.6,788.2h.01M163.8,780.4h.01M155.7,788.7h.01M157.0,783.1h.01M157.9,787.8h.01M165.1,761.5h.01M163.4,784.1h.01M179.1,790.0h.01M163.3,781.7h.01M158.8,789.0h.01M163.6,786.4h.01M159.4,781.4h.01M155.8,757.7h.01M166.7,785.8h.01M159.2,789.6h.01M172.8,786.3h.01M154.5,783.6h.01M165.7,784.8h.01M152.5,783.1h.01M170.9,785.1h.01M160.0,790.3h.01M164.0,781.9h.01M161.2,782.4h.01M160.7,758.1h.01M153.9,788.7h.01M194.5,768.4h.01M157.0,789.8h.01M200.2,781.0h.01M201.2,749.0h.01M155.4,790.0h.01M152.5,786.4h.01M168.1,766.8h.01M154.9,784.5h.01M157.5,788.4h.01M156.6,789.4h.01M162.5,786.3h.01M185.5,782.4h.01M168.4,789.8h.01M163.9,785.9h.01M178.4,772.1h.01M177.1,789.7h.01M164.0,780.3h.01M165.6,786.7h.01M153.8,784.9h.01M164.4,786.2h.01M154.7,783.5h.01M181.0,721.0h.01M167.0,788.1h.01M151.5,790.0h.01M161.8,788.8h.01M164.9,785.2h.01M159.7,782.3h.01M174.6,780.3h.01M189.4,752.8h.01M158.9,788.3h.01M156.1,787.2h.01M151.7,782.6h.01M164.6,774.2h.01M164.9,786.4h.01M157.1,787.0h.01M190.6,782.6h.01M189.4,783.7h.01M156.3,780.1h.01M164.6,776.5h.01M168.4,786.2h.01M152.3,789.6h.01M165.8,777.5h.01M186.9,754.5h.01M199.5,754.9h.01M166.1,777.0h.01M157.8,773.6h.01M155.9,784.0h.01M167.7,785.4h.01M154.3,787.5h.01M196.0,787.1h.01M158.0,785.1h.01M170.6,789.6h.01M156.4,788.5h.01M162.1,790.2h.01M157.7,779.2h.01M158.3,786.4h.01M158.9,782.5h.01M170.7,789.2h.01M161.6,786.7h.01M155.9,789.8h.01M173.2,782.9h.01M164.8,783.7h.01M157.6,777.0h.01M158.1,746.7h.01M163.4,784.7h.01M170.2,769.7h.01M155.1,787.2h.01M172.1,786.0h.01M152.3,788.9h.01M173.7,789.7h.01M163.9,780.0h.01M169.4,769.1h.01M155.5,784.1h.01M160.9,786.7h.01M153.1,788.9h.01M151.4,789.5h.01M156.8,784.1h.01M186.9,781.3h.01M176.4,783.6h.01M157.6,789.8h.01M163.7,789.8h.01M166.3,778.4h.01M154.3,786.4h.01M156.7,789.1h.01M157.3,782.5h.01M159.8,779.3h.01M168.4,787.5h.01M164.9,784.9h.01M155.6,789.4h.01M175.7,786.5h.01M160.9,784.2h.01M192.3,685.9h.01M153.1,787.0h.01M157.0,787.4h.01M168.3,771.4h.01M161.9,775.9h.01M158.3,789.4h.01M179.1,790.1h.01M168.3,776.9h.01M169.5,757.6h.01M155.2,788.0h.01M153.3,789.3h.01M164.2,786.5h.01M163.7,790.1h.01M161.0,788.5h.01M168.4,776.7h.01M162.3,781.5h.01M167.6,787.6h.01M152.6,788.4h.01M163.4,753.6h.01M197.0,781.2h.01M154.2,788.3h.01M164.0,789.0h.01M154.9,781.8h.01M165.8,788.6h.01M155.9,780.5h.01M155.1,784.0h.01M187.9,782.3h.01M163.3,769.9h.01M167.7,786.4h.01M160.3,785.0h.01M172.4,759.8h.01M155.5,789.1h.01M164.8,776.3h.01M161.8,782.0h.01M152.3,789.4h.01M170.8,785.2h.01M165.9,777.7h.01M161.1,783.9h.01M167.6,780.4h.01M154.9,787.8h.01M151.8,787.0h.01M162.8,780.3h.01M152.9,783.5h.01M155.8,790.4h.01M158.6,782.7h.01M164.3,789.1h.01M155.3,789.4h.01M172.4,789.5h.01M158.2,790.3h.01M176.8,779.2h.01M166.1,790.2h.01M178.7,790.1h.01M159.1,789.3h.01M206.0,758.2h.01M164.1,787.6h.01M155.1,790.2h.01M158.5,781.5h.01M167.0,762.4h.01M183.3,764.9h.01M204.4,758.1h.01M157.9,789.0h.01M179.9,785.0h.01M189.1,780.4h.01M161.5,787.3h.01M151.4,789.7h.01M160.9,786.7h.01M161.5,757.6h.01M176.8,783.6h.01M161.8,787.7h.01M159.3,788.5h.01M153.5,789.8h.01M154.0,785.1h.01M159.3,786.3h.01M170.6,784.3h.01M155.4,789.4h.01M161.3,778.3h.01M171.0,782.2h.01M157.9,789.4h.01M170.2,769.4h.01M151.2,788.3h.01M159.1,789.4h.01M156.7,788.1h.01M187.5,787.5h.01M161.0,790.3h.01M166.0,789.2h.01M155.3,784.7h.01M165.7,782.7h.01M156.9,786.7h.01M156.2,784.9h.01M165.7,785.6h.01M176.6,790.2h.01M160.1,783.9h.01M180.5,713.2h.01M171.2,772.2h.01M158.2,780.5h.01M166.7,783.9h.01M153.2,787.9h.01M167.9,776.2h.01M162.5,784.5h.01M158.7,790.0h.01M153.5,788.0h.01M153.6,790.0h.01M166.8,779.3h.01M157.1,789.7h.01M152.1,789.4h.01M172.1,769.5h.01M170.6,785.9h.01M162.8,776.3h.01M156.6,785.0h.01M156.0,769.1h.01M151.6,783.5h.01M157.7,789.0h.01M159.7,784.1h.01M178.3,789.7h.01M158.6,780.7h.01M163.1,790.1h.01M151.7,789.8h.01M158.5,781.4h.01M165.7,784.7h.01M153.9,788.4h.01M162.9,782.2h.01M158.5,777.5h.01M154.7,789.9h.01M156.4,786.0h.01M160.1,781.3h.01M156.3,788.1h.01M155.0,786.5h.01M152.0,788.4h.01M158.9,775.6h.01M160.9,771.2h.01M215.4,775.3h.01M159.1,785.3h.01M167.4,789.9h.01M187.7,712.6h.01M168.9,685.2h.01M188.6,686.5h.01M181.7,692.9h.01M172.9,711.0h.01M170.9,716.2h.01M166.0,724.0h.01M208.3,718.8h.01M165.0,731.7h.01M164.0,736.9h.01M212.3,749.8h.01M202.4,742.0h.01" fill="none" stroke="#c4201a" stroke-width="1.35" stroke-linecap="round"/>
<path d="M167.7,770.3h.01M178.6,784.3h.01M172.6,783.5h.01M177.7,786.4h.01M178.7,778.9h.01M161.4,770.0h.01M160.7,789.1h.01M172.1,770.2h.01M166.9,783.3h.01M175.0,780.3h.01M165.0,779.3h.01M172.6,787.0h.01M174.1,770.6h.01M157.8,780.9h.01M160.6,768.4h.01M157.9,783.6h.01M159.4,786.4h.01M176.6,780.2h.01M156.8,780.4h.01M156.3,787.8h.01M178.6,783.4h.01M154.2,773.8h.01M154.2,778.2h.01M154.5,776.5h.01M155.4,770.7h.01M176.9,784.1h.01M177.9,781.1h.01M167.7,779.7h.01M159.2,786.4h.01M164.4,781.3h.01" fill="none" stroke="#f2b24a" stroke-width="1.1" stroke-linecap="round"/>
<line x1="33.75" y1="664.00" x2="33.75" y2="794.25" stroke="#111" stroke-width="1.1"/>
<line x1="33.25" y1="793.75" x2="228.80" y2="793.75" stroke="#111" stroke-width="1.1"/>
<line x1="30.55" y1="793.75" x2="33.75" y2="793.75" stroke="#111" stroke-width="1.1"/>
<text x="29.45" y="796.85" font-size="8.25" text-anchor="end" fill="#161616" stroke="#161616" stroke-width="0.28">0</text>
<line x1="30.55" y1="767.90" x2="33.75" y2="767.90" stroke="#111" stroke-width="1.1"/>
<text x="29.45" y="771.00" font-size="8.25" text-anchor="end" fill="#161616" stroke="#161616" stroke-width="0.28">10</text>
<line x1="30.55" y1="742.05" x2="33.75" y2="742.05" stroke="#111" stroke-width="1.1"/>
<text x="29.45" y="745.15" font-size="8.25" text-anchor="end" fill="#161616" stroke="#161616" stroke-width="0.28">20</text>
<line x1="30.55" y1="716.20" x2="33.75" y2="716.20" stroke="#111" stroke-width="1.1"/>
<text x="29.45" y="719.30" font-size="8.25" text-anchor="end" fill="#161616" stroke="#161616" stroke-width="0.28">30</text>
<line x1="30.55" y1="690.35" x2="33.75" y2="690.35" stroke="#111" stroke-width="1.1"/>
<text x="29.45" y="693.45" font-size="8.25" text-anchor="end" fill="#161616" stroke="#161616" stroke-width="0.28">40</text>
<line x1="30.55" y1="664.50" x2="33.75" y2="664.50" stroke="#111" stroke-width="1.1"/>
<text x="29.45" y="667.60" font-size="8.25" text-anchor="end" fill="#161616" stroke="#161616" stroke-width="0.28">50</text>
<line x1="52.70" y1="793.75" x2="52.70" y2="797.15" stroke="#111" stroke-width="1.1"/>
<text x="52.70" y="809.30" font-size="8.25" text-anchor="middle" fill="#161616" stroke="#161616" stroke-width="0.28">–4</text>
<line x1="92.10" y1="793.75" x2="92.10" y2="797.15" stroke="#111" stroke-width="1.1"/>
<text x="92.10" y="809.30" font-size="8.25" text-anchor="middle" fill="#161616" stroke="#161616" stroke-width="0.28">–2</text>
<line x1="131.50" y1="793.75" x2="131.50" y2="797.15" stroke="#111" stroke-width="1.1"/>
<text x="131.50" y="809.30" font-size="8.25" text-anchor="middle" fill="#161616" stroke="#161616" stroke-width="0.28">0</text>
<line x1="170.90" y1="793.75" x2="170.90" y2="797.15" stroke="#111" stroke-width="1.1"/>
<text x="170.90" y="809.30" font-size="8.25" text-anchor="middle" fill="#161616" stroke="#161616" stroke-width="0.28">2</text>
<line x1="210.30" y1="793.75" x2="210.30" y2="797.15" stroke="#111" stroke-width="1.1"/>
<text x="210.30" y="809.30" font-size="8.25" text-anchor="middle" fill="#161616" stroke="#161616" stroke-width="0.28">4</text>
<text x="132.50" y="821.30" font-size="8.7" text-anchor="middle" fill="#161616" stroke="#161616" stroke-width="0.28">Log<tspan font-size="5.8" dy="1.8">2</tspan><tspan dy="-1.8"> (FC)</tspan></text>
<rect x="35.75" y="665.75" width="55.50" height="18.00" fill="#fff" stroke="#999" stroke-width="0.6"/>
<text x="37.20" y="671.60" font-size="5.5" font-weight="bold" fill="#c8281e" stroke="#c8281e" stroke-width="0.15">Increased activation</text>
<text x="37.20" y="676.90" font-size="5.5" font-weight="bold" fill="#c8281e" stroke="#c8281e" stroke-width="0.15">in PADI4 A2</text>
<text x="37.20" y="682.20" font-size="5.5" font-weight="bold" fill="#f0b040" stroke="#f0b040" stroke-width="0.15">Highlighted targets</text>
<line x1="105.00" y1="672.50" x2="152.50" y2="768.75" stroke="#3a3a3a" stroke-width="0.65"/>
<line x1="68.75" y1="701.30" x2="152.00" y2="773.00" stroke="#3a3a3a" stroke-width="0.65"/>
<line x1="62.00" y1="718.50" x2="152.00" y2="777.00" stroke="#3a3a3a" stroke-width="0.65"/>
<line x1="62.00" y1="734.00" x2="152.50" y2="781.00" stroke="#3a3a3a" stroke-width="0.65"/>
<line x1="68.50" y1="747.50" x2="153.00" y2="784.00" stroke="#3a3a3a" stroke-width="0.65"/>
<line x1="55.00" y1="760.50" x2="153.00" y2="786.50" stroke="#3a3a3a" stroke-width="0.65"/>
<line x1="56.00" y1="777.50" x2="153.00" y2="789.00" stroke="#3a3a3a" stroke-width="0.65"/>
<line x1="157.00" y1="668.80" x2="155.50" y2="755.00" stroke="#3a3a3a" stroke-width="0.65"/>
<line x1="170.50" y1="677.00" x2="163.00" y2="747.50" stroke="#3a3a3a" stroke-width="0.65"/>
<line x1="181.00" y1="684.30" x2="166.00" y2="738.00" stroke="#3a3a3a" stroke-width="0.65"/>
<line x1="195.50" y1="689.50" x2="160.00" y2="757.00" stroke="#3a3a3a" stroke-width="0.65"/>
<line x1="208.75" y1="695.00" x2="158.00" y2="772.00" stroke="#3a3a3a" stroke-width="0.65"/>
<line x1="218.75" y1="702.50" x2="161.00" y2="777.00" stroke="#3a3a3a" stroke-width="0.65"/>
<line x1="226.30" y1="710.50" x2="187.50" y2="758.80" stroke="#3a3a3a" stroke-width="0.65"/>
<line x1="228.00" y1="721.30" x2="176.00" y2="766.00" stroke="#3a3a3a" stroke-width="0.65"/>
<line x1="228.80" y1="731.30" x2="188.80" y2="760.00" stroke="#3a3a3a" stroke-width="0.65"/>
<line x1="226.30" y1="741.30" x2="186.30" y2="765.00" stroke="#3a3a3a" stroke-width="0.65"/>
<line x1="226.00" y1="750.00" x2="177.50" y2="771.30" stroke="#3a3a3a" stroke-width="0.65"/>
<line x1="226.00" y1="758.00" x2="187.50" y2="775.00" stroke="#3a3a3a" stroke-width="0.65"/>
<line x1="225.00" y1="768.80" x2="183.80" y2="777.50" stroke="#3a3a3a" stroke-width="0.65"/>
<line x1="223.80" y1="777.50" x2="180.00" y2="780.00" stroke="#3a3a3a" stroke-width="0.65"/>
<line x1="222.50" y1="783.80" x2="160.00" y2="782.50" stroke="#3a3a3a" stroke-width="0.65"/>
<text x="98.25" y="669.50" font-size="8.15" font-style="italic" fill="#161616" stroke="#161616" stroke-width="0.15">Irs2</text>
<text x="60.00" y="698.00" font-size="8.15" font-style="italic" fill="#161616" stroke="#161616" stroke-width="0.15">Pld3</text>
<text x="48.00" y="716.80" font-size="8.15" font-style="italic" fill="#161616" stroke="#161616" stroke-width="0.15">Lipe</text>
<text x="40.00" y="732.00" font-size="8.15" font-style="italic" fill="#161616" stroke="#161616" stroke-width="0.15">Fcgbp</text>
<text x="37.00" y="746.30" font-size="8.15" font-style="italic" fill="#161616" stroke="#161616" stroke-width="0.15">Shroom2</text>
<text x="37.00" y="758.30" font-size="8.15" font-style="italic" fill="#161616" stroke="#161616" stroke-width="0.15">Mapk4</text>
<text x="37.50" y="774.50" font-size="8.15" font-style="italic" fill="#161616" stroke="#161616" stroke-width="0.15">Jag2</text>
<text x="153.00" y="666.30" font-size="8.15" font-style="italic" fill="#161616" stroke="#161616" stroke-width="0.15">Cdkn1a</text>
<text x="168.00" y="674.50" font-size="8.15" font-style="italic" fill="#161616" stroke="#161616" stroke-width="0.15">Nav2</text>
<text x="177.00" y="682.00" font-size="8.15" font-style="italic" fill="#161616" stroke="#161616" stroke-width="0.15">Slc4a11</text>
<text x="195.00" y="688.80" font-size="8.15" font-style="italic" fill="#161616" stroke="#161616" stroke-width="0.15">Mdm2</text>
<text x="208.75" y="695.80" font-size="8.15" font-style="italic" fill="#161616" stroke="#161616" stroke-width="0.15">Ifi35</text>
<text x="218.75" y="703.00" font-size="8.15" font-style="italic" fill="#161616" stroke="#161616" stroke-width="0.15">Calcoco1</text>
<text x="227.50" y="712.00" font-size="8.15" font-style="italic" fill="#161616" stroke="#161616" stroke-width="0.15">Ddx41</text>
<text x="229.50" y="722.00" font-size="8.15" font-style="italic" fill="#161616" stroke="#161616" stroke-width="0.15">Cxcr4</text>
<text x="230.50" y="732.00" font-size="8.15" font-style="italic" fill="#161616" stroke="#161616" stroke-width="0.15">Perp</text>
<text x="228.00" y="741.30" font-size="8.15" font-style="italic" fill="#161616" stroke="#161616" stroke-width="0.15">Plxnb1</text>
<text x="228.00" y="750.50" font-size="8.15" font-style="italic" fill="#161616" stroke="#161616" stroke-width="0.15">Ltb4r1</text>
<text x="228.00" y="759.50" font-size="8.15" font-style="italic" fill="#161616" stroke="#161616" stroke-width="0.15">Ltb4r2</text>
<text x="226.30" y="770.00" font-size="8.15" font-style="italic" fill="#161616" stroke="#161616" stroke-width="0.15">Atf3</text>
<text x="225.00" y="778.80" font-size="8.15" font-style="italic" fill="#161616" stroke="#161616" stroke-width="0.15">Padi4</text>
<text x="223.80" y="787.00" font-size="8.15" font-style="italic" fill="#161616" stroke="#161616" stroke-width="0.15">Tnfrsf18</text>
<text x="5.30" y="840.00" font-size="10" font-weight="bold" fill="#000" stroke="#000" stroke-width="0.15">J</text>
<text x="188.75" y="843.00" font-size="8.7" text-anchor="middle" fill="#161616" stroke="#161616" stroke-width="0.28">IPA</text>
<rect x="137.00" y="852.00" width="18.78" height="8.00" fill="#f8cdc8" stroke="#d9605a" stroke-width="1"/>
<line x1="134.00" y1="856.00" x2="137.00" y2="856.00" stroke="#444" stroke-width="1"/>
<text x="131.50" y="859.00" font-size="8.7" text-anchor="end" fill="#161616" stroke="#161616" stroke-width="0.28">JAK/STAT signaling</text>
<rect x="137.00" y="865.00" width="74.72" height="8.00" fill="#ee9a98" stroke="#cc3a3a" stroke-width="1"/>
<line x1="134.00" y1="869.00" x2="137.00" y2="869.00" stroke="#444" stroke-width="1"/>
<text x="131.50" y="872.00" font-size="8.7" text-anchor="end" fill="#161616" stroke="#161616" stroke-width="0.28">p53 signaling</text>
<rect x="137.00" y="878.25" width="27.19" height="7.25" fill="#f3b3ad" stroke="#d14a46" stroke-width="1"/>
<line x1="134.00" y1="881.88" x2="137.00" y2="881.88" stroke="#444" stroke-width="1"/>
<text x="131.50" y="884.88" font-size="8.7" text-anchor="end" fill="#161616" stroke="#161616" stroke-width="0.28">Oxidative stress response</text>
<rect x="137.00" y="891.25" width="17.22" height="7.50" fill="#f8cdc8" stroke="#d9605a" stroke-width="1"/>
<line x1="134.00" y1="895.00" x2="137.00" y2="895.00" stroke="#444" stroke-width="1"/>
<text x="131.50" y="898.00" font-size="8.7" text-anchor="end" fill="#161616" stroke="#161616" stroke-width="0.28">IL8 signaling</text>
<rect x="137.00" y="904.25" width="24.22" height="7.50" fill="#f3b3ad" stroke="#d14a46" stroke-width="1"/>
<line x1="134.00" y1="908.00" x2="137.00" y2="908.00" stroke="#444" stroke-width="1"/>
<text x="131.50" y="911.00" font-size="8.7" text-anchor="end" fill="#161616" stroke="#161616" stroke-width="0.28">CXCR4 signaling</text>
<line x1="137.00" y1="847.00" x2="137.00" y2="917.25" stroke="#444" stroke-width="1.1"/>
<line x1="136.50" y1="916.75" x2="241.20" y2="916.75" stroke="#222" stroke-width="1.1"/>
<line x1="137.00" y1="916.75" x2="137.00" y2="919.95" stroke="#222" stroke-width="1.1"/>
<text x="137.00" y="928.80" font-size="8.25" text-anchor="middle" fill="#161616" stroke="#161616" stroke-width="0.28">0</text>
<line x1="162.90" y1="916.75" x2="162.90" y2="919.95" stroke="#222" stroke-width="1.1"/>
<text x="162.90" y="928.80" font-size="8.25" text-anchor="middle" fill="#161616" stroke="#161616" stroke-width="0.28">2</text>
<line x1="188.80" y1="916.75" x2="188.80" y2="919.95" stroke="#222" stroke-width="1.1"/>
<text x="188.80" y="928.80" font-size="8.25" text-anchor="middle" fill="#161616" stroke="#161616" stroke-width="0.28">4</text>
<line x1="214.70" y1="916.75" x2="214.70" y2="919.95" stroke="#222" stroke-width="1.1"/>
<text x="214.70" y="928.80" font-size="8.25" text-anchor="middle" fill="#161616" stroke="#161616" stroke-width="0.28">6</text>
<line x1="240.60" y1="916.75" x2="240.60" y2="919.95" stroke="#222" stroke-width="1.1"/>
<text x="240.60" y="928.80" font-size="8.25" text-anchor="middle" fill="#161616" stroke="#161616" stroke-width="0.28">8</text>
<text x="188.75" y="940.50" font-size="8.7" text-anchor="middle" fill="#161616" stroke="#161616" stroke-width="0.28">–Log<tspan font-size="5.8" dy="1.8">10</tspan><tspan dy="-1.8"> (</tspan><tspan font-style="italic">P</tspan>)</text>
<text x="253.00" y="450.00" font-size="10" font-weight="bold" fill="#000" stroke="#000" stroke-width="0.15">K</text>
<text x="304.30" y="449.60" font-size="8.7" text-anchor="middle" fill="#161616" stroke="#161616" stroke-width="0.28">sgCntrl</text>
<line x1="274.30" y1="453.30" x2="333.00" y2="453.30" stroke="#111" stroke-width="1.1"/>
<text x="371.50" y="449.60" font-size="8.7" text-anchor="middle" fill="#161616" stroke="#161616" stroke-width="0.28">PADI4 A1</text>
<line x1="342.50" y1="453.30" x2="400.30" y2="453.30" stroke="#111" stroke-width="1.1"/>
<text x="440.50" y="449.60" font-size="8.7" text-anchor="middle" fill="#161616" stroke="#161616" stroke-width="0.28">PADI4 A2</text>
<line x1="411.80" y1="453.30" x2="471.50" y2="453.30" stroke="#111" stroke-width="1.1"/>
<text x="285.86" y="463.80" font-size="8.7" text-anchor="middle" fill="#161616" stroke="#161616" stroke-width="0.28">Unt</text>
<text x="319.78" y="463.80" font-size="8.7" text-anchor="middle" fill="#161616" stroke="#161616" stroke-width="0.28">Nutlin</text>
<text x="353.70" y="463.80" font-size="8.7" text-anchor="middle" fill="#161616" stroke="#161616" stroke-width="0.28">Unt</text>
<text x="387.62" y="463.80" font-size="8.7" text-anchor="middle" fill="#161616" stroke="#161616" stroke-width="0.28">Nutlin</text>
<text x="421.54" y="463.80" font-size="8.7" text-anchor="middle" fill="#161616" stroke="#161616" stroke-width="0.28">Unt</text>
<text x="455.46" y="463.80" font-size="8.7" text-anchor="middle" fill="#161616" stroke="#161616" stroke-width="0.28">Nutlin</text>
<g shape-rendering="crispEdges">
<rect x="268.90" y="467.40" width="11.61" height="8.59" fill="#9ec6e7"/>
<rect x="280.21" y="467.40" width="11.61" height="8.59" fill="#6fa9db"/>
<rect x="291.51" y="467.40" width="11.61" height="8.59" fill="#9ec6e7"/>
<rect x="302.82" y="467.40" width="11.61" height="8.59" fill="#c9dff1"/>
<rect x="314.13" y="467.40" width="11.61" height="8.59" fill="#f6c3bf"/>
<rect x="325.43" y="467.40" width="11.61" height="8.59" fill="#f4f6fb"/>
<rect x="336.74" y="467.40" width="11.61" height="8.59" fill="#c9dff1"/>
<rect x="348.05" y="467.40" width="11.61" height="8.59" fill="#9ec6e7"/>
<rect x="359.35" y="467.40" width="11.61" height="8.59" fill="#6fa9db"/>
<rect x="370.66" y="467.40" width="11.61" height="8.59" fill="#c2141b"/>
<rect x="381.97" y="467.40" width="11.61" height="8.59" fill="#c2141b"/>
<rect x="393.27" y="467.40" width="11.61" height="8.59" fill="#c2141b"/>
<rect x="404.58" y="467.40" width="11.61" height="8.59" fill="#0e5fb8"/>
<rect x="415.89" y="467.40" width="11.61" height="8.59" fill="#0e5fb8"/>
<rect x="427.19" y="467.40" width="11.61" height="8.59" fill="#0e5fb8"/>
<rect x="438.50" y="467.40" width="11.61" height="8.59" fill="#dc4f50"/>
<rect x="449.81" y="467.40" width="11.61" height="8.59" fill="#c2141b"/>
<rect x="461.11" y="467.40" width="11.61" height="8.59" fill="#c2141b"/>
<rect x="268.90" y="475.69" width="11.61" height="8.59" fill="#9ec6e7"/>
<rect x="280.21" y="475.69" width="11.61" height="8.59" fill="#b4d2ec"/>
<rect x="291.51" y="475.69" width="11.61" height="8.59" fill="#86b8e1"/>
<rect x="302.82" y="475.69" width="11.61" height="8.59" fill="#deeaf6"/>
<rect x="314.13" y="475.69" width="11.61" height="8.59" fill="#f4f6fb"/>
<rect x="325.43" y="475.69" width="11.61" height="8.59" fill="#c9dff1"/>
<rect x="336.74" y="475.69" width="11.61" height="8.59" fill="#86b8e1"/>
<rect x="348.05" y="475.69" width="11.61" height="8.59" fill="#3c88cd"/>
<rect x="359.35" y="475.69" width="11.61" height="8.59" fill="#6fa9db"/>
<rect x="370.66" y="475.69" width="11.61" height="8.59" fill="#eb9290"/>
<rect x="381.97" y="475.69" width="11.61" height="8.59" fill="#eb9290"/>
<rect x="393.27" y="475.69" width="11.61" height="8.59" fill="#c2141b"/>
<rect x="404.58" y="475.69" width="11.61" height="8.59" fill="#f4f6fb"/>
<rect x="415.89" y="475.69" width="11.61" height="8.59" fill="#deeaf6"/>
<rect x="427.19" y="475.69" width="11.61" height="8.59" fill="#deeaf6"/>
<rect x="438.50" y="475.69" width="11.61" height="8.59" fill="#f8d4d0"/>
<rect x="449.81" y="475.69" width="11.61" height="8.59" fill="#e47070"/>
<rect x="461.11" y="475.69" width="11.61" height="8.59" fill="#dc4f50"/>
<rect x="268.90" y="483.98" width="11.61" height="8.59" fill="#0e5fb8"/>
<rect x="280.21" y="483.98" width="11.61" height="8.59" fill="#0e5fb8"/>
<rect x="291.51" y="483.98" width="11.61" height="8.59" fill="#0e5fb8"/>
<rect x="302.82" y="483.98" width="11.61" height="8.59" fill="#fbe4e1"/>
<rect x="314.13" y="483.98" width="11.61" height="8.59" fill="#f8edee"/>
<rect x="325.43" y="483.98" width="11.61" height="8.59" fill="#fbe4e1"/>
<rect x="336.74" y="483.98" width="11.61" height="8.59" fill="#5698d4"/>
<rect x="348.05" y="483.98" width="11.61" height="8.59" fill="#6fa9db"/>
<rect x="359.35" y="483.98" width="11.61" height="8.59" fill="#6fa9db"/>
<rect x="370.66" y="483.98" width="11.61" height="8.59" fill="#c2141b"/>
<rect x="381.97" y="483.98" width="11.61" height="8.59" fill="#c2141b"/>
<rect x="393.27" y="483.98" width="11.61" height="8.59" fill="#c2141b"/>
<rect x="404.58" y="483.98" width="11.61" height="8.59" fill="#2574c2"/>
<rect x="415.89" y="483.98" width="11.61" height="8.59" fill="#2574c2"/>
<rect x="427.19" y="483.98" width="11.61" height="8.59" fill="#2574c2"/>
<rect x="438.50" y="483.98" width="11.61" height="8.59" fill="#c2141b"/>
<rect x="449.81" y="483.98" width="11.61" height="8.59" fill="#c2141b"/>
<rect x="461.11" y="483.98" width="11.61" height="8.59" fill="#c2141b"/>
<rect x="268.90" y="492.27" width="11.61" height="8.59" fill="#86b8e1"/>
<rect x="280.21" y="492.27" width="11.61" height="8.59" fill="#86b8e1"/>
<rect x="291.51" y="492.27" width="11.61" height="8.59" fill="#b4d2ec"/>
<rect x="302.82" y="492.27" width="11.61" height="8.59" fill="#fbe4e1"/>
<rect x="314.13" y="492.27" width="11.61" height="8.59" fill="#f6c3bf"/>
<rect x="325.43" y="492.27" width="11.61" height="8.59" fill="#c9dff1"/>
<rect x="336.74" y="492.27" width="11.61" height="8.59" fill="#86b8e1"/>
<rect x="348.05" y="492.27" width="11.61" height="8.59" fill="#3c88cd"/>
<rect x="359.35" y="492.27" width="11.61" height="8.59" fill="#6fa9db"/>
<rect x="370.66" y="492.27" width="11.61" height="8.59" fill="#eb9290"/>
<rect x="381.97" y="492.27" width="11.61" height="8.59" fill="#eb9290"/>
<rect x="393.27" y="492.27" width="11.61" height="8.59" fill="#cf3236"/>
<rect x="404.58" y="492.27" width="11.61" height="8.59" fill="#c9dff1"/>
<rect x="415.89" y="492.27" width="11.61" height="8.59" fill="#9ec6e7"/>
<rect x="427.19" y="492.27" width="11.61" height="8.59" fill="#9ec6e7"/>
<rect x="438.50" y="492.27" width="11.61" height="8.59" fill="#eb9290"/>
<rect x="449.81" y="492.27" width="11.61" height="8.59" fill="#c2141b"/>
<rect x="461.11" y="492.27" width="11.61" height="8.59" fill="#dc4f50"/>
<rect x="268.90" y="500.56" width="11.61" height="8.59" fill="#b4d2ec"/>
<rect x="280.21" y="500.56" width="11.61" height="8.59" fill="#86b8e1"/>
<rect x="291.51" y="500.56" width="11.61" height="8.59" fill="#9ec6e7"/>
<rect x="302.82" y="500.56" width="11.61" height="8.59" fill="#fbe4e1"/>
<rect x="314.13" y="500.56" width="11.61" height="8.59" fill="#f4f6fb"/>
<rect x="325.43" y="500.56" width="11.61" height="8.59" fill="#deeaf6"/>
<rect x="336.74" y="500.56" width="11.61" height="8.59" fill="#9ec6e7"/>
<rect x="348.05" y="500.56" width="11.61" height="8.59" fill="#86b8e1"/>
<rect x="359.35" y="500.56" width="11.61" height="8.59" fill="#6fa9db"/>
<rect x="370.66" y="500.56" width="11.61" height="8.59" fill="#dc4f50"/>
<rect x="381.97" y="500.56" width="11.61" height="8.59" fill="#dc4f50"/>
<rect x="393.27" y="500.56" width="11.61" height="8.59" fill="#dc4f50"/>
<rect x="404.58" y="500.56" width="11.61" height="8.59" fill="#6fa9db"/>
<rect x="415.89" y="500.56" width="11.61" height="8.59" fill="#86b8e1"/>
<rect x="427.19" y="500.56" width="11.61" height="8.59" fill="#9ec6e7"/>
<rect x="438.50" y="500.56" width="11.61" height="8.59" fill="#dc4f50"/>
<rect x="449.81" y="500.56" width="11.61" height="8.59" fill="#f0aaa8"/>
<rect x="461.11" y="500.56" width="11.61" height="8.59" fill="#eb9290"/>
<rect x="268.90" y="508.85" width="11.61" height="8.59" fill="#9ec6e7"/>
<rect x="280.21" y="508.85" width="11.61" height="8.59" fill="#86b8e1"/>
<rect x="291.51" y="508.85" width="11.61" height="8.59" fill="#6fa9db"/>
<rect x="302.82" y="508.85" width="11.61" height="8.59" fill="#f8d4d0"/>
<rect x="314.13" y="508.85" width="11.61" height="8.59" fill="#f4f6fb"/>
<rect x="325.43" y="508.85" width="11.61" height="8.59" fill="#deeaf6"/>
<rect x="336.74" y="508.85" width="11.61" height="8.59" fill="#f4f6fb"/>
<rect x="348.05" y="508.85" width="11.61" height="8.59" fill="#86b8e1"/>
<rect x="359.35" y="508.85" width="11.61" height="8.59" fill="#b4d2ec"/>
<rect x="370.66" y="508.85" width="11.61" height="8.59" fill="#cf3236"/>
<rect x="381.97" y="508.85" width="11.61" height="8.59" fill="#dc4f50"/>
<rect x="393.27" y="508.85" width="11.61" height="8.59" fill="#c2141b"/>
<rect x="404.58" y="508.85" width="11.61" height="8.59" fill="#6fa9db"/>
<rect x="415.89" y="508.85" width="11.61" height="8.59" fill="#3c88cd"/>
<rect x="427.19" y="508.85" width="11.61" height="8.59" fill="#5698d4"/>
<rect x="438.50" y="508.85" width="11.61" height="8.59" fill="#eb9290"/>
<rect x="449.81" y="508.85" width="11.61" height="8.59" fill="#dc4f50"/>
<rect x="461.11" y="508.85" width="11.61" height="8.59" fill="#eb9290"/>
<rect x="268.90" y="517.14" width="11.61" height="8.59" fill="#deeaf6"/>
<rect x="280.21" y="517.14" width="11.61" height="8.59" fill="#b4d2ec"/>
<rect x="291.51" y="517.14" width="11.61" height="8.59" fill="#b4d2ec"/>
<rect x="302.82" y="517.14" width="11.61" height="8.59" fill="#f0aaa8"/>
<rect x="314.13" y="517.14" width="11.61" height="8.59" fill="#f6c3bf"/>
<rect x="325.43" y="517.14" width="11.61" height="8.59" fill="#f6c3bf"/>
<rect x="336.74" y="517.14" width="11.61" height="8.59" fill="#6fa9db"/>
<rect x="348.05" y="517.14" width="11.61" height="8.59" fill="#6fa9db"/>
<rect x="359.35" y="517.14" width="11.61" height="8.59" fill="#9ec6e7"/>
<rect x="370.66" y="517.14" width="11.61" height="8.59" fill="#dc4f50"/>
<rect x="381.97" y="517.14" width="11.61" height="8.59" fill="#cf3236"/>
<rect x="393.27" y="517.14" width="11.61" height="8.59" fill="#eb9290"/>
<rect x="404.58" y="517.14" width="11.61" height="8.59" fill="#5698d4"/>
<rect x="415.89" y="517.14" width="11.61" height="8.59" fill="#86b8e1"/>
<rect x="427.19" y="517.14" width="11.61" height="8.59" fill="#9ec6e7"/>
<rect x="438.50" y="517.14" width="11.61" height="8.59" fill="#e47070"/>
<rect x="449.81" y="517.14" width="11.61" height="8.59" fill="#fbe4e1"/>
<rect x="461.11" y="517.14" width="11.61" height="8.59" fill="#f8d4d0"/>
<rect x="268.90" y="525.43" width="11.61" height="8.59" fill="#c9dff1"/>
<rect x="280.21" y="525.43" width="11.61" height="8.59" fill="#c9dff1"/>
<rect x="291.51" y="525.43" width="11.61" height="8.59" fill="#f4f6fb"/>
<rect x="302.82" y="525.43" width="11.61" height="8.59" fill="#f4f6fb"/>
<rect x="314.13" y="525.43" width="11.61" height="8.59" fill="#f4f6fb"/>
<rect x="325.43" y="525.43" width="11.61" height="8.59" fill="#f4f6fb"/>
<rect x="336.74" y="525.43" width="11.61" height="8.59" fill="#9ec6e7"/>
<rect x="348.05" y="525.43" width="11.61" height="8.59" fill="#9ec6e7"/>
<rect x="359.35" y="525.43" width="11.61" height="8.59" fill="#9ec6e7"/>
<rect x="370.66" y="525.43" width="11.61" height="8.59" fill="#f6c3bf"/>
<rect x="381.97" y="525.43" width="11.61" height="8.59" fill="#f6c3bf"/>
<rect x="393.27" y="525.43" width="11.61" height="8.59" fill="#e47070"/>
<rect x="404.58" y="525.43" width="11.61" height="8.59" fill="#b4d2ec"/>
<rect x="415.89" y="525.43" width="11.61" height="8.59" fill="#9ec6e7"/>
<rect x="427.19" y="525.43" width="11.61" height="8.59" fill="#9ec6e7"/>
<rect x="438.50" y="525.43" width="11.61" height="8.59" fill="#f6c3bf"/>
<rect x="449.81" y="525.43" width="11.61" height="8.59" fill="#eb9290"/>
<rect x="461.11" y="525.43" width="11.61" height="8.59" fill="#eb9290"/>
<rect x="268.90" y="533.72" width="11.61" height="8.59" fill="#86b8e1"/>
<rect x="280.21" y="533.72" width="11.61" height="8.59" fill="#0e5fb8"/>
<rect x="291.51" y="533.72" width="11.61" height="8.59" fill="#6fa9db"/>
<rect x="302.82" y="533.72" width="11.61" height="8.59" fill="#f6c3bf"/>
<rect x="314.13" y="533.72" width="11.61" height="8.59" fill="#f8edee"/>
<rect x="325.43" y="533.72" width="11.61" height="8.59" fill="#f0aaa8"/>
<rect x="336.74" y="533.72" width="11.61" height="8.59" fill="#86b8e1"/>
<rect x="348.05" y="533.72" width="11.61" height="8.59" fill="#6fa9db"/>
<rect x="359.35" y="533.72" width="11.61" height="8.59" fill="#86b8e1"/>
<rect x="370.66" y="533.72" width="11.61" height="8.59" fill="#c2141b"/>
<rect x="381.97" y="533.72" width="11.61" height="8.59" fill="#c2141b"/>
<rect x="393.27" y="533.72" width="11.61" height="8.59" fill="#dc4f50"/>
<rect x="404.58" y="533.72" width="11.61" height="8.59" fill="#2574c2"/>
<rect x="415.89" y="533.72" width="11.61" height="8.59" fill="#86b8e1"/>
<rect x="427.19" y="533.72" width="11.61" height="8.59" fill="#9ec6e7"/>
<rect x="438.50" y="533.72" width="11.61" height="8.59" fill="#cf3236"/>
<rect x="449.81" y="533.72" width="11.61" height="8.59" fill="#f8d4d0"/>
<rect x="461.11" y="533.72" width="11.61" height="8.59" fill="#e47070"/>
<rect x="268.90" y="542.01" width="11.61" height="8.59" fill="#6fa9db"/>
<rect x="280.21" y="542.01" width="11.61" height="8.59" fill="#86b8e1"/>
<rect x="291.51" y="542.01" width="11.61" height="8.59" fill="#86b8e1"/>
<rect x="302.82" y="542.01" width="11.61" height="8.59" fill="#deeaf6"/>
<rect x="314.13" y="542.01" width="11.61" height="8.59" fill="#f8edee"/>
<rect x="325.43" y="542.01" width="11.61" height="8.59" fill="#f8edee"/>
<rect x="336.74" y="542.01" width="11.61" height="8.59" fill="#9ec6e7"/>
<rect x="348.05" y="542.01" width="11.61" height="8.59" fill="#86b8e1"/>
<rect x="359.35" y="542.01" width="11.61" height="8.59" fill="#5698d4"/>
<rect x="370.66" y="542.01" width="11.61" height="8.59" fill="#e47070"/>
<rect x="381.97" y="542.01" width="11.61" height="8.59" fill="#f0aaa8"/>
<rect x="393.27" y="542.01" width="11.61" height="8.59" fill="#e47070"/>
<rect x="404.58" y="542.01" width="11.61" height="8.59" fill="#b4d2ec"/>
<rect x="415.89" y="542.01" width="11.61" height="8.59" fill="#9ec6e7"/>
<rect x="427.19" y="542.01" width="11.61" height="8.59" fill="#b4d2ec"/>
<rect x="438.50" y="542.01" width="11.61" height="8.59" fill="#e47070"/>
<rect x="449.81" y="542.01" width="11.61" height="8.59" fill="#cf3236"/>
<rect x="461.11" y="542.01" width="11.61" height="8.59" fill="#cf3236"/>
<rect x="268.90" y="550.30" width="11.61" height="8.59" fill="#6fa9db"/>
<rect x="280.21" y="550.30" width="11.61" height="8.59" fill="#b4d2ec"/>
<rect x="291.51" y="550.30" width="11.61" height="8.59" fill="#9ec6e7"/>
<rect x="302.82" y="550.30" width="11.61" height="8.59" fill="#f8edee"/>
<rect x="314.13" y="550.30" width="11.61" height="8.59" fill="#f8edee"/>
<rect x="325.43" y="550.30" width="11.61" height="8.59" fill="#deeaf6"/>
<rect x="336.74" y="550.30" width="11.61" height="8.59" fill="#deeaf6"/>
<rect x="348.05" y="550.30" width="11.61" height="8.59" fill="#86b8e1"/>
<rect x="359.35" y="550.30" width="11.61" height="8.59" fill="#86b8e1"/>
<rect x="370.66" y="550.30" width="11.61" height="8.59" fill="#f0aaa8"/>
<rect x="381.97" y="550.30" width="11.61" height="8.59" fill="#f6c3bf"/>
<rect x="393.27" y="550.30" width="11.61" height="8.59" fill="#e47070"/>
<rect x="404.58" y="550.30" width="11.61" height="8.59" fill="#b4d2ec"/>
<rect x="415.89" y="550.30" width="11.61" height="8.59" fill="#b4d2ec"/>
<rect x="427.19" y="550.30" width="11.61" height="8.59" fill="#9ec6e7"/>
<rect x="438.50" y="550.30" width="11.61" height="8.59" fill="#eb9290"/>
<rect x="449.81" y="550.30" width="11.61" height="8.59" fill="#cf3236"/>
<rect x="461.11" y="550.30" width="11.61" height="8.59" fill="#dc4f50"/>
<rect x="268.90" y="558.59" width="11.61" height="8.59" fill="#b4d2ec"/>
<rect x="280.21" y="558.59" width="11.61" height="8.59" fill="#c9dff1"/>
<rect x="291.51" y="558.59" width="11.61" height="8.59" fill="#b4d2ec"/>
<rect x="302.82" y="558.59" width="11.61" height="8.59" fill="#f6c3bf"/>
<rect x="314.13" y="558.59" width="11.61" height="8.59" fill="#f8d4d0"/>
<rect x="325.43" y="558.59" width="11.61" height="8.59" fill="#f6c3bf"/>
<rect x="336.74" y="558.59" width="11.61" height="8.59" fill="#86b8e1"/>
<rect x="348.05" y="558.59" width="11.61" height="8.59" fill="#6fa9db"/>
<rect x="359.35" y="558.59" width="11.61" height="8.59" fill="#6fa9db"/>
<rect x="370.66" y="558.59" width="11.61" height="8.59" fill="#eb9290"/>
<rect x="381.97" y="558.59" width="11.61" height="8.59" fill="#eb9290"/>
<rect x="393.27" y="558.59" width="11.61" height="8.59" fill="#eb9290"/>
<rect x="404.58" y="558.59" width="11.61" height="8.59" fill="#b4d2ec"/>
<rect x="415.89" y="558.59" width="11.61" height="8.59" fill="#c9dff1"/>
<rect x="427.19" y="558.59" width="11.61" height="8.59" fill="#c9dff1"/>
<rect x="438.50" y="558.59" width="11.61" height="8.59" fill="#eb9290"/>
<rect x="449.81" y="558.59" width="11.61" height="8.59" fill="#f6c3bf"/>
<rect x="461.11" y="558.59" width="11.61" height="8.59" fill="#f6c3bf"/>
<rect x="268.90" y="566.88" width="11.61" height="8.59" fill="#9ec6e7"/>
<rect x="280.21" y="566.88" width="11.61" height="8.59" fill="#b4d2ec"/>
<rect x="291.51" y="566.88" width="11.61" height="8.59" fill="#b4d2ec"/>
<rect x="302.82" y="566.88" width="11.61" height="8.59" fill="#deeaf6"/>
<rect x="314.13" y="566.88" width="11.61" height="8.59" fill="#f4f6fb"/>
<rect x="325.43" y="566.88" width="11.61" height="8.59" fill="#c9dff1"/>
<rect x="336.74" y="566.88" width="11.61" height="8.59" fill="#c9dff1"/>
<rect x="348.05" y="566.88" width="11.61" height="8.59" fill="#9ec6e7"/>
<rect x="359.35" y="566.88" width="11.61" height="8.59" fill="#9ec6e7"/>
<rect x="370.66" y="566.88" width="11.61" height="8.59" fill="#eb9290"/>
<rect x="381.97" y="566.88" width="11.61" height="8.59" fill="#eb9290"/>
<rect x="393.27" y="566.88" width="11.61" height="8.59" fill="#e47070"/>
<rect x="404.58" y="566.88" width="11.61" height="8.59" fill="#c9dff1"/>
<rect x="415.89" y="566.88" width="11.61" height="8.59" fill="#deeaf6"/>
<rect x="427.19" y="566.88" width="11.61" height="8.59" fill="#b4d2ec"/>
<rect x="438.50" y="566.88" width="11.61" height="8.59" fill="#f0aaa8"/>
<rect x="449.81" y="566.88" width="11.61" height="8.59" fill="#f6c3bf"/>
<rect x="461.11" y="566.88" width="11.61" height="8.59" fill="#eb9290"/>
<rect x="268.90" y="575.17" width="11.61" height="8.59" fill="#b4d2ec"/>
<rect x="280.21" y="575.17" width="11.61" height="8.59" fill="#9ec6e7"/>
<rect x="291.51" y="575.17" width="11.61" height="8.59" fill="#b4d2ec"/>
<rect x="302.82" y="575.17" width="11.61" height="8.59" fill="#f4f6fb"/>
<rect x="314.13" y="575.17" width="11.61" height="8.59" fill="#f8d4d0"/>
<rect x="325.43" y="575.17" width="11.61" height="8.59" fill="#f8edee"/>
<rect x="336.74" y="575.17" width="11.61" height="8.59" fill="#c9dff1"/>
<rect x="348.05" y="575.17" width="11.61" height="8.59" fill="#9ec6e7"/>
<rect x="359.35" y="575.17" width="11.61" height="8.59" fill="#9ec6e7"/>
<rect x="370.66" y="575.17" width="11.61" height="8.59" fill="#f6c3bf"/>
<rect x="381.97" y="575.17" width="11.61" height="8.59" fill="#fbe4e1"/>
<rect x="393.27" y="575.17" width="11.61" height="8.59" fill="#f0aaa8"/>
<rect x="404.58" y="575.17" width="11.61" height="8.59" fill="#b4d2ec"/>
<rect x="415.89" y="575.17" width="11.61" height="8.59" fill="#9ec6e7"/>
<rect x="427.19" y="575.17" width="11.61" height="8.59" fill="#b4d2ec"/>
<rect x="438.50" y="575.17" width="11.61" height="8.59" fill="#eb9290"/>
<rect x="449.81" y="575.17" width="11.61" height="8.59" fill="#dc4f50"/>
<rect x="461.11" y="575.17" width="11.61" height="8.59" fill="#e47070"/>
<rect x="268.90" y="583.46" width="11.61" height="8.59" fill="#6fa9db"/>
<rect x="280.21" y="583.46" width="11.61" height="8.59" fill="#0e5fb8"/>
<rect x="291.51" y="583.46" width="11.61" height="8.59" fill="#5698d4"/>
<rect x="302.82" y="583.46" width="11.61" height="8.59" fill="#f4f6fb"/>
<rect x="314.13" y="583.46" width="11.61" height="8.59" fill="#f8d4d0"/>
<rect x="325.43" y="583.46" width="11.61" height="8.59" fill="#deeaf6"/>
<rect x="336.74" y="583.46" width="11.61" height="8.59" fill="#9ec6e7"/>
<rect x="348.05" y="583.46" width="11.61" height="8.59" fill="#9ec6e7"/>
<rect x="359.35" y="583.46" width="11.61" height="8.59" fill="#6fa9db"/>
<rect x="370.66" y="583.46" width="11.61" height="8.59" fill="#c2141b"/>
<rect x="381.97" y="583.46" width="11.61" height="8.59" fill="#cf3236"/>
<rect x="393.27" y="583.46" width="11.61" height="8.59" fill="#dc4f50"/>
<rect x="404.58" y="583.46" width="11.61" height="8.59" fill="#5698d4"/>
<rect x="415.89" y="583.46" width="11.61" height="8.59" fill="#9ec6e7"/>
<rect x="427.19" y="583.46" width="11.61" height="8.59" fill="#c9dff1"/>
<rect x="438.50" y="583.46" width="11.61" height="8.59" fill="#cf3236"/>
<rect x="449.81" y="583.46" width="11.61" height="8.59" fill="#e47070"/>
<rect x="461.11" y="583.46" width="11.61" height="8.59" fill="#e47070"/>
<rect x="268.90" y="591.75" width="11.61" height="8.59" fill="#deeaf6"/>
<rect x="280.21" y="591.75" width="11.61" height="8.59" fill="#deeaf6"/>
<rect x="291.51" y="591.75" width="11.61" height="8.59" fill="#9ec6e7"/>
<rect x="302.82" y="591.75" width="11.61" height="8.59" fill="#f0aaa8"/>
<rect x="314.13" y="591.75" width="11.61" height="8.59" fill="#f4f6fb"/>
<rect x="325.43" y="591.75" width="11.61" height="8.59" fill="#f8d4d0"/>
<rect x="336.74" y="591.75" width="11.61" height="8.59" fill="#86b8e1"/>
<rect x="348.05" y="591.75" width="11.61" height="8.59" fill="#9ec6e7"/>
<rect x="359.35" y="591.75" width="11.61" height="8.59" fill="#c9dff1"/>
<rect x="370.66" y="591.75" width="11.61" height="8.59" fill="#e47070"/>
<rect x="381.97" y="591.75" width="11.61" height="8.59" fill="#dc4f50"/>
<rect x="393.27" y="591.75" width="11.61" height="8.59" fill="#f6c3bf"/>
<rect x="404.58" y="591.75" width="11.61" height="8.59" fill="#86b8e1"/>
<rect x="415.89" y="591.75" width="11.61" height="8.59" fill="#b4d2ec"/>
<rect x="427.19" y="591.75" width="11.61" height="8.59" fill="#86b8e1"/>
<rect x="438.50" y="591.75" width="11.61" height="8.59" fill="#e47070"/>
<rect x="449.81" y="591.75" width="11.61" height="8.59" fill="#f8edee"/>
<rect x="461.11" y="591.75" width="11.61" height="8.59" fill="#fbe4e1"/>
<rect x="268.90" y="600.04" width="11.61" height="8.59" fill="#6fa9db"/>
<rect x="280.21" y="600.04" width="11.61" height="8.59" fill="#6fa9db"/>
<rect x="291.51" y="600.04" width="11.61" height="8.59" fill="#9ec6e7"/>
<rect x="302.82" y="600.04" width="11.61" height="8.59" fill="#f6c3bf"/>
<rect x="314.13" y="600.04" width="11.61" height="8.59" fill="#deeaf6"/>
<rect x="325.43" y="600.04" width="11.61" height="8.59" fill="#b4d2ec"/>
<rect x="336.74" y="600.04" width="11.61" height="8.59" fill="#9ec6e7"/>
<rect x="348.05" y="600.04" width="11.61" height="8.59" fill="#6fa9db"/>
<rect x="359.35" y="600.04" width="11.61" height="8.59" fill="#9ec6e7"/>
<rect x="370.66" y="600.04" width="11.61" height="8.59" fill="#e47070"/>
<rect x="381.97" y="600.04" width="11.61" height="8.59" fill="#e47070"/>
<rect x="393.27" y="600.04" width="11.61" height="8.59" fill="#e47070"/>
<rect x="404.58" y="600.04" width="11.61" height="8.59" fill="#f4f6fb"/>
<rect x="415.89" y="600.04" width="11.61" height="8.59" fill="#deeaf6"/>
<rect x="427.19" y="600.04" width="11.61" height="8.59" fill="#deeaf6"/>
<rect x="438.50" y="600.04" width="11.61" height="8.59" fill="#f0aaa8"/>
<rect x="449.81" y="600.04" width="11.61" height="8.59" fill="#eb9290"/>
<rect x="461.11" y="600.04" width="11.61" height="8.59" fill="#e47070"/>
<rect x="268.90" y="608.33" width="11.61" height="8.59" fill="#c9dff1"/>
<rect x="280.21" y="608.33" width="11.61" height="8.59" fill="#c9dff1"/>
<rect x="291.51" y="608.33" width="11.61" height="8.59" fill="#b4d2ec"/>
<rect x="302.82" y="608.33" width="11.61" height="8.59" fill="#f4f6fb"/>
<rect x="314.13" y="608.33" width="11.61" height="8.59" fill="#f8d4d0"/>
<rect x="325.43" y="608.33" width="11.61" height="8.59" fill="#f6c3bf"/>
<rect x="336.74" y="608.33" width="11.61" height="8.59" fill="#b4d2ec"/>
<rect x="348.05" y="608.33" width="11.61" height="8.59" fill="#9ec6e7"/>
<rect x="359.35" y="608.33" width="11.61" height="8.59" fill="#b4d2ec"/>
<rect x="370.66" y="608.33" width="11.61" height="8.59" fill="#f0aaa8"/>
<rect x="381.97" y="608.33" width="11.61" height="8.59" fill="#f0aaa8"/>
<rect x="393.27" y="608.33" width="11.61" height="8.59" fill="#eb9290"/>
<rect x="404.58" y="608.33" width="11.61" height="8.59" fill="#86b8e1"/>
<rect x="415.89" y="608.33" width="11.61" height="8.59" fill="#86b8e1"/>
<rect x="427.19" y="608.33" width="11.61" height="8.59" fill="#b4d2ec"/>
<rect x="438.50" y="608.33" width="11.61" height="8.59" fill="#f0aaa8"/>
<rect x="449.81" y="608.33" width="11.61" height="8.59" fill="#f0aaa8"/>
<rect x="461.11" y="608.33" width="11.61" height="8.59" fill="#f0aaa8"/>
<rect x="268.90" y="616.62" width="11.61" height="8.59" fill="#f4f6fb"/>
<rect x="280.21" y="616.62" width="11.61" height="8.59" fill="#b4d2ec"/>
<rect x="291.51" y="616.62" width="11.61" height="8.59" fill="#deeaf6"/>
<rect x="302.82" y="616.62" width="11.61" height="8.59" fill="#f6c3bf"/>
<rect x="314.13" y="616.62" width="11.61" height="8.59" fill="#f6c3bf"/>
<rect x="325.43" y="616.62" width="11.61" height="8.59" fill="#f8d4d0"/>
<rect x="336.74" y="616.62" width="11.61" height="8.59" fill="#c9dff1"/>
<rect x="348.05" y="616.62" width="11.61" height="8.59" fill="#b4d2ec"/>
<rect x="359.35" y="616.62" width="11.61" height="8.59" fill="#b4d2ec"/>
<rect x="370.66" y="616.62" width="11.61" height="8.59" fill="#e47070"/>
<rect x="381.97" y="616.62" width="11.61" height="8.59" fill="#e47070"/>
<rect x="393.27" y="616.62" width="11.61" height="8.59" fill="#eb9290"/>
<rect x="404.58" y="616.62" width="11.61" height="8.59" fill="#6fa9db"/>
<rect x="415.89" y="616.62" width="11.61" height="8.59" fill="#9ec6e7"/>
<rect x="427.19" y="616.62" width="11.61" height="8.59" fill="#b4d2ec"/>
<rect x="438.50" y="616.62" width="11.61" height="8.59" fill="#f4f6fb"/>
<rect x="449.81" y="616.62" width="11.61" height="8.59" fill="#c9dff1"/>
<rect x="461.11" y="616.62" width="11.61" height="8.59" fill="#f4f6fb"/>
<rect x="268.90" y="624.91" width="11.61" height="8.59" fill="#b4d2ec"/>
<rect x="280.21" y="624.91" width="11.61" height="8.59" fill="#9ec6e7"/>
<rect x="291.51" y="624.91" width="11.61" height="8.59" fill="#9ec6e7"/>
<rect x="302.82" y="624.91" width="11.61" height="8.59" fill="#f4f6fb"/>
<rect x="314.13" y="624.91" width="11.61" height="8.59" fill="#fbe4e1"/>
<rect x="325.43" y="624.91" width="11.61" height="8.59" fill="#f4f6fb"/>
<rect x="336.74" y="624.91" width="11.61" height="8.59" fill="#86b8e1"/>
<rect x="348.05" y="624.91" width="11.61" height="8.59" fill="#5698d4"/>
<rect x="359.35" y="624.91" width="11.61" height="8.59" fill="#6fa9db"/>
<rect x="370.66" y="624.91" width="11.61" height="8.59" fill="#f8d4d0"/>
<rect x="381.97" y="624.91" width="11.61" height="8.59" fill="#f8d4d0"/>
<rect x="393.27" y="624.91" width="11.61" height="8.59" fill="#f6c3bf"/>
<rect x="404.58" y="624.91" width="11.61" height="8.59" fill="#f8edee"/>
<rect x="415.89" y="624.91" width="11.61" height="8.59" fill="#fbe4e1"/>
<rect x="427.19" y="624.91" width="11.61" height="8.59" fill="#f8edee"/>
<rect x="438.50" y="624.91" width="11.61" height="8.59" fill="#f0aaa8"/>
<rect x="449.81" y="624.91" width="11.61" height="8.59" fill="#e47070"/>
<rect x="461.11" y="624.91" width="11.61" height="8.59" fill="#e47070"/>
<rect x="268.90" y="633.20" width="11.61" height="8.59" fill="#9ec6e7"/>
<rect x="280.21" y="633.20" width="11.61" height="8.59" fill="#b4d2ec"/>
<rect x="291.51" y="633.20" width="11.61" height="8.59" fill="#86b8e1"/>
<rect x="302.82" y="633.20" width="11.61" height="8.59" fill="#c9dff1"/>
<rect x="314.13" y="633.20" width="11.61" height="8.59" fill="#f8edee"/>
<rect x="325.43" y="633.20" width="11.61" height="8.59" fill="#f4f6fb"/>
<rect x="336.74" y="633.20" width="11.61" height="8.59" fill="#f4f6fb"/>
<rect x="348.05" y="633.20" width="11.61" height="8.59" fill="#f8edee"/>
<rect x="359.35" y="633.20" width="11.61" height="8.59" fill="#86b8e1"/>
<rect x="370.66" y="633.20" width="11.61" height="8.59" fill="#eb9290"/>
<rect x="381.97" y="633.20" width="11.61" height="8.59" fill="#f0aaa8"/>
<rect x="393.27" y="633.20" width="11.61" height="8.59" fill="#dc4f50"/>
<rect x="404.58" y="633.20" width="11.61" height="8.59" fill="#c9dff1"/>
<rect x="415.89" y="633.20" width="11.61" height="8.59" fill="#b4d2ec"/>
<rect x="427.19" y="633.20" width="11.61" height="8.59" fill="#b4d2ec"/>
<rect x="438.50" y="633.20" width="11.61" height="8.59" fill="#fbe4e1"/>
<rect x="449.81" y="633.20" width="11.61" height="8.59" fill="#eb9290"/>
<rect x="461.11" y="633.20" width="11.61" height="8.59" fill="#f0aaa8"/>
<rect x="268.90" y="641.49" width="11.61" height="8.59" fill="#9ec6e7"/>
<rect x="280.21" y="641.49" width="11.61" height="8.59" fill="#5698d4"/>
<rect x="291.51" y="641.49" width="11.61" height="8.59" fill="#86b8e1"/>
<rect x="302.82" y="641.49" width="11.61" height="8.59" fill="#f4f6fb"/>
<rect x="314.13" y="641.49" width="11.61" height="8.59" fill="#f8edee"/>
<rect x="325.43" y="641.49" width="11.61" height="8.59" fill="#f4f6fb"/>
<rect x="336.74" y="641.49" width="11.61" height="8.59" fill="#f4f6fb"/>
<rect x="348.05" y="641.49" width="11.61" height="8.59" fill="#f0aaa8"/>
<rect x="359.35" y="641.49" width="11.61" height="8.59" fill="#f4f6fb"/>
<rect x="370.66" y="641.49" width="11.61" height="8.59" fill="#e47070"/>
<rect x="381.97" y="641.49" width="11.61" height="8.59" fill="#eb9290"/>
<rect x="393.27" y="641.49" width="11.61" height="8.59" fill="#dc4f50"/>
<rect x="404.58" y="641.49" width="11.61" height="8.59" fill="#6fa9db"/>
<rect x="415.89" y="641.49" width="11.61" height="8.59" fill="#6fa9db"/>
<rect x="427.19" y="641.49" width="11.61" height="8.59" fill="#9ec6e7"/>
<rect x="438.50" y="641.49" width="11.61" height="8.59" fill="#f0aaa8"/>
<rect x="449.81" y="641.49" width="11.61" height="8.59" fill="#f0aaa8"/>
<rect x="461.11" y="641.49" width="11.61" height="8.59" fill="#f0aaa8"/>
<rect x="268.90" y="649.78" width="11.61" height="8.59" fill="#deeaf6"/>
<rect x="280.21" y="649.78" width="11.61" height="8.59" fill="#b4d2ec"/>
<rect x="291.51" y="649.78" width="11.61" height="8.59" fill="#deeaf6"/>
<rect x="302.82" y="649.78" width="11.61" height="8.59" fill="#f4f6fb"/>
<rect x="314.13" y="649.78" width="11.61" height="8.59" fill="#fbe4e1"/>
<rect x="325.43" y="649.78" width="11.61" height="8.59" fill="#f4f6fb"/>
<rect x="336.74" y="649.78" width="11.61" height="8.59" fill="#b4d2ec"/>
<rect x="348.05" y="649.78" width="11.61" height="8.59" fill="#b4d2ec"/>
<rect x="359.35" y="649.78" width="11.61" height="8.59" fill="#deeaf6"/>
<rect x="370.66" y="649.78" width="11.61" height="8.59" fill="#f4f6fb"/>
<rect x="381.97" y="649.78" width="11.61" height="8.59" fill="#f0aaa8"/>
<rect x="393.27" y="649.78" width="11.61" height="8.59" fill="#f8edee"/>
<rect x="404.58" y="649.78" width="11.61" height="8.59" fill="#b4d2ec"/>
<rect x="415.89" y="649.78" width="11.61" height="8.59" fill="#b4d2ec"/>
<rect x="427.19" y="649.78" width="11.61" height="8.59" fill="#b4d2ec"/>
<rect x="438.50" y="649.78" width="11.61" height="8.59" fill="#f0aaa8"/>
<rect x="449.81" y="649.78" width="11.61" height="8.59" fill="#f0aaa8"/>
<rect x="461.11" y="649.78" width="11.61" height="8.59" fill="#f0aaa8"/>
<rect x="268.90" y="658.07" width="11.61" height="8.59" fill="#9ec6e7"/>
<rect x="280.21" y="658.07" width="11.61" height="8.59" fill="#b4d2ec"/>
<rect x="291.51" y="658.07" width="11.61" height="8.59" fill="#9ec6e7"/>
<rect x="302.82" y="658.07" width="11.61" height="8.59" fill="#deeaf6"/>
<rect x="314.13" y="658.07" width="11.61" height="8.59" fill="#fbe4e1"/>
<rect x="325.43" y="658.07" width="11.61" height="8.59" fill="#f4f6fb"/>
<rect x="336.74" y="658.07" width="11.61" height="8.59" fill="#c9dff1"/>
<rect x="348.05" y="658.07" width="11.61" height="8.59" fill="#c9dff1"/>
<rect x="359.35" y="658.07" width="11.61" height="8.59" fill="#9ec6e7"/>
<rect x="370.66" y="658.07" width="11.61" height="8.59" fill="#f0aaa8"/>
<rect x="381.97" y="658.07" width="11.61" height="8.59" fill="#f6c3bf"/>
<rect x="393.27" y="658.07" width="11.61" height="8.59" fill="#e47070"/>
<rect x="404.58" y="658.07" width="11.61" height="8.59" fill="#deeaf6"/>
<rect x="415.89" y="658.07" width="11.61" height="8.59" fill="#b4d2ec"/>
<rect x="427.19" y="658.07" width="11.61" height="8.59" fill="#6fa9db"/>
<rect x="438.50" y="658.07" width="11.61" height="8.59" fill="#f6c3bf"/>
<rect x="449.81" y="658.07" width="11.61" height="8.59" fill="#eb9290"/>
<rect x="461.11" y="658.07" width="11.61" height="8.59" fill="#f0aaa8"/>
<rect x="268.90" y="666.36" width="11.61" height="8.59" fill="#86b8e1"/>
<rect x="280.21" y="666.36" width="11.61" height="8.59" fill="#b4d2ec"/>
<rect x="291.51" y="666.36" width="11.61" height="8.59" fill="#6fa9db"/>
<rect x="302.82" y="666.36" width="11.61" height="8.59" fill="#f4f6fb"/>
<rect x="314.13" y="666.36" width="11.61" height="8.59" fill="#f4f6fb"/>
<rect x="325.43" y="666.36" width="11.61" height="8.59" fill="#f4f6fb"/>
<rect x="336.74" y="666.36" width="11.61" height="8.59" fill="#deeaf6"/>
<rect x="348.05" y="666.36" width="11.61" height="8.59" fill="#deeaf6"/>
<rect x="359.35" y="666.36" width="11.61" height="8.59" fill="#c9dff1"/>
<rect x="370.66" y="666.36" width="11.61" height="8.59" fill="#dc4f50"/>
<rect x="381.97" y="666.36" width="11.61" height="8.59" fill="#e47070"/>
<rect x="393.27" y="666.36" width="11.61" height="8.59" fill="#e47070"/>
<rect x="404.58" y="666.36" width="11.61" height="8.59" fill="#b4d2ec"/>
<rect x="415.89" y="666.36" width="11.61" height="8.59" fill="#c9dff1"/>
<rect x="427.19" y="666.36" width="11.61" height="8.59" fill="#b4d2ec"/>
<rect x="438.50" y="666.36" width="11.61" height="8.59" fill="#f0aaa8"/>
<rect x="449.81" y="666.36" width="11.61" height="8.59" fill="#f0aaa8"/>
<rect x="461.11" y="666.36" width="11.61" height="8.59" fill="#f0aaa8"/>
<rect x="268.90" y="674.65" width="11.61" height="8.59" fill="#0e5fb8"/>
<rect x="280.21" y="674.65" width="11.61" height="8.59" fill="#0e5fb8"/>
<rect x="291.51" y="674.65" width="11.61" height="8.59" fill="#0e5fb8"/>
<rect x="302.82" y="674.65" width="11.61" height="8.59" fill="#eb9290"/>
<rect x="314.13" y="674.65" width="11.61" height="8.59" fill="#f0aaa8"/>
<rect x="325.43" y="674.65" width="11.61" height="8.59" fill="#eb9290"/>
<rect x="336.74" y="674.65" width="11.61" height="8.59" fill="#3c88cd"/>
<rect x="348.05" y="674.65" width="11.61" height="8.59" fill="#6fa9db"/>
<rect x="359.35" y="674.65" width="11.61" height="8.59" fill="#86b8e1"/>
<rect x="370.66" y="674.65" width="11.61" height="8.59" fill="#c2141b"/>
<rect x="381.97" y="674.65" width="11.61" height="8.59" fill="#c2141b"/>
<rect x="393.27" y="674.65" width="11.61" height="8.59" fill="#c2141b"/>
<rect x="404.58" y="674.65" width="11.61" height="8.59" fill="#0e5fb8"/>
<rect x="415.89" y="674.65" width="11.61" height="8.59" fill="#2574c2"/>
<rect x="427.19" y="674.65" width="11.61" height="8.59" fill="#2574c2"/>
<rect x="438.50" y="674.65" width="11.61" height="8.59" fill="#c2141b"/>
<rect x="449.81" y="674.65" width="11.61" height="8.59" fill="#cf3236"/>
<rect x="461.11" y="674.65" width="11.61" height="8.59" fill="#c2141b"/>
<rect x="268.90" y="682.94" width="11.61" height="8.59" fill="#3c88cd"/>
<rect x="280.21" y="682.94" width="11.61" height="8.59" fill="#5698d4"/>
<rect x="291.51" y="682.94" width="11.61" height="8.59" fill="#5698d4"/>
<rect x="302.82" y="682.94" width="11.61" height="8.59" fill="#f8d4d0"/>
<rect x="314.13" y="682.94" width="11.61" height="8.59" fill="#f6c3bf"/>
<rect x="325.43" y="682.94" width="11.61" height="8.59" fill="#f0aaa8"/>
<rect x="336.74" y="682.94" width="11.61" height="8.59" fill="#9ec6e7"/>
<rect x="348.05" y="682.94" width="11.61" height="8.59" fill="#9ec6e7"/>
<rect x="359.35" y="682.94" width="11.61" height="8.59" fill="#6fa9db"/>
<rect x="370.66" y="682.94" width="11.61" height="8.59" fill="#cf3236"/>
<rect x="381.97" y="682.94" width="11.61" height="8.59" fill="#dc4f50"/>
<rect x="393.27" y="682.94" width="11.61" height="8.59" fill="#c2141b"/>
<rect x="404.58" y="682.94" width="11.61" height="8.59" fill="#9ec6e7"/>
<rect x="415.89" y="682.94" width="11.61" height="8.59" fill="#5698d4"/>
<rect x="427.19" y="682.94" width="11.61" height="8.59" fill="#6fa9db"/>
<rect x="438.50" y="682.94" width="11.61" height="8.59" fill="#eb9290"/>
<rect x="449.81" y="682.94" width="11.61" height="8.59" fill="#dc4f50"/>
<rect x="461.11" y="682.94" width="11.61" height="8.59" fill="#e47070"/>
<rect x="268.90" y="691.23" width="11.61" height="8.59" fill="#c9dff1"/>
<rect x="280.21" y="691.23" width="11.61" height="8.59" fill="#b4d2ec"/>
<rect x="291.51" y="691.23" width="11.61" height="8.59" fill="#c9dff1"/>
<rect x="302.82" y="691.23" width="11.61" height="8.59" fill="#c9dff1"/>
<rect x="314.13" y="691.23" width="11.61" height="8.59" fill="#deeaf6"/>
<rect x="325.43" y="691.23" width="11.61" height="8.59" fill="#deeaf6"/>
<rect x="336.74" y="691.23" width="11.61" height="8.59" fill="#f8d4d0"/>
<rect x="348.05" y="691.23" width="11.61" height="8.59" fill="#f4f6fb"/>
<rect x="359.35" y="691.23" width="11.61" height="8.59" fill="#f4f6fb"/>
<rect x="370.66" y="691.23" width="11.61" height="8.59" fill="#f6c3bf"/>
<rect x="381.97" y="691.23" width="11.61" height="8.59" fill="#f8d4d0"/>
<rect x="393.27" y="691.23" width="11.61" height="8.59" fill="#f0aaa8"/>
<rect x="404.58" y="691.23" width="11.61" height="8.59" fill="#b4d2ec"/>
<rect x="415.89" y="691.23" width="11.61" height="8.59" fill="#c9dff1"/>
<rect x="427.19" y="691.23" width="11.61" height="8.59" fill="#c9dff1"/>
<rect x="438.50" y="691.23" width="11.61" height="8.59" fill="#f8d4d0"/>
<rect x="449.81" y="691.23" width="11.61" height="8.59" fill="#f0aaa8"/>
<rect x="461.11" y="691.23" width="11.61" height="8.59" fill="#f6c3bf"/>
<rect x="268.90" y="699.52" width="11.61" height="8.59" fill="#b4d2ec"/>
<rect x="280.21" y="699.52" width="11.61" height="8.59" fill="#b4d2ec"/>
<rect x="291.51" y="699.52" width="11.61" height="8.59" fill="#b4d2ec"/>
<rect x="302.82" y="699.52" width="11.61" height="8.59" fill="#deeaf6"/>
<rect x="314.13" y="699.52" width="11.61" height="8.59" fill="#f8edee"/>
<rect x="325.43" y="699.52" width="11.61" height="8.59" fill="#f4f6fb"/>
<rect x="336.74" y="699.52" width="11.61" height="8.59" fill="#deeaf6"/>
<rect x="348.05" y="699.52" width="11.61" height="8.59" fill="#c9dff1"/>
<rect x="359.35" y="699.52" width="11.61" height="8.59" fill="#b4d2ec"/>
<rect x="370.66" y="699.52" width="11.61" height="8.59" fill="#f0aaa8"/>
<rect x="381.97" y="699.52" width="11.61" height="8.59" fill="#f0aaa8"/>
<rect x="393.27" y="699.52" width="11.61" height="8.59" fill="#dc4f50"/>
<rect x="404.58" y="699.52" width="11.61" height="8.59" fill="#b4d2ec"/>
<rect x="415.89" y="699.52" width="11.61" height="8.59" fill="#b4d2ec"/>
<rect x="427.19" y="699.52" width="11.61" height="8.59" fill="#c9dff1"/>
<rect x="438.50" y="699.52" width="11.61" height="8.59" fill="#f8d4d0"/>
<rect x="449.81" y="699.52" width="11.61" height="8.59" fill="#eb9290"/>
<rect x="461.11" y="699.52" width="11.61" height="8.59" fill="#f0aaa8"/>
<rect x="268.90" y="707.81" width="11.61" height="8.59" fill="#6fa9db"/>
<rect x="280.21" y="707.81" width="11.61" height="8.59" fill="#9ec6e7"/>
<rect x="291.51" y="707.81" width="11.61" height="8.59" fill="#86b8e1"/>
<rect x="302.82" y="707.81" width="11.61" height="8.59" fill="#deeaf6"/>
<rect x="314.13" y="707.81" width="11.61" height="8.59" fill="#f4f6fb"/>
<rect x="325.43" y="707.81" width="11.61" height="8.59" fill="#c9dff1"/>
<rect x="336.74" y="707.81" width="11.61" height="8.59" fill="#deeaf6"/>
<rect x="348.05" y="707.81" width="11.61" height="8.59" fill="#c9dff1"/>
<rect x="359.35" y="707.81" width="11.61" height="8.59" fill="#c9dff1"/>
<rect x="370.66" y="707.81" width="11.61" height="8.59" fill="#eb9290"/>
<rect x="381.97" y="707.81" width="11.61" height="8.59" fill="#e47070"/>
<rect x="393.27" y="707.81" width="11.61" height="8.59" fill="#e47070"/>
<rect x="404.58" y="707.81" width="11.61" height="8.59" fill="#deeaf6"/>
<rect x="415.89" y="707.81" width="11.61" height="8.59" fill="#b4d2ec"/>
<rect x="427.19" y="707.81" width="11.61" height="8.59" fill="#86b8e1"/>
<rect x="438.50" y="707.81" width="11.61" height="8.59" fill="#f0aaa8"/>
<rect x="449.81" y="707.81" width="11.61" height="8.59" fill="#dc4f50"/>
<rect x="461.11" y="707.81" width="11.61" height="8.59" fill="#eb9290"/>
<rect x="268.90" y="716.10" width="11.61" height="8.59" fill="#86b8e1"/>
<rect x="280.21" y="716.10" width="11.61" height="8.59" fill="#2574c2"/>
<rect x="291.51" y="716.10" width="11.61" height="8.59" fill="#6fa9db"/>
<rect x="302.82" y="716.10" width="11.61" height="8.59" fill="#c9dff1"/>
<rect x="314.13" y="716.10" width="11.61" height="8.59" fill="#f4f6fb"/>
<rect x="325.43" y="716.10" width="11.61" height="8.59" fill="#b4d2ec"/>
<rect x="336.74" y="716.10" width="11.61" height="8.59" fill="#deeaf6"/>
<rect x="348.05" y="716.10" width="11.61" height="8.59" fill="#c9dff1"/>
<rect x="359.35" y="716.10" width="11.61" height="8.59" fill="#deeaf6"/>
<rect x="370.66" y="716.10" width="11.61" height="8.59" fill="#cf3236"/>
<rect x="381.97" y="716.10" width="11.61" height="8.59" fill="#cf3236"/>
<rect x="393.27" y="716.10" width="11.61" height="8.59" fill="#c2141b"/>
<rect x="404.58" y="716.10" width="11.61" height="8.59" fill="#c9dff1"/>
<rect x="415.89" y="716.10" width="11.61" height="8.59" fill="#deeaf6"/>
<rect x="427.19" y="716.10" width="11.61" height="8.59" fill="#b4d2ec"/>
<rect x="438.50" y="716.10" width="11.61" height="8.59" fill="#f0aaa8"/>
<rect x="449.81" y="716.10" width="11.61" height="8.59" fill="#e47070"/>
<rect x="461.11" y="716.10" width="11.61" height="8.59" fill="#eb9290"/>
<rect x="268.90" y="724.39" width="11.61" height="8.59" fill="#deeaf6"/>
<rect x="280.21" y="724.39" width="11.61" height="8.59" fill="#b4d2ec"/>
<rect x="291.51" y="724.39" width="11.61" height="8.59" fill="#c9dff1"/>
<rect x="302.82" y="724.39" width="11.61" height="8.59" fill="#fbe4e1"/>
<rect x="314.13" y="724.39" width="11.61" height="8.59" fill="#f8edee"/>
<rect x="325.43" y="724.39" width="11.61" height="8.59" fill="#f4f6fb"/>
<rect x="336.74" y="724.39" width="11.61" height="8.59" fill="#f4f6fb"/>
<rect x="348.05" y="724.39" width="11.61" height="8.59" fill="#deeaf6"/>
<rect x="359.35" y="724.39" width="11.61" height="8.59" fill="#f4f6fb"/>
<rect x="370.66" y="724.39" width="11.61" height="8.59" fill="#f4f6fb"/>
<rect x="381.97" y="724.39" width="11.61" height="8.59" fill="#f8edee"/>
<rect x="393.27" y="724.39" width="11.61" height="8.59" fill="#f6c3bf"/>
<rect x="404.58" y="724.39" width="11.61" height="8.59" fill="#b4d2ec"/>
<rect x="415.89" y="724.39" width="11.61" height="8.59" fill="#b4d2ec"/>
<rect x="427.19" y="724.39" width="11.61" height="8.59" fill="#b4d2ec"/>
<rect x="438.50" y="724.39" width="11.61" height="8.59" fill="#f6c3bf"/>
<rect x="449.81" y="724.39" width="11.61" height="8.59" fill="#e47070"/>
<rect x="461.11" y="724.39" width="11.61" height="8.59" fill="#eb9290"/>
<rect x="268.90" y="732.68" width="11.61" height="8.59" fill="#3c88cd"/>
<rect x="280.21" y="732.68" width="11.61" height="8.59" fill="#2574c2"/>
<rect x="291.51" y="732.68" width="11.61" height="8.59" fill="#3c88cd"/>
<rect x="302.82" y="732.68" width="11.61" height="8.59" fill="#86b8e1"/>
<rect x="314.13" y="732.68" width="11.61" height="8.59" fill="#86b8e1"/>
<rect x="325.43" y="732.68" width="11.61" height="8.59" fill="#5698d4"/>
<rect x="336.74" y="732.68" width="11.61" height="8.59" fill="#dc4f50"/>
<rect x="348.05" y="732.68" width="11.61" height="8.59" fill="#e47070"/>
<rect x="359.35" y="732.68" width="11.61" height="8.59" fill="#e47070"/>
<rect x="370.66" y="732.68" width="11.61" height="8.59" fill="#e47070"/>
<rect x="381.97" y="732.68" width="11.61" height="8.59" fill="#eb9290"/>
<rect x="393.27" y="732.68" width="11.61" height="8.59" fill="#dc4f50"/>
<rect x="404.58" y="732.68" width="11.61" height="8.59" fill="#c9dff1"/>
<rect x="415.89" y="732.68" width="11.61" height="8.59" fill="#c9dff1"/>
<rect x="427.19" y="732.68" width="11.61" height="8.59" fill="#c9dff1"/>
<rect x="438.50" y="732.68" width="11.61" height="8.59" fill="#f0aaa8"/>
<rect x="449.81" y="732.68" width="11.61" height="8.59" fill="#e47070"/>
<rect x="461.11" y="732.68" width="11.61" height="8.59" fill="#eb9290"/>
<rect x="268.90" y="740.97" width="11.61" height="8.59" fill="#9ec6e7"/>
<rect x="280.21" y="740.97" width="11.61" height="8.59" fill="#c9dff1"/>
<rect x="291.51" y="740.97" width="11.61" height="8.59" fill="#86b8e1"/>
<rect x="302.82" y="740.97" width="11.61" height="8.59" fill="#deeaf6"/>
<rect x="314.13" y="740.97" width="11.61" height="8.59" fill="#f4f6fb"/>
<rect x="325.43" y="740.97" width="11.61" height="8.59" fill="#f4f6fb"/>
<rect x="336.74" y="740.97" width="11.61" height="8.59" fill="#f8edee"/>
<rect x="348.05" y="740.97" width="11.61" height="8.59" fill="#f8edee"/>
<rect x="359.35" y="740.97" width="11.61" height="8.59" fill="#f6c3bf"/>
<rect x="370.66" y="740.97" width="11.61" height="8.59" fill="#e47070"/>
<rect x="381.97" y="740.97" width="11.61" height="8.59" fill="#e47070"/>
<rect x="393.27" y="740.97" width="11.61" height="8.59" fill="#eb9290"/>
<rect x="404.58" y="740.97" width="11.61" height="8.59" fill="#86b8e1"/>
<rect x="415.89" y="740.97" width="11.61" height="8.59" fill="#86b8e1"/>
<rect x="427.19" y="740.97" width="11.61" height="8.59" fill="#86b8e1"/>
<rect x="438.50" y="740.97" width="11.61" height="8.59" fill="#f6c3bf"/>
<rect x="449.81" y="740.97" width="11.61" height="8.59" fill="#f8d4d0"/>
<rect x="461.11" y="740.97" width="11.61" height="8.59" fill="#f4f6fb"/>
<rect x="268.90" y="749.26" width="11.61" height="8.59" fill="#9ec6e7"/>
<rect x="280.21" y="749.26" width="11.61" height="8.59" fill="#9ec6e7"/>
<rect x="291.51" y="749.26" width="11.61" height="8.59" fill="#9ec6e7"/>
<rect x="302.82" y="749.26" width="11.61" height="8.59" fill="#f4f6fb"/>
<rect x="314.13" y="749.26" width="11.61" height="8.59" fill="#fbe4e1"/>
<rect x="325.43" y="749.26" width="11.61" height="8.59" fill="#f8d4d0"/>
<rect x="336.74" y="749.26" width="11.61" height="8.59" fill="#b4d2ec"/>
<rect x="348.05" y="749.26" width="11.61" height="8.59" fill="#9ec6e7"/>
<rect x="359.35" y="749.26" width="11.61" height="8.59" fill="#9ec6e7"/>
<rect x="370.66" y="749.26" width="11.61" height="8.59" fill="#eb9290"/>
<rect x="381.97" y="749.26" width="11.61" height="8.59" fill="#eb9290"/>
<rect x="393.27" y="749.26" width="11.61" height="8.59" fill="#dc4f50"/>
<rect x="404.58" y="749.26" width="11.61" height="8.59" fill="#c9dff1"/>
<rect x="415.89" y="749.26" width="11.61" height="8.59" fill="#c9dff1"/>
<rect x="427.19" y="749.26" width="11.61" height="8.59" fill="#9ec6e7"/>
<rect x="438.50" y="749.26" width="11.61" height="8.59" fill="#f6c3bf"/>
<rect x="449.81" y="749.26" width="11.61" height="8.59" fill="#f6c3bf"/>
<rect x="461.11" y="749.26" width="11.61" height="8.59" fill="#f0aaa8"/>
<rect x="268.90" y="757.55" width="11.61" height="8.59" fill="#c9dff1"/>
<rect x="280.21" y="757.55" width="11.61" height="8.59" fill="#b4d2ec"/>
<rect x="291.51" y="757.55" width="11.61" height="8.59" fill="#b4d2ec"/>
<rect x="302.82" y="757.55" width="11.61" height="8.59" fill="#f4f6fb"/>
<rect x="314.13" y="757.55" width="11.61" height="8.59" fill="#fbe4e1"/>
<rect x="325.43" y="757.55" width="11.61" height="8.59" fill="#f4f6fb"/>
<rect x="336.74" y="757.55" width="11.61" height="8.59" fill="#c9dff1"/>
<rect x="348.05" y="757.55" width="11.61" height="8.59" fill="#b4d2ec"/>
<rect x="359.35" y="757.55" width="11.61" height="8.59" fill="#b4d2ec"/>
<rect x="370.66" y="757.55" width="11.61" height="8.59" fill="#f8d4d0"/>
<rect x="381.97" y="757.55" width="11.61" height="8.59" fill="#f4f6fb"/>
<rect x="393.27" y="757.55" width="11.61" height="8.59" fill="#f4f6fb"/>
<rect x="404.58" y="757.55" width="11.61" height="8.59" fill="#f4f6fb"/>
<rect x="415.89" y="757.55" width="11.61" height="8.59" fill="#deeaf6"/>
<rect x="427.19" y="757.55" width="11.61" height="8.59" fill="#f4f6fb"/>
<rect x="438.50" y="757.55" width="11.61" height="8.59" fill="#eb9290"/>
<rect x="449.81" y="757.55" width="11.61" height="8.59" fill="#e47070"/>
<rect x="461.11" y="757.55" width="11.61" height="8.59" fill="#e47070"/>
<rect x="268.90" y="765.84" width="11.61" height="8.59" fill="#86b8e1"/>
<rect x="280.21" y="765.84" width="11.61" height="8.59" fill="#6fa9db"/>
<rect x="291.51" y="765.84" width="11.61" height="8.59" fill="#9ec6e7"/>
<rect x="302.82" y="765.84" width="11.61" height="8.59" fill="#f4f6fb"/>
<rect x="314.13" y="765.84" width="11.61" height="8.59" fill="#f8edee"/>
<rect x="325.43" y="765.84" width="11.61" height="8.59" fill="#f4f6fb"/>
<rect x="336.74" y="765.84" width="11.61" height="8.59" fill="#f4f6fb"/>
<rect x="348.05" y="765.84" width="11.61" height="8.59" fill="#deeaf6"/>
<rect x="359.35" y="765.84" width="11.61" height="8.59" fill="#c9dff1"/>
<rect x="370.66" y="765.84" width="11.61" height="8.59" fill="#f0aaa8"/>
<rect x="381.97" y="765.84" width="11.61" height="8.59" fill="#fbe4e1"/>
<rect x="393.27" y="765.84" width="11.61" height="8.59" fill="#dc4f50"/>
<rect x="404.58" y="765.84" width="11.61" height="8.59" fill="#f4f6fb"/>
<rect x="415.89" y="765.84" width="11.61" height="8.59" fill="#b4d2ec"/>
<rect x="427.19" y="765.84" width="11.61" height="8.59" fill="#c9dff1"/>
<rect x="438.50" y="765.84" width="11.61" height="8.59" fill="#f0aaa8"/>
<rect x="449.81" y="765.84" width="11.61" height="8.59" fill="#cf3236"/>
<rect x="461.11" y="765.84" width="11.61" height="8.59" fill="#e47070"/>
<rect x="268.90" y="774.13" width="11.61" height="8.59" fill="#6fa9db"/>
<rect x="280.21" y="774.13" width="11.61" height="8.59" fill="#86b8e1"/>
<rect x="291.51" y="774.13" width="11.61" height="8.59" fill="#86b8e1"/>
<rect x="302.82" y="774.13" width="11.61" height="8.59" fill="#fbe4e1"/>
<rect x="314.13" y="774.13" width="11.61" height="8.59" fill="#f6c3bf"/>
<rect x="325.43" y="774.13" width="11.61" height="8.59" fill="#f4f6fb"/>
<rect x="336.74" y="774.13" width="11.61" height="8.59" fill="#b4d2ec"/>
<rect x="348.05" y="774.13" width="11.61" height="8.59" fill="#9ec6e7"/>
<rect x="359.35" y="774.13" width="11.61" height="8.59" fill="#b4d2ec"/>
<rect x="370.66" y="774.13" width="11.61" height="8.59" fill="#e47070"/>
<rect x="381.97" y="774.13" width="11.61" height="8.59" fill="#e47070"/>
<rect x="393.27" y="774.13" width="11.61" height="8.59" fill="#dc4f50"/>
<rect x="404.58" y="774.13" width="11.61" height="8.59" fill="#b4d2ec"/>
<rect x="415.89" y="774.13" width="11.61" height="8.59" fill="#9ec6e7"/>
<rect x="427.19" y="774.13" width="11.61" height="8.59" fill="#86b8e1"/>
<rect x="438.50" y="774.13" width="11.61" height="8.59" fill="#eb9290"/>
<rect x="449.81" y="774.13" width="11.61" height="8.59" fill="#e47070"/>
<rect x="461.11" y="774.13" width="11.61" height="8.59" fill="#e47070"/>
<rect x="268.90" y="782.42" width="11.61" height="8.59" fill="#86b8e1"/>
<rect x="280.21" y="782.42" width="11.61" height="8.59" fill="#86b8e1"/>
<rect x="291.51" y="782.42" width="11.61" height="8.59" fill="#86b8e1"/>
<rect x="302.82" y="782.42" width="11.61" height="8.59" fill="#f4f6fb"/>
<rect x="314.13" y="782.42" width="11.61" height="8.59" fill="#f4f6fb"/>
<rect x="325.43" y="782.42" width="11.61" height="8.59" fill="#f4f6fb"/>
<rect x="336.74" y="782.42" width="11.61" height="8.59" fill="#c9dff1"/>
<rect x="348.05" y="782.42" width="11.61" height="8.59" fill="#c9dff1"/>
<rect x="359.35" y="782.42" width="11.61" height="8.59" fill="#c9dff1"/>
<rect x="370.66" y="782.42" width="11.61" height="8.59" fill="#e47070"/>
<rect x="381.97" y="782.42" width="11.61" height="8.59" fill="#e47070"/>
<rect x="393.27" y="782.42" width="11.61" height="8.59" fill="#dc4f50"/>
<rect x="404.58" y="782.42" width="11.61" height="8.59" fill="#9ec6e7"/>
<rect x="415.89" y="782.42" width="11.61" height="8.59" fill="#deeaf6"/>
<rect x="427.19" y="782.42" width="11.61" height="8.59" fill="#9ec6e7"/>
<rect x="438.50" y="782.42" width="11.61" height="8.59" fill="#eb9290"/>
<rect x="449.81" y="782.42" width="11.61" height="8.59" fill="#e47070"/>
<rect x="461.11" y="782.42" width="11.61" height="8.59" fill="#e47070"/>
<rect x="268.90" y="790.71" width="11.61" height="8.59" fill="#6fa9db"/>
<rect x="280.21" y="790.71" width="11.61" height="8.59" fill="#86b8e1"/>
<rect x="291.51" y="790.71" width="11.61" height="8.59" fill="#86b8e1"/>
<rect x="302.82" y="790.71" width="11.61" height="8.59" fill="#f4f6fb"/>
<rect x="314.13" y="790.71" width="11.61" height="8.59" fill="#f4f6fb"/>
<rect x="325.43" y="790.71" width="11.61" height="8.59" fill="#fbe4e1"/>
<rect x="336.74" y="790.71" width="11.61" height="8.59" fill="#deeaf6"/>
<rect x="348.05" y="790.71" width="11.61" height="8.59" fill="#deeaf6"/>
<rect x="359.35" y="790.71" width="11.61" height="8.59" fill="#b4d2ec"/>
<rect x="370.66" y="790.71" width="11.61" height="8.59" fill="#eb9290"/>
<rect x="381.97" y="790.71" width="11.61" height="8.59" fill="#eb9290"/>
<rect x="393.27" y="790.71" width="11.61" height="8.59" fill="#dc4f50"/>
<rect x="404.58" y="790.71" width="11.61" height="8.59" fill="#b4d2ec"/>
<rect x="415.89" y="790.71" width="11.61" height="8.59" fill="#9ec6e7"/>
<rect x="427.19" y="790.71" width="11.61" height="8.59" fill="#86b8e1"/>
<rect x="438.50" y="790.71" width="11.61" height="8.59" fill="#f0aaa8"/>
<rect x="449.81" y="790.71" width="11.61" height="8.59" fill="#e47070"/>
<rect x="461.11" y="790.71" width="11.61" height="8.59" fill="#eb9290"/>
<rect x="268.90" y="799.00" width="11.61" height="8.59" fill="#b4d2ec"/>
<rect x="280.21" y="799.00" width="11.61" height="8.59" fill="#b4d2ec"/>
<rect x="291.51" y="799.00" width="11.61" height="8.59" fill="#c9dff1"/>
<rect x="302.82" y="799.00" width="11.61" height="8.59" fill="#f4f6fb"/>
<rect x="314.13" y="799.00" width="11.61" height="8.59" fill="#f6c3bf"/>
<rect x="325.43" y="799.00" width="11.61" height="8.59" fill="#f6c3bf"/>
<rect x="336.74" y="799.00" width="11.61" height="8.59" fill="#deeaf6"/>
<rect x="348.05" y="799.00" width="11.61" height="8.59" fill="#c9dff1"/>
<rect x="359.35" y="799.00" width="11.61" height="8.59" fill="#c9dff1"/>
<rect x="370.66" y="799.00" width="11.61" height="8.59" fill="#f6c3bf"/>
<rect x="381.97" y="799.00" width="11.61" height="8.59" fill="#f8d4d0"/>
<rect x="393.27" y="799.00" width="11.61" height="8.59" fill="#f0aaa8"/>
<rect x="404.58" y="799.00" width="11.61" height="8.59" fill="#b4d2ec"/>
<rect x="415.89" y="799.00" width="11.61" height="8.59" fill="#86b8e1"/>
<rect x="427.19" y="799.00" width="11.61" height="8.59" fill="#9ec6e7"/>
<rect x="438.50" y="799.00" width="11.61" height="8.59" fill="#f6c3bf"/>
<rect x="449.81" y="799.00" width="11.61" height="8.59" fill="#f0aaa8"/>
<rect x="461.11" y="799.00" width="11.61" height="8.59" fill="#f6c3bf"/>
<rect x="268.90" y="807.29" width="11.61" height="8.59" fill="#b4d2ec"/>
<rect x="280.21" y="807.29" width="11.61" height="8.59" fill="#9ec6e7"/>
<rect x="291.51" y="807.29" width="11.61" height="8.59" fill="#b4d2ec"/>
<rect x="302.82" y="807.29" width="11.61" height="8.59" fill="#fbe4e1"/>
<rect x="314.13" y="807.29" width="11.61" height="8.59" fill="#f6c3bf"/>
<rect x="325.43" y="807.29" width="11.61" height="8.59" fill="#f8d4d0"/>
<rect x="336.74" y="807.29" width="11.61" height="8.59" fill="#b4d2ec"/>
<rect x="348.05" y="807.29" width="11.61" height="8.59" fill="#9ec6e7"/>
<rect x="359.35" y="807.29" width="11.61" height="8.59" fill="#9ec6e7"/>
<rect x="370.66" y="807.29" width="11.61" height="8.59" fill="#f6c3bf"/>
<rect x="381.97" y="807.29" width="11.61" height="8.59" fill="#f0aaa8"/>
<rect x="393.27" y="807.29" width="11.61" height="8.59" fill="#eb9290"/>
<rect x="404.58" y="807.29" width="11.61" height="8.59" fill="#b4d2ec"/>
<rect x="415.89" y="807.29" width="11.61" height="8.59" fill="#9ec6e7"/>
<rect x="427.19" y="807.29" width="11.61" height="8.59" fill="#b4d2ec"/>
<rect x="438.50" y="807.29" width="11.61" height="8.59" fill="#f0aaa8"/>
<rect x="449.81" y="807.29" width="11.61" height="8.59" fill="#eb9290"/>
<rect x="461.11" y="807.29" width="11.61" height="8.59" fill="#eb9290"/>
<rect x="268.90" y="815.58" width="11.61" height="8.59" fill="#b4d2ec"/>
<rect x="280.21" y="815.58" width="11.61" height="8.59" fill="#b4d2ec"/>
<rect x="291.51" y="815.58" width="11.61" height="8.59" fill="#b4d2ec"/>
<rect x="302.82" y="815.58" width="11.61" height="8.59" fill="#f8d4d0"/>
<rect x="314.13" y="815.58" width="11.61" height="8.59" fill="#fbe4e1"/>
<rect x="325.43" y="815.58" width="11.61" height="8.59" fill="#c9dff1"/>
<rect x="336.74" y="815.58" width="11.61" height="8.59" fill="#b4d2ec"/>
<rect x="348.05" y="815.58" width="11.61" height="8.59" fill="#b4d2ec"/>
<rect x="359.35" y="815.58" width="11.61" height="8.59" fill="#b4d2ec"/>
<rect x="370.66" y="815.58" width="11.61" height="8.59" fill="#fbe4e1"/>
<rect x="381.97" y="815.58" width="11.61" height="8.59" fill="#f6c3bf"/>
<rect x="393.27" y="815.58" width="11.61" height="8.59" fill="#f0aaa8"/>
<rect x="404.58" y="815.58" width="11.61" height="8.59" fill="#f4f6fb"/>
<rect x="415.89" y="815.58" width="11.61" height="8.59" fill="#f8edee"/>
<rect x="427.19" y="815.58" width="11.61" height="8.59" fill="#f4f6fb"/>
<rect x="438.50" y="815.58" width="11.61" height="8.59" fill="#f4f6fb"/>
<rect x="449.81" y="815.58" width="11.61" height="8.59" fill="#f8d4d0"/>
<rect x="461.11" y="815.58" width="11.61" height="8.59" fill="#fbe4e1"/>
<rect x="268.90" y="823.87" width="11.61" height="8.59" fill="#86b8e1"/>
<rect x="280.21" y="823.87" width="11.61" height="8.59" fill="#86b8e1"/>
<rect x="291.51" y="823.87" width="11.61" height="8.59" fill="#86b8e1"/>
<rect x="302.82" y="823.87" width="11.61" height="8.59" fill="#f4f6fb"/>
<rect x="314.13" y="823.87" width="11.61" height="8.59" fill="#f4f6fb"/>
<rect x="325.43" y="823.87" width="11.61" height="8.59" fill="#f4f6fb"/>
<rect x="336.74" y="823.87" width="11.61" height="8.59" fill="#deeaf6"/>
<rect x="348.05" y="823.87" width="11.61" height="8.59" fill="#deeaf6"/>
<rect x="359.35" y="823.87" width="11.61" height="8.59" fill="#deeaf6"/>
<rect x="370.66" y="823.87" width="11.61" height="8.59" fill="#dc4f50"/>
<rect x="381.97" y="823.87" width="11.61" height="8.59" fill="#e47070"/>
<rect x="393.27" y="823.87" width="11.61" height="8.59" fill="#e47070"/>
<rect x="404.58" y="823.87" width="11.61" height="8.59" fill="#b4d2ec"/>
<rect x="415.89" y="823.87" width="11.61" height="8.59" fill="#b4d2ec"/>
<rect x="427.19" y="823.87" width="11.61" height="8.59" fill="#c9dff1"/>
<rect x="438.50" y="823.87" width="11.61" height="8.59" fill="#f0aaa8"/>
<rect x="449.81" y="823.87" width="11.61" height="8.59" fill="#f6c3bf"/>
<rect x="461.11" y="823.87" width="11.61" height="8.59" fill="#f6c3bf"/>
<rect x="268.90" y="832.16" width="11.61" height="8.59" fill="#2574c2"/>
<rect x="280.21" y="832.16" width="11.61" height="8.59" fill="#2574c2"/>
<rect x="291.51" y="832.16" width="11.61" height="8.59" fill="#3c88cd"/>
<rect x="302.82" y="832.16" width="11.61" height="8.59" fill="#f0aaa8"/>
<rect x="314.13" y="832.16" width="11.61" height="8.59" fill="#f0aaa8"/>
<rect x="325.43" y="832.16" width="11.61" height="8.59" fill="#f8d4d0"/>
<rect x="336.74" y="832.16" width="11.61" height="8.59" fill="#86b8e1"/>
<rect x="348.05" y="832.16" width="11.61" height="8.59" fill="#6fa9db"/>
<rect x="359.35" y="832.16" width="11.61" height="8.59" fill="#86b8e1"/>
<rect x="370.66" y="832.16" width="11.61" height="8.59" fill="#cf3236"/>
<rect x="381.97" y="832.16" width="11.61" height="8.59" fill="#cf3236"/>
<rect x="393.27" y="832.16" width="11.61" height="8.59" fill="#c2141b"/>
<rect x="404.58" y="832.16" width="11.61" height="8.59" fill="#86b8e1"/>
<rect x="415.89" y="832.16" width="11.61" height="8.59" fill="#5698d4"/>
<rect x="427.19" y="832.16" width="11.61" height="8.59" fill="#5698d4"/>
<rect x="438.50" y="832.16" width="11.61" height="8.59" fill="#cf3236"/>
<rect x="449.81" y="832.16" width="11.61" height="8.59" fill="#c2141b"/>
<rect x="461.11" y="832.16" width="11.61" height="8.59" fill="#c2141b"/>
<rect x="268.90" y="840.45" width="11.61" height="8.59" fill="#86b8e1"/>
<rect x="280.21" y="840.45" width="11.61" height="8.59" fill="#86b8e1"/>
<rect x="291.51" y="840.45" width="11.61" height="8.59" fill="#9ec6e7"/>
<rect x="302.82" y="840.45" width="11.61" height="8.59" fill="#9ec6e7"/>
<rect x="314.13" y="840.45" width="11.61" height="8.59" fill="#c9dff1"/>
<rect x="325.43" y="840.45" width="11.61" height="8.59" fill="#c9dff1"/>
<rect x="336.74" y="840.45" width="11.61" height="8.59" fill="#f8d4d0"/>
<rect x="348.05" y="840.45" width="11.61" height="8.59" fill="#f8edee"/>
<rect x="359.35" y="840.45" width="11.61" height="8.59" fill="#f4f6fb"/>
<rect x="370.66" y="840.45" width="11.61" height="8.59" fill="#f0aaa8"/>
<rect x="381.97" y="840.45" width="11.61" height="8.59" fill="#f0aaa8"/>
<rect x="393.27" y="840.45" width="11.61" height="8.59" fill="#e47070"/>
<rect x="404.58" y="840.45" width="11.61" height="8.59" fill="#c9dff1"/>
<rect x="415.89" y="840.45" width="11.61" height="8.59" fill="#b4d2ec"/>
<rect x="427.19" y="840.45" width="11.61" height="8.59" fill="#c9dff1"/>
<rect x="438.50" y="840.45" width="11.61" height="8.59" fill="#f6c3bf"/>
<rect x="449.81" y="840.45" width="11.61" height="8.59" fill="#fbe4e1"/>
<rect x="461.11" y="840.45" width="11.61" height="8.59" fill="#f6c3bf"/>
<rect x="268.90" y="848.74" width="11.61" height="8.59" fill="#6fa9db"/>
<rect x="280.21" y="848.74" width="11.61" height="8.59" fill="#6fa9db"/>
<rect x="291.51" y="848.74" width="11.61" height="8.59" fill="#86b8e1"/>
<rect x="302.82" y="848.74" width="11.61" height="8.59" fill="#b4d2ec"/>
<rect x="314.13" y="848.74" width="11.61" height="8.59" fill="#86b8e1"/>
<rect x="325.43" y="848.74" width="11.61" height="8.59" fill="#9ec6e7"/>
<rect x="336.74" y="848.74" width="11.61" height="8.59" fill="#f8d4d0"/>
<rect x="348.05" y="848.74" width="11.61" height="8.59" fill="#f8d4d0"/>
<rect x="359.35" y="848.74" width="11.61" height="8.59" fill="#f8edee"/>
<rect x="370.66" y="848.74" width="11.61" height="8.59" fill="#f0aaa8"/>
<rect x="381.97" y="848.74" width="11.61" height="8.59" fill="#f0aaa8"/>
<rect x="393.27" y="848.74" width="11.61" height="8.59" fill="#f6c3bf"/>
<rect x="404.58" y="848.74" width="11.61" height="8.59" fill="#f4f6fb"/>
<rect x="415.89" y="848.74" width="11.61" height="8.59" fill="#f4f6fb"/>
<rect x="427.19" y="848.74" width="11.61" height="8.59" fill="#deeaf6"/>
<rect x="438.50" y="848.74" width="11.61" height="8.59" fill="#eb9290"/>
<rect x="449.81" y="848.74" width="11.61" height="8.59" fill="#eb9290"/>
<rect x="461.11" y="848.74" width="11.61" height="8.59" fill="#f0aaa8"/>
<rect x="268.90" y="857.03" width="11.61" height="8.59" fill="#3c88cd"/>
<rect x="280.21" y="857.03" width="11.61" height="8.59" fill="#6fa9db"/>
<rect x="291.51" y="857.03" width="11.61" height="8.59" fill="#2574c2"/>
<rect x="302.82" y="857.03" width="11.61" height="8.59" fill="#fbe4e1"/>
<rect x="314.13" y="857.03" width="11.61" height="8.59" fill="#f8edee"/>
<rect x="325.43" y="857.03" width="11.61" height="8.59" fill="#f8edee"/>
<rect x="336.74" y="857.03" width="11.61" height="8.59" fill="#deeaf6"/>
<rect x="348.05" y="857.03" width="11.61" height="8.59" fill="#deeaf6"/>
<rect x="359.35" y="857.03" width="11.61" height="8.59" fill="#deeaf6"/>
<rect x="370.66" y="857.03" width="11.61" height="8.59" fill="#dc4f50"/>
<rect x="381.97" y="857.03" width="11.61" height="8.59" fill="#dc4f50"/>
<rect x="393.27" y="857.03" width="11.61" height="8.59" fill="#dc4f50"/>
<rect x="404.58" y="857.03" width="11.61" height="8.59" fill="#6fa9db"/>
<rect x="415.89" y="857.03" width="11.61" height="8.59" fill="#5698d4"/>
<rect x="427.19" y="857.03" width="11.61" height="8.59" fill="#6fa9db"/>
<rect x="438.50" y="857.03" width="11.61" height="8.59" fill="#eb9290"/>
<rect x="449.81" y="857.03" width="11.61" height="8.59" fill="#dc4f50"/>
<rect x="461.11" y="857.03" width="11.61" height="8.59" fill="#eb9290"/>
<rect x="268.90" y="865.32" width="11.61" height="8.59" fill="#9ec6e7"/>
<rect x="280.21" y="865.32" width="11.61" height="8.59" fill="#86b8e1"/>
<rect x="291.51" y="865.32" width="11.61" height="8.59" fill="#9ec6e7"/>
<rect x="302.82" y="865.32" width="11.61" height="8.59" fill="#f4f6fb"/>
<rect x="314.13" y="865.32" width="11.61" height="8.59" fill="#f8edee"/>
<rect x="325.43" y="865.32" width="11.61" height="8.59" fill="#f8edee"/>
<rect x="336.74" y="865.32" width="11.61" height="8.59" fill="#f4f6fb"/>
<rect x="348.05" y="865.32" width="11.61" height="8.59" fill="#deeaf6"/>
<rect x="359.35" y="865.32" width="11.61" height="8.59" fill="#9ec6e7"/>
<rect x="370.66" y="865.32" width="11.61" height="8.59" fill="#f0aaa8"/>
<rect x="381.97" y="865.32" width="11.61" height="8.59" fill="#f6c3bf"/>
<rect x="393.27" y="865.32" width="11.61" height="8.59" fill="#dc4f50"/>
<rect x="404.58" y="865.32" width="11.61" height="8.59" fill="#c9dff1"/>
<rect x="415.89" y="865.32" width="11.61" height="8.59" fill="#b4d2ec"/>
<rect x="427.19" y="865.32" width="11.61" height="8.59" fill="#c9dff1"/>
<rect x="438.50" y="865.32" width="11.61" height="8.59" fill="#eb9290"/>
<rect x="449.81" y="865.32" width="11.61" height="8.59" fill="#e47070"/>
<rect x="461.11" y="865.32" width="11.61" height="8.59" fill="#eb9290"/>
<rect x="268.90" y="873.61" width="11.61" height="8.59" fill="#deeaf6"/>
<rect x="280.21" y="873.61" width="11.61" height="8.59" fill="#9ec6e7"/>
<rect x="291.51" y="873.61" width="11.61" height="8.59" fill="#c9dff1"/>
<rect x="302.82" y="873.61" width="11.61" height="8.59" fill="#f4f6fb"/>
<rect x="314.13" y="873.61" width="11.61" height="8.59" fill="#f8edee"/>
<rect x="325.43" y="873.61" width="11.61" height="8.59" fill="#f4f6fb"/>
<rect x="336.74" y="873.61" width="11.61" height="8.59" fill="#f8edee"/>
<rect x="348.05" y="873.61" width="11.61" height="8.59" fill="#deeaf6"/>
<rect x="359.35" y="873.61" width="11.61" height="8.59" fill="#c9dff1"/>
<rect x="370.66" y="873.61" width="11.61" height="8.59" fill="#fbe4e1"/>
<rect x="381.97" y="873.61" width="11.61" height="8.59" fill="#f8d4d0"/>
<rect x="393.27" y="873.61" width="11.61" height="8.59" fill="#f6c3bf"/>
<rect x="404.58" y="873.61" width="11.61" height="8.59" fill="#c9dff1"/>
<rect x="415.89" y="873.61" width="11.61" height="8.59" fill="#b4d2ec"/>
<rect x="427.19" y="873.61" width="11.61" height="8.59" fill="#deeaf6"/>
<rect x="438.50" y="873.61" width="11.61" height="8.59" fill="#f0aaa8"/>
<rect x="449.81" y="873.61" width="11.61" height="8.59" fill="#f6c3bf"/>
<rect x="461.11" y="873.61" width="11.61" height="8.59" fill="#f6c3bf"/>
<rect x="268.90" y="881.90" width="11.61" height="8.59" fill="#c9dff1"/>
<rect x="280.21" y="881.90" width="11.61" height="8.59" fill="#b4d2ec"/>
<rect x="291.51" y="881.90" width="11.61" height="8.59" fill="#9ec6e7"/>
<rect x="302.82" y="881.90" width="11.61" height="8.59" fill="#f8edee"/>
<rect x="314.13" y="881.90" width="11.61" height="8.59" fill="#f8edee"/>
<rect x="325.43" y="881.90" width="11.61" height="8.59" fill="#f8edee"/>
<rect x="336.74" y="881.90" width="11.61" height="8.59" fill="#f4f6fb"/>
<rect x="348.05" y="881.90" width="11.61" height="8.59" fill="#deeaf6"/>
<rect x="359.35" y="881.90" width="11.61" height="8.59" fill="#c9dff1"/>
<rect x="370.66" y="881.90" width="11.61" height="8.59" fill="#f0aaa8"/>
<rect x="381.97" y="881.90" width="11.61" height="8.59" fill="#eb9290"/>
<rect x="393.27" y="881.90" width="11.61" height="8.59" fill="#eb9290"/>
<rect x="404.58" y="881.90" width="11.61" height="8.59" fill="#9ec6e7"/>
<rect x="415.89" y="881.90" width="11.61" height="8.59" fill="#b4d2ec"/>
<rect x="427.19" y="881.90" width="11.61" height="8.59" fill="#deeaf6"/>
<rect x="438.50" y="881.90" width="11.61" height="8.59" fill="#f6c3bf"/>
<rect x="449.81" y="881.90" width="11.61" height="8.59" fill="#f6c3bf"/>
<rect x="461.11" y="881.90" width="11.61" height="8.59" fill="#f8d4d0"/>
</g>
<line x1="268.90" y1="466.90" x2="268.90" y2="890.69" stroke="#111" stroke-width="1.1"/>
<line x1="302.82" y1="466.90" x2="302.82" y2="890.69" stroke="#111" stroke-width="1.1"/>
<line x1="336.74" y1="466.90" x2="336.74" y2="890.69" stroke="#111" stroke-width="1.1"/>
<line x1="370.66" y1="466.90" x2="370.66" y2="890.69" stroke="#111" stroke-width="1.1"/>
<line x1="404.58" y1="466.90" x2="404.58" y2="890.69" stroke="#111" stroke-width="1.1"/>
<line x1="438.50" y1="466.90" x2="438.50" y2="890.69" stroke="#111" stroke-width="1.1"/>
<line x1="472.42" y1="466.90" x2="472.42" y2="890.69" stroke="#111" stroke-width="1.1"/>
<line x1="268.90" y1="467.40" x2="472.42" y2="467.40" stroke="#111" stroke-width="1.1"/>
<line x1="268.90" y1="890.19" x2="472.42" y2="890.19" stroke="#111" stroke-width="1.1"/>
<text x="477.30" y="474.24" font-size="7.85" font-style="italic" fill="#161616" stroke="#161616" stroke-width="0.12">Calcoco1</text>
<text x="477.30" y="482.53" font-size="7.85" font-style="italic" fill="#161616" stroke="#161616" stroke-width="0.12">Crip2</text>
<text x="477.30" y="490.82" font-size="7.85" font-style="italic" fill="#161616" stroke="#161616" stroke-width="0.12">Mdm2</text>
<text x="477.30" y="499.11" font-size="7.85" font-style="italic" fill="#161616" stroke="#161616" stroke-width="0.12">Ctsd</text>
<text x="477.30" y="507.40" font-size="7.85" font-style="italic" fill="#161616" stroke="#161616" stroke-width="0.12">Cpeb2</text>
<text x="477.30" y="515.70" font-size="7.85" font-style="italic" fill="#161616" stroke="#161616" stroke-width="0.12">Wbscr27</text>
<text x="477.30" y="523.99" font-size="7.85" font-style="italic" fill="#161616" stroke="#161616" stroke-width="0.12">Rb1</text>
<text x="477.30" y="532.27" font-size="7.85" font-style="italic" fill="#161616" stroke="#161616" stroke-width="0.12">Vps41</text>
<text x="477.30" y="540.57" font-size="7.85" font-style="italic" fill="#161616" stroke="#161616" stroke-width="0.12">Dgka</text>
<text x="477.30" y="548.86" font-size="7.85" font-style="italic" fill="#161616" stroke="#161616" stroke-width="0.12">Nav2</text>
<text x="477.30" y="557.14" font-size="7.85" font-style="italic" fill="#161616" stroke="#161616" stroke-width="0.12">Hes6</text>
<text x="477.30" y="565.43" font-size="7.85" font-style="italic" fill="#161616" stroke="#161616" stroke-width="0.12">Rap2b</text>
<text x="477.30" y="573.73" font-size="7.85" font-style="italic" fill="#161616" stroke="#161616" stroke-width="0.12">Scmh1</text>
<text x="477.30" y="582.01" font-size="7.85" font-style="italic" fill="#161616" stroke="#161616" stroke-width="0.12">Cpe</text>
<text x="477.30" y="590.30" font-size="7.85" font-style="italic" fill="#161616" stroke="#161616" stroke-width="0.12">Prss12</text>
<text x="477.30" y="598.60" font-size="7.85" font-style="italic" fill="#161616" stroke="#161616" stroke-width="0.12">Tmtc3</text>
<text x="477.30" y="606.88" font-size="7.85" font-style="italic" fill="#161616" stroke="#161616" stroke-width="0.12">Ak1</text>
<text x="477.30" y="615.17" font-size="7.85" font-style="italic" fill="#161616" stroke="#161616" stroke-width="0.12">Mdm4</text>
<text x="477.30" y="623.46" font-size="7.85" font-style="italic" fill="#161616" stroke="#161616" stroke-width="0.12">Ccdc122</text>
<text x="477.30" y="631.75" font-size="7.85" font-style="italic" fill="#161616" stroke="#161616" stroke-width="0.12">Ptges</text>
<text x="477.30" y="640.04" font-size="7.85" font-style="italic" fill="#161616" stroke="#161616" stroke-width="0.12">Btbd19</text>
<text x="477.30" y="648.34" font-size="7.85" font-style="italic" fill="#161616" stroke="#161616" stroke-width="0.12">Dusp4</text>
<text x="477.30" y="656.62" font-size="7.85" font-style="italic" fill="#161616" stroke="#161616" stroke-width="0.12">Nceh1</text>
<text x="477.30" y="664.91" font-size="7.85" font-style="italic" fill="#161616" stroke="#161616" stroke-width="0.12">Micall1</text>
<text x="477.30" y="673.20" font-size="7.85" font-style="italic" fill="#161616" stroke="#161616" stroke-width="0.12">Blcap</text>
<text x="477.30" y="681.50" font-size="7.85" font-style="italic" fill="#161616" stroke="#161616" stroke-width="0.12">Trp53inp1</text>
<text x="477.30" y="689.78" font-size="7.85" font-style="italic" fill="#161616" stroke="#161616" stroke-width="0.12">Aldh4a1</text>
<text x="477.30" y="698.08" font-size="7.85" font-style="italic" fill="#161616" stroke="#161616" stroke-width="0.12">Baz2b</text>
<text x="477.30" y="706.37" font-size="7.85" font-style="italic" fill="#161616" stroke="#161616" stroke-width="0.12">Ptpn14</text>
<text x="477.30" y="714.65" font-size="7.85" font-style="italic" fill="#161616" stroke="#161616" stroke-width="0.12">Rhod</text>
<text x="477.30" y="722.94" font-size="7.85" font-style="italic" fill="#161616" stroke="#161616" stroke-width="0.12">Rgs12</text>
<text x="477.30" y="731.23" font-size="7.85" font-style="italic" fill="#161616" stroke="#161616" stroke-width="0.12">Nfe2l2</text>
<text x="477.30" y="739.52" font-size="7.85" font-style="italic" fill="#161616" stroke="#161616" stroke-width="0.12">Sgk1</text>
<text x="477.30" y="747.82" font-size="7.85" font-style="italic" fill="#161616" stroke="#161616" stroke-width="0.12">Tpd52</text>
<text x="477.30" y="756.11" font-size="7.85" font-style="italic" fill="#161616" stroke="#161616" stroke-width="0.12">Mybl1</text>
<text x="477.30" y="764.39" font-size="7.85" font-style="italic" fill="#161616" stroke="#161616" stroke-width="0.12">Steap3</text>
<text x="477.30" y="772.68" font-size="7.85" font-style="italic" fill="#161616" stroke="#161616" stroke-width="0.12">Slc35e3</text>
<text x="477.30" y="780.97" font-size="7.85" font-style="italic" fill="#161616" stroke="#161616" stroke-width="0.12">Phlda3</text>
<text x="477.30" y="789.26" font-size="7.85" font-style="italic" fill="#161616" stroke="#161616" stroke-width="0.12">Gss</text>
<text x="477.30" y="797.55" font-size="7.85" font-style="italic" fill="#161616" stroke="#161616" stroke-width="0.12">Zfp219</text>
<text x="477.30" y="805.85" font-size="7.85" font-style="italic" fill="#161616" stroke="#161616" stroke-width="0.12">Ypel5</text>
<text x="477.30" y="814.13" font-size="7.85" font-style="italic" fill="#161616" stroke="#161616" stroke-width="0.12">Tmem184c</text>
<text x="477.30" y="822.42" font-size="7.85" font-style="italic" fill="#161616" stroke="#161616" stroke-width="0.12">Gna11</text>
<text x="477.30" y="830.71" font-size="7.85" font-style="italic" fill="#161616" stroke="#161616" stroke-width="0.12">Pdgfa</text>
<text x="477.30" y="839.00" font-size="7.85" font-style="italic" fill="#161616" stroke="#161616" stroke-width="0.12">Cdkn1a</text>
<text x="477.30" y="847.29" font-size="7.85" font-style="italic" fill="#161616" stroke="#161616" stroke-width="0.12">Peak1</text>
<text x="477.30" y="855.59" font-size="7.85" font-style="italic" fill="#161616" stroke="#161616" stroke-width="0.12">Met</text>
<text x="477.30" y="863.88" font-size="7.85" font-style="italic" fill="#161616" stroke="#161616" stroke-width="0.12">Flrt3</text>
<text x="477.30" y="872.16" font-size="7.85" font-style="italic" fill="#161616" stroke="#161616" stroke-width="0.12">Csnk1g1</text>
<text x="477.30" y="880.45" font-size="7.85" font-style="italic" fill="#161616" stroke="#161616" stroke-width="0.12">Apc</text>
<text x="477.30" y="888.74" font-size="7.85" font-style="italic" fill="#161616" stroke="#161616" stroke-width="0.12">Mast4</text>
<defs><linearGradient id="cb" x1="0" x2="1" y1="0" y2="0"><stop offset="0" stop-color="#1765bb"/><stop offset="0.25" stop-color="#6fa9db"/><stop offset="0.47" stop-color="#f4f6fb"/><stop offset="0.53" stop-color="#fbeeee"/><stop offset="0.75" stop-color="#eb9290"/><stop offset="1" stop-color="#c2141b"/></linearGradient></defs>
<rect x="337.70" y="897.30" width="110.80" height="14.70" fill="url(#cb)" stroke="#111" stroke-width="1.1"/>
<line x1="353.00" y1="897.30" x2="353.00" y2="899.80" stroke="#111" stroke-width="1"/>
<line x1="353.00" y1="909.50" x2="353.00" y2="912.00" stroke="#111" stroke-width="1"/>
<text x="353.00" y="920.80" font-size="8.7" text-anchor="middle" fill="#161616" stroke="#161616" stroke-width="0.28">–2</text>
<line x1="389.60" y1="897.30" x2="389.60" y2="899.80" stroke="#111" stroke-width="1"/>
<line x1="389.60" y1="909.50" x2="389.60" y2="912.00" stroke="#111" stroke-width="1"/>
<text x="389.60" y="920.80" font-size="8.7" text-anchor="middle" fill="#161616" stroke="#161616" stroke-width="0.28">0</text>
<line x1="426.20" y1="897.30" x2="426.20" y2="899.80" stroke="#111" stroke-width="1"/>
<line x1="426.20" y1="909.50" x2="426.20" y2="912.00" stroke="#111" stroke-width="1"/>
<text x="426.20" y="920.80" font-size="8.7" text-anchor="middle" fill="#161616" stroke="#161616" stroke-width="0.28">2</text>
<text x="293.50" y="908.80" font-size="8.7" fill="#161616" stroke="#161616" stroke-width="0.28">Log<tspan font-size="5.8" dy="1.8">2</tspan><tspan dy="-1.8"> (fold)</tspan></text></svg></body></html>
